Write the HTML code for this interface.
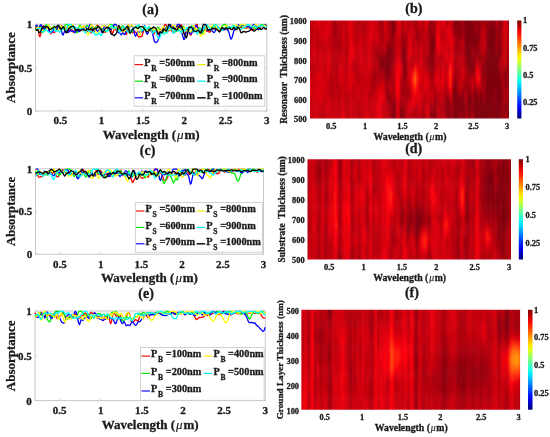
<!DOCTYPE html>
<html><head><meta charset="utf-8"><style>
html,body{margin:0;padding:0;background:#fff;}
svg{display:block;filter:blur(0.35px);}
text{font-family:'Liberation Serif', 'Times New Roman', serif;font-weight:bold;fill:#1a1a1a;stroke:#1a1a1a;stroke-width:0.3px;}
</style></head><body>
<svg width="550" height="437" viewBox="0 0 550 437">
<rect width="550" height="437" fill="#fff"/>
<rect x="35.5" y="24.2" width="231.3" height="86.8" fill="#fff" stroke="#c8c8c8" stroke-width="1"/>
<line x1="60.28" y1="111.0" x2="60.28" y2="109.0" stroke="#c8c8c8" stroke-width="0.8"/>
<line x1="60.28" y1="24.2" x2="60.28" y2="26.2" stroke="#c8c8c8" stroke-width="0.8"/>
<line x1="101.59" y1="111.0" x2="101.59" y2="109.0" stroke="#c8c8c8" stroke-width="0.8"/>
<line x1="101.59" y1="24.2" x2="101.59" y2="26.2" stroke="#c8c8c8" stroke-width="0.8"/>
<line x1="142.89" y1="111.0" x2="142.89" y2="109.0" stroke="#c8c8c8" stroke-width="0.8"/>
<line x1="142.89" y1="24.2" x2="142.89" y2="26.2" stroke="#c8c8c8" stroke-width="0.8"/>
<line x1="184.19" y1="111.0" x2="184.19" y2="109.0" stroke="#c8c8c8" stroke-width="0.8"/>
<line x1="184.19" y1="24.2" x2="184.19" y2="26.2" stroke="#c8c8c8" stroke-width="0.8"/>
<line x1="225.50" y1="111.0" x2="225.50" y2="109.0" stroke="#c8c8c8" stroke-width="0.8"/>
<line x1="225.50" y1="24.2" x2="225.50" y2="26.2" stroke="#c8c8c8" stroke-width="0.8"/>
<line x1="266.80" y1="111.0" x2="266.80" y2="109.0" stroke="#c8c8c8" stroke-width="0.8"/>
<line x1="266.80" y1="24.2" x2="266.80" y2="26.2" stroke="#c8c8c8" stroke-width="0.8"/>
<line x1="35.5" y1="111.00" x2="37.5" y2="111.00" stroke="#c8c8c8" stroke-width="0.8"/>
<line x1="266.8" y1="111.00" x2="264.8" y2="111.00" stroke="#c8c8c8" stroke-width="0.8"/>
<line x1="35.5" y1="67.60" x2="37.5" y2="67.60" stroke="#c8c8c8" stroke-width="0.8"/>
<line x1="266.8" y1="67.60" x2="264.8" y2="67.60" stroke="#c8c8c8" stroke-width="0.8"/>
<line x1="35.5" y1="24.20" x2="37.5" y2="24.20" stroke="#c8c8c8" stroke-width="0.8"/>
<line x1="266.8" y1="24.20" x2="264.8" y2="24.20" stroke="#c8c8c8" stroke-width="0.8"/>
<polyline points="35.5,29.1 36.4,27.1 37.3,25.8 38.2,29.3 39.1,35.5 40.0,36.8 40.9,33.4 41.8,30.3 42.6,28.0 43.5,25.8 44.4,26.1 45.3,29.0 46.2,28.8 47.1,26.1 48.0,26.2 48.9,29.1 49.8,32.6 50.7,33.9 51.6,32.1 52.5,31.4 53.4,32.5 54.3,32.5 55.1,31.7 56.0,31.3 56.9,30.1 57.8,29.0 58.7,28.9 59.6,28.3 60.5,26.5 61.4,25.7 62.3,27.2 63.2,28.6 64.1,28.3 65.0,28.0 65.9,28.2 66.8,28.5 67.6,28.3 68.5,29.6 69.4,31.5 70.3,30.9 71.2,29.5 72.1,30.0 73.0,31.9 73.9,32.3 74.8,30.7 75.7,29.2 76.6,28.2 77.5,29.0 78.4,30.2 79.3,28.4 80.2,26.8 81.0,28.2 81.9,29.0 82.8,27.4 83.7,26.1 84.6,27.0 85.5,30.1 86.4,32.3 87.3,31.4 88.2,29.2 89.1,28.1 90.0,30.0 90.9,33.0 91.8,32.0 92.7,28.3 93.5,27.2 94.4,28.4 95.3,28.2 96.2,26.7 97.1,25.4 98.0,25.3 98.9,26.6 99.8,28.0 100.7,28.5 101.6,30.0 102.5,32.5 103.4,32.5 104.3,32.0 105.2,32.3 106.1,31.7 106.9,30.8 107.8,30.0 108.7,29.6 109.6,28.7 110.5,28.3 111.4,30.6 112.3,33.4 113.2,32.3 114.1,28.9 115.0,28.7 115.9,30.0 116.8,29.7 117.7,28.3 118.6,27.4 119.4,28.1 120.3,29.6 121.2,30.4 122.1,30.4 123.0,29.6 123.9,27.6 124.8,28.6 125.7,33.5 126.6,34.5 127.5,28.9 128.4,25.9 129.3,29.5 130.2,32.3 131.1,32.0 131.9,32.4 132.8,32.8 133.7,32.0 134.6,31.4 135.5,32.0 136.4,33.1 137.3,34.8 138.2,36.5 139.1,37.1 140.0,36.9 140.9,36.6 141.8,36.3 142.7,33.8 143.6,30.1 144.5,29.1 145.3,29.4 146.2,29.7 147.1,30.4 148.0,30.1 148.9,29.4 149.8,30.1 150.7,30.9 151.6,30.9 152.5,32.4 153.4,34.2 154.3,33.6 155.2,30.6 156.1,29.0 157.0,31.0 157.8,33.7 158.7,34.5 159.6,31.8 160.5,29.3 161.4,29.9 162.3,30.5 163.2,28.9 164.1,26.3 165.0,24.5 165.9,24.5 166.8,27.0 167.7,30.2 168.6,30.9 169.5,30.3 170.4,29.8 171.2,30.2 172.1,31.6 173.0,32.4 173.9,31.7 174.8,32.0 175.7,31.5 176.6,28.2 177.5,25.7 178.4,26.6 179.3,28.2 180.2,26.8 181.1,24.5 182.0,26.0 182.9,31.1 183.7,33.3 184.6,33.5 185.5,33.5 186.4,31.9 187.3,29.2 188.2,27.5 189.1,30.1 190.0,34.6 190.9,35.2 191.8,32.8 192.7,29.4 193.6,28.0 194.5,28.7 195.4,27.8 196.2,24.5 197.1,24.5 198.0,28.2 198.9,30.7 199.8,31.6 200.7,31.9 201.6,30.5 202.5,28.9 203.4,29.8 204.3,30.3 205.2,30.1 206.1,30.6 207.0,31.2 207.9,31.4 208.8,31.8 209.6,32.2 210.5,31.6 211.4,30.5 212.3,29.7 213.2,29.0 214.1,28.2 215.0,27.8 215.9,28.4 216.8,29.5 217.7,30.3 218.6,30.8 219.5,30.4 220.4,29.8 221.3,29.9 222.1,29.3 223.0,27.8 223.9,27.6 224.8,29.1 225.7,29.8 226.6,28.7 227.5,28.1 228.4,28.4 229.3,28.3 230.2,28.8 231.1,29.1 232.0,28.4 232.9,27.8 233.8,28.0 234.7,27.8 235.5,27.0 236.4,28.0 237.3,28.8 238.2,28.0 239.1,27.2 240.0,27.2 240.9,27.3 241.8,27.3 242.7,27.4 243.6,27.4 244.5,27.4 245.4,28.0 246.3,28.3 247.2,27.5 248.0,27.0 248.9,27.6 249.8,28.2 250.7,28.8 251.6,30.0 252.5,30.1 253.4,29.5 254.3,29.0 255.2,28.0 256.1,26.8 257.0,26.8 257.9,27.9 258.8,28.6 259.7,28.6 260.5,27.5 261.4,25.6 262.3,26.1 263.2,27.0 264.1,26.9 265.0,27.7 265.9,28.3 266.8,26.9" fill="none" stroke="#ff0000" stroke-width="1.3" stroke-linejoin="round"/>
<polyline points="35.5,27.0 36.4,26.4 37.3,26.6 38.2,27.3 39.1,27.4 40.0,25.8 40.9,26.2 41.8,30.1 42.6,32.7 43.5,31.3 44.4,28.0 45.3,25.8 46.2,24.9 47.1,25.1 48.0,26.0 48.9,26.7 49.8,27.0 50.7,27.7 51.6,28.9 52.5,28.5 53.4,26.4 54.3,25.9 55.1,28.2 56.0,29.9 56.9,28.8 57.8,27.0 58.7,26.4 59.6,27.1 60.5,27.8 61.4,26.8 62.3,26.8 63.2,28.0 64.1,27.2 65.0,25.5 65.9,24.5 66.8,24.5 67.6,24.5 68.5,25.0 69.4,27.7 70.3,28.4 71.2,27.8 72.1,27.7 73.0,27.9 73.9,27.8 74.8,28.5 75.7,31.0 76.6,33.1 77.5,32.0 78.4,28.3 79.3,25.6 80.2,25.2 81.0,26.7 81.9,28.0 82.8,28.1 83.7,29.0 84.6,30.0 85.5,28.4 86.4,25.7 87.3,25.3 88.2,26.6 89.1,28.0 90.0,28.0 90.9,27.4 91.8,28.0 92.7,29.1 93.5,29.5 94.4,28.9 95.3,27.4 96.2,26.5 97.1,26.5 98.0,26.6 98.9,27.5 99.8,28.6 100.7,29.2 101.6,29.0 102.5,28.8 103.4,29.4 104.3,30.3 105.2,31.0 106.1,31.7 106.9,31.5 107.8,29.5 108.7,26.8 109.6,24.8 110.5,24.5 111.4,24.5 112.3,24.7 113.2,26.0 114.1,26.3 115.0,27.2 115.9,28.1 116.8,29.1 117.7,30.1 118.6,30.3 119.4,29.2 120.3,28.6 121.2,27.8 122.1,25.9 123.0,25.9 123.9,27.8 124.8,29.3 125.7,29.1 126.6,28.0 127.5,27.0 128.4,27.5 129.3,29.3 130.2,30.8 131.1,31.7 131.9,32.1 132.8,31.0 133.7,28.8 134.6,26.8 135.5,26.7 136.4,28.0 137.3,28.2 138.2,27.0 139.1,25.9 140.0,26.7 140.9,28.8 141.8,30.6 142.7,30.9 143.6,30.1 144.5,29.7 145.3,30.2 146.2,30.7 147.1,29.9 148.0,28.4 148.9,27.1 149.8,27.2 150.7,28.4 151.6,29.9 152.5,30.5 153.4,30.8 154.3,30.6 155.2,29.9 156.1,29.1 157.0,27.9 157.8,27.0 158.7,27.6 159.6,29.9 160.5,31.9 161.4,32.4 162.3,32.5 163.2,32.1 164.1,30.4 165.0,29.2 165.9,28.3 166.8,27.1 167.7,27.1 168.6,28.6 169.5,29.7 170.4,29.3 171.2,29.0 172.1,28.8 173.0,28.2 173.9,29.4 174.8,31.4 175.7,31.6 176.6,30.0 177.5,28.1 178.4,28.3 179.3,30.5 180.2,31.1 181.1,29.8 182.0,27.8 182.9,26.2 183.7,26.5 184.6,28.2 185.5,30.1 186.4,31.0 187.3,29.6 188.2,28.3 189.1,28.8 190.0,28.8 190.9,26.8 191.8,25.6 192.7,27.3 193.6,29.0 194.5,29.5 195.4,30.4 196.2,30.1 197.1,29.1 198.0,28.5 198.9,28.1 199.8,27.8 200.7,29.7 201.6,32.9 202.5,33.4 203.4,30.5 204.3,27.9 205.2,28.0 206.1,29.2 207.0,29.6 207.9,29.4 208.8,29.6 209.6,30.2 210.5,29.7 211.4,27.8 212.3,26.8 213.2,26.5 214.1,25.3 215.0,26.0 215.9,28.3 216.8,29.0 217.7,27.7 218.6,27.2 219.5,28.2 220.4,28.4 221.3,27.4 222.1,26.6 223.0,25.0 223.9,24.5 224.8,24.5 225.7,24.5 226.6,25.8 227.5,27.2 228.4,28.2 229.3,28.3 230.2,28.4 231.1,28.9 232.0,28.4 232.9,26.9 233.8,26.0 234.7,25.7 235.5,26.1 236.4,27.6 237.3,28.9 238.2,28.9 239.1,27.4 240.0,26.1 240.9,25.8 241.8,26.4 242.7,27.4 243.6,27.9 244.5,27.8 245.4,26.6 246.3,25.0 247.2,25.1 248.0,26.5 248.9,27.4 249.8,27.6 250.7,27.6 251.6,27.5 252.5,27.7 253.4,27.9 254.3,28.0 255.2,28.4 256.1,28.9 257.0,29.2 257.9,28.6 258.8,27.7 259.7,26.6 260.5,25.2 261.4,24.5 262.3,24.5 263.2,25.1 264.1,25.4 265.0,25.2 265.9,24.8 266.8,25.3" fill="none" stroke="#00ee00" stroke-width="1.3" stroke-linejoin="round"/>
<polyline points="35.5,26.3 36.4,25.1 37.3,26.2 38.2,28.2 39.1,27.9 40.0,25.5 40.9,24.6 41.8,26.4 42.6,27.7 43.5,28.1 44.4,29.1 45.3,28.5 46.2,26.7 47.1,26.2 48.0,27.5 48.9,30.2 49.8,32.2 50.7,31.7 51.6,32.1 52.5,32.1 53.4,29.8 54.3,28.5 55.1,29.8 56.0,30.8 56.9,29.5 57.8,27.0 58.7,25.2 59.6,25.7 60.5,27.8 61.4,30.7 62.3,34.2 63.2,35.1 64.1,32.4 65.0,30.1 65.9,30.1 66.8,31.0 67.6,32.1 68.5,32.4 69.4,30.3 70.3,29.7 71.2,31.2 72.1,31.4 73.0,30.7 73.9,31.3 74.8,32.7 75.7,31.4 76.6,28.4 77.5,28.8 78.4,31.6 79.3,31.5 80.2,29.5 81.0,28.0 81.9,27.6 82.8,28.9 83.7,29.6 84.6,28.7 85.5,27.3 86.4,28.2 87.3,30.3 88.2,29.8 89.1,26.3 90.0,24.5 90.9,24.5 91.8,24.9 92.7,27.2 93.5,30.1 94.4,31.3 95.3,30.1 96.2,29.3 97.1,30.8 98.0,31.4 98.9,30.0 99.8,28.6 100.7,29.5 101.6,32.3 102.5,32.8 103.4,29.4 104.3,26.0 105.2,25.6 106.1,27.2 106.9,28.4 107.8,28.5 108.7,28.2 109.6,28.4 110.5,29.2 111.4,29.2 112.3,28.3 113.2,26.7 114.1,24.5 115.0,24.5 115.9,24.5 116.8,26.0 117.7,31.1 118.6,32.7 119.4,32.5 120.3,33.8 121.2,34.9 122.1,33.2 123.0,32.4 123.9,34.2 124.8,34.6 125.7,32.6 126.6,29.3 127.5,25.9 128.4,24.6 129.3,25.9 130.2,26.8 131.1,26.2 131.9,25.4 132.8,26.4 133.7,29.9 134.6,34.2 135.5,36.2 136.4,34.8 137.3,32.0 138.2,31.2 139.1,32.1 140.0,32.1 140.9,31.6 141.8,32.1 142.7,31.0 143.6,27.4 144.5,25.5 145.3,28.3 146.2,32.3 147.1,34.3 148.0,33.2 148.9,30.0 149.8,28.4 150.7,29.1 151.6,30.7 152.5,33.1 153.4,37.1 154.3,41.1 155.2,42.5 156.1,42.4 157.0,42.2 157.8,41.0 158.7,38.4 159.6,34.6 160.5,31.6 161.4,30.6 162.3,29.5 163.2,27.4 164.1,26.3 165.0,27.8 165.9,30.5 166.8,30.7 167.7,29.8 168.6,28.5 169.5,26.4 170.4,25.2 171.2,25.4 172.1,25.8 173.0,26.5 173.9,28.1 174.8,29.0 175.7,28.4 176.6,26.7 177.5,24.5 178.4,24.5 179.3,24.5 180.2,27.6 181.1,31.0 182.0,33.4 182.9,36.5 183.7,39.5 184.6,39.1 185.5,35.2 186.4,31.3 187.3,29.7 188.2,29.8 189.1,31.6 190.0,33.5 190.9,34.0 191.8,32.8 192.7,30.0 193.6,27.6 194.5,26.8 195.4,25.9 196.2,25.4 197.1,26.9 198.0,29.4 198.9,31.8 199.8,32.9 200.7,32.5 201.6,31.9 202.5,30.0 203.4,28.1 204.3,27.6 205.2,29.0 206.1,30.2 207.0,30.2 207.9,30.1 208.8,29.8 209.6,29.4 210.5,29.5 211.4,30.2 212.3,31.0 213.2,32.0 214.1,32.6 215.0,31.6 215.9,29.4 216.8,27.1 217.7,27.3 218.6,29.2 219.5,29.4 220.4,29.1 221.3,28.9 222.1,28.6 223.0,29.4 223.9,30.1 224.8,29.3 225.7,28.5 226.6,28.9 227.5,30.0 228.4,31.1 229.3,33.7 230.2,37.4 231.1,39.1 232.0,37.9 232.9,34.5 233.8,30.8 234.7,29.4 235.5,29.6 236.4,28.7 237.3,26.4 238.2,24.8 239.1,25.4 240.0,26.1 240.9,25.9 241.8,25.0 242.7,24.6 243.6,25.3 244.5,25.8 245.4,26.1 246.3,26.5 247.2,26.5 248.0,25.8 248.9,26.2 249.8,27.5 250.7,28.4 251.6,27.8 252.5,26.1 253.4,24.7 254.3,24.5 255.2,24.7 256.1,26.2 257.0,28.0 257.9,29.3 258.8,29.7 259.7,29.0 260.5,27.0 261.4,25.6 262.3,25.8 263.2,25.9 264.1,24.8 265.0,24.5 265.9,25.5 266.8,26.5" fill="none" stroke="#0000ff" stroke-width="1.3" stroke-linejoin="round"/>
<polyline points="35.5,31.0 36.4,29.9 37.3,28.2 38.2,27.0 39.1,27.7 40.0,29.9 40.9,30.6 41.8,30.0 42.6,30.4 43.5,31.6 44.4,31.1 45.3,30.2 46.2,29.4 47.1,27.5 48.0,25.7 48.9,25.2 49.8,26.6 50.7,29.3 51.6,30.2 52.5,28.5 53.4,26.6 54.3,26.9 55.1,29.1 56.0,30.8 56.9,31.1 57.8,30.5 58.7,29.0 59.6,26.7 60.5,25.5 61.4,26.9 62.3,28.3 63.2,28.9 64.1,29.7 65.0,29.5 65.9,28.3 66.8,28.0 67.6,28.0 68.5,27.3 69.4,27.0 70.3,26.6 71.2,25.4 72.1,24.7 73.0,25.0 73.9,26.3 74.8,27.5 75.7,28.3 76.6,28.4 77.5,28.3 78.4,29.1 79.3,28.5 80.2,26.7 81.0,27.2 81.9,27.6 82.8,26.3 83.7,26.0 84.6,27.2 85.5,29.3 86.4,31.7 87.3,34.0 88.2,34.6 89.1,32.3 90.0,28.4 90.9,24.8 91.8,24.5 92.7,25.9 93.5,27.5 94.4,29.0 95.3,31.0 96.2,33.0 97.1,33.7 98.0,33.0 98.9,31.8 99.8,30.2 100.7,28.3 101.6,26.5 102.5,26.1 103.4,25.8 104.3,25.4 105.2,26.0 106.1,27.4 106.9,28.0 107.8,27.1 108.7,25.6 109.6,25.2 110.5,25.8 111.4,26.8 112.3,28.1 113.2,29.1 114.1,28.9 115.0,27.5 115.9,26.9 116.8,27.1 117.7,27.3 118.6,27.8 119.4,27.6 120.3,27.2 121.2,28.6 122.1,30.6 123.0,31.8 123.9,31.8 124.8,30.7 125.7,30.3 126.6,28.7 127.5,25.6 128.4,24.7 129.3,26.2 130.2,26.3 131.1,25.0 131.9,25.0 132.8,26.5 133.7,27.0 134.6,26.3 135.5,26.3 136.4,26.9 137.3,28.9 138.2,32.1 139.1,34.9 140.0,35.1 140.9,31.9 141.8,29.1 142.7,28.2 143.6,27.0 144.5,26.6 145.3,28.0 146.2,29.3 147.1,30.3 148.0,31.1 148.9,30.7 149.8,29.2 150.7,27.8 151.6,28.0 152.5,28.9 153.4,29.5 154.3,30.1 155.2,29.9 156.1,29.2 157.0,29.2 157.8,29.4 158.7,29.9 159.6,30.9 160.5,31.0 161.4,29.5 162.3,27.7 163.2,26.5 164.1,26.7 165.0,30.3 165.9,33.6 166.8,31.5 167.7,28.2 168.6,28.5 169.5,30.1 170.4,29.5 171.2,26.9 172.1,25.5 173.0,25.7 173.9,25.6 174.8,25.6 175.7,27.3 176.6,29.2 177.5,29.0 178.4,28.5 179.3,28.4 180.2,29.0 181.1,31.3 182.0,32.1 182.9,28.9 183.7,27.1 184.6,28.4 185.5,29.9 186.4,30.8 187.3,31.2 188.2,30.7 189.1,30.6 190.0,31.5 190.9,31.8 191.8,30.0 192.7,26.9 193.6,25.6 194.5,27.1 195.4,29.5 196.2,30.1 197.1,29.0 198.0,29.6 198.9,32.2 199.8,34.5 200.7,36.1 201.6,35.3 202.5,34.3 203.4,34.7 204.3,33.6 205.2,30.5 206.1,28.2 207.0,27.5 207.9,27.1 208.8,26.7 209.6,26.1 210.5,26.3 211.4,26.6 212.3,26.1 213.2,24.7 214.1,24.5 215.0,24.5 215.9,25.2 216.8,28.1 217.7,29.7 218.6,29.5 219.5,28.4 220.4,27.7 221.3,27.3 222.1,27.2 223.0,27.7 223.9,28.6 224.8,27.9 225.7,26.1 226.6,25.5 227.5,25.8 228.4,26.2 229.3,27.2 230.2,28.3 231.1,28.3 232.0,27.0 232.9,25.6 233.8,25.0 234.7,25.1 235.5,25.5 236.4,25.5 237.3,25.4 238.2,26.0 239.1,26.4 240.0,25.9 240.9,24.7 241.8,24.5 242.7,24.5 243.6,24.5 244.5,25.2 245.4,25.8 246.3,25.6 247.2,24.7 248.0,24.5 248.9,24.8 249.8,25.7 250.7,25.8 251.6,26.0 252.5,26.7 253.4,26.9 254.3,25.7 255.2,24.5 256.1,24.5 257.0,25.7 257.9,27.5 258.8,28.2 259.7,27.4 260.5,26.4 261.4,26.2 262.3,26.1 263.2,25.4 264.1,25.0 265.0,25.6 265.9,26.2 266.8,26.4" fill="none" stroke="#ffff00" stroke-width="1.3" stroke-linejoin="round"/>
<polyline points="35.5,30.0 36.4,28.8 37.3,28.8 38.2,28.8 39.1,28.1 40.0,28.8 40.9,31.0 41.8,31.8 42.6,31.7 43.5,31.6 44.4,31.3 45.3,30.3 46.2,29.7 47.1,30.6 48.0,31.6 48.9,32.3 49.8,32.8 50.7,32.4 51.6,31.0 52.5,29.2 53.4,27.6 54.3,28.6 55.1,30.9 56.0,31.4 56.9,30.8 57.8,30.4 58.7,31.2 59.6,32.3 60.5,31.3 61.4,29.2 62.3,28.5 63.2,29.1 64.1,29.7 65.0,30.6 65.9,30.7 66.8,28.8 67.6,25.6 68.5,24.5 69.4,24.5 70.3,24.5 71.2,24.7 72.1,26.4 73.0,28.0 73.9,27.6 74.8,26.8 75.7,27.5 76.6,28.1 77.5,27.9 78.4,27.9 79.3,28.6 80.2,28.7 81.0,28.5 81.9,28.9 82.8,29.3 83.7,29.9 84.6,31.8 85.5,33.1 86.4,31.6 87.3,29.6 88.2,30.0 89.1,31.6 90.0,31.7 90.9,31.3 91.8,32.1 92.7,32.5 93.5,32.5 94.4,33.7 95.3,34.7 96.2,35.2 97.1,35.1 98.0,33.8 98.9,32.6 99.8,33.9 100.7,35.7 101.6,35.2 102.5,32.6 103.4,30.3 104.3,29.6 105.2,30.2 106.1,31.0 106.9,31.2 107.8,30.6 108.7,29.7 109.6,28.7 110.5,26.8 111.4,25.4 112.3,27.1 113.2,28.4 114.1,27.4 115.0,27.6 115.9,28.7 116.8,28.5 117.7,29.2 118.6,30.9 119.4,32.0 120.3,31.4 121.2,29.3 122.1,27.8 123.0,27.5 123.9,26.8 124.8,26.9 125.7,29.0 126.6,30.4 127.5,31.5 128.4,32.7 129.3,32.4 130.2,30.7 131.1,29.7 131.9,29.7 132.8,28.9 133.7,27.7 134.6,27.0 135.5,26.7 136.4,26.5 137.3,25.6 138.2,24.9 139.1,26.0 140.0,27.7 140.9,29.2 141.8,30.6 142.7,30.0 143.6,27.9 144.5,26.2 145.3,26.5 146.2,28.8 147.1,29.3 148.0,27.1 148.9,26.9 149.8,28.3 150.7,28.8 151.6,30.8 152.5,33.3 153.4,33.1 154.3,31.1 155.2,30.5 156.1,32.8 157.0,35.4 157.8,37.2 158.7,38.6 159.6,38.3 160.5,35.5 161.4,32.7 162.3,32.4 163.2,33.8 164.1,34.0 165.0,32.9 165.9,32.8 166.8,33.1 167.7,31.2 168.6,27.8 169.5,27.3 170.4,28.5 171.2,28.3 172.1,29.7 173.0,32.9 173.9,33.3 174.8,31.2 175.7,29.8 176.6,30.3 177.5,31.4 178.4,31.0 179.3,29.9 180.2,30.8 181.1,32.9 182.0,31.6 182.9,29.1 183.7,29.9 184.6,31.0 185.5,29.8 186.4,27.9 187.3,27.3 188.2,28.6 189.1,29.8 190.0,28.9 190.9,27.0 191.8,26.6 192.7,29.4 193.6,32.3 194.5,31.7 195.4,30.3 196.2,32.1 197.1,34.3 198.0,33.1 198.9,30.2 199.8,29.0 200.7,29.3 201.6,28.7 202.5,28.6 203.4,29.2 204.3,27.8 205.2,24.8 206.1,24.5 207.0,24.8 207.9,26.0 208.8,26.8 209.6,28.2 210.5,29.6 211.4,30.0 212.3,28.8 213.2,26.3 214.1,24.5 215.0,24.7 215.9,24.9 216.8,25.3 217.7,26.4 218.6,28.1 219.5,29.4 220.4,29.0 221.3,29.1 222.1,30.4 223.0,29.7 223.9,28.0 224.8,28.0 225.7,28.7 226.6,28.6 227.5,27.7 228.4,26.7 229.3,26.7 230.2,27.5 231.1,27.7 232.0,26.7 232.9,25.6 233.8,25.5 234.7,26.3 235.5,27.8 236.4,28.8 237.3,28.3 238.2,27.3 239.1,27.7 240.0,29.0 240.9,29.4 241.8,28.6 242.7,28.0 243.6,27.8 244.5,27.4 245.4,26.6 246.3,25.7 247.2,24.8 248.0,24.5 248.9,24.5 249.8,25.2 250.7,26.4 251.6,26.8 252.5,26.6 253.4,26.4 254.3,25.9 255.2,26.3 256.1,27.8 257.0,28.2 257.9,26.9 258.8,26.1 259.7,26.5 260.5,26.4 261.4,25.3 262.3,25.3 263.2,26.4 264.1,27.1 265.0,27.2 265.9,27.4 266.8,27.7" fill="none" stroke="#00ffff" stroke-width="1.3" stroke-linejoin="round"/>
<polyline points="35.5,29.3 36.4,30.3 37.3,29.7 38.2,30.5 39.1,32.5 40.0,32.7 40.9,30.8 41.8,28.7 42.6,27.0 43.5,26.5 44.4,26.8 45.3,26.8 46.2,26.6 47.1,26.8 48.0,27.3 48.9,28.7 49.8,29.7 50.7,29.4 51.6,28.5 52.5,28.4 53.4,27.7 54.3,26.6 55.1,27.2 56.0,27.6 56.9,26.2 57.8,25.3 58.7,26.1 59.6,27.3 60.5,28.9 61.4,29.4 62.3,27.8 63.2,26.8 64.1,28.2 65.0,30.5 65.9,32.7 66.8,32.8 67.6,30.7 68.5,28.8 69.4,28.2 70.3,27.3 71.2,26.5 72.1,26.3 73.0,26.1 73.9,26.7 74.8,28.6 75.7,30.0 76.6,30.6 77.5,29.6 78.4,29.2 79.3,30.3 80.2,30.9 81.0,30.4 81.9,29.8 82.8,29.7 83.7,29.8 84.6,29.8 85.5,30.3 86.4,30.1 87.3,28.9 88.2,28.7 89.1,29.8 90.0,29.4 90.9,28.6 91.8,29.8 92.7,30.6 93.5,29.6 94.4,28.5 95.3,28.4 96.2,28.8 97.1,28.0 98.0,26.7 98.9,26.9 99.8,27.8 100.7,28.5 101.6,30.6 102.5,32.5 103.4,31.8 104.3,30.1 105.2,28.7 106.1,27.7 106.9,27.2 107.8,27.4 108.7,27.5 109.6,28.9 110.5,32.5 111.4,34.4 112.3,34.2 113.2,35.0 114.1,35.7 115.0,34.8 115.9,34.1 116.8,32.7 117.7,28.8 118.6,25.7 119.4,26.1 120.3,28.4 121.2,30.2 122.1,30.9 123.0,30.6 123.9,30.1 124.8,29.3 125.7,28.2 126.6,26.8 127.5,26.3 128.4,28.5 129.3,32.2 130.2,33.3 131.1,31.7 131.9,30.1 132.8,29.0 133.7,28.3 134.6,27.7 135.5,27.2 136.4,27.4 137.3,28.4 138.2,28.5 139.1,27.3 140.0,26.7 140.9,26.7 141.8,26.6 142.7,26.9 143.6,27.9 144.5,29.0 145.3,30.2 146.2,31.4 147.1,31.7 148.0,31.2 148.9,30.7 149.8,29.4 150.7,28.2 151.6,28.8 152.5,28.3 153.4,26.9 154.3,27.4 155.2,28.0 156.1,28.8 157.0,31.2 157.8,33.7 158.7,33.8 159.6,32.1 160.5,32.0 161.4,32.9 162.3,32.2 163.2,30.4 164.1,29.2 165.0,29.8 165.9,31.1 166.8,30.7 167.7,28.1 168.6,24.5 169.5,24.5 170.4,25.3 171.2,27.5 172.1,28.1 173.0,28.1 173.9,27.9 174.8,28.4 175.7,29.6 176.6,30.1 177.5,29.0 178.4,27.5 179.3,26.5 180.2,25.7 181.1,26.1 182.0,27.3 182.9,29.4 183.7,32.6 184.6,35.0 185.5,36.8 186.4,37.9 187.3,35.3 188.2,30.4 189.1,27.2 190.0,26.8 190.9,27.1 191.8,27.5 192.7,29.2 193.6,30.9 194.5,31.2 195.4,31.4 196.2,31.6 197.1,30.9 198.0,30.2 198.9,30.8 199.8,32.5 200.7,33.2 201.6,31.1 202.5,27.2 203.4,24.5 204.3,24.5 205.2,24.5 206.1,25.2 207.0,27.7 207.9,29.7 208.8,30.0 209.6,29.8 210.5,30.0 211.4,29.2 212.3,27.9 213.2,28.3 214.1,29.1 215.0,28.8 215.9,28.9 216.8,29.6 217.7,30.1 218.6,31.2 219.5,32.0 220.4,30.8 221.3,28.5 222.1,27.5 223.0,28.1 223.9,29.0 224.8,28.9 225.7,28.0 226.6,28.0 227.5,28.8 228.4,28.8 229.3,28.0 230.2,28.2 231.1,29.2 232.0,29.7 232.9,28.9 233.8,27.7 234.7,28.0 235.5,29.5 236.4,29.7 237.3,28.1 238.2,27.1 239.1,27.9 240.0,30.2 240.9,32.6 241.8,32.9 242.7,31.9 243.6,31.4 244.5,31.6 245.4,32.1 246.3,32.0 247.2,31.6 248.0,31.4 248.9,31.1 249.8,30.5 250.7,29.6 251.6,28.8 252.5,29.3 253.4,30.8 254.3,31.2 255.2,30.5 256.1,29.8 257.0,29.3 257.9,28.3 258.8,27.7 259.7,28.2 260.5,29.1 261.4,29.5 262.3,28.9 263.2,27.9 264.1,27.8 265.0,28.9 265.9,29.2 266.8,28.3" fill="none" stroke="#000000" stroke-width="1.3" stroke-linejoin="round"/>
<rect x="134" y="55.8" width="130.8" height="50.4" fill="#fff" stroke="#c8c8c8" stroke-width="0.8"/>
<line x1="134.6" y1="64.6" x2="143.1" y2="64.6" stroke="#f01010" stroke-width="1.2"/>
<text x="144.2" y="65.8" font-size="10.3">P</text>
<text x="151.2" y="70.89999999999999" font-size="7.6">R</text>
<text x="159.29" y="65.8" font-size="10.3">=500nm</text>
<line x1="134.6" y1="81.2" x2="143.1" y2="81.2" stroke="#10e010" stroke-width="1.2"/>
<text x="144.2" y="82.4" font-size="10.3">P</text>
<text x="151.2" y="87.5" font-size="7.6">R</text>
<text x="159.29" y="82.4" font-size="10.3">=600nm</text>
<line x1="134.6" y1="97.8" x2="143.1" y2="97.8" stroke="#1010f0" stroke-width="1.2"/>
<text x="144.2" y="99.0" font-size="10.3">P</text>
<text x="151.2" y="104.1" font-size="7.6">R</text>
<text x="159.29" y="99.0" font-size="10.3">=700nm</text>
<line x1="197.2" y1="64.6" x2="205.7" y2="64.6" stroke="#f0f000" stroke-width="1.2"/>
<text x="206.79999999999998" y="65.8" font-size="10.3">P</text>
<text x="213.79999999999998" y="70.89999999999999" font-size="7.6">R</text>
<text x="221.89" y="65.8" font-size="10.3">=800nm</text>
<line x1="197.2" y1="81.2" x2="205.7" y2="81.2" stroke="#00f0f0" stroke-width="1.2"/>
<text x="206.79999999999998" y="82.4" font-size="10.3">P</text>
<text x="213.79999999999998" y="87.5" font-size="7.6">R</text>
<text x="221.89" y="82.4" font-size="10.3">=900nm</text>
<line x1="197.2" y1="97.8" x2="205.7" y2="97.8" stroke="#202020" stroke-width="1.6"/>
<text x="206.79999999999998" y="99.0" font-size="10.3">P</text>
<text x="213.79999999999998" y="104.1" font-size="7.6">R</text>
<text x="221.89" y="99.0" font-size="10.3">=1000nm</text>
<text x="60.28" y="124.30" text-anchor="middle" font-size="11">0.5</text>
<text x="101.59" y="124.30" text-anchor="middle" font-size="11">1</text>
<text x="142.89" y="124.30" text-anchor="middle" font-size="11">1.5</text>
<text x="184.19" y="124.30" text-anchor="middle" font-size="11">2</text>
<text x="225.50" y="124.30" text-anchor="middle" font-size="11">2.5</text>
<text x="266.80" y="124.30" text-anchor="middle" font-size="11">3</text>
<text x="32.30" y="114.90" text-anchor="end" font-size="11">0</text>
<text x="32.30" y="71.50" text-anchor="end" font-size="11">0.5</text>
<text x="32.30" y="28.10" text-anchor="end" font-size="11">1</text>
<text x="151.15" y="138.90" text-anchor="middle" font-size="13">Wavelength (<tspan font-style="italic" font-weight="normal" style="stroke-width:0.15px" dx="1">μ</tspan><tspan dx="0.8">m)</tspan></text>
<text transform="translate(14.6,67.60) rotate(-90)" text-anchor="middle" font-size="13">Absorptance</text>
<text x="150.4" y="13.5" text-anchor="middle" font-size="14">(a)</text>
<rect x="35.5" y="168.8" width="228.0" height="85.39999999999998" fill="#fff" stroke="#c8c8c8" stroke-width="1"/>
<line x1="59.93" y1="254.2" x2="59.93" y2="252.2" stroke="#c8c8c8" stroke-width="0.8"/>
<line x1="59.93" y1="168.8" x2="59.93" y2="170.8" stroke="#c8c8c8" stroke-width="0.8"/>
<line x1="100.64" y1="254.2" x2="100.64" y2="252.2" stroke="#c8c8c8" stroke-width="0.8"/>
<line x1="100.64" y1="168.8" x2="100.64" y2="170.8" stroke="#c8c8c8" stroke-width="0.8"/>
<line x1="141.36" y1="254.2" x2="141.36" y2="252.2" stroke="#c8c8c8" stroke-width="0.8"/>
<line x1="141.36" y1="168.8" x2="141.36" y2="170.8" stroke="#c8c8c8" stroke-width="0.8"/>
<line x1="182.07" y1="254.2" x2="182.07" y2="252.2" stroke="#c8c8c8" stroke-width="0.8"/>
<line x1="182.07" y1="168.8" x2="182.07" y2="170.8" stroke="#c8c8c8" stroke-width="0.8"/>
<line x1="222.79" y1="254.2" x2="222.79" y2="252.2" stroke="#c8c8c8" stroke-width="0.8"/>
<line x1="222.79" y1="168.8" x2="222.79" y2="170.8" stroke="#c8c8c8" stroke-width="0.8"/>
<line x1="263.50" y1="254.2" x2="263.50" y2="252.2" stroke="#c8c8c8" stroke-width="0.8"/>
<line x1="263.50" y1="168.8" x2="263.50" y2="170.8" stroke="#c8c8c8" stroke-width="0.8"/>
<line x1="35.5" y1="254.20" x2="37.5" y2="254.20" stroke="#c8c8c8" stroke-width="0.8"/>
<line x1="263.5" y1="254.20" x2="261.5" y2="254.20" stroke="#c8c8c8" stroke-width="0.8"/>
<line x1="35.5" y1="211.50" x2="37.5" y2="211.50" stroke="#c8c8c8" stroke-width="0.8"/>
<line x1="263.5" y1="211.50" x2="261.5" y2="211.50" stroke="#c8c8c8" stroke-width="0.8"/>
<line x1="35.5" y1="168.80" x2="37.5" y2="168.80" stroke="#c8c8c8" stroke-width="0.8"/>
<line x1="263.5" y1="168.80" x2="261.5" y2="168.80" stroke="#c8c8c8" stroke-width="0.8"/>
<polyline points="35.5,174.8 36.4,175.6 37.3,175.1 38.1,176.0 39.0,177.3 39.9,177.0 40.8,176.5 41.7,176.9 42.5,176.2 43.4,173.8 44.3,172.3 45.2,172.9 46.1,173.3 46.9,172.3 47.8,171.7 48.7,171.6 49.6,171.1 50.5,171.2 51.3,172.7 52.2,173.6 53.1,172.7 54.0,171.7 54.9,172.5 55.7,174.7 56.6,176.3 57.5,177.0 58.4,176.5 59.3,174.5 60.1,172.9 61.0,172.0 61.9,170.4 62.8,169.8 63.7,170.2 64.6,170.9 65.4,172.1 66.3,173.3 67.2,173.1 68.1,173.6 69.0,174.8 69.8,174.3 70.7,173.0 71.6,172.6 72.5,173.1 73.4,173.4 74.2,173.5 75.1,173.7 76.0,173.1 76.9,172.7 77.8,172.7 78.6,172.3 79.5,171.4 80.4,171.3 81.3,171.6 82.2,170.6 83.0,169.4 83.9,170.5 84.8,172.5 85.7,172.6 86.6,172.5 87.4,173.6 88.3,174.0 89.2,173.6 90.1,173.5 91.0,172.7 91.8,173.0 92.7,175.2 93.6,176.4 94.5,175.5 95.4,172.6 96.2,169.9 97.1,170.8 98.0,174.2 98.9,174.5 99.8,171.9 100.6,170.5 101.5,171.9 102.4,173.6 103.3,173.9 104.2,174.1 105.0,174.7 105.9,174.6 106.8,173.7 107.7,173.4 108.6,174.2 109.4,175.6 110.3,176.3 111.2,174.9 112.1,173.5 113.0,174.2 113.8,174.4 114.7,172.2 115.6,170.1 116.5,170.0 117.4,172.4 118.2,175.0 119.1,174.6 120.0,171.3 120.9,170.3 121.8,173.0 122.7,175.0 123.5,175.3 124.4,175.9 125.3,176.2 126.2,175.6 127.1,174.4 127.9,173.8 128.8,174.2 129.7,175.4 130.6,177.2 131.5,179.9 132.3,182.4 133.2,182.1 134.1,179.8 135.0,178.4 135.9,177.0 136.7,175.3 137.6,173.9 138.5,173.6 139.4,174.4 140.3,176.2 141.1,177.7 142.0,178.2 142.9,178.1 143.8,177.9 144.7,176.7 145.5,175.3 146.4,175.0 147.3,176.3 148.2,177.2 149.1,175.5 149.9,172.9 150.8,171.6 151.7,172.4 152.6,173.9 153.5,172.9 154.3,170.0 155.2,169.1 156.1,169.1 157.0,169.1 157.9,171.7 158.7,172.8 159.6,172.6 160.5,172.7 161.4,173.7 162.3,175.4 163.1,178.0 164.0,180.2 164.9,180.7 165.8,180.1 166.7,179.1 167.5,177.5 168.4,175.4 169.3,173.8 170.2,173.3 171.1,173.4 171.9,173.8 172.8,174.3 173.7,174.3 174.6,173.7 175.5,172.8 176.3,172.4 177.2,172.9 178.1,173.6 179.0,173.6 179.9,174.2 180.8,174.8 181.6,174.4 182.5,173.9 183.4,173.7 184.3,174.6 185.2,175.1 186.0,173.7 186.9,171.9 187.8,172.5 188.7,174.0 189.6,174.4 190.4,173.5 191.3,172.5 192.2,172.6 193.1,172.4 194.0,172.5 194.8,172.9 195.7,171.8 196.6,170.4 197.5,170.1 198.4,170.2 199.2,170.2 200.1,170.6 201.0,171.1 201.9,171.3 202.8,171.6 203.6,171.9 204.5,172.0 205.4,172.5 206.3,172.4 207.2,170.7 208.0,169.2 208.9,169.5 209.8,170.6 210.7,171.2 211.6,171.6 212.4,172.0 213.3,172.8 214.2,173.5 215.1,173.3 216.0,173.1 216.8,173.6 217.7,174.0 218.6,173.7 219.5,172.2 220.4,170.2 221.2,169.2 222.1,169.5 223.0,170.3 223.9,171.5 224.8,172.2 225.6,171.6 226.5,170.9 227.4,170.8 228.3,170.7 229.2,171.0 230.0,172.0 230.9,172.4 231.8,172.0 232.7,171.3 233.6,170.5 234.4,169.5 235.3,169.2 236.2,169.7 237.1,169.7 238.0,169.3 238.9,169.3 239.7,169.6 240.6,169.8 241.5,169.2 242.4,169.1 243.3,169.3 244.1,170.0 245.0,169.8 245.9,169.5 246.8,169.9 247.7,170.2 248.5,170.3 249.4,170.7 250.3,170.8 251.2,170.9 252.1,170.8 252.9,170.3 253.8,170.4 254.7,170.9 255.6,171.1 256.5,171.6 257.3,172.2 258.2,171.7 259.1,170.6 260.0,170.1 260.9,170.1 261.7,170.2 262.6,170.1 263.5,169.9" fill="none" stroke="#ff0000" stroke-width="1.3" stroke-linejoin="round"/>
<polyline points="35.5,171.1 36.4,172.5 37.3,173.4 38.1,173.8 39.0,174.1 39.9,174.3 40.8,174.0 41.7,173.5 42.5,173.4 43.4,173.6 44.3,173.3 45.2,173.8 46.1,175.0 46.9,175.3 47.8,174.3 48.7,173.3 49.6,172.9 50.5,172.5 51.3,170.9 52.2,169.6 53.1,170.4 54.0,171.5 54.9,171.4 55.7,171.2 56.6,171.1 57.5,172.0 58.4,174.3 59.3,175.8 60.1,174.6 61.0,172.9 61.9,172.1 62.8,171.4 63.7,171.0 64.6,170.7 65.4,169.1 66.3,169.1 67.2,169.1 68.1,169.1 69.0,169.1 69.8,169.1 70.7,169.8 71.6,171.6 72.5,173.1 73.4,175.3 74.2,176.6 75.1,175.4 76.0,173.7 76.9,174.2 77.8,176.6 78.6,177.5 79.5,176.1 80.4,174.6 81.3,173.5 82.2,172.5 83.0,172.3 83.9,173.5 84.8,175.4 85.7,177.1 86.6,176.9 87.4,174.4 88.3,171.9 89.2,170.8 90.1,170.5 91.0,170.9 91.8,172.8 92.7,175.2 93.6,175.1 94.5,173.4 95.4,173.2 96.2,173.7 97.1,173.2 98.0,173.2 98.9,173.3 99.8,172.8 100.6,173.1 101.5,173.6 102.4,173.2 103.3,173.5 104.2,175.1 105.0,176.8 105.9,177.7 106.8,176.6 107.7,175.2 108.6,174.9 109.4,174.7 110.3,173.8 111.2,172.7 112.1,172.1 113.0,172.6 113.8,172.5 114.7,171.0 115.6,170.3 116.5,171.8 117.4,173.7 118.2,173.9 119.1,172.0 120.0,170.5 120.9,171.0 121.8,173.0 122.7,173.9 123.5,173.0 124.4,173.3 125.3,175.4 126.2,176.1 127.1,174.2 127.9,171.7 128.8,170.8 129.7,172.8 130.6,175.1 131.5,176.5 132.3,177.1 133.2,175.4 134.1,173.2 135.0,173.7 135.9,175.5 136.7,175.5 137.6,173.6 138.5,172.4 139.4,172.8 140.3,173.4 141.1,173.3 142.0,173.4 142.9,174.2 143.8,175.6 144.7,177.6 145.5,177.7 146.4,176.2 147.3,175.3 148.2,174.7 149.1,172.9 149.9,171.3 150.8,171.1 151.7,171.3 152.6,171.6 153.5,172.9 154.3,174.1 155.2,173.5 156.1,173.0 157.0,174.1 157.9,175.1 158.7,176.4 159.6,178.1 160.5,179.0 161.4,179.1 162.3,179.7 163.1,181.8 164.0,183.5 164.9,182.6 165.8,179.8 166.7,177.1 167.5,175.3 168.4,174.1 169.3,173.8 170.2,175.2 171.1,177.3 171.9,179.2 172.8,181.5 173.7,183.0 174.6,180.9 175.5,178.2 176.3,179.2 177.2,180.1 178.1,177.2 179.0,173.6 179.9,172.6 180.8,172.8 181.6,172.7 182.5,171.6 183.4,170.0 184.3,169.8 185.2,170.1 186.0,169.7 186.9,169.8 187.8,170.8 188.7,171.4 189.6,171.6 190.4,171.5 191.3,171.2 192.2,172.2 193.1,174.1 194.0,175.1 194.8,173.8 195.7,172.0 196.6,171.8 197.5,171.8 198.4,171.3 199.2,170.8 200.1,171.1 201.0,171.9 201.9,172.0 202.8,171.5 203.6,171.3 204.5,171.3 205.4,170.8 206.3,169.8 207.2,169.2 208.0,170.0 208.9,170.9 209.8,170.8 210.7,170.2 211.6,169.3 212.4,169.1 213.3,170.1 214.2,171.3 215.1,171.8 216.0,171.6 216.8,170.6 217.7,169.7 218.6,169.7 219.5,169.9 220.4,169.9 221.2,170.1 222.1,169.7 223.0,169.2 223.9,169.6 224.8,170.3 225.6,170.7 226.5,170.8 227.4,171.3 228.3,172.1 229.2,171.9 230.0,171.5 230.9,172.1 231.8,172.9 232.7,173.1 233.6,173.2 234.4,173.5 235.3,174.9 236.2,177.8 237.1,180.3 238.0,181.0 238.9,180.0 239.7,177.7 240.6,175.2 241.5,173.1 242.4,171.1 243.3,170.1 244.1,170.4 245.0,170.9 245.9,171.1 246.8,170.7 247.7,169.8 248.5,169.1 249.4,169.1 250.3,169.9 251.2,170.5 252.1,169.7 252.9,169.1 253.8,169.1 254.7,170.1 255.6,170.8 256.5,170.9 257.3,171.3 258.2,171.3 259.1,170.3 260.0,169.3 260.9,169.8 261.7,170.6 262.6,170.4 263.5,169.6" fill="none" stroke="#00ee00" stroke-width="1.3" stroke-linejoin="round"/>
<polyline points="35.5,169.5 36.4,169.1 37.3,169.1 38.1,169.7 39.0,172.0 39.9,173.6 40.8,174.2 41.7,174.2 42.5,173.9 43.4,172.5 44.3,171.1 45.2,171.9 46.1,173.7 46.9,174.3 47.8,173.0 48.7,171.0 49.6,171.2 50.5,173.2 51.3,174.5 52.2,174.8 53.1,175.6 54.0,175.6 54.9,174.2 55.7,172.4 56.6,171.5 57.5,171.7 58.4,172.5 59.3,172.7 60.1,171.3 61.0,170.3 61.9,170.9 62.8,171.5 63.7,171.3 64.6,170.5 65.4,170.0 66.3,169.9 67.2,169.9 68.1,170.4 69.0,172.4 69.8,174.0 70.7,174.1 71.6,173.8 72.5,174.1 73.4,173.6 74.2,171.7 75.1,171.2 76.0,174.1 76.9,177.8 77.8,178.7 78.6,178.0 79.5,176.5 80.4,173.8 81.3,171.8 82.2,172.7 83.0,173.5 83.9,173.0 84.8,172.9 85.7,173.6 86.6,174.2 87.4,174.3 88.3,175.3 89.2,177.3 90.1,176.4 91.0,173.3 91.8,172.5 92.7,174.3 93.6,175.9 94.5,176.2 95.4,175.8 96.2,173.6 97.1,171.3 98.0,170.7 98.9,171.3 99.8,172.0 100.6,172.0 101.5,172.7 102.4,174.6 103.3,175.2 104.2,173.9 105.0,171.9 105.9,170.9 106.8,172.7 107.7,175.5 108.6,176.6 109.4,176.3 110.3,174.6 111.2,173.0 112.1,173.7 113.0,174.5 113.8,174.1 114.7,172.9 115.6,172.6 116.5,173.0 117.4,173.0 118.2,173.5 119.1,175.4 120.0,176.6 120.9,175.6 121.8,174.1 122.7,174.7 123.5,175.4 124.4,173.4 125.3,170.9 126.2,171.0 127.1,171.9 127.9,172.8 128.8,174.4 129.7,175.7 130.6,176.4 131.5,176.9 132.3,175.3 133.2,171.8 134.1,170.9 135.0,172.9 135.9,174.6 136.7,174.7 137.6,173.7 138.5,173.6 139.4,174.6 140.3,174.8 141.1,172.8 142.0,171.0 142.9,171.5 143.8,172.0 144.7,171.6 145.5,170.9 146.4,171.2 147.3,172.8 148.2,174.0 149.1,174.0 149.9,174.1 150.8,174.0 151.7,173.4 152.6,173.6 153.5,173.7 154.3,171.3 155.2,169.1 156.1,169.1 157.0,169.3 157.9,170.4 158.7,174.7 159.6,179.4 160.5,180.4 161.4,177.9 162.3,174.7 163.1,174.0 164.0,174.8 164.9,174.6 165.8,174.2 166.7,173.2 167.5,172.1 168.4,171.9 169.3,172.6 170.2,173.7 171.1,174.0 171.9,172.3 172.8,169.7 173.7,169.1 174.6,169.1 175.5,169.1 176.3,169.1 177.2,169.3 178.1,172.4 179.0,175.9 179.9,175.9 180.8,172.6 181.6,170.4 182.5,170.6 183.4,171.1 184.3,170.2 185.2,169.5 186.0,171.4 186.9,173.9 187.8,174.7 188.7,176.2 189.6,180.5 190.4,184.0 191.3,183.1 192.2,178.5 193.1,174.2 194.0,173.1 194.8,174.1 195.7,174.6 196.6,174.0 197.5,173.8 198.4,174.6 199.2,175.6 200.1,176.2 201.0,177.1 201.9,178.6 202.8,178.1 203.6,175.9 204.5,173.6 205.4,172.1 206.3,171.2 207.2,170.6 208.0,170.5 208.9,171.0 209.8,171.6 210.7,171.2 211.6,170.7 212.4,169.7 213.3,169.1 214.2,169.1 215.1,170.0 216.0,172.3 216.8,172.6 217.7,171.8 218.6,171.5 219.5,170.7 220.4,169.6 221.2,169.9 222.1,170.7 223.0,170.6 223.9,170.3 224.8,170.5 225.6,171.0 226.5,171.6 227.4,172.0 228.3,171.9 229.2,171.5 230.0,171.0 230.9,170.8 231.8,170.9 232.7,170.6 233.6,170.3 234.4,170.3 235.3,170.4 236.2,170.8 237.1,171.0 238.0,170.8 238.9,170.6 239.7,171.2 240.6,172.3 241.5,172.9 242.4,172.8 243.3,172.0 244.1,170.9 245.0,170.3 245.9,170.3 246.8,171.4 247.7,172.6 248.5,171.8 249.4,169.8 250.3,169.3 251.2,170.2 252.1,170.8 252.9,170.8 253.8,171.2 254.7,171.2 255.6,170.9 256.5,171.1 257.3,171.4 258.2,171.0 259.1,170.7 260.0,171.2 260.9,171.6 261.7,171.3 262.6,170.9 263.5,171.0" fill="none" stroke="#0000ff" stroke-width="1.3" stroke-linejoin="round"/>
<polyline points="35.5,170.4 36.4,170.2 37.3,171.3 38.1,171.1 39.0,170.8 39.9,171.2 40.8,172.7 41.7,174.1 42.5,173.6 43.4,172.5 44.3,172.0 45.2,172.9 46.1,174.4 46.9,174.6 47.8,173.4 48.7,171.6 49.6,170.9 50.5,171.4 51.3,171.5 52.2,170.4 53.1,169.5 54.0,169.2 54.9,170.6 55.7,172.8 56.6,173.4 57.5,172.5 58.4,170.4 59.3,169.1 60.1,169.1 61.0,170.6 61.9,172.7 62.8,172.5 63.7,171.0 64.6,170.7 65.4,171.6 66.3,172.0 67.2,173.6 68.1,176.0 69.0,176.2 69.8,175.5 70.7,176.0 71.6,175.2 72.5,172.7 73.4,171.9 74.2,172.7 75.1,173.5 76.0,174.3 76.9,174.7 77.8,173.6 78.6,171.5 79.5,170.8 80.4,172.3 81.3,173.8 82.2,174.9 83.0,175.0 83.9,173.3 84.8,172.3 85.7,172.6 86.6,172.4 87.4,171.5 88.3,170.1 89.2,170.7 90.1,174.5 91.0,177.7 91.8,178.4 92.7,178.4 93.6,177.2 94.5,174.1 95.4,171.7 96.2,172.8 97.1,175.7 98.0,178.0 98.9,178.2 99.8,176.7 100.6,174.9 101.5,174.2 102.4,173.9 103.3,173.4 104.2,172.4 105.0,171.3 105.9,171.7 106.8,172.6 107.7,172.1 108.6,170.5 109.4,169.6 110.3,169.8 111.2,171.0 112.1,173.5 113.0,175.7 113.8,176.1 114.7,175.5 115.6,176.0 116.5,175.7 117.4,174.5 118.2,174.6 119.1,174.3 120.0,173.1 120.9,172.6 121.8,173.2 122.7,174.2 123.5,174.8 124.4,175.8 125.3,177.3 126.2,178.9 127.1,180.9 127.9,181.1 128.8,178.8 129.7,176.5 130.6,176.0 131.5,175.2 132.3,173.3 133.2,172.7 134.1,174.7 135.0,176.3 135.9,175.2 136.7,174.0 137.6,174.6 138.5,176.2 139.4,177.1 140.3,175.5 141.1,173.2 142.0,171.8 142.9,171.6 143.8,172.6 144.7,174.1 145.5,175.4 146.4,176.3 147.3,174.8 148.2,172.2 149.1,172.8 149.9,174.8 150.8,174.9 151.7,174.8 152.6,174.7 153.5,173.3 154.3,171.8 155.2,172.3 156.1,174.7 157.0,175.9 157.9,176.0 158.7,174.8 159.6,171.2 160.5,169.6 161.4,171.2 162.3,172.6 163.1,172.9 164.0,173.1 164.9,173.1 165.8,172.9 166.7,172.2 167.5,170.2 168.4,169.1 169.3,169.4 170.2,173.1 171.1,175.5 171.9,175.6 172.8,174.3 173.7,174.0 174.6,176.1 175.5,178.0 176.3,176.9 177.2,172.7 178.1,169.1 179.0,169.1 179.9,171.7 180.8,174.6 181.6,176.3 182.5,177.3 183.4,175.8 184.3,172.8 185.2,171.6 186.0,171.4 186.9,170.2 187.8,169.1 188.7,169.1 189.6,171.8 190.4,173.1 191.3,171.7 192.2,169.2 193.1,169.1 194.0,169.1 194.8,169.1 195.7,171.1 196.6,174.8 197.5,175.8 198.4,173.9 199.2,172.2 200.1,171.4 201.0,170.3 201.9,169.3 202.8,169.1 203.6,169.1 204.5,169.1 205.4,171.0 206.3,173.8 207.2,175.2 208.0,175.6 208.9,176.3 209.8,177.9 210.7,177.7 211.6,175.0 212.4,172.6 213.3,171.3 214.2,170.3 215.1,169.6 216.0,169.9 216.8,171.2 217.7,171.9 218.6,171.4 219.5,170.4 220.4,169.3 221.2,169.1 222.1,169.1 223.0,169.1 223.9,169.1 224.8,169.1 225.6,169.1 226.5,170.0 227.4,170.7 228.3,171.2 229.2,171.5 230.0,170.8 230.9,170.0 231.8,169.9 232.7,169.7 233.6,169.3 234.4,169.6 235.3,169.5 236.2,169.1 237.1,169.3 238.0,170.2 238.9,170.5 239.7,169.9 240.6,169.2 241.5,169.1 242.4,169.1 243.3,169.1 244.1,169.1 245.0,169.1 245.9,169.2 246.8,170.1 247.7,170.5 248.5,170.4 249.4,170.0 250.3,170.3 251.2,171.2 252.1,171.5 252.9,170.9 253.8,170.6 254.7,170.7 255.6,170.8 256.5,170.8 257.3,170.7 258.2,170.1 259.1,169.2 260.0,169.1 260.9,169.1 261.7,169.1 262.6,169.1 263.5,169.1" fill="none" stroke="#ffff00" stroke-width="1.3" stroke-linejoin="round"/>
<polyline points="35.5,175.9 36.4,175.7 37.3,173.2 38.1,170.9 39.0,170.7 39.9,172.3 40.8,173.7 41.7,174.9 42.5,176.1 43.4,176.2 44.3,175.1 45.2,174.3 46.1,173.9 46.9,173.7 47.8,174.4 48.7,174.6 49.6,173.3 50.5,173.0 51.3,174.8 52.2,177.5 53.1,179.4 54.0,179.1 54.9,177.0 55.7,175.1 56.6,173.4 57.5,171.5 58.4,170.7 59.3,170.9 60.1,171.8 61.0,172.6 61.9,172.4 62.8,172.8 63.7,173.2 64.6,171.9 65.4,170.2 66.3,170.1 67.2,171.9 68.1,174.2 69.0,174.9 69.8,174.3 70.7,173.3 71.6,172.0 72.5,171.1 73.4,171.6 74.2,172.2 75.1,171.1 76.0,170.6 76.9,172.7 77.8,175.2 78.6,175.9 79.5,176.0 80.4,176.3 81.3,175.9 82.2,174.7 83.0,173.0 83.9,172.5 84.8,173.8 85.7,174.9 86.6,174.8 87.4,174.7 88.3,174.1 89.2,173.7 90.1,174.6 91.0,174.5 91.8,171.8 92.7,169.1 93.6,169.1 94.5,169.1 95.4,169.3 96.2,169.5 97.1,169.1 98.0,169.1 98.9,171.7 99.8,174.2 100.6,175.8 101.5,175.9 102.4,175.1 103.3,174.8 104.2,173.9 105.0,172.8 105.9,171.8 106.8,170.4 107.7,169.8 108.6,170.3 109.4,170.6 110.3,171.5 111.2,174.0 112.1,176.7 113.0,177.1 113.8,174.5 114.7,171.8 115.6,170.1 116.5,169.1 117.4,169.2 118.2,171.2 119.1,173.5 120.0,174.7 120.9,174.2 121.8,173.6 122.7,174.0 123.5,174.6 124.4,174.7 125.3,175.1 126.2,176.1 127.1,175.6 127.9,173.9 128.8,172.7 129.7,173.0 130.6,174.5 131.5,175.7 132.3,175.2 133.2,173.3 134.1,172.7 135.0,174.0 135.9,175.4 136.7,175.1 137.6,173.5 138.5,172.5 139.4,172.0 140.3,172.7 141.1,174.9 142.0,175.4 142.9,174.1 143.8,173.9 144.7,174.9 145.5,175.3 146.4,175.3 147.3,174.7 148.2,173.4 149.1,172.0 149.9,170.9 150.8,170.6 151.7,171.4 152.6,173.2 153.5,175.0 154.3,177.0 155.2,178.0 156.1,176.6 157.0,174.4 157.9,174.0 158.7,173.9 159.6,172.2 160.5,171.6 161.4,172.7 162.3,173.8 163.1,174.0 164.0,173.0 164.9,171.7 165.8,172.4 166.7,173.8 167.5,174.6 168.4,175.1 169.3,175.1 170.2,175.0 171.1,175.8 171.9,176.0 172.8,174.9 173.7,174.0 174.6,174.6 175.5,175.0 176.3,174.6 177.2,174.4 178.1,173.3 179.0,171.7 179.9,171.1 180.8,170.9 181.6,171.1 182.5,172.8 183.4,174.9 184.3,175.3 185.2,173.7 186.0,172.2 186.9,171.0 187.8,169.5 188.7,169.3 189.6,170.9 190.4,172.5 191.3,172.8 192.2,173.4 193.1,174.4 194.0,174.2 194.8,174.0 195.7,173.5 196.6,171.2 197.5,169.5 198.4,170.3 199.2,171.9 200.1,172.0 201.0,171.5 201.9,171.8 202.8,171.7 203.6,171.2 204.5,170.7 205.4,170.7 206.3,171.2 207.2,171.1 208.0,171.2 208.9,172.2 209.8,172.9 210.7,172.9 211.6,173.8 212.4,175.1 213.3,175.0 214.2,174.2 215.1,173.4 216.0,172.6 216.8,171.4 217.7,170.0 218.6,169.5 219.5,169.5 220.4,169.1 221.2,169.1 222.1,170.0 223.0,171.0 223.9,170.7 224.8,170.4 225.6,170.8 226.5,170.6 227.4,169.8 228.3,169.3 229.2,169.6 230.0,170.2 230.9,170.8 231.8,170.7 232.7,170.1 233.6,170.2 234.4,170.7 235.3,170.7 236.2,170.0 237.1,170.2 238.0,171.4 238.9,171.8 239.7,171.0 240.6,170.0 241.5,169.7 242.4,170.4 243.3,171.2 244.1,171.4 245.0,171.1 245.9,170.3 246.8,169.4 247.7,169.7 248.5,170.3 249.4,170.3 250.3,169.9 251.2,169.9 252.1,170.4 252.9,170.9 253.8,171.3 254.7,171.4 255.6,171.0 256.5,170.6 257.3,170.8 258.2,171.3 259.1,171.5 260.0,170.9 260.9,170.1 261.7,170.0 262.6,171.0 263.5,172.1" fill="none" stroke="#00ffff" stroke-width="1.3" stroke-linejoin="round"/>
<polyline points="35.5,173.6 36.4,173.1 37.3,172.4 38.1,172.0 39.0,172.0 39.9,172.0 40.8,172.3 41.7,173.0 42.5,173.3 43.4,173.2 44.3,172.4 45.2,171.8 46.1,171.4 46.9,172.1 47.8,173.9 48.7,173.5 49.6,171.3 50.5,169.6 51.3,169.2 52.2,169.8 53.1,170.8 54.0,171.5 54.9,171.6 55.7,171.3 56.6,170.8 57.5,170.5 58.4,169.7 59.3,169.1 60.1,169.8 61.0,171.6 61.9,172.3 62.8,172.8 63.7,174.7 64.6,176.1 65.4,175.2 66.3,173.6 67.2,173.0 68.1,172.8 69.0,172.4 69.8,171.6 70.7,170.6 71.6,170.9 72.5,171.2 73.4,171.4 74.2,173.0 75.1,174.2 76.0,174.4 76.9,174.4 77.8,173.6 78.6,172.5 79.5,172.0 80.4,171.3 81.3,169.7 82.2,169.1 83.0,170.5 83.9,172.4 84.8,171.8 85.7,171.3 86.6,172.7 87.4,174.6 88.3,175.6 89.2,176.1 90.1,176.0 91.0,174.8 91.8,174.7 92.7,175.9 93.6,175.8 94.5,173.8 95.4,172.3 96.2,171.8 97.1,171.1 98.0,170.2 98.9,170.4 99.8,171.9 100.6,173.9 101.5,174.7 102.4,175.7 103.3,177.3 104.2,177.7 105.0,177.5 105.9,177.3 106.8,176.7 107.7,175.5 108.6,173.8 109.4,172.9 110.3,173.4 111.2,174.2 112.1,173.4 113.0,172.3 113.8,172.8 114.7,173.8 115.6,173.7 116.5,172.5 117.4,171.4 118.2,171.2 119.1,171.6 120.0,172.2 120.9,172.9 121.8,173.7 122.7,174.2 123.5,173.8 124.4,173.4 125.3,173.6 126.2,173.5 127.1,174.5 127.9,176.8 128.8,178.6 129.7,178.5 130.6,176.7 131.5,174.2 132.3,172.1 133.2,170.4 134.1,170.8 135.0,174.4 135.9,178.0 136.7,179.4 137.6,178.8 138.5,177.0 139.4,174.8 140.3,174.1 141.1,174.9 142.0,175.2 142.9,174.6 143.8,174.0 144.7,172.7 145.5,171.5 146.4,171.9 147.3,172.3 148.2,171.9 149.1,171.3 149.9,171.8 150.8,173.6 151.7,174.5 152.6,174.2 153.5,173.3 154.3,173.2 155.2,174.9 156.1,176.1 157.0,175.5 157.9,174.2 158.7,172.5 159.6,170.6 160.5,169.7 161.4,171.0 162.3,172.4 163.1,172.0 164.0,171.3 164.9,171.9 165.8,172.8 166.7,173.6 167.5,174.0 168.4,173.2 169.3,172.0 170.2,172.3 171.1,172.9 171.9,172.2 172.8,171.7 173.7,171.6 174.6,171.6 175.5,172.6 176.3,174.1 177.2,173.6 178.1,172.7 179.0,173.8 179.9,175.3 180.8,174.8 181.6,172.7 182.5,172.3 183.4,173.8 184.3,173.7 185.2,172.2 186.0,170.9 186.9,170.0 187.8,169.8 188.7,171.2 189.6,173.1 190.4,173.8 191.3,173.1 192.2,171.2 193.1,169.1 194.0,169.1 194.8,169.1 195.7,169.1 196.6,169.1 197.5,169.8 198.4,171.1 199.2,171.2 200.1,170.3 201.0,170.0 201.9,170.9 202.8,172.4 203.6,173.0 204.5,171.8 205.4,170.2 206.3,169.8 207.2,170.1 208.0,170.7 208.9,171.2 209.8,171.4 210.7,171.2 211.6,170.8 212.4,170.9 213.3,171.4 214.2,171.5 215.1,171.2 216.0,170.6 216.8,169.8 217.7,169.8 218.6,170.5 219.5,170.3 220.4,169.7 221.2,170.1 222.1,170.8 223.0,170.9 223.9,170.8 224.8,170.6 225.6,170.5 226.5,170.6 227.4,170.3 228.3,170.2 229.2,170.6 230.0,170.4 230.9,169.8 231.8,169.8 232.7,170.0 233.6,170.3 234.4,170.5 235.3,170.5 236.2,170.5 237.1,170.6 238.0,170.8 238.9,170.5 239.7,170.5 240.6,171.2 241.5,171.7 242.4,171.3 243.3,170.8 244.1,170.6 245.0,170.7 245.9,170.9 246.8,170.6 247.7,170.2 248.5,170.6 249.4,171.4 250.3,171.7 251.2,171.1 252.1,170.2 252.9,170.2 253.8,170.5 254.7,170.3 255.6,170.1 256.5,170.4 257.3,170.3 258.2,169.7 259.1,169.4 260.0,169.8 260.9,170.5 261.7,171.2 262.6,171.6 263.5,171.4" fill="none" stroke="#000000" stroke-width="1.3" stroke-linejoin="round"/>
<rect x="135.3" y="202.6" width="127.3" height="49.6" fill="#fff" stroke="#c8c8c8" stroke-width="0.8"/>
<line x1="136" y1="211" x2="144.5" y2="211" stroke="#f01010" stroke-width="1.2"/>
<text x="145.6" y="212.2" font-size="10.3">P</text>
<text x="152.6" y="217.3" font-size="7.6">S</text>
<text x="159.43" y="212.2" font-size="10.3">=500nm</text>
<line x1="136" y1="227.4" x2="144.5" y2="227.4" stroke="#10e010" stroke-width="1.2"/>
<text x="145.6" y="228.6" font-size="10.3">P</text>
<text x="152.6" y="233.70000000000002" font-size="7.6">S</text>
<text x="159.43" y="228.6" font-size="10.3">=600nm</text>
<line x1="136" y1="243.8" x2="144.5" y2="243.8" stroke="#1010f0" stroke-width="1.2"/>
<text x="145.6" y="245.0" font-size="10.3">P</text>
<text x="152.6" y="250.10000000000002" font-size="7.6">S</text>
<text x="159.43" y="245.0" font-size="10.3">=700nm</text>
<line x1="196.7" y1="211" x2="205.2" y2="211" stroke="#f0f000" stroke-width="1.2"/>
<text x="206.29999999999998" y="212.2" font-size="10.3">P</text>
<text x="213.29999999999998" y="217.3" font-size="7.6">S</text>
<text x="220.13" y="212.2" font-size="10.3">=800nm</text>
<line x1="196.7" y1="227.4" x2="205.2" y2="227.4" stroke="#00f0f0" stroke-width="1.2"/>
<text x="206.29999999999998" y="228.6" font-size="10.3">P</text>
<text x="213.29999999999998" y="233.70000000000002" font-size="7.6">S</text>
<text x="220.13" y="228.6" font-size="10.3">=900nm</text>
<line x1="196.7" y1="243.8" x2="205.2" y2="243.8" stroke="#202020" stroke-width="1.6"/>
<text x="206.29999999999998" y="245.0" font-size="10.3">P</text>
<text x="213.29999999999998" y="250.10000000000002" font-size="7.6">S</text>
<text x="220.13" y="245.0" font-size="10.3">=1000nm</text>
<text x="59.93" y="267.50" text-anchor="middle" font-size="11">0.5</text>
<text x="100.64" y="267.50" text-anchor="middle" font-size="11">1</text>
<text x="141.36" y="267.50" text-anchor="middle" font-size="11">1.5</text>
<text x="182.07" y="267.50" text-anchor="middle" font-size="11">2</text>
<text x="222.79" y="267.50" text-anchor="middle" font-size="11">2.5</text>
<text x="263.50" y="267.50" text-anchor="middle" font-size="11">3</text>
<text x="32.30" y="258.10" text-anchor="end" font-size="11">0</text>
<text x="32.30" y="215.40" text-anchor="end" font-size="11">0.5</text>
<text x="32.30" y="172.70" text-anchor="end" font-size="11">1</text>
<text x="149.50" y="282.10" text-anchor="middle" font-size="13">Wavelength (<tspan font-style="italic" font-weight="normal" style="stroke-width:0.15px" dx="1">μ</tspan><tspan dx="0.8">m)</tspan></text>
<text transform="translate(14.6,211.50) rotate(-90)" text-anchor="middle" font-size="12.7">Absorptance</text>
<text x="147.6" y="154.5" text-anchor="middle" font-size="14">(c)</text>
<rect x="35.0" y="311.0" width="230.3" height="89.60000000000002" fill="#fff" stroke="#c8c8c8" stroke-width="1"/>
<line x1="59.68" y1="400.6" x2="59.68" y2="398.6" stroke="#c8c8c8" stroke-width="0.8"/>
<line x1="59.68" y1="311.0" x2="59.68" y2="313.0" stroke="#c8c8c8" stroke-width="0.8"/>
<line x1="100.80" y1="400.6" x2="100.80" y2="398.6" stroke="#c8c8c8" stroke-width="0.8"/>
<line x1="100.80" y1="311.0" x2="100.80" y2="313.0" stroke="#c8c8c8" stroke-width="0.8"/>
<line x1="141.93" y1="400.6" x2="141.93" y2="398.6" stroke="#c8c8c8" stroke-width="0.8"/>
<line x1="141.93" y1="311.0" x2="141.93" y2="313.0" stroke="#c8c8c8" stroke-width="0.8"/>
<line x1="183.05" y1="400.6" x2="183.05" y2="398.6" stroke="#c8c8c8" stroke-width="0.8"/>
<line x1="183.05" y1="311.0" x2="183.05" y2="313.0" stroke="#c8c8c8" stroke-width="0.8"/>
<line x1="224.18" y1="400.6" x2="224.18" y2="398.6" stroke="#c8c8c8" stroke-width="0.8"/>
<line x1="224.18" y1="311.0" x2="224.18" y2="313.0" stroke="#c8c8c8" stroke-width="0.8"/>
<line x1="265.30" y1="400.6" x2="265.30" y2="398.6" stroke="#c8c8c8" stroke-width="0.8"/>
<line x1="265.30" y1="311.0" x2="265.30" y2="313.0" stroke="#c8c8c8" stroke-width="0.8"/>
<line x1="35.0" y1="400.60" x2="37.0" y2="400.60" stroke="#c8c8c8" stroke-width="0.8"/>
<line x1="265.3" y1="400.60" x2="263.3" y2="400.60" stroke="#c8c8c8" stroke-width="0.8"/>
<line x1="35.0" y1="355.80" x2="37.0" y2="355.80" stroke="#c8c8c8" stroke-width="0.8"/>
<line x1="265.3" y1="355.80" x2="263.3" y2="355.80" stroke="#c8c8c8" stroke-width="0.8"/>
<line x1="35.0" y1="311.00" x2="37.0" y2="311.00" stroke="#c8c8c8" stroke-width="0.8"/>
<line x1="265.3" y1="311.00" x2="263.3" y2="311.00" stroke="#c8c8c8" stroke-width="0.8"/>
<polyline points="35.0,312.8 35.9,314.5 36.8,316.0 37.7,315.8 38.6,314.5 39.4,313.1 40.3,312.3 41.2,312.6 42.1,313.9 43.0,314.5 43.9,315.3 44.8,317.0 45.7,316.7 46.6,314.5 47.4,313.7 48.3,314.4 49.2,315.3 50.1,315.9 51.0,316.1 51.9,315.8 52.8,314.6 53.7,313.7 54.6,314.1 55.5,315.3 56.3,317.1 57.2,318.4 58.1,318.5 59.0,317.3 59.9,316.1 60.8,315.6 61.7,314.1 62.6,312.2 63.5,312.6 64.3,314.8 65.2,316.6 66.1,318.4 67.0,318.7 67.9,317.5 68.8,317.3 69.7,318.2 70.6,318.2 71.5,317.6 72.3,317.5 73.2,316.5 74.1,314.4 75.0,313.6 75.9,314.5 76.8,315.6 77.7,316.4 78.6,317.4 79.5,318.1 80.3,317.6 81.2,316.1 82.1,315.6 83.0,315.5 83.9,314.5 84.8,313.2 85.7,313.1 86.6,314.9 87.5,316.4 88.4,316.5 89.2,315.5 90.1,313.3 91.0,312.3 91.9,313.1 92.8,313.8 93.7,313.2 94.6,312.9 95.5,314.5 96.4,317.2 97.2,318.1 98.1,317.1 99.0,316.8 99.9,316.6 100.8,315.7 101.7,316.5 102.6,318.1 103.5,317.9 104.4,316.7 105.2,317.2 106.1,318.9 107.0,318.5 107.9,316.4 108.8,316.5 109.7,320.5 110.6,323.7 111.5,321.8 112.4,317.0 113.2,313.1 114.1,312.2 115.0,314.1 115.9,315.8 116.8,315.7 117.7,315.9 118.6,316.2 119.5,315.6 120.4,315.7 121.3,317.9 122.1,319.1 123.0,318.5 123.9,318.4 124.8,319.0 125.7,318.2 126.6,315.5 127.5,313.1 128.4,312.7 129.3,313.5 130.1,316.3 131.0,320.6 131.9,322.5 132.8,322.1 133.7,321.5 134.6,320.4 135.5,319.6 136.4,320.0 137.3,320.8 138.1,320.9 139.0,318.6 139.9,315.9 140.8,315.1 141.7,314.8 142.6,314.6 143.5,314.8 144.4,314.4 145.3,314.1 146.1,314.7 147.0,316.5 147.9,317.7 148.8,317.3 149.7,315.9 150.6,314.7 151.5,314.5 152.4,314.5 153.3,313.8 154.2,313.1 155.0,312.9 155.9,313.2 156.8,313.9 157.7,313.7 158.6,312.9 159.5,313.0 160.4,313.7 161.3,313.9 162.2,313.4 163.0,312.8 163.9,312.8 164.8,313.2 165.7,313.4 166.6,313.4 167.5,313.4 168.4,313.4 169.3,313.3 170.2,312.8 171.0,312.3 171.9,312.0 172.8,312.3 173.7,313.5 174.6,314.5 175.5,314.2 176.4,313.3 177.3,312.7 178.2,312.2 179.0,312.3 179.9,312.9 180.8,313.5 181.7,313.4 182.6,313.1 183.5,313.6 184.4,314.5 185.3,314.5 186.2,313.2 187.1,312.1 187.9,312.6 188.8,313.8 189.7,313.8 190.6,313.0 191.5,312.8 192.4,313.5 193.3,314.5 194.2,315.7 195.1,317.5 195.9,319.2 196.8,319.6 197.7,318.7 198.6,317.7 199.5,317.5 200.4,317.7 201.3,317.3 202.2,317.0 203.1,317.3 203.9,316.8 204.8,315.3 205.7,314.5 206.6,315.1 207.5,315.6 208.4,314.9 209.3,314.3 210.2,314.3 211.1,314.2 211.9,313.8 212.8,313.2 213.7,313.0 214.6,313.1 215.5,313.2 216.4,313.6 217.3,314.2 218.2,314.2 219.1,314.5 220.0,314.8 220.8,314.1 221.7,313.2 222.6,312.2 223.5,311.3 224.4,311.3 225.3,311.4 226.2,311.3 227.1,311.3 228.0,312.5 228.8,313.8 229.7,314.5 230.6,314.9 231.5,314.6 232.4,313.7 233.3,313.1 234.2,312.7 235.1,312.8 236.0,313.3 236.8,313.5 237.7,313.7 238.6,313.9 239.5,313.7 240.4,313.1 241.3,312.5 242.2,311.9 243.1,311.5 244.0,312.1 244.8,313.5 245.7,314.0 246.6,313.4 247.5,312.6 248.4,312.6 249.3,313.2 250.2,313.2 251.1,312.1 252.0,311.3 252.9,311.6 253.7,312.9 254.6,313.5 255.5,313.2 256.4,312.5 257.3,312.5 258.2,313.2 259.1,313.6 260.0,313.5 260.9,314.2 261.7,315.9 262.6,317.3 263.5,317.9 264.4,318.1 265.3,318.2" fill="none" stroke="#ff0000" stroke-width="1.3" stroke-linejoin="round"/>
<polyline points="35.0,316.2 35.9,315.8 36.8,315.0 37.7,315.1 38.6,315.7 39.4,314.4 40.3,312.6 41.2,313.7 42.1,315.8 43.0,315.2 43.9,313.4 44.8,312.8 45.7,313.0 46.6,315.6 47.4,319.4 48.3,321.0 49.2,321.8 50.1,321.7 51.0,319.0 51.9,315.7 52.8,314.1 53.7,314.1 54.6,313.6 55.5,311.4 56.3,311.3 57.2,311.3 58.1,311.3 59.0,311.3 59.9,311.3 60.8,311.3 61.7,311.4 62.6,312.2 63.5,312.9 64.3,314.8 65.2,316.9 66.1,317.2 67.0,317.7 67.9,319.1 68.8,318.1 69.7,316.0 70.6,316.0 71.5,316.3 72.3,316.1 73.2,316.8 74.1,317.6 75.0,317.6 75.9,317.2 76.8,316.1 77.7,313.9 78.6,311.9 79.5,311.3 80.3,311.3 81.2,311.3 82.1,312.2 83.0,313.5 83.9,314.4 84.8,314.8 85.7,315.4 86.6,315.7 87.5,314.6 88.4,314.0 89.2,315.4 90.1,318.0 91.0,318.6 91.9,316.7 92.8,317.0 93.7,318.1 94.6,317.2 95.5,315.9 96.4,314.9 97.2,314.0 98.1,313.4 99.0,313.7 99.9,314.2 100.8,314.1 101.7,314.5 102.6,315.0 103.5,314.3 104.4,314.4 105.2,315.7 106.1,316.5 107.0,316.3 107.9,315.4 108.8,314.9 109.7,314.9 110.6,313.9 111.5,312.7 112.4,312.2 113.2,312.3 114.1,312.8 115.0,311.9 115.9,311.4 116.8,313.3 117.7,315.3 118.6,315.7 119.5,316.0 120.4,317.3 121.3,319.1 122.1,320.7 123.0,321.1 123.9,320.6 124.8,319.7 125.7,317.9 126.6,316.8 127.5,317.6 128.4,318.3 129.3,317.6 130.1,317.6 131.0,318.5 131.9,318.8 132.8,319.1 133.7,319.0 134.6,317.7 135.5,316.7 136.4,316.9 137.3,316.4 138.1,314.7 139.0,313.3 139.9,313.5 140.8,314.3 141.7,313.7 142.6,312.7 143.5,312.3 144.4,313.0 145.3,314.3 146.1,314.8 147.0,314.2 147.9,313.0 148.8,312.3 149.7,312.8 150.6,312.8 151.5,312.4 152.4,313.2 153.3,313.9 154.2,314.1 155.0,313.7 155.9,312.7 156.8,312.0 157.7,312.4 158.6,312.9 159.5,313.7 160.4,314.1 161.3,314.1 162.2,314.1 163.0,313.7 163.9,312.8 164.8,312.3 165.7,312.1 166.6,311.4 167.5,311.3 168.4,311.7 169.3,312.4 170.2,312.8 171.0,313.2 171.9,313.1 172.8,312.4 173.7,312.3 174.6,312.9 175.5,313.5 176.4,313.8 177.3,314.1 178.2,314.3 179.0,313.9 179.9,313.0 180.8,312.4 181.7,311.9 182.6,311.5 183.5,312.1 184.4,312.9 185.3,313.5 186.2,313.3 187.1,312.9 187.9,313.4 188.8,314.3 189.7,314.3 190.6,313.6 191.5,313.0 192.4,312.4 193.3,312.3 194.2,312.5 195.1,312.4 195.9,312.2 196.8,312.6 197.7,313.0 198.6,312.9 199.5,312.8 200.4,312.5 201.3,312.0 202.2,311.6 203.1,311.7 203.9,312.4 204.8,312.9 205.7,312.9 206.6,312.9 207.5,313.2 208.4,313.5 209.3,313.6 210.2,313.2 211.1,312.0 211.9,311.3 212.8,311.5 213.7,312.1 214.6,312.3 215.5,312.2 216.4,311.6 217.3,311.3 218.2,311.3 219.1,311.3 220.0,311.7 220.8,312.8 221.7,313.4 222.6,313.4 223.5,312.8 224.4,311.9 225.3,311.6 226.2,312.1 227.1,312.6 228.0,312.3 228.8,311.5 229.7,311.3 230.6,311.3 231.5,311.8 232.4,312.2 233.3,312.7 234.2,312.8 235.1,312.6 236.0,312.3 236.8,312.6 237.7,312.6 238.6,312.7 239.5,313.3 240.4,314.0 241.3,314.1 242.2,313.7 243.1,312.9 244.0,312.2 244.8,312.3 245.7,313.0 246.6,314.0 247.5,315.4 248.4,317.6 249.3,319.2 250.2,318.3 251.1,315.9 252.0,314.4 252.9,313.3 253.7,312.0 254.6,311.5 255.5,311.7 256.4,312.2 257.3,313.2 258.2,313.7 259.1,313.2 260.0,311.9 260.9,311.3 261.7,311.3 262.6,311.3 263.5,312.2 264.4,313.4 265.3,313.7" fill="none" stroke="#00ee00" stroke-width="1.3" stroke-linejoin="round"/>
<polyline points="35.0,316.3 35.9,316.9 36.8,317.1 37.7,317.4 38.6,317.2 39.4,315.7 40.3,314.6 41.2,314.7 42.1,313.6 43.0,313.1 43.9,316.0 44.8,318.1 45.7,315.7 46.6,312.2 47.4,312.1 48.3,314.5 49.2,315.6 50.1,316.5 51.0,318.1 51.9,318.4 52.8,317.1 53.7,316.2 54.6,315.3 55.5,313.5 56.3,312.1 57.2,313.4 58.1,316.1 59.0,317.1 59.9,318.1 60.8,320.5 61.7,322.1 62.6,322.6 63.5,323.2 64.3,322.8 65.2,320.8 66.1,318.2 67.0,316.2 67.9,314.9 68.8,314.5 69.7,314.7 70.6,314.8 71.5,315.2 72.3,316.1 73.2,315.9 74.1,313.7 75.0,311.6 75.9,311.8 76.8,314.9 77.7,319.0 78.6,323.0 79.5,324.7 80.3,322.2 81.2,319.5 82.1,320.0 83.0,320.5 83.9,318.8 84.8,317.8 85.7,317.8 86.6,317.5 87.5,317.1 88.4,317.7 89.2,318.8 90.1,318.5 91.0,316.9 91.9,315.8 92.8,315.1 93.7,313.6 94.6,312.7 95.5,313.4 96.4,314.8 97.2,315.6 98.1,316.9 99.0,318.6 99.9,319.1 100.8,319.2 101.7,319.8 102.6,320.5 103.5,320.3 104.4,319.1 105.2,318.4 106.1,319.2 107.0,319.1 107.9,317.7 108.8,317.4 109.7,318.0 110.6,318.5 111.5,318.6 112.4,318.6 113.2,319.4 114.1,321.3 115.0,323.4 115.9,323.7 116.8,321.1 117.7,318.4 118.6,317.6 119.5,318.1 120.4,319.9 121.3,322.3 122.1,323.7 123.0,322.9 123.9,321.5 124.8,322.6 125.7,325.1 126.6,325.7 127.5,325.0 128.4,325.0 129.3,325.5 130.1,325.3 131.0,323.5 131.9,321.7 132.8,321.8 133.7,323.1 134.6,324.5 135.5,325.4 136.4,325.0 137.3,323.2 138.1,321.7 139.0,321.6 139.9,321.7 140.8,320.5 141.7,319.0 142.6,318.5 143.5,317.8 144.4,315.5 145.3,314.3 146.1,315.2 147.0,315.2 147.9,314.5 148.8,315.0 149.7,315.4 150.6,314.9 151.5,314.4 152.4,314.4 153.3,314.8 154.2,315.0 155.0,314.4 155.9,313.7 156.8,313.6 157.7,313.4 158.6,313.0 159.5,313.0 160.4,313.6 161.3,314.5 162.2,315.2 163.0,315.4 163.9,315.3 164.8,315.5 165.7,315.6 166.6,315.3 167.5,314.5 168.4,313.8 169.3,313.9 170.2,314.4 171.0,313.9 171.9,312.6 172.8,311.9 173.7,312.6 174.6,313.9 175.5,314.0 176.4,313.1 177.3,312.6 178.2,312.7 179.0,313.1 179.9,313.5 180.8,313.7 181.7,313.4 182.6,313.0 183.5,313.2 184.4,314.0 185.3,314.8 186.2,313.9 187.1,312.3 187.9,311.6 188.8,312.0 189.7,313.2 190.6,314.1 191.5,313.9 192.4,313.8 193.3,314.7 194.2,315.5 195.1,315.5 195.9,314.8 196.8,314.0 197.7,313.5 198.6,312.9 199.5,312.3 200.4,312.7 201.3,313.8 202.2,314.8 203.1,314.6 203.9,313.3 204.8,312.4 205.7,313.1 206.6,314.0 207.5,314.2 208.4,314.5 209.3,315.0 210.2,314.9 211.1,313.5 211.9,311.9 212.8,311.4 213.7,311.7 214.6,312.2 215.5,312.3 216.4,312.3 217.3,312.7 218.2,313.0 219.1,313.0 220.0,312.9 220.8,313.0 221.7,312.6 222.6,312.0 223.5,312.0 224.4,312.5 225.3,313.4 226.2,313.9 227.1,314.1 228.0,314.3 228.8,314.5 229.7,314.5 230.6,314.4 231.5,314.1 232.4,313.8 233.3,313.4 234.2,312.5 235.1,311.4 236.0,311.3 236.8,311.7 237.7,311.8 238.6,311.3 239.5,311.3 240.4,311.3 241.3,311.6 242.2,312.8 243.1,313.4 244.0,313.7 244.8,314.3 245.7,315.3 246.6,316.9 247.5,319.4 248.4,321.6 249.3,322.5 250.2,322.6 251.1,322.5 252.0,322.5 252.9,322.9 253.7,323.0 254.6,322.8 255.5,323.6 256.4,325.1 257.3,325.9 258.2,326.4 259.1,327.4 260.0,328.6 260.9,329.3 261.7,330.1 262.6,331.2 263.5,331.3 264.4,329.7 265.3,327.3" fill="none" stroke="#0000ff" stroke-width="1.3" stroke-linejoin="round"/>
<polyline points="35.0,316.7 35.9,316.9 36.8,316.2 37.7,313.9 38.6,312.2 39.4,313.3 40.3,317.1 41.2,320.3 42.1,319.3 43.0,314.9 43.9,311.3 44.8,311.3 45.7,312.3 46.6,315.2 47.4,316.3 48.3,315.1 49.2,314.0 50.1,314.4 51.0,314.0 51.9,313.6 52.8,315.1 53.7,317.0 54.6,317.5 55.5,315.6 56.3,313.4 57.2,314.4 58.1,318.4 59.0,319.4 59.9,315.7 60.8,313.1 61.7,314.0 62.6,315.6 63.5,318.2 64.3,321.8 65.2,322.2 66.1,319.0 67.0,317.2 67.9,318.0 68.8,318.6 69.7,318.9 70.6,319.0 71.5,317.5 72.3,315.1 73.2,314.7 74.1,315.7 75.0,316.0 75.9,315.8 76.8,315.9 77.7,316.3 78.6,316.3 79.5,315.8 80.3,315.7 81.2,316.8 82.1,318.9 83.0,319.5 83.9,317.5 84.8,315.4 85.7,316.0 86.6,318.4 87.5,320.6 88.4,321.5 89.2,320.9 90.1,319.1 91.0,316.8 91.9,315.2 92.8,314.9 93.7,314.8 94.6,315.0 95.5,316.1 96.4,317.2 97.2,317.5 98.1,317.5 99.0,317.6 99.9,317.9 100.8,318.7 101.7,318.3 102.6,317.5 103.5,317.6 104.4,317.8 105.2,317.7 106.1,318.5 107.0,319.4 107.9,319.2 108.8,317.1 109.7,314.0 110.6,313.7 111.5,316.1 112.4,315.3 113.2,312.7 114.1,312.1 115.0,312.8 115.9,312.6 116.8,312.4 117.7,313.7 118.6,315.1 119.5,315.0 120.4,313.7 121.3,313.5 122.1,315.1 123.0,317.3 123.9,318.9 124.8,318.0 125.7,315.6 126.6,313.4 127.5,312.6 128.4,313.1 129.3,314.6 130.1,317.3 131.0,319.6 131.9,319.6 132.8,318.4 133.7,317.2 134.6,317.1 135.5,317.4 136.4,317.2 137.3,316.3 138.1,315.6 139.0,315.8 139.9,315.9 140.8,315.7 141.7,316.9 142.6,318.7 143.5,318.9 144.4,316.2 145.3,313.2 146.1,312.5 147.0,313.6 147.9,315.6 148.8,317.7 149.7,319.1 150.6,319.8 151.5,320.4 152.4,320.4 153.3,319.0 154.2,317.0 155.0,315.7 155.9,315.1 156.8,314.5 157.7,313.3 158.6,312.2 159.5,311.6 160.4,311.9 161.3,312.5 162.2,312.8 163.0,312.9 163.9,313.5 164.8,313.8 165.7,313.9 166.6,314.0 167.5,313.9 168.4,313.6 169.3,313.0 170.2,312.1 171.0,311.3 171.9,311.3 172.8,311.3 173.7,311.6 174.6,311.9 175.5,311.6 176.4,312.7 177.3,314.0 178.2,313.8 179.0,313.5 179.9,313.8 180.8,313.9 181.7,313.7 182.6,313.6 183.5,313.3 184.4,313.1 185.3,312.8 186.2,312.2 187.1,311.5 187.9,311.3 188.8,312.1 189.7,312.8 190.6,312.1 191.5,311.3 192.4,311.3 193.3,312.0 194.2,312.7 195.1,313.3 195.9,314.2 196.8,315.1 197.7,315.0 198.6,313.9 199.5,312.9 200.4,312.8 201.3,313.3 202.2,313.3 203.1,313.4 203.9,314.5 204.8,315.6 205.7,315.1 206.6,313.8 207.5,313.6 208.4,314.7 209.3,316.5 210.2,318.4 211.1,319.3 211.9,320.1 212.8,320.8 213.7,320.8 214.6,319.6 215.5,317.6 216.4,315.8 217.3,314.6 218.2,313.6 219.1,313.3 220.0,313.9 220.8,314.9 221.7,316.1 222.6,317.7 223.5,319.5 224.4,321.1 225.3,322.3 226.2,322.5 227.1,321.7 228.0,319.8 228.8,316.9 229.7,313.9 230.6,312.3 231.5,312.3 232.4,312.3 233.3,311.8 234.2,311.3 235.1,311.3 236.0,311.3 236.8,312.3 237.7,313.5 238.6,313.2 239.5,312.7 240.4,312.0 241.3,311.3 242.2,311.3 243.1,311.3 244.0,311.3 244.8,311.3 245.7,311.4 246.6,311.6 247.5,311.7 248.4,312.2 249.3,312.3 250.2,312.3 251.1,312.6 252.0,312.3 252.9,311.5 253.7,311.3 254.6,311.7 255.5,312.6 256.4,312.3 257.3,311.4 258.2,311.3 259.1,311.8 260.0,313.0 260.9,313.6 261.7,313.2 262.6,312.5 263.5,312.5 264.4,312.9 265.3,313.8" fill="none" stroke="#ffff00" stroke-width="1.3" stroke-linejoin="round"/>
<polyline points="35.0,315.3 35.9,314.8 36.8,314.4 37.7,313.9 38.6,314.5 39.4,316.7 40.3,319.0 41.2,319.2 42.1,317.5 43.0,315.7 43.9,314.3 44.8,313.0 45.7,312.9 46.6,313.5 47.4,313.5 48.3,313.1 49.2,313.0 50.1,313.3 51.0,313.4 51.9,314.1 52.8,314.7 53.7,314.8 54.6,314.4 55.5,313.5 56.3,312.6 57.2,312.5 58.1,313.3 59.0,313.0 59.9,311.3 60.8,311.3 61.7,311.3 62.6,311.3 63.5,311.3 64.3,312.5 65.2,314.2 66.1,313.9 67.0,313.2 67.9,313.0 68.8,312.8 69.7,313.8 70.6,315.3 71.5,316.7 72.3,318.1 73.2,318.5 74.1,317.7 75.0,317.2 75.9,318.0 76.8,318.3 77.7,317.3 78.6,317.0 79.5,317.1 80.3,316.0 81.2,314.5 82.1,314.2 83.0,313.1 83.9,311.3 84.8,311.3 85.7,311.3 86.6,311.3 87.5,312.8 88.4,315.4 89.2,316.1 90.1,315.3 91.0,314.8 91.9,314.9 92.8,316.1 93.7,317.7 94.6,316.6 95.5,314.6 96.4,314.8 97.2,315.1 98.1,314.7 99.0,314.7 99.9,315.6 100.8,316.4 101.7,316.2 102.6,315.1 103.5,314.5 104.4,315.0 105.2,315.4 106.1,314.8 107.0,314.0 107.9,314.1 108.8,315.1 109.7,316.6 110.6,317.8 111.5,318.1 112.4,317.8 113.2,318.2 114.1,319.2 115.0,318.9 115.9,317.7 116.8,317.5 117.7,318.4 118.6,319.2 119.5,318.9 120.4,318.0 121.3,317.9 122.1,318.3 123.0,318.3 123.9,317.9 124.8,317.7 125.7,318.4 126.6,319.4 127.5,319.6 128.4,318.9 129.3,317.5 130.1,317.4 131.0,319.6 131.9,320.8 132.8,320.5 133.7,318.5 134.6,315.4 135.5,313.9 136.4,313.5 137.3,313.4 138.1,313.2 139.0,313.7 139.9,314.7 140.8,315.4 141.7,315.7 142.6,315.1 143.5,314.5 144.4,315.0 145.3,314.2 146.1,312.8 147.0,312.8 147.9,312.8 148.8,312.8 149.7,313.5 150.6,313.3 151.5,312.5 152.4,312.6 153.3,313.2 154.2,313.5 155.0,313.8 155.9,313.9 156.8,313.0 157.7,311.9 158.6,311.8 159.5,312.0 160.4,311.5 161.3,311.3 162.2,311.5 163.0,312.3 163.9,313.3 164.8,313.8 165.7,313.6 166.6,313.6 167.5,313.7 168.4,313.5 169.3,313.6 170.2,313.9 171.0,314.6 171.9,316.0 172.8,317.6 173.7,318.5 174.6,318.6 175.5,318.8 176.4,318.3 177.3,316.2 178.2,313.8 179.0,312.3 179.9,311.6 180.8,311.7 181.7,312.0 182.6,312.5 183.5,313.1 184.4,313.3 185.3,313.2 186.2,313.2 187.1,313.4 187.9,313.2 188.8,312.8 189.7,312.7 190.6,313.0 191.5,313.6 192.4,314.2 193.3,314.2 194.2,313.3 195.1,312.1 195.9,311.5 196.8,311.6 197.7,311.8 198.6,312.8 199.5,313.8 200.4,313.2 201.3,311.7 202.2,311.3 203.1,311.3 203.9,311.3 204.8,311.3 205.7,312.2 206.6,313.4 207.5,313.6 208.4,313.0 209.3,312.4 210.2,312.1 211.1,311.8 211.9,311.7 212.8,311.9 213.7,312.2 214.6,313.0 215.5,314.0 216.4,313.8 217.3,312.6 218.2,311.9 219.1,312.1 220.0,312.3 220.8,312.1 221.7,312.2 222.6,312.8 223.5,313.3 224.4,312.6 225.3,311.7 226.2,311.3 227.1,311.5 228.0,312.7 228.8,312.6 229.7,311.8 230.6,312.9 231.5,314.2 232.4,313.6 233.3,312.7 234.2,312.6 235.1,312.3 236.0,311.3 236.8,311.3 237.7,311.3 238.6,311.6 239.5,311.7 240.4,311.3 241.3,311.3 242.2,312.3 243.1,313.2 244.0,312.8 244.8,311.9 245.7,311.8 246.6,312.2 247.5,312.0 248.4,311.3 249.3,311.3 250.2,311.3 251.1,311.4 252.0,311.6 252.9,311.6 253.7,311.4 254.6,311.9 255.5,312.3 256.4,312.4 257.3,312.5 258.2,312.6 259.1,312.4 260.0,311.9 260.9,311.5 261.7,311.8 262.6,312.5 263.5,313.6 264.4,314.8 265.3,314.9" fill="none" stroke="#00ffff" stroke-width="1.3" stroke-linejoin="round"/>
<rect x="140.5" y="347.5" width="123.6" height="52.8" fill="#fff" stroke="#c8c8c8" stroke-width="0.8"/>
<line x1="141.5" y1="356.1" x2="150.0" y2="356.1" stroke="#f01010" stroke-width="1.2"/>
<text x="151.1" y="357.3" font-size="10.3">P</text>
<text x="158.1" y="362.40000000000003" font-size="7.6">B</text>
<text x="165.77" y="357.3" font-size="10.3">=100nm</text>
<line x1="141.5" y1="373.4" x2="150.0" y2="373.4" stroke="#10e010" stroke-width="1.2"/>
<text x="151.1" y="374.59999999999997" font-size="10.3">P</text>
<text x="158.1" y="379.7" font-size="7.6">B</text>
<text x="165.77" y="374.59999999999997" font-size="10.3">=200nm</text>
<line x1="141.5" y1="391" x2="150.0" y2="391" stroke="#1010f0" stroke-width="1.2"/>
<text x="151.1" y="392.2" font-size="10.3">P</text>
<text x="158.1" y="397.3" font-size="7.6">B</text>
<text x="165.77" y="392.2" font-size="10.3">=300nm</text>
<line x1="203.8" y1="356.1" x2="212.3" y2="356.1" stroke="#f0f000" stroke-width="1.2"/>
<text x="213.4" y="357.3" font-size="10.3">P</text>
<text x="220.4" y="362.40000000000003" font-size="7.6">B</text>
<text x="228.07" y="357.3" font-size="10.3">=400nm</text>
<line x1="203.8" y1="373.4" x2="212.3" y2="373.4" stroke="#00f0f0" stroke-width="1.2"/>
<text x="213.4" y="374.59999999999997" font-size="10.3">P</text>
<text x="220.4" y="379.7" font-size="7.6">B</text>
<text x="228.07" y="374.59999999999997" font-size="10.3">=500nm</text>
<text x="59.68" y="413.90" text-anchor="middle" font-size="11">0.5</text>
<text x="100.80" y="413.90" text-anchor="middle" font-size="11">1</text>
<text x="141.93" y="413.90" text-anchor="middle" font-size="11">1.5</text>
<text x="183.05" y="413.90" text-anchor="middle" font-size="11">2</text>
<text x="224.18" y="413.90" text-anchor="middle" font-size="11">2.5</text>
<text x="265.30" y="413.90" text-anchor="middle" font-size="11">3</text>
<text x="31.80" y="404.50" text-anchor="end" font-size="11">0</text>
<text x="31.80" y="359.70" text-anchor="end" font-size="11">0.5</text>
<text x="31.80" y="314.90" text-anchor="end" font-size="11">1</text>
<text x="150.15" y="428.50" text-anchor="middle" font-size="13">Wavelength (<tspan font-style="italic" font-weight="normal" style="stroke-width:0.15px" dx="1">μ</tspan><tspan dx="0.8">m)</tspan></text>
<text transform="translate(14.6,355.80) rotate(-90)" text-anchor="middle" font-size="13">Absorptance</text>
<text x="146.1" y="298" text-anchor="middle" font-size="14">(e)</text>
<defs><clipPath id="clipb"><rect x="310" y="20.5" width="199" height="98.0"/></clipPath>
<filter id="blb" x="-10%" y="-10%" width="120%" height="120%"><feGaussianBlur stdDeviation="0.6 3.67"/></filter>
<linearGradient id="gb_0" x1="0" x2="1" y1="0" y2="0"><stop offset="0.0000" stop-color="#ba000b"/><stop offset="0.0084" stop-color="#c0000b"/><stop offset="0.0168" stop-color="#c9000b"/><stop offset="0.0252" stop-color="#d7000b"/><stop offset="0.0336" stop-color="#cd000b"/><stop offset="0.0420" stop-color="#e0000b"/><stop offset="0.0504" stop-color="#e6000b"/><stop offset="0.0588" stop-color="#c4000b"/><stop offset="0.0672" stop-color="#cb000b"/><stop offset="0.0756" stop-color="#d7000b"/><stop offset="0.0840" stop-color="#d5000b"/><stop offset="0.0924" stop-color="#ce000b"/><stop offset="0.1008" stop-color="#dd000b"/><stop offset="0.1092" stop-color="#cb000b"/><stop offset="0.1176" stop-color="#ae000b"/><stop offset="0.1261" stop-color="#a4000b"/><stop offset="0.1345" stop-color="#b8000b"/><stop offset="0.1429" stop-color="#c0000b"/><stop offset="0.1513" stop-color="#c0000b"/><stop offset="0.1597" stop-color="#ba000b"/><stop offset="0.1681" stop-color="#cd000b"/><stop offset="0.1765" stop-color="#c8000b"/><stop offset="0.1849" stop-color="#c7000b"/><stop offset="0.1933" stop-color="#dd000b"/><stop offset="0.2017" stop-color="#e1000b"/><stop offset="0.2101" stop-color="#df000b"/><stop offset="0.2185" stop-color="#c3000b"/><stop offset="0.2269" stop-color="#c4000b"/><stop offset="0.2353" stop-color="#bb000b"/><stop offset="0.2437" stop-color="#b5000b"/><stop offset="0.2521" stop-color="#c9000b"/><stop offset="0.2605" stop-color="#b0000b"/><stop offset="0.2689" stop-color="#af000b"/><stop offset="0.2773" stop-color="#c6000b"/><stop offset="0.2857" stop-color="#c5000b"/><stop offset="0.2941" stop-color="#c9000b"/><stop offset="0.3025" stop-color="#d1000b"/><stop offset="0.3109" stop-color="#d6000b"/><stop offset="0.3193" stop-color="#d6000b"/><stop offset="0.3277" stop-color="#c6000b"/><stop offset="0.3361" stop-color="#c4000b"/><stop offset="0.3445" stop-color="#ba000b"/><stop offset="0.3529" stop-color="#a0000b"/><stop offset="0.3613" stop-color="#98000b"/><stop offset="0.3697" stop-color="#b1000b"/><stop offset="0.3782" stop-color="#dc000b"/><stop offset="0.3866" stop-color="#b5000b"/><stop offset="0.3950" stop-color="#a9000b"/><stop offset="0.4034" stop-color="#a1000b"/><stop offset="0.4118" stop-color="#95000b"/><stop offset="0.4202" stop-color="#7f000b"/><stop offset="0.4286" stop-color="#a0000b"/><stop offset="0.4370" stop-color="#ce000b"/><stop offset="0.4454" stop-color="#e1000b"/><stop offset="0.4538" stop-color="#e7000b"/><stop offset="0.4622" stop-color="#ad000b"/><stop offset="0.4706" stop-color="#b3000b"/><stop offset="0.4790" stop-color="#cd000b"/><stop offset="0.4874" stop-color="#c0000b"/><stop offset="0.4958" stop-color="#ba000b"/><stop offset="0.5042" stop-color="#b8000b"/><stop offset="0.5126" stop-color="#c4000b"/><stop offset="0.5210" stop-color="#ab000b"/><stop offset="0.5294" stop-color="#9f000b"/><stop offset="0.5378" stop-color="#b1000b"/><stop offset="0.5462" stop-color="#bc000b"/><stop offset="0.5546" stop-color="#ca000b"/><stop offset="0.5630" stop-color="#bd000b"/><stop offset="0.5714" stop-color="#ae000b"/><stop offset="0.5798" stop-color="#d9000b"/><stop offset="0.5882" stop-color="#e3000b"/><stop offset="0.5966" stop-color="#b5000b"/><stop offset="0.6050" stop-color="#8f000b"/><stop offset="0.6134" stop-color="#a1000b"/><stop offset="0.6218" stop-color="#9b000b"/><stop offset="0.6303" stop-color="#b2000b"/><stop offset="0.6387" stop-color="#db000b"/><stop offset="0.6471" stop-color="#d6000b"/><stop offset="0.6555" stop-color="#d6000b"/><stop offset="0.6639" stop-color="#dd000b"/><stop offset="0.6723" stop-color="#f1000b"/><stop offset="0.6807" stop-color="#b9000b"/><stop offset="0.6891" stop-color="#ab000b"/><stop offset="0.6975" stop-color="#c8000b"/><stop offset="0.7059" stop-color="#bc000b"/><stop offset="0.7143" stop-color="#c4000b"/><stop offset="0.7227" stop-color="#a5000b"/><stop offset="0.7311" stop-color="#83000b"/><stop offset="0.7395" stop-color="#7f000b"/><stop offset="0.7479" stop-color="#96000b"/><stop offset="0.7563" stop-color="#96000b"/><stop offset="0.7647" stop-color="#a2000b"/><stop offset="0.7731" stop-color="#a6000b"/><stop offset="0.7815" stop-color="#7f000b"/><stop offset="0.7899" stop-color="#7f000b"/><stop offset="0.7983" stop-color="#7f000b"/><stop offset="0.8067" stop-color="#7f000b"/><stop offset="0.8151" stop-color="#95000b"/><stop offset="0.8235" stop-color="#9d000b"/><stop offset="0.8319" stop-color="#89000b"/><stop offset="0.8403" stop-color="#a0000b"/><stop offset="0.8487" stop-color="#93000b"/><stop offset="0.8571" stop-color="#95000b"/><stop offset="0.8655" stop-color="#a6000b"/><stop offset="0.8739" stop-color="#96000b"/><stop offset="0.8824" stop-color="#a1000b"/><stop offset="0.8908" stop-color="#93000b"/><stop offset="0.8992" stop-color="#91000b"/><stop offset="0.9076" stop-color="#92000b"/><stop offset="0.9160" stop-color="#88000b"/><stop offset="0.9244" stop-color="#8e000b"/><stop offset="0.9328" stop-color="#af000b"/><stop offset="0.9412" stop-color="#bd000b"/><stop offset="0.9496" stop-color="#a4000b"/><stop offset="0.9580" stop-color="#82000b"/><stop offset="0.9664" stop-color="#b3000b"/><stop offset="0.9748" stop-color="#cd000b"/><stop offset="0.9832" stop-color="#e0000b"/><stop offset="0.9916" stop-color="#b9000b"/><stop offset="1.0000" stop-color="#9e000b"/></linearGradient>
<linearGradient id="gb_1" x1="0" x2="1" y1="0" y2="0"><stop offset="0.0000" stop-color="#b5000b"/><stop offset="0.0084" stop-color="#bf000b"/><stop offset="0.0168" stop-color="#c7000b"/><stop offset="0.0252" stop-color="#d3000b"/><stop offset="0.0336" stop-color="#c8000b"/><stop offset="0.0420" stop-color="#cd000b"/><stop offset="0.0504" stop-color="#d8000b"/><stop offset="0.0588" stop-color="#d1000b"/><stop offset="0.0672" stop-color="#d3000b"/><stop offset="0.0756" stop-color="#d2000b"/><stop offset="0.0840" stop-color="#e5000b"/><stop offset="0.0924" stop-color="#e0000b"/><stop offset="0.1008" stop-color="#dd000b"/><stop offset="0.1092" stop-color="#c5000b"/><stop offset="0.1176" stop-color="#a9000b"/><stop offset="0.1261" stop-color="#a1000b"/><stop offset="0.1345" stop-color="#9e000b"/><stop offset="0.1429" stop-color="#b0000b"/><stop offset="0.1513" stop-color="#b4000b"/><stop offset="0.1597" stop-color="#ba000b"/><stop offset="0.1681" stop-color="#cb000b"/><stop offset="0.1765" stop-color="#bf000b"/><stop offset="0.1849" stop-color="#be000b"/><stop offset="0.1933" stop-color="#d9000b"/><stop offset="0.2017" stop-color="#e6000b"/><stop offset="0.2101" stop-color="#df000b"/><stop offset="0.2185" stop-color="#c4000b"/><stop offset="0.2269" stop-color="#c2000b"/><stop offset="0.2353" stop-color="#b8000b"/><stop offset="0.2437" stop-color="#b4000b"/><stop offset="0.2521" stop-color="#c3000b"/><stop offset="0.2605" stop-color="#b6000b"/><stop offset="0.2689" stop-color="#b2000b"/><stop offset="0.2773" stop-color="#ba000b"/><stop offset="0.2857" stop-color="#b9000b"/><stop offset="0.2941" stop-color="#c9000b"/><stop offset="0.3025" stop-color="#e1000b"/><stop offset="0.3109" stop-color="#e0000b"/><stop offset="0.3193" stop-color="#d4000b"/><stop offset="0.3277" stop-color="#d2000b"/><stop offset="0.3361" stop-color="#cd000b"/><stop offset="0.3445" stop-color="#b4000b"/><stop offset="0.3529" stop-color="#b1000b"/><stop offset="0.3613" stop-color="#af000b"/><stop offset="0.3697" stop-color="#b6000b"/><stop offset="0.3782" stop-color="#f0000b"/><stop offset="0.3866" stop-color="#c5000b"/><stop offset="0.3950" stop-color="#b5000b"/><stop offset="0.4034" stop-color="#ae000b"/><stop offset="0.4118" stop-color="#8a000b"/><stop offset="0.4202" stop-color="#7f000b"/><stop offset="0.4286" stop-color="#90000b"/><stop offset="0.4370" stop-color="#bf000b"/><stop offset="0.4454" stop-color="#d5000b"/><stop offset="0.4538" stop-color="#d7000b"/><stop offset="0.4622" stop-color="#b4000b"/><stop offset="0.4706" stop-color="#ca000b"/><stop offset="0.4790" stop-color="#ce000b"/><stop offset="0.4874" stop-color="#bb000b"/><stop offset="0.4958" stop-color="#ba000b"/><stop offset="0.5042" stop-color="#b9000b"/><stop offset="0.5126" stop-color="#db000b"/><stop offset="0.5210" stop-color="#ca000b"/><stop offset="0.5294" stop-color="#b7000b"/><stop offset="0.5378" stop-color="#aa000b"/><stop offset="0.5462" stop-color="#b6000b"/><stop offset="0.5546" stop-color="#c7000b"/><stop offset="0.5630" stop-color="#c2000b"/><stop offset="0.5714" stop-color="#b4000b"/><stop offset="0.5798" stop-color="#d2000b"/><stop offset="0.5882" stop-color="#c8000b"/><stop offset="0.5966" stop-color="#8f000b"/><stop offset="0.6050" stop-color="#93000b"/><stop offset="0.6134" stop-color="#a7000b"/><stop offset="0.6218" stop-color="#a5000b"/><stop offset="0.6303" stop-color="#ab000b"/><stop offset="0.6387" stop-color="#e1000b"/><stop offset="0.6471" stop-color="#e9000b"/><stop offset="0.6555" stop-color="#d3000b"/><stop offset="0.6639" stop-color="#bf000b"/><stop offset="0.6723" stop-color="#d2000b"/><stop offset="0.6807" stop-color="#cd000b"/><stop offset="0.6891" stop-color="#ea000b"/><stop offset="0.6975" stop-color="#f0000b"/><stop offset="0.7059" stop-color="#d6000b"/><stop offset="0.7143" stop-color="#c0000b"/><stop offset="0.7227" stop-color="#96000b"/><stop offset="0.7311" stop-color="#87000b"/><stop offset="0.7395" stop-color="#8c000b"/><stop offset="0.7479" stop-color="#86000b"/><stop offset="0.7563" stop-color="#80000b"/><stop offset="0.7647" stop-color="#9c000b"/><stop offset="0.7731" stop-color="#8e000b"/><stop offset="0.7815" stop-color="#7f000b"/><stop offset="0.7899" stop-color="#85000b"/><stop offset="0.7983" stop-color="#7f000b"/><stop offset="0.8067" stop-color="#7f000b"/><stop offset="0.8151" stop-color="#7f000b"/><stop offset="0.8235" stop-color="#89000b"/><stop offset="0.8319" stop-color="#a3000b"/><stop offset="0.8403" stop-color="#a7000b"/><stop offset="0.8487" stop-color="#85000b"/><stop offset="0.8571" stop-color="#9b000b"/><stop offset="0.8655" stop-color="#ca000b"/><stop offset="0.8739" stop-color="#bf000b"/><stop offset="0.8824" stop-color="#b6000b"/><stop offset="0.8908" stop-color="#92000b"/><stop offset="0.8992" stop-color="#8b000b"/><stop offset="0.9076" stop-color="#7f000b"/><stop offset="0.9160" stop-color="#7f000b"/><stop offset="0.9244" stop-color="#7f000b"/><stop offset="0.9328" stop-color="#82000b"/><stop offset="0.9412" stop-color="#93000b"/><stop offset="0.9496" stop-color="#88000b"/><stop offset="0.9580" stop-color="#85000b"/><stop offset="0.9664" stop-color="#c0000b"/><stop offset="0.9748" stop-color="#c9000b"/><stop offset="0.9832" stop-color="#dd000b"/><stop offset="0.9916" stop-color="#cf000b"/><stop offset="1.0000" stop-color="#9c000b"/></linearGradient>
<linearGradient id="gb_2" x1="0" x2="1" y1="0" y2="0"><stop offset="0.0000" stop-color="#b7000b"/><stop offset="0.0084" stop-color="#b5000b"/><stop offset="0.0168" stop-color="#c8000b"/><stop offset="0.0252" stop-color="#cc000b"/><stop offset="0.0336" stop-color="#b9000b"/><stop offset="0.0420" stop-color="#c0000b"/><stop offset="0.0504" stop-color="#d2000b"/><stop offset="0.0588" stop-color="#d4000b"/><stop offset="0.0672" stop-color="#de000b"/><stop offset="0.0756" stop-color="#e0000b"/><stop offset="0.0840" stop-color="#e1000b"/><stop offset="0.0924" stop-color="#cf000b"/><stop offset="0.1008" stop-color="#c6000b"/><stop offset="0.1092" stop-color="#b3000b"/><stop offset="0.1176" stop-color="#a3000b"/><stop offset="0.1261" stop-color="#a4000b"/><stop offset="0.1345" stop-color="#aa000b"/><stop offset="0.1429" stop-color="#b8000b"/><stop offset="0.1513" stop-color="#b1000b"/><stop offset="0.1597" stop-color="#c9000b"/><stop offset="0.1681" stop-color="#de000b"/><stop offset="0.1765" stop-color="#c4000b"/><stop offset="0.1849" stop-color="#b8000b"/><stop offset="0.1933" stop-color="#c5000b"/><stop offset="0.2017" stop-color="#df000b"/><stop offset="0.2101" stop-color="#de000b"/><stop offset="0.2185" stop-color="#d0000b"/><stop offset="0.2269" stop-color="#c2000b"/><stop offset="0.2353" stop-color="#b8000b"/><stop offset="0.2437" stop-color="#be000b"/><stop offset="0.2521" stop-color="#c8000b"/><stop offset="0.2605" stop-color="#c5000b"/><stop offset="0.2689" stop-color="#bb000b"/><stop offset="0.2773" stop-color="#c1000b"/><stop offset="0.2857" stop-color="#c3000b"/><stop offset="0.2941" stop-color="#d8000b"/><stop offset="0.3025" stop-color="#f1000b"/><stop offset="0.3109" stop-color="#e4000b"/><stop offset="0.3193" stop-color="#cb000b"/><stop offset="0.3277" stop-color="#d0000b"/><stop offset="0.3361" stop-color="#e8000b"/><stop offset="0.3445" stop-color="#bd000b"/><stop offset="0.3529" stop-color="#b2000b"/><stop offset="0.3613" stop-color="#a6000b"/><stop offset="0.3697" stop-color="#9e000b"/><stop offset="0.3782" stop-color="#cb000b"/><stop offset="0.3866" stop-color="#c5000b"/><stop offset="0.3950" stop-color="#b8000b"/><stop offset="0.4034" stop-color="#a6000b"/><stop offset="0.4118" stop-color="#88000b"/><stop offset="0.4202" stop-color="#8e000b"/><stop offset="0.4286" stop-color="#b6000b"/><stop offset="0.4370" stop-color="#da000b"/><stop offset="0.4454" stop-color="#d9000b"/><stop offset="0.4538" stop-color="#c9000b"/><stop offset="0.4622" stop-color="#8b000b"/><stop offset="0.4706" stop-color="#9d000b"/><stop offset="0.4790" stop-color="#a8000b"/><stop offset="0.4874" stop-color="#b2000b"/><stop offset="0.4958" stop-color="#d3000b"/><stop offset="0.5042" stop-color="#e0000b"/><stop offset="0.5126" stop-color="#cb000b"/><stop offset="0.5210" stop-color="#c7000b"/><stop offset="0.5294" stop-color="#c5000b"/><stop offset="0.5378" stop-color="#8a000b"/><stop offset="0.5462" stop-color="#8d000b"/><stop offset="0.5546" stop-color="#9b000b"/><stop offset="0.5630" stop-color="#b0000b"/><stop offset="0.5714" stop-color="#c1000b"/><stop offset="0.5798" stop-color="#c4000b"/><stop offset="0.5882" stop-color="#b1000b"/><stop offset="0.5966" stop-color="#a9000b"/><stop offset="0.6050" stop-color="#95000b"/><stop offset="0.6134" stop-color="#84000b"/><stop offset="0.6218" stop-color="#88000b"/><stop offset="0.6303" stop-color="#b4000b"/><stop offset="0.6387" stop-color="#ff020b"/><stop offset="0.6471" stop-color="#f1000b"/><stop offset="0.6555" stop-color="#c3000b"/><stop offset="0.6639" stop-color="#b6000b"/><stop offset="0.6723" stop-color="#c5000b"/><stop offset="0.6807" stop-color="#bc000b"/><stop offset="0.6891" stop-color="#cb000b"/><stop offset="0.6975" stop-color="#eb000b"/><stop offset="0.7059" stop-color="#e2000b"/><stop offset="0.7143" stop-color="#d7000b"/><stop offset="0.7227" stop-color="#b3000b"/><stop offset="0.7311" stop-color="#9f000b"/><stop offset="0.7395" stop-color="#9e000b"/><stop offset="0.7479" stop-color="#8c000b"/><stop offset="0.7563" stop-color="#84000b"/><stop offset="0.7647" stop-color="#a5000b"/><stop offset="0.7731" stop-color="#ad000b"/><stop offset="0.7815" stop-color="#85000b"/><stop offset="0.7899" stop-color="#84000b"/><stop offset="0.7983" stop-color="#7f000b"/><stop offset="0.8067" stop-color="#7f000b"/><stop offset="0.8151" stop-color="#7f000b"/><stop offset="0.8235" stop-color="#7f000b"/><stop offset="0.8319" stop-color="#7f000b"/><stop offset="0.8403" stop-color="#93000b"/><stop offset="0.8487" stop-color="#88000b"/><stop offset="0.8571" stop-color="#a6000b"/><stop offset="0.8655" stop-color="#cd000b"/><stop offset="0.8739" stop-color="#c0000b"/><stop offset="0.8824" stop-color="#ab000b"/><stop offset="0.8908" stop-color="#90000b"/><stop offset="0.8992" stop-color="#7f000b"/><stop offset="0.9076" stop-color="#7f000b"/><stop offset="0.9160" stop-color="#7f000b"/><stop offset="0.9244" stop-color="#82000b"/><stop offset="0.9328" stop-color="#92000b"/><stop offset="0.9412" stop-color="#b0000b"/><stop offset="0.9496" stop-color="#a1000b"/><stop offset="0.9580" stop-color="#96000b"/><stop offset="0.9664" stop-color="#c3000b"/><stop offset="0.9748" stop-color="#c8000b"/><stop offset="0.9832" stop-color="#cd000b"/><stop offset="0.9916" stop-color="#c6000b"/><stop offset="1.0000" stop-color="#c4000b"/></linearGradient>
<linearGradient id="gb_3" x1="0" x2="1" y1="0" y2="0"><stop offset="0.0000" stop-color="#bb000b"/><stop offset="0.0084" stop-color="#bb000b"/><stop offset="0.0168" stop-color="#c2000b"/><stop offset="0.0252" stop-color="#c5000b"/><stop offset="0.0336" stop-color="#b8000b"/><stop offset="0.0420" stop-color="#bb000b"/><stop offset="0.0504" stop-color="#cb000b"/><stop offset="0.0588" stop-color="#c6000b"/><stop offset="0.0672" stop-color="#c1000b"/><stop offset="0.0756" stop-color="#ca000b"/><stop offset="0.0840" stop-color="#d6000b"/><stop offset="0.0924" stop-color="#c4000b"/><stop offset="0.1008" stop-color="#c1000b"/><stop offset="0.1092" stop-color="#c0000b"/><stop offset="0.1176" stop-color="#b8000b"/><stop offset="0.1261" stop-color="#b3000b"/><stop offset="0.1345" stop-color="#ad000b"/><stop offset="0.1429" stop-color="#b2000b"/><stop offset="0.1513" stop-color="#a7000b"/><stop offset="0.1597" stop-color="#b2000b"/><stop offset="0.1681" stop-color="#c5000b"/><stop offset="0.1765" stop-color="#c1000b"/><stop offset="0.1849" stop-color="#bf000b"/><stop offset="0.1933" stop-color="#c9000b"/><stop offset="0.2017" stop-color="#e7000b"/><stop offset="0.2101" stop-color="#e5000b"/><stop offset="0.2185" stop-color="#d2000b"/><stop offset="0.2269" stop-color="#c3000b"/><stop offset="0.2353" stop-color="#bb000b"/><stop offset="0.2437" stop-color="#c4000b"/><stop offset="0.2521" stop-color="#db000b"/><stop offset="0.2605" stop-color="#ce000b"/><stop offset="0.2689" stop-color="#bf000b"/><stop offset="0.2773" stop-color="#bc000b"/><stop offset="0.2857" stop-color="#c2000b"/><stop offset="0.2941" stop-color="#d1000b"/><stop offset="0.3025" stop-color="#da000b"/><stop offset="0.3109" stop-color="#d3000b"/><stop offset="0.3193" stop-color="#c2000b"/><stop offset="0.3277" stop-color="#c3000b"/><stop offset="0.3361" stop-color="#cf000b"/><stop offset="0.3445" stop-color="#c8000b"/><stop offset="0.3529" stop-color="#c4000b"/><stop offset="0.3613" stop-color="#b6000b"/><stop offset="0.3697" stop-color="#b8000b"/><stop offset="0.3782" stop-color="#c3000b"/><stop offset="0.3866" stop-color="#b8000b"/><stop offset="0.3950" stop-color="#a8000b"/><stop offset="0.4034" stop-color="#aa000b"/><stop offset="0.4118" stop-color="#a2000b"/><stop offset="0.4202" stop-color="#a6000b"/><stop offset="0.4286" stop-color="#ba000b"/><stop offset="0.4370" stop-color="#c0000b"/><stop offset="0.4454" stop-color="#c0000b"/><stop offset="0.4538" stop-color="#c0000b"/><stop offset="0.4622" stop-color="#9b000b"/><stop offset="0.4706" stop-color="#a8000b"/><stop offset="0.4790" stop-color="#9d000b"/><stop offset="0.4874" stop-color="#b2000b"/><stop offset="0.4958" stop-color="#db000b"/><stop offset="0.5042" stop-color="#e4000b"/><stop offset="0.5126" stop-color="#c2000b"/><stop offset="0.5210" stop-color="#ad000b"/><stop offset="0.5294" stop-color="#be000b"/><stop offset="0.5378" stop-color="#af000b"/><stop offset="0.5462" stop-color="#af000b"/><stop offset="0.5546" stop-color="#b7000b"/><stop offset="0.5630" stop-color="#c0000b"/><stop offset="0.5714" stop-color="#aa000b"/><stop offset="0.5798" stop-color="#bc000b"/><stop offset="0.5882" stop-color="#ba000b"/><stop offset="0.5966" stop-color="#bb000b"/><stop offset="0.6050" stop-color="#94000b"/><stop offset="0.6134" stop-color="#7f000b"/><stop offset="0.6218" stop-color="#7f000b"/><stop offset="0.6303" stop-color="#a0000b"/><stop offset="0.6387" stop-color="#f2000b"/><stop offset="0.6471" stop-color="#ff010b"/><stop offset="0.6555" stop-color="#d9000b"/><stop offset="0.6639" stop-color="#ca000b"/><stop offset="0.6723" stop-color="#c9000b"/><stop offset="0.6807" stop-color="#d1000b"/><stop offset="0.6891" stop-color="#d0000b"/><stop offset="0.6975" stop-color="#e2000b"/><stop offset="0.7059" stop-color="#ed000b"/><stop offset="0.7143" stop-color="#ed000b"/><stop offset="0.7227" stop-color="#d9000b"/><stop offset="0.7311" stop-color="#b0000b"/><stop offset="0.7395" stop-color="#a3000b"/><stop offset="0.7479" stop-color="#a8000b"/><stop offset="0.7563" stop-color="#b5000b"/><stop offset="0.7647" stop-color="#b6000b"/><stop offset="0.7731" stop-color="#b5000b"/><stop offset="0.7815" stop-color="#82000b"/><stop offset="0.7899" stop-color="#7f000b"/><stop offset="0.7983" stop-color="#7f000b"/><stop offset="0.8067" stop-color="#7f000b"/><stop offset="0.8151" stop-color="#7f000b"/><stop offset="0.8235" stop-color="#7f000b"/><stop offset="0.8319" stop-color="#7f000b"/><stop offset="0.8403" stop-color="#83000b"/><stop offset="0.8487" stop-color="#8b000b"/><stop offset="0.8571" stop-color="#ae000b"/><stop offset="0.8655" stop-color="#b3000b"/><stop offset="0.8739" stop-color="#c7000b"/><stop offset="0.8824" stop-color="#c4000b"/><stop offset="0.8908" stop-color="#85000b"/><stop offset="0.8992" stop-color="#7f000b"/><stop offset="0.9076" stop-color="#7f000b"/><stop offset="0.9160" stop-color="#7f000b"/><stop offset="0.9244" stop-color="#7f000b"/><stop offset="0.9328" stop-color="#7f000b"/><stop offset="0.9412" stop-color="#91000b"/><stop offset="0.9496" stop-color="#8c000b"/><stop offset="0.9580" stop-color="#92000b"/><stop offset="0.9664" stop-color="#ca000b"/><stop offset="0.9748" stop-color="#cb000b"/><stop offset="0.9832" stop-color="#c4000b"/><stop offset="0.9916" stop-color="#b6000b"/><stop offset="1.0000" stop-color="#bc000b"/></linearGradient>
<linearGradient id="gb_4" x1="0" x2="1" y1="0" y2="0"><stop offset="0.0000" stop-color="#b4000b"/><stop offset="0.0084" stop-color="#bb000b"/><stop offset="0.0168" stop-color="#d1000b"/><stop offset="0.0252" stop-color="#d5000b"/><stop offset="0.0336" stop-color="#bb000b"/><stop offset="0.0420" stop-color="#c4000b"/><stop offset="0.0504" stop-color="#c5000b"/><stop offset="0.0588" stop-color="#be000b"/><stop offset="0.0672" stop-color="#c3000b"/><stop offset="0.0756" stop-color="#b9000b"/><stop offset="0.0840" stop-color="#cb000b"/><stop offset="0.0924" stop-color="#cb000b"/><stop offset="0.1008" stop-color="#cd000b"/><stop offset="0.1092" stop-color="#c0000b"/><stop offset="0.1176" stop-color="#b2000b"/><stop offset="0.1261" stop-color="#ab000b"/><stop offset="0.1345" stop-color="#a5000b"/><stop offset="0.1429" stop-color="#ab000b"/><stop offset="0.1513" stop-color="#af000b"/><stop offset="0.1597" stop-color="#c0000b"/><stop offset="0.1681" stop-color="#cb000b"/><stop offset="0.1765" stop-color="#be000b"/><stop offset="0.1849" stop-color="#b4000b"/><stop offset="0.1933" stop-color="#c7000b"/><stop offset="0.2017" stop-color="#e8000b"/><stop offset="0.2101" stop-color="#ef000b"/><stop offset="0.2185" stop-color="#e5000b"/><stop offset="0.2269" stop-color="#ce000b"/><stop offset="0.2353" stop-color="#c3000b"/><stop offset="0.2437" stop-color="#d2000b"/><stop offset="0.2521" stop-color="#d9000b"/><stop offset="0.2605" stop-color="#c9000b"/><stop offset="0.2689" stop-color="#c4000b"/><stop offset="0.2773" stop-color="#ce000b"/><stop offset="0.2857" stop-color="#d4000b"/><stop offset="0.2941" stop-color="#de000b"/><stop offset="0.3025" stop-color="#dc000b"/><stop offset="0.3109" stop-color="#ca000b"/><stop offset="0.3193" stop-color="#ad000b"/><stop offset="0.3277" stop-color="#b6000b"/><stop offset="0.3361" stop-color="#ab000b"/><stop offset="0.3445" stop-color="#b0000b"/><stop offset="0.3529" stop-color="#af000b"/><stop offset="0.3613" stop-color="#a8000b"/><stop offset="0.3697" stop-color="#cc000b"/><stop offset="0.3782" stop-color="#cc000b"/><stop offset="0.3866" stop-color="#97000b"/><stop offset="0.3950" stop-color="#82000b"/><stop offset="0.4034" stop-color="#85000b"/><stop offset="0.4118" stop-color="#8f000b"/><stop offset="0.4202" stop-color="#a2000b"/><stop offset="0.4286" stop-color="#b2000b"/><stop offset="0.4370" stop-color="#cd000b"/><stop offset="0.4454" stop-color="#cf000b"/><stop offset="0.4538" stop-color="#c7000b"/><stop offset="0.4622" stop-color="#a4000b"/><stop offset="0.4706" stop-color="#8b000b"/><stop offset="0.4790" stop-color="#90000b"/><stop offset="0.4874" stop-color="#b0000b"/><stop offset="0.4958" stop-color="#ce000b"/><stop offset="0.5042" stop-color="#de000b"/><stop offset="0.5126" stop-color="#d0000b"/><stop offset="0.5210" stop-color="#bd000b"/><stop offset="0.5294" stop-color="#cb000b"/><stop offset="0.5378" stop-color="#d1000b"/><stop offset="0.5462" stop-color="#b4000b"/><stop offset="0.5546" stop-color="#d1000b"/><stop offset="0.5630" stop-color="#d2000b"/><stop offset="0.5714" stop-color="#bf000b"/><stop offset="0.5798" stop-color="#c2000b"/><stop offset="0.5882" stop-color="#c0000b"/><stop offset="0.5966" stop-color="#ab000b"/><stop offset="0.6050" stop-color="#7f000b"/><stop offset="0.6134" stop-color="#7f000b"/><stop offset="0.6218" stop-color="#7f000b"/><stop offset="0.6303" stop-color="#a8000b"/><stop offset="0.6387" stop-color="#e2000b"/><stop offset="0.6471" stop-color="#fc000b"/><stop offset="0.6555" stop-color="#e3000b"/><stop offset="0.6639" stop-color="#d0000b"/><stop offset="0.6723" stop-color="#d5000b"/><stop offset="0.6807" stop-color="#d3000b"/><stop offset="0.6891" stop-color="#c9000b"/><stop offset="0.6975" stop-color="#c3000b"/><stop offset="0.7059" stop-color="#d5000b"/><stop offset="0.7143" stop-color="#e1000b"/><stop offset="0.7227" stop-color="#b2000b"/><stop offset="0.7311" stop-color="#8f000b"/><stop offset="0.7395" stop-color="#9d000b"/><stop offset="0.7479" stop-color="#aa000b"/><stop offset="0.7563" stop-color="#b0000b"/><stop offset="0.7647" stop-color="#bb000b"/><stop offset="0.7731" stop-color="#b1000b"/><stop offset="0.7815" stop-color="#83000b"/><stop offset="0.7899" stop-color="#7f000b"/><stop offset="0.7983" stop-color="#87000b"/><stop offset="0.8067" stop-color="#98000b"/><stop offset="0.8151" stop-color="#9a000b"/><stop offset="0.8235" stop-color="#8c000b"/><stop offset="0.8319" stop-color="#83000b"/><stop offset="0.8403" stop-color="#9c000b"/><stop offset="0.8487" stop-color="#a9000b"/><stop offset="0.8571" stop-color="#bf000b"/><stop offset="0.8655" stop-color="#cb000b"/><stop offset="0.8739" stop-color="#c2000b"/><stop offset="0.8824" stop-color="#b3000b"/><stop offset="0.8908" stop-color="#8e000b"/><stop offset="0.8992" stop-color="#7f000b"/><stop offset="0.9076" stop-color="#7f000b"/><stop offset="0.9160" stop-color="#7f000b"/><stop offset="0.9244" stop-color="#82000b"/><stop offset="0.9328" stop-color="#a4000b"/><stop offset="0.9412" stop-color="#a6000b"/><stop offset="0.9496" stop-color="#8f000b"/><stop offset="0.9580" stop-color="#8e000b"/><stop offset="0.9664" stop-color="#b4000b"/><stop offset="0.9748" stop-color="#c2000b"/><stop offset="0.9832" stop-color="#cc000b"/><stop offset="0.9916" stop-color="#c3000b"/><stop offset="1.0000" stop-color="#c1000b"/></linearGradient>
<linearGradient id="gb_5" x1="0" x2="1" y1="0" y2="0"><stop offset="0.0000" stop-color="#b8000b"/><stop offset="0.0084" stop-color="#cb000b"/><stop offset="0.0168" stop-color="#dc000b"/><stop offset="0.0252" stop-color="#e4000b"/><stop offset="0.0336" stop-color="#c2000b"/><stop offset="0.0420" stop-color="#c9000b"/><stop offset="0.0504" stop-color="#c9000b"/><stop offset="0.0588" stop-color="#cd000b"/><stop offset="0.0672" stop-color="#d1000b"/><stop offset="0.0756" stop-color="#ca000b"/><stop offset="0.0840" stop-color="#d4000b"/><stop offset="0.0924" stop-color="#d6000b"/><stop offset="0.1008" stop-color="#db000b"/><stop offset="0.1092" stop-color="#c5000b"/><stop offset="0.1176" stop-color="#b9000b"/><stop offset="0.1261" stop-color="#c7000b"/><stop offset="0.1345" stop-color="#c7000b"/><stop offset="0.1429" stop-color="#c5000b"/><stop offset="0.1513" stop-color="#bd000b"/><stop offset="0.1597" stop-color="#bb000b"/><stop offset="0.1681" stop-color="#c8000b"/><stop offset="0.1765" stop-color="#c3000b"/><stop offset="0.1849" stop-color="#a8000b"/><stop offset="0.1933" stop-color="#c6000b"/><stop offset="0.2017" stop-color="#f4000b"/><stop offset="0.2101" stop-color="#f8000b"/><stop offset="0.2185" stop-color="#e4000b"/><stop offset="0.2269" stop-color="#d8000b"/><stop offset="0.2353" stop-color="#c3000b"/><stop offset="0.2437" stop-color="#c5000b"/><stop offset="0.2521" stop-color="#d8000b"/><stop offset="0.2605" stop-color="#d2000b"/><stop offset="0.2689" stop-color="#cb000b"/><stop offset="0.2773" stop-color="#c0000b"/><stop offset="0.2857" stop-color="#c5000b"/><stop offset="0.2941" stop-color="#cf000b"/><stop offset="0.3025" stop-color="#d4000b"/><stop offset="0.3109" stop-color="#cc000b"/><stop offset="0.3193" stop-color="#b7000b"/><stop offset="0.3277" stop-color="#ae000b"/><stop offset="0.3361" stop-color="#97000b"/><stop offset="0.3445" stop-color="#a4000b"/><stop offset="0.3529" stop-color="#ab000b"/><stop offset="0.3613" stop-color="#a5000b"/><stop offset="0.3697" stop-color="#9b000b"/><stop offset="0.3782" stop-color="#a1000b"/><stop offset="0.3866" stop-color="#8c000b"/><stop offset="0.3950" stop-color="#84000b"/><stop offset="0.4034" stop-color="#8c000b"/><stop offset="0.4118" stop-color="#8c000b"/><stop offset="0.4202" stop-color="#90000b"/><stop offset="0.4286" stop-color="#ac000b"/><stop offset="0.4370" stop-color="#c5000b"/><stop offset="0.4454" stop-color="#d1000b"/><stop offset="0.4538" stop-color="#c6000b"/><stop offset="0.4622" stop-color="#91000b"/><stop offset="0.4706" stop-color="#7f000b"/><stop offset="0.4790" stop-color="#84000b"/><stop offset="0.4874" stop-color="#b9000b"/><stop offset="0.4958" stop-color="#e0000b"/><stop offset="0.5042" stop-color="#f1000b"/><stop offset="0.5126" stop-color="#df000b"/><stop offset="0.5210" stop-color="#d1000b"/><stop offset="0.5294" stop-color="#c9000b"/><stop offset="0.5378" stop-color="#d4000b"/><stop offset="0.5462" stop-color="#b5000b"/><stop offset="0.5546" stop-color="#d4000b"/><stop offset="0.5630" stop-color="#c3000b"/><stop offset="0.5714" stop-color="#a8000b"/><stop offset="0.5798" stop-color="#c2000b"/><stop offset="0.5882" stop-color="#c2000b"/><stop offset="0.5966" stop-color="#aa000b"/><stop offset="0.6050" stop-color="#96000b"/><stop offset="0.6134" stop-color="#7f000b"/><stop offset="0.6218" stop-color="#9c000b"/><stop offset="0.6303" stop-color="#b9000b"/><stop offset="0.6387" stop-color="#cf000b"/><stop offset="0.6471" stop-color="#d8000b"/><stop offset="0.6555" stop-color="#c3000b"/><stop offset="0.6639" stop-color="#be000b"/><stop offset="0.6723" stop-color="#d6000b"/><stop offset="0.6807" stop-color="#db000b"/><stop offset="0.6891" stop-color="#e1000b"/><stop offset="0.6975" stop-color="#cb000b"/><stop offset="0.7059" stop-color="#d7000b"/><stop offset="0.7143" stop-color="#dd000b"/><stop offset="0.7227" stop-color="#d0000b"/><stop offset="0.7311" stop-color="#bb000b"/><stop offset="0.7395" stop-color="#af000b"/><stop offset="0.7479" stop-color="#a7000b"/><stop offset="0.7563" stop-color="#af000b"/><stop offset="0.7647" stop-color="#bb000b"/><stop offset="0.7731" stop-color="#b4000b"/><stop offset="0.7815" stop-color="#9a000b"/><stop offset="0.7899" stop-color="#7f000b"/><stop offset="0.7983" stop-color="#7f000b"/><stop offset="0.8067" stop-color="#7f000b"/><stop offset="0.8151" stop-color="#ae000b"/><stop offset="0.8235" stop-color="#a1000b"/><stop offset="0.8319" stop-color="#9a000b"/><stop offset="0.8403" stop-color="#98000b"/><stop offset="0.8487" stop-color="#7f000b"/><stop offset="0.8571" stop-color="#8e000b"/><stop offset="0.8655" stop-color="#a9000b"/><stop offset="0.8739" stop-color="#ab000b"/><stop offset="0.8824" stop-color="#ad000b"/><stop offset="0.8908" stop-color="#95000b"/><stop offset="0.8992" stop-color="#7f000b"/><stop offset="0.9076" stop-color="#7f000b"/><stop offset="0.9160" stop-color="#7f000b"/><stop offset="0.9244" stop-color="#7f000b"/><stop offset="0.9328" stop-color="#7f000b"/><stop offset="0.9412" stop-color="#83000b"/><stop offset="0.9496" stop-color="#7f000b"/><stop offset="0.9580" stop-color="#82000b"/><stop offset="0.9664" stop-color="#b5000b"/><stop offset="0.9748" stop-color="#cb000b"/><stop offset="0.9832" stop-color="#cb000b"/><stop offset="0.9916" stop-color="#a0000b"/><stop offset="1.0000" stop-color="#ad000b"/></linearGradient>
<linearGradient id="gb_6" x1="0" x2="1" y1="0" y2="0"><stop offset="0.0000" stop-color="#b9000b"/><stop offset="0.0084" stop-color="#c7000b"/><stop offset="0.0168" stop-color="#cb000b"/><stop offset="0.0252" stop-color="#d9000b"/><stop offset="0.0336" stop-color="#c7000b"/><stop offset="0.0420" stop-color="#ce000b"/><stop offset="0.0504" stop-color="#d9000b"/><stop offset="0.0588" stop-color="#da000b"/><stop offset="0.0672" stop-color="#c6000b"/><stop offset="0.0756" stop-color="#c6000b"/><stop offset="0.0840" stop-color="#e0000b"/><stop offset="0.0924" stop-color="#df000b"/><stop offset="0.1008" stop-color="#d8000b"/><stop offset="0.1092" stop-color="#ba000b"/><stop offset="0.1176" stop-color="#b2000b"/><stop offset="0.1261" stop-color="#be000b"/><stop offset="0.1345" stop-color="#b7000b"/><stop offset="0.1429" stop-color="#bc000b"/><stop offset="0.1513" stop-color="#c7000b"/><stop offset="0.1597" stop-color="#d1000b"/><stop offset="0.1681" stop-color="#cf000b"/><stop offset="0.1765" stop-color="#cf000b"/><stop offset="0.1849" stop-color="#b6000b"/><stop offset="0.1933" stop-color="#dd000b"/><stop offset="0.2017" stop-color="#f3000b"/><stop offset="0.2101" stop-color="#dd000b"/><stop offset="0.2185" stop-color="#cb000b"/><stop offset="0.2269" stop-color="#c8000b"/><stop offset="0.2353" stop-color="#cc000b"/><stop offset="0.2437" stop-color="#ca000b"/><stop offset="0.2521" stop-color="#d3000b"/><stop offset="0.2605" stop-color="#d3000b"/><stop offset="0.2689" stop-color="#cf000b"/><stop offset="0.2773" stop-color="#c2000b"/><stop offset="0.2857" stop-color="#c9000b"/><stop offset="0.2941" stop-color="#d8000b"/><stop offset="0.3025" stop-color="#dd000b"/><stop offset="0.3109" stop-color="#ce000b"/><stop offset="0.3193" stop-color="#b7000b"/><stop offset="0.3277" stop-color="#b1000b"/><stop offset="0.3361" stop-color="#b2000b"/><stop offset="0.3445" stop-color="#9d000b"/><stop offset="0.3529" stop-color="#86000b"/><stop offset="0.3613" stop-color="#7f000b"/><stop offset="0.3697" stop-color="#88000b"/><stop offset="0.3782" stop-color="#8d000b"/><stop offset="0.3866" stop-color="#87000b"/><stop offset="0.3950" stop-color="#7f000b"/><stop offset="0.4034" stop-color="#8e000b"/><stop offset="0.4118" stop-color="#91000b"/><stop offset="0.4202" stop-color="#9b000b"/><stop offset="0.4286" stop-color="#b7000b"/><stop offset="0.4370" stop-color="#d6000b"/><stop offset="0.4454" stop-color="#e8000b"/><stop offset="0.4538" stop-color="#c7000b"/><stop offset="0.4622" stop-color="#ab000b"/><stop offset="0.4706" stop-color="#95000b"/><stop offset="0.4790" stop-color="#8c000b"/><stop offset="0.4874" stop-color="#be000b"/><stop offset="0.4958" stop-color="#d6000b"/><stop offset="0.5042" stop-color="#ba000b"/><stop offset="0.5126" stop-color="#af000b"/><stop offset="0.5210" stop-color="#b1000b"/><stop offset="0.5294" stop-color="#b6000b"/><stop offset="0.5378" stop-color="#c4000b"/><stop offset="0.5462" stop-color="#bc000b"/><stop offset="0.5546" stop-color="#e8000b"/><stop offset="0.5630" stop-color="#db000b"/><stop offset="0.5714" stop-color="#be000b"/><stop offset="0.5798" stop-color="#ab000b"/><stop offset="0.5882" stop-color="#92000b"/><stop offset="0.5966" stop-color="#99000b"/><stop offset="0.6050" stop-color="#98000b"/><stop offset="0.6134" stop-color="#7f000b"/><stop offset="0.6218" stop-color="#a0000b"/><stop offset="0.6303" stop-color="#bc000b"/><stop offset="0.6387" stop-color="#c0000b"/><stop offset="0.6471" stop-color="#b0000b"/><stop offset="0.6555" stop-color="#a7000b"/><stop offset="0.6639" stop-color="#bc000b"/><stop offset="0.6723" stop-color="#d2000b"/><stop offset="0.6807" stop-color="#c6000b"/><stop offset="0.6891" stop-color="#de000b"/><stop offset="0.6975" stop-color="#e1000b"/><stop offset="0.7059" stop-color="#eb000b"/><stop offset="0.7143" stop-color="#ec000b"/><stop offset="0.7227" stop-color="#c9000b"/><stop offset="0.7311" stop-color="#a1000b"/><stop offset="0.7395" stop-color="#bb000b"/><stop offset="0.7479" stop-color="#bd000b"/><stop offset="0.7563" stop-color="#cd000b"/><stop offset="0.7647" stop-color="#cc000b"/><stop offset="0.7731" stop-color="#b7000b"/><stop offset="0.7815" stop-color="#9c000b"/><stop offset="0.7899" stop-color="#8a000b"/><stop offset="0.7983" stop-color="#7f000b"/><stop offset="0.8067" stop-color="#82000b"/><stop offset="0.8151" stop-color="#8d000b"/><stop offset="0.8235" stop-color="#8a000b"/><stop offset="0.8319" stop-color="#a5000b"/><stop offset="0.8403" stop-color="#b6000b"/><stop offset="0.8487" stop-color="#a2000b"/><stop offset="0.8571" stop-color="#a1000b"/><stop offset="0.8655" stop-color="#ac000b"/><stop offset="0.8739" stop-color="#97000b"/><stop offset="0.8824" stop-color="#8f000b"/><stop offset="0.8908" stop-color="#7f000b"/><stop offset="0.8992" stop-color="#7f000b"/><stop offset="0.9076" stop-color="#7f000b"/><stop offset="0.9160" stop-color="#7f000b"/><stop offset="0.9244" stop-color="#7f000b"/><stop offset="0.9328" stop-color="#7f000b"/><stop offset="0.9412" stop-color="#81000b"/><stop offset="0.9496" stop-color="#97000b"/><stop offset="0.9580" stop-color="#ad000b"/><stop offset="0.9664" stop-color="#c2000b"/><stop offset="0.9748" stop-color="#ca000b"/><stop offset="0.9832" stop-color="#ce000b"/><stop offset="0.9916" stop-color="#a7000b"/><stop offset="1.0000" stop-color="#b0000b"/></linearGradient>
<linearGradient id="gb_7" x1="0" x2="1" y1="0" y2="0"><stop offset="0.0000" stop-color="#ab000b"/><stop offset="0.0084" stop-color="#b3000b"/><stop offset="0.0168" stop-color="#be000b"/><stop offset="0.0252" stop-color="#ca000b"/><stop offset="0.0336" stop-color="#c2000b"/><stop offset="0.0420" stop-color="#c2000b"/><stop offset="0.0504" stop-color="#c2000b"/><stop offset="0.0588" stop-color="#dc000b"/><stop offset="0.0672" stop-color="#ca000b"/><stop offset="0.0756" stop-color="#c0000b"/><stop offset="0.0840" stop-color="#d1000b"/><stop offset="0.0924" stop-color="#e2000b"/><stop offset="0.1008" stop-color="#da000b"/><stop offset="0.1092" stop-color="#c2000b"/><stop offset="0.1176" stop-color="#c4000b"/><stop offset="0.1261" stop-color="#b9000b"/><stop offset="0.1345" stop-color="#a8000b"/><stop offset="0.1429" stop-color="#c4000b"/><stop offset="0.1513" stop-color="#d5000b"/><stop offset="0.1597" stop-color="#d2000b"/><stop offset="0.1681" stop-color="#cb000b"/><stop offset="0.1765" stop-color="#bb000b"/><stop offset="0.1849" stop-color="#bb000b"/><stop offset="0.1933" stop-color="#db000b"/><stop offset="0.2017" stop-color="#db000b"/><stop offset="0.2101" stop-color="#c7000b"/><stop offset="0.2185" stop-color="#b8000b"/><stop offset="0.2269" stop-color="#ae000b"/><stop offset="0.2353" stop-color="#b9000b"/><stop offset="0.2437" stop-color="#c4000b"/><stop offset="0.2521" stop-color="#d1000b"/><stop offset="0.2605" stop-color="#d0000b"/><stop offset="0.2689" stop-color="#d1000b"/><stop offset="0.2773" stop-color="#cd000b"/><stop offset="0.2857" stop-color="#da000b"/><stop offset="0.2941" stop-color="#e6000b"/><stop offset="0.3025" stop-color="#d6000b"/><stop offset="0.3109" stop-color="#c7000b"/><stop offset="0.3193" stop-color="#bf000b"/><stop offset="0.3277" stop-color="#b2000b"/><stop offset="0.3361" stop-color="#cd000b"/><stop offset="0.3445" stop-color="#ad000b"/><stop offset="0.3529" stop-color="#89000b"/><stop offset="0.3613" stop-color="#7f000b"/><stop offset="0.3697" stop-color="#7f000b"/><stop offset="0.3782" stop-color="#7f000b"/><stop offset="0.3866" stop-color="#7f000b"/><stop offset="0.3950" stop-color="#7f000b"/><stop offset="0.4034" stop-color="#7f000b"/><stop offset="0.4118" stop-color="#95000b"/><stop offset="0.4202" stop-color="#af000b"/><stop offset="0.4286" stop-color="#d7000b"/><stop offset="0.4370" stop-color="#f1000b"/><stop offset="0.4454" stop-color="#f5000b"/><stop offset="0.4538" stop-color="#e5000b"/><stop offset="0.4622" stop-color="#c3000b"/><stop offset="0.4706" stop-color="#8d000b"/><stop offset="0.4790" stop-color="#86000b"/><stop offset="0.4874" stop-color="#a9000b"/><stop offset="0.4958" stop-color="#c9000b"/><stop offset="0.5042" stop-color="#c8000b"/><stop offset="0.5126" stop-color="#b9000b"/><stop offset="0.5210" stop-color="#d1000b"/><stop offset="0.5294" stop-color="#ef000b"/><stop offset="0.5378" stop-color="#e3000b"/><stop offset="0.5462" stop-color="#de000b"/><stop offset="0.5546" stop-color="#d8000b"/><stop offset="0.5630" stop-color="#ce000b"/><stop offset="0.5714" stop-color="#b7000b"/><stop offset="0.5798" stop-color="#bf000b"/><stop offset="0.5882" stop-color="#a0000b"/><stop offset="0.5966" stop-color="#9e000b"/><stop offset="0.6050" stop-color="#98000b"/><stop offset="0.6134" stop-color="#89000b"/><stop offset="0.6218" stop-color="#9b000b"/><stop offset="0.6303" stop-color="#a7000b"/><stop offset="0.6387" stop-color="#b6000b"/><stop offset="0.6471" stop-color="#d5000b"/><stop offset="0.6555" stop-color="#ca000b"/><stop offset="0.6639" stop-color="#cf000b"/><stop offset="0.6723" stop-color="#cd000b"/><stop offset="0.6807" stop-color="#b8000b"/><stop offset="0.6891" stop-color="#b2000b"/><stop offset="0.6975" stop-color="#d8000b"/><stop offset="0.7059" stop-color="#ff050b"/><stop offset="0.7143" stop-color="#f3000b"/><stop offset="0.7227" stop-color="#b8000b"/><stop offset="0.7311" stop-color="#ad000b"/><stop offset="0.7395" stop-color="#b8000b"/><stop offset="0.7479" stop-color="#bb000b"/><stop offset="0.7563" stop-color="#bc000b"/><stop offset="0.7647" stop-color="#bf000b"/><stop offset="0.7731" stop-color="#b3000b"/><stop offset="0.7815" stop-color="#ab000b"/><stop offset="0.7899" stop-color="#9e000b"/><stop offset="0.7983" stop-color="#7f000b"/><stop offset="0.8067" stop-color="#7f000b"/><stop offset="0.8151" stop-color="#8d000b"/><stop offset="0.8235" stop-color="#7f000b"/><stop offset="0.8319" stop-color="#a8000b"/><stop offset="0.8403" stop-color="#d6000b"/><stop offset="0.8487" stop-color="#c6000b"/><stop offset="0.8571" stop-color="#ba000b"/><stop offset="0.8655" stop-color="#af000b"/><stop offset="0.8739" stop-color="#86000b"/><stop offset="0.8824" stop-color="#8e000b"/><stop offset="0.8908" stop-color="#7f000b"/><stop offset="0.8992" stop-color="#7f000b"/><stop offset="0.9076" stop-color="#7f000b"/><stop offset="0.9160" stop-color="#7f000b"/><stop offset="0.9244" stop-color="#7f000b"/><stop offset="0.9328" stop-color="#7f000b"/><stop offset="0.9412" stop-color="#7f000b"/><stop offset="0.9496" stop-color="#9e000b"/><stop offset="0.9580" stop-color="#b4000b"/><stop offset="0.9664" stop-color="#bf000b"/><stop offset="0.9748" stop-color="#b8000b"/><stop offset="0.9832" stop-color="#b3000b"/><stop offset="0.9916" stop-color="#9d000b"/><stop offset="1.0000" stop-color="#ad000b"/></linearGradient>
<linearGradient id="gb_8" x1="0" x2="1" y1="0" y2="0"><stop offset="0.0000" stop-color="#c3000b"/><stop offset="0.0084" stop-color="#c3000b"/><stop offset="0.0168" stop-color="#be000b"/><stop offset="0.0252" stop-color="#c2000b"/><stop offset="0.0336" stop-color="#d2000b"/><stop offset="0.0420" stop-color="#d3000b"/><stop offset="0.0504" stop-color="#ce000b"/><stop offset="0.0588" stop-color="#e4000b"/><stop offset="0.0672" stop-color="#c7000b"/><stop offset="0.0756" stop-color="#bc000b"/><stop offset="0.0840" stop-color="#cf000b"/><stop offset="0.0924" stop-color="#de000b"/><stop offset="0.1008" stop-color="#c7000b"/><stop offset="0.1092" stop-color="#bc000b"/><stop offset="0.1176" stop-color="#bf000b"/><stop offset="0.1261" stop-color="#b8000b"/><stop offset="0.1345" stop-color="#bf000b"/><stop offset="0.1429" stop-color="#d2000b"/><stop offset="0.1513" stop-color="#df000b"/><stop offset="0.1597" stop-color="#d9000b"/><stop offset="0.1681" stop-color="#d1000b"/><stop offset="0.1765" stop-color="#c5000b"/><stop offset="0.1849" stop-color="#c0000b"/><stop offset="0.1933" stop-color="#d3000b"/><stop offset="0.2017" stop-color="#dd000b"/><stop offset="0.2101" stop-color="#d6000b"/><stop offset="0.2185" stop-color="#ce000b"/><stop offset="0.2269" stop-color="#ba000b"/><stop offset="0.2353" stop-color="#b8000b"/><stop offset="0.2437" stop-color="#b6000b"/><stop offset="0.2521" stop-color="#ca000b"/><stop offset="0.2605" stop-color="#c7000b"/><stop offset="0.2689" stop-color="#cb000b"/><stop offset="0.2773" stop-color="#d1000b"/><stop offset="0.2857" stop-color="#ce000b"/><stop offset="0.2941" stop-color="#ce000b"/><stop offset="0.3025" stop-color="#c2000b"/><stop offset="0.3109" stop-color="#b9000b"/><stop offset="0.3193" stop-color="#b7000b"/><stop offset="0.3277" stop-color="#a3000b"/><stop offset="0.3361" stop-color="#aa000b"/><stop offset="0.3445" stop-color="#a4000b"/><stop offset="0.3529" stop-color="#b8000b"/><stop offset="0.3613" stop-color="#bf000b"/><stop offset="0.3697" stop-color="#ac000b"/><stop offset="0.3782" stop-color="#92000b"/><stop offset="0.3866" stop-color="#7f000b"/><stop offset="0.3950" stop-color="#7f000b"/><stop offset="0.4034" stop-color="#96000b"/><stop offset="0.4118" stop-color="#b6000b"/><stop offset="0.4202" stop-color="#b8000b"/><stop offset="0.4286" stop-color="#c2000b"/><stop offset="0.4370" stop-color="#e0000b"/><stop offset="0.4454" stop-color="#fa000b"/><stop offset="0.4538" stop-color="#eb000b"/><stop offset="0.4622" stop-color="#cf000b"/><stop offset="0.4706" stop-color="#98000b"/><stop offset="0.4790" stop-color="#84000b"/><stop offset="0.4874" stop-color="#a8000b"/><stop offset="0.4958" stop-color="#d9000b"/><stop offset="0.5042" stop-color="#e0000b"/><stop offset="0.5126" stop-color="#e3000b"/><stop offset="0.5210" stop-color="#fd000b"/><stop offset="0.5294" stop-color="#ff270b"/><stop offset="0.5378" stop-color="#ff0f0b"/><stop offset="0.5462" stop-color="#e5000b"/><stop offset="0.5546" stop-color="#d3000b"/><stop offset="0.5630" stop-color="#d7000b"/><stop offset="0.5714" stop-color="#d4000b"/><stop offset="0.5798" stop-color="#d9000b"/><stop offset="0.5882" stop-color="#c2000b"/><stop offset="0.5966" stop-color="#b8000b"/><stop offset="0.6050" stop-color="#9e000b"/><stop offset="0.6134" stop-color="#94000b"/><stop offset="0.6218" stop-color="#9f000b"/><stop offset="0.6303" stop-color="#c2000b"/><stop offset="0.6387" stop-color="#e1000b"/><stop offset="0.6471" stop-color="#d5000b"/><stop offset="0.6555" stop-color="#bb000b"/><stop offset="0.6639" stop-color="#d2000b"/><stop offset="0.6723" stop-color="#eb000b"/><stop offset="0.6807" stop-color="#d7000b"/><stop offset="0.6891" stop-color="#dc000b"/><stop offset="0.6975" stop-color="#ff0c0b"/><stop offset="0.7059" stop-color="#ff300b"/><stop offset="0.7143" stop-color="#ff080b"/><stop offset="0.7227" stop-color="#c7000b"/><stop offset="0.7311" stop-color="#ad000b"/><stop offset="0.7395" stop-color="#9f000b"/><stop offset="0.7479" stop-color="#ab000b"/><stop offset="0.7563" stop-color="#bf000b"/><stop offset="0.7647" stop-color="#d5000b"/><stop offset="0.7731" stop-color="#cb000b"/><stop offset="0.7815" stop-color="#bb000b"/><stop offset="0.7899" stop-color="#ac000b"/><stop offset="0.7983" stop-color="#9e000b"/><stop offset="0.8067" stop-color="#87000b"/><stop offset="0.8151" stop-color="#87000b"/><stop offset="0.8235" stop-color="#93000b"/><stop offset="0.8319" stop-color="#d4000b"/><stop offset="0.8403" stop-color="#fc000b"/><stop offset="0.8487" stop-color="#ea000b"/><stop offset="0.8571" stop-color="#ba000b"/><stop offset="0.8655" stop-color="#98000b"/><stop offset="0.8739" stop-color="#84000b"/><stop offset="0.8824" stop-color="#96000b"/><stop offset="0.8908" stop-color="#7f000b"/><stop offset="0.8992" stop-color="#7f000b"/><stop offset="0.9076" stop-color="#7f000b"/><stop offset="0.9160" stop-color="#7f000b"/><stop offset="0.9244" stop-color="#7f000b"/><stop offset="0.9328" stop-color="#7f000b"/><stop offset="0.9412" stop-color="#7f000b"/><stop offset="0.9496" stop-color="#7f000b"/><stop offset="0.9580" stop-color="#a5000b"/><stop offset="0.9664" stop-color="#ac000b"/><stop offset="0.9748" stop-color="#94000b"/><stop offset="0.9832" stop-color="#8b000b"/><stop offset="0.9916" stop-color="#89000b"/><stop offset="1.0000" stop-color="#98000b"/></linearGradient>
<linearGradient id="gb_9" x1="0" x2="1" y1="0" y2="0"><stop offset="0.0000" stop-color="#cf000b"/><stop offset="0.0084" stop-color="#cb000b"/><stop offset="0.0168" stop-color="#cb000b"/><stop offset="0.0252" stop-color="#d4000b"/><stop offset="0.0336" stop-color="#e2000b"/><stop offset="0.0420" stop-color="#ea000b"/><stop offset="0.0504" stop-color="#da000b"/><stop offset="0.0588" stop-color="#de000b"/><stop offset="0.0672" stop-color="#d3000b"/><stop offset="0.0756" stop-color="#ce000b"/><stop offset="0.0840" stop-color="#ca000b"/><stop offset="0.0924" stop-color="#cc000b"/><stop offset="0.1008" stop-color="#b8000b"/><stop offset="0.1092" stop-color="#b4000b"/><stop offset="0.1176" stop-color="#c4000b"/><stop offset="0.1261" stop-color="#bf000b"/><stop offset="0.1345" stop-color="#bd000b"/><stop offset="0.1429" stop-color="#c4000b"/><stop offset="0.1513" stop-color="#d9000b"/><stop offset="0.1597" stop-color="#dd000b"/><stop offset="0.1681" stop-color="#ce000b"/><stop offset="0.1765" stop-color="#cc000b"/><stop offset="0.1849" stop-color="#c3000b"/><stop offset="0.1933" stop-color="#d3000b"/><stop offset="0.2017" stop-color="#e7000b"/><stop offset="0.2101" stop-color="#e3000b"/><stop offset="0.2185" stop-color="#dc000b"/><stop offset="0.2269" stop-color="#cd000b"/><stop offset="0.2353" stop-color="#c4000b"/><stop offset="0.2437" stop-color="#b6000b"/><stop offset="0.2521" stop-color="#c5000b"/><stop offset="0.2605" stop-color="#bb000b"/><stop offset="0.2689" stop-color="#c3000b"/><stop offset="0.2773" stop-color="#d7000b"/><stop offset="0.2857" stop-color="#cb000b"/><stop offset="0.2941" stop-color="#ca000b"/><stop offset="0.3025" stop-color="#bb000b"/><stop offset="0.3109" stop-color="#ad000b"/><stop offset="0.3193" stop-color="#a8000b"/><stop offset="0.3277" stop-color="#a1000b"/><stop offset="0.3361" stop-color="#b0000b"/><stop offset="0.3445" stop-color="#b6000b"/><stop offset="0.3529" stop-color="#b6000b"/><stop offset="0.3613" stop-color="#b4000b"/><stop offset="0.3697" stop-color="#ac000b"/><stop offset="0.3782" stop-color="#a1000b"/><stop offset="0.3866" stop-color="#8b000b"/><stop offset="0.3950" stop-color="#8f000b"/><stop offset="0.4034" stop-color="#9e000b"/><stop offset="0.4118" stop-color="#a2000b"/><stop offset="0.4202" stop-color="#a5000b"/><stop offset="0.4286" stop-color="#d9000b"/><stop offset="0.4370" stop-color="#fc000b"/><stop offset="0.4454" stop-color="#fa000b"/><stop offset="0.4538" stop-color="#cd000b"/><stop offset="0.4622" stop-color="#b3000b"/><stop offset="0.4706" stop-color="#99000b"/><stop offset="0.4790" stop-color="#82000b"/><stop offset="0.4874" stop-color="#b2000b"/><stop offset="0.4958" stop-color="#c6000b"/><stop offset="0.5042" stop-color="#d5000b"/><stop offset="0.5126" stop-color="#ff0e0b"/><stop offset="0.5210" stop-color="#ff520b"/><stop offset="0.5294" stop-color="#ff6a0b"/><stop offset="0.5378" stop-color="#ff2f0b"/><stop offset="0.5462" stop-color="#ff060b"/><stop offset="0.5546" stop-color="#e4000b"/><stop offset="0.5630" stop-color="#da000b"/><stop offset="0.5714" stop-color="#d3000b"/><stop offset="0.5798" stop-color="#e6000b"/><stop offset="0.5882" stop-color="#df000b"/><stop offset="0.5966" stop-color="#d9000b"/><stop offset="0.6050" stop-color="#b4000b"/><stop offset="0.6134" stop-color="#b0000b"/><stop offset="0.6218" stop-color="#b9000b"/><stop offset="0.6303" stop-color="#e3000b"/><stop offset="0.6387" stop-color="#ee000b"/><stop offset="0.6471" stop-color="#d8000b"/><stop offset="0.6555" stop-color="#d0000b"/><stop offset="0.6639" stop-color="#db000b"/><stop offset="0.6723" stop-color="#de000b"/><stop offset="0.6807" stop-color="#c2000b"/><stop offset="0.6891" stop-color="#d0000b"/><stop offset="0.6975" stop-color="#ff060b"/><stop offset="0.7059" stop-color="#ff280b"/><stop offset="0.7143" stop-color="#ec000b"/><stop offset="0.7227" stop-color="#a5000b"/><stop offset="0.7311" stop-color="#9c000b"/><stop offset="0.7395" stop-color="#a5000b"/><stop offset="0.7479" stop-color="#ad000b"/><stop offset="0.7563" stop-color="#ba000b"/><stop offset="0.7647" stop-color="#d5000b"/><stop offset="0.7731" stop-color="#c5000b"/><stop offset="0.7815" stop-color="#a4000b"/><stop offset="0.7899" stop-color="#a1000b"/><stop offset="0.7983" stop-color="#b1000b"/><stop offset="0.8067" stop-color="#ac000b"/><stop offset="0.8151" stop-color="#b8000b"/><stop offset="0.8235" stop-color="#be000b"/><stop offset="0.8319" stop-color="#d1000b"/><stop offset="0.8403" stop-color="#ff0b0b"/><stop offset="0.8487" stop-color="#ff130b"/><stop offset="0.8571" stop-color="#d7000b"/><stop offset="0.8655" stop-color="#a9000b"/><stop offset="0.8739" stop-color="#88000b"/><stop offset="0.8824" stop-color="#ab000b"/><stop offset="0.8908" stop-color="#7f000b"/><stop offset="0.8992" stop-color="#7f000b"/><stop offset="0.9076" stop-color="#7f000b"/><stop offset="0.9160" stop-color="#7f000b"/><stop offset="0.9244" stop-color="#7f000b"/><stop offset="0.9328" stop-color="#7f000b"/><stop offset="0.9412" stop-color="#7f000b"/><stop offset="0.9496" stop-color="#7f000b"/><stop offset="0.9580" stop-color="#a1000b"/><stop offset="0.9664" stop-color="#aa000b"/><stop offset="0.9748" stop-color="#9c000b"/><stop offset="0.9832" stop-color="#8d000b"/><stop offset="0.9916" stop-color="#94000b"/><stop offset="1.0000" stop-color="#96000b"/></linearGradient>
<linearGradient id="gb_10" x1="0" x2="1" y1="0" y2="0"><stop offset="0.0000" stop-color="#d7000b"/><stop offset="0.0084" stop-color="#d5000b"/><stop offset="0.0168" stop-color="#c5000b"/><stop offset="0.0252" stop-color="#c7000b"/><stop offset="0.0336" stop-color="#d2000b"/><stop offset="0.0420" stop-color="#cf000b"/><stop offset="0.0504" stop-color="#d6000b"/><stop offset="0.0588" stop-color="#da000b"/><stop offset="0.0672" stop-color="#e0000b"/><stop offset="0.0756" stop-color="#dd000b"/><stop offset="0.0840" stop-color="#cb000b"/><stop offset="0.0924" stop-color="#c3000b"/><stop offset="0.1008" stop-color="#ad000b"/><stop offset="0.1092" stop-color="#ae000b"/><stop offset="0.1176" stop-color="#b6000b"/><stop offset="0.1261" stop-color="#bf000b"/><stop offset="0.1345" stop-color="#b6000b"/><stop offset="0.1429" stop-color="#b2000b"/><stop offset="0.1513" stop-color="#c3000b"/><stop offset="0.1597" stop-color="#c8000b"/><stop offset="0.1681" stop-color="#c2000b"/><stop offset="0.1765" stop-color="#c7000b"/><stop offset="0.1849" stop-color="#cc000b"/><stop offset="0.1933" stop-color="#da000b"/><stop offset="0.2017" stop-color="#e6000b"/><stop offset="0.2101" stop-color="#d1000b"/><stop offset="0.2185" stop-color="#c5000b"/><stop offset="0.2269" stop-color="#c2000b"/><stop offset="0.2353" stop-color="#c2000b"/><stop offset="0.2437" stop-color="#c5000b"/><stop offset="0.2521" stop-color="#c5000b"/><stop offset="0.2605" stop-color="#c8000b"/><stop offset="0.2689" stop-color="#c7000b"/><stop offset="0.2773" stop-color="#bf000b"/><stop offset="0.2857" stop-color="#c2000b"/><stop offset="0.2941" stop-color="#cf000b"/><stop offset="0.3025" stop-color="#c8000b"/><stop offset="0.3109" stop-color="#b4000b"/><stop offset="0.3193" stop-color="#aa000b"/><stop offset="0.3277" stop-color="#ac000b"/><stop offset="0.3361" stop-color="#b2000b"/><stop offset="0.3445" stop-color="#b0000b"/><stop offset="0.3529" stop-color="#b6000b"/><stop offset="0.3613" stop-color="#d7000b"/><stop offset="0.3697" stop-color="#d0000b"/><stop offset="0.3782" stop-color="#ab000b"/><stop offset="0.3866" stop-color="#ae000b"/><stop offset="0.3950" stop-color="#c4000b"/><stop offset="0.4034" stop-color="#bd000b"/><stop offset="0.4118" stop-color="#ac000b"/><stop offset="0.4202" stop-color="#ab000b"/><stop offset="0.4286" stop-color="#d0000b"/><stop offset="0.4370" stop-color="#ff010b"/><stop offset="0.4454" stop-color="#fa000b"/><stop offset="0.4538" stop-color="#d3000b"/><stop offset="0.4622" stop-color="#9e000b"/><stop offset="0.4706" stop-color="#b2000b"/><stop offset="0.4790" stop-color="#b4000b"/><stop offset="0.4874" stop-color="#b6000b"/><stop offset="0.4958" stop-color="#c6000b"/><stop offset="0.5042" stop-color="#dd000b"/><stop offset="0.5126" stop-color="#f3000b"/><stop offset="0.5210" stop-color="#ff1c0b"/><stop offset="0.5294" stop-color="#ff350b"/><stop offset="0.5378" stop-color="#ff010b"/><stop offset="0.5462" stop-color="#d4000b"/><stop offset="0.5546" stop-color="#c6000b"/><stop offset="0.5630" stop-color="#cd000b"/><stop offset="0.5714" stop-color="#ce000b"/><stop offset="0.5798" stop-color="#e5000b"/><stop offset="0.5882" stop-color="#e0000b"/><stop offset="0.5966" stop-color="#d4000b"/><stop offset="0.6050" stop-color="#bb000b"/><stop offset="0.6134" stop-color="#b6000b"/><stop offset="0.6218" stop-color="#ba000b"/><stop offset="0.6303" stop-color="#ce000b"/><stop offset="0.6387" stop-color="#cf000b"/><stop offset="0.6471" stop-color="#d7000b"/><stop offset="0.6555" stop-color="#de000b"/><stop offset="0.6639" stop-color="#e3000b"/><stop offset="0.6723" stop-color="#d8000b"/><stop offset="0.6807" stop-color="#b9000b"/><stop offset="0.6891" stop-color="#c6000b"/><stop offset="0.6975" stop-color="#f8000b"/><stop offset="0.7059" stop-color="#ff140b"/><stop offset="0.7143" stop-color="#da000b"/><stop offset="0.7227" stop-color="#95000b"/><stop offset="0.7311" stop-color="#8a000b"/><stop offset="0.7395" stop-color="#9f000b"/><stop offset="0.7479" stop-color="#b3000b"/><stop offset="0.7563" stop-color="#cd000b"/><stop offset="0.7647" stop-color="#c6000b"/><stop offset="0.7731" stop-color="#a0000b"/><stop offset="0.7815" stop-color="#a4000b"/><stop offset="0.7899" stop-color="#9b000b"/><stop offset="0.7983" stop-color="#a2000b"/><stop offset="0.8067" stop-color="#bb000b"/><stop offset="0.8151" stop-color="#da000b"/><stop offset="0.8235" stop-color="#c4000b"/><stop offset="0.8319" stop-color="#af000b"/><stop offset="0.8403" stop-color="#d6000b"/><stop offset="0.8487" stop-color="#e1000b"/><stop offset="0.8571" stop-color="#c2000b"/><stop offset="0.8655" stop-color="#a3000b"/><stop offset="0.8739" stop-color="#9c000b"/><stop offset="0.8824" stop-color="#99000b"/><stop offset="0.8908" stop-color="#7f000b"/><stop offset="0.8992" stop-color="#7f000b"/><stop offset="0.9076" stop-color="#7f000b"/><stop offset="0.9160" stop-color="#7f000b"/><stop offset="0.9244" stop-color="#7f000b"/><stop offset="0.9328" stop-color="#7f000b"/><stop offset="0.9412" stop-color="#7f000b"/><stop offset="0.9496" stop-color="#7f000b"/><stop offset="0.9580" stop-color="#7f000b"/><stop offset="0.9664" stop-color="#a5000b"/><stop offset="0.9748" stop-color="#a3000b"/><stop offset="0.9832" stop-color="#8a000b"/><stop offset="0.9916" stop-color="#92000b"/><stop offset="1.0000" stop-color="#86000b"/></linearGradient>
<linearGradient id="gb_11" x1="0" x2="1" y1="0" y2="0"><stop offset="0.0000" stop-color="#e9000b"/><stop offset="0.0084" stop-color="#de000b"/><stop offset="0.0168" stop-color="#d2000b"/><stop offset="0.0252" stop-color="#cf000b"/><stop offset="0.0336" stop-color="#dd000b"/><stop offset="0.0420" stop-color="#dc000b"/><stop offset="0.0504" stop-color="#d7000b"/><stop offset="0.0588" stop-color="#d4000b"/><stop offset="0.0672" stop-color="#cd000b"/><stop offset="0.0756" stop-color="#cd000b"/><stop offset="0.0840" stop-color="#c9000b"/><stop offset="0.0924" stop-color="#c1000b"/><stop offset="0.1008" stop-color="#b7000b"/><stop offset="0.1092" stop-color="#b8000b"/><stop offset="0.1176" stop-color="#b3000b"/><stop offset="0.1261" stop-color="#bb000b"/><stop offset="0.1345" stop-color="#b6000b"/><stop offset="0.1429" stop-color="#b5000b"/><stop offset="0.1513" stop-color="#bf000b"/><stop offset="0.1597" stop-color="#cf000b"/><stop offset="0.1681" stop-color="#c8000b"/><stop offset="0.1765" stop-color="#c5000b"/><stop offset="0.1849" stop-color="#c8000b"/><stop offset="0.1933" stop-color="#d2000b"/><stop offset="0.2017" stop-color="#d9000b"/><stop offset="0.2101" stop-color="#c7000b"/><stop offset="0.2185" stop-color="#bc000b"/><stop offset="0.2269" stop-color="#c8000b"/><stop offset="0.2353" stop-color="#ca000b"/><stop offset="0.2437" stop-color="#d2000b"/><stop offset="0.2521" stop-color="#cd000b"/><stop offset="0.2605" stop-color="#c7000b"/><stop offset="0.2689" stop-color="#c7000b"/><stop offset="0.2773" stop-color="#cf000b"/><stop offset="0.2857" stop-color="#d0000b"/><stop offset="0.2941" stop-color="#c4000b"/><stop offset="0.3025" stop-color="#ac000b"/><stop offset="0.3109" stop-color="#b1000b"/><stop offset="0.3193" stop-color="#b9000b"/><stop offset="0.3277" stop-color="#c2000b"/><stop offset="0.3361" stop-color="#d7000b"/><stop offset="0.3445" stop-color="#ec000b"/><stop offset="0.3529" stop-color="#df000b"/><stop offset="0.3613" stop-color="#e6000b"/><stop offset="0.3697" stop-color="#d9000b"/><stop offset="0.3782" stop-color="#b6000b"/><stop offset="0.3866" stop-color="#8d000b"/><stop offset="0.3950" stop-color="#a0000b"/><stop offset="0.4034" stop-color="#c2000b"/><stop offset="0.4118" stop-color="#c2000b"/><stop offset="0.4202" stop-color="#9e000b"/><stop offset="0.4286" stop-color="#d6000b"/><stop offset="0.4370" stop-color="#ff070b"/><stop offset="0.4454" stop-color="#f6000b"/><stop offset="0.4538" stop-color="#c6000b"/><stop offset="0.4622" stop-color="#8c000b"/><stop offset="0.4706" stop-color="#a3000b"/><stop offset="0.4790" stop-color="#a7000b"/><stop offset="0.4874" stop-color="#a4000b"/><stop offset="0.4958" stop-color="#a3000b"/><stop offset="0.5042" stop-color="#ba000b"/><stop offset="0.5126" stop-color="#d9000b"/><stop offset="0.5210" stop-color="#f7000b"/><stop offset="0.5294" stop-color="#ff110b"/><stop offset="0.5378" stop-color="#ff010b"/><stop offset="0.5462" stop-color="#f6000b"/><stop offset="0.5546" stop-color="#c5000b"/><stop offset="0.5630" stop-color="#cc000b"/><stop offset="0.5714" stop-color="#ce000b"/><stop offset="0.5798" stop-color="#d3000b"/><stop offset="0.5882" stop-color="#d7000b"/><stop offset="0.5966" stop-color="#cd000b"/><stop offset="0.6050" stop-color="#c2000b"/><stop offset="0.6134" stop-color="#bb000b"/><stop offset="0.6218" stop-color="#ac000b"/><stop offset="0.6303" stop-color="#ad000b"/><stop offset="0.6387" stop-color="#d3000b"/><stop offset="0.6471" stop-color="#d6000b"/><stop offset="0.6555" stop-color="#c8000b"/><stop offset="0.6639" stop-color="#c8000b"/><stop offset="0.6723" stop-color="#c6000b"/><stop offset="0.6807" stop-color="#b4000b"/><stop offset="0.6891" stop-color="#b4000b"/><stop offset="0.6975" stop-color="#cc000b"/><stop offset="0.7059" stop-color="#f7000b"/><stop offset="0.7143" stop-color="#c8000b"/><stop offset="0.7227" stop-color="#7f000b"/><stop offset="0.7311" stop-color="#7f000b"/><stop offset="0.7395" stop-color="#9b000b"/><stop offset="0.7479" stop-color="#ab000b"/><stop offset="0.7563" stop-color="#c5000b"/><stop offset="0.7647" stop-color="#b2000b"/><stop offset="0.7731" stop-color="#97000b"/><stop offset="0.7815" stop-color="#a0000b"/><stop offset="0.7899" stop-color="#9a000b"/><stop offset="0.7983" stop-color="#98000b"/><stop offset="0.8067" stop-color="#90000b"/><stop offset="0.8151" stop-color="#a9000b"/><stop offset="0.8235" stop-color="#96000b"/><stop offset="0.8319" stop-color="#7f000b"/><stop offset="0.8403" stop-color="#97000b"/><stop offset="0.8487" stop-color="#a7000b"/><stop offset="0.8571" stop-color="#9b000b"/><stop offset="0.8655" stop-color="#a1000b"/><stop offset="0.8739" stop-color="#ad000b"/><stop offset="0.8824" stop-color="#89000b"/><stop offset="0.8908" stop-color="#7f000b"/><stop offset="0.8992" stop-color="#7f000b"/><stop offset="0.9076" stop-color="#7f000b"/><stop offset="0.9160" stop-color="#7f000b"/><stop offset="0.9244" stop-color="#80000b"/><stop offset="0.9328" stop-color="#94000b"/><stop offset="0.9412" stop-color="#83000b"/><stop offset="0.9496" stop-color="#7f000b"/><stop offset="0.9580" stop-color="#7f000b"/><stop offset="0.9664" stop-color="#8f000b"/><stop offset="0.9748" stop-color="#ad000b"/><stop offset="0.9832" stop-color="#b3000b"/><stop offset="0.9916" stop-color="#ab000b"/><stop offset="1.0000" stop-color="#9c000b"/></linearGradient>
<linearGradient id="gb_12" x1="0" x2="1" y1="0" y2="0"><stop offset="0.0000" stop-color="#c8000b"/><stop offset="0.0084" stop-color="#c4000b"/><stop offset="0.0168" stop-color="#d3000b"/><stop offset="0.0252" stop-color="#dd000b"/><stop offset="0.0336" stop-color="#d9000b"/><stop offset="0.0420" stop-color="#d9000b"/><stop offset="0.0504" stop-color="#e7000b"/><stop offset="0.0588" stop-color="#e5000b"/><stop offset="0.0672" stop-color="#d4000b"/><stop offset="0.0756" stop-color="#cb000b"/><stop offset="0.0840" stop-color="#c7000b"/><stop offset="0.0924" stop-color="#c7000b"/><stop offset="0.1008" stop-color="#be000b"/><stop offset="0.1092" stop-color="#b6000b"/><stop offset="0.1176" stop-color="#ba000b"/><stop offset="0.1261" stop-color="#c8000b"/><stop offset="0.1345" stop-color="#c9000b"/><stop offset="0.1429" stop-color="#b8000b"/><stop offset="0.1513" stop-color="#b3000b"/><stop offset="0.1597" stop-color="#c9000b"/><stop offset="0.1681" stop-color="#d0000b"/><stop offset="0.1765" stop-color="#c0000b"/><stop offset="0.1849" stop-color="#be000b"/><stop offset="0.1933" stop-color="#bb000b"/><stop offset="0.2017" stop-color="#c4000b"/><stop offset="0.2101" stop-color="#bc000b"/><stop offset="0.2185" stop-color="#be000b"/><stop offset="0.2269" stop-color="#c9000b"/><stop offset="0.2353" stop-color="#ce000b"/><stop offset="0.2437" stop-color="#cf000b"/><stop offset="0.2521" stop-color="#c5000b"/><stop offset="0.2605" stop-color="#c7000b"/><stop offset="0.2689" stop-color="#c1000b"/><stop offset="0.2773" stop-color="#d8000b"/><stop offset="0.2857" stop-color="#d6000b"/><stop offset="0.2941" stop-color="#c6000b"/><stop offset="0.3025" stop-color="#ac000b"/><stop offset="0.3109" stop-color="#bc000b"/><stop offset="0.3193" stop-color="#ca000b"/><stop offset="0.3277" stop-color="#ce000b"/><stop offset="0.3361" stop-color="#cc000b"/><stop offset="0.3445" stop-color="#de000b"/><stop offset="0.3529" stop-color="#e2000b"/><stop offset="0.3613" stop-color="#f3000b"/><stop offset="0.3697" stop-color="#e2000b"/><stop offset="0.3782" stop-color="#cb000b"/><stop offset="0.3866" stop-color="#a4000b"/><stop offset="0.3950" stop-color="#80000b"/><stop offset="0.4034" stop-color="#8a000b"/><stop offset="0.4118" stop-color="#ab000b"/><stop offset="0.4202" stop-color="#a7000b"/><stop offset="0.4286" stop-color="#c0000b"/><stop offset="0.4370" stop-color="#e7000b"/><stop offset="0.4454" stop-color="#f2000b"/><stop offset="0.4538" stop-color="#c3000b"/><stop offset="0.4622" stop-color="#a3000b"/><stop offset="0.4706" stop-color="#b4000b"/><stop offset="0.4790" stop-color="#ad000b"/><stop offset="0.4874" stop-color="#a1000b"/><stop offset="0.4958" stop-color="#a8000b"/><stop offset="0.5042" stop-color="#b3000b"/><stop offset="0.5126" stop-color="#d3000b"/><stop offset="0.5210" stop-color="#ef000b"/><stop offset="0.5294" stop-color="#d5000b"/><stop offset="0.5378" stop-color="#d6000b"/><stop offset="0.5462" stop-color="#e5000b"/><stop offset="0.5546" stop-color="#db000b"/><stop offset="0.5630" stop-color="#dc000b"/><stop offset="0.5714" stop-color="#c0000b"/><stop offset="0.5798" stop-color="#ba000b"/><stop offset="0.5882" stop-color="#cc000b"/><stop offset="0.5966" stop-color="#c9000b"/><stop offset="0.6050" stop-color="#c6000b"/><stop offset="0.6134" stop-color="#e5000b"/><stop offset="0.6218" stop-color="#bd000b"/><stop offset="0.6303" stop-color="#ab000b"/><stop offset="0.6387" stop-color="#a9000b"/><stop offset="0.6471" stop-color="#a5000b"/><stop offset="0.6555" stop-color="#c0000b"/><stop offset="0.6639" stop-color="#d0000b"/><stop offset="0.6723" stop-color="#ae000b"/><stop offset="0.6807" stop-color="#9f000b"/><stop offset="0.6891" stop-color="#93000b"/><stop offset="0.6975" stop-color="#9b000b"/><stop offset="0.7059" stop-color="#c7000b"/><stop offset="0.7143" stop-color="#bb000b"/><stop offset="0.7227" stop-color="#7f000b"/><stop offset="0.7311" stop-color="#7f000b"/><stop offset="0.7395" stop-color="#7f000b"/><stop offset="0.7479" stop-color="#84000b"/><stop offset="0.7563" stop-color="#8b000b"/><stop offset="0.7647" stop-color="#86000b"/><stop offset="0.7731" stop-color="#95000b"/><stop offset="0.7815" stop-color="#c4000b"/><stop offset="0.7899" stop-color="#af000b"/><stop offset="0.7983" stop-color="#7f000b"/><stop offset="0.8067" stop-color="#7f000b"/><stop offset="0.8151" stop-color="#ab000b"/><stop offset="0.8235" stop-color="#9a000b"/><stop offset="0.8319" stop-color="#7f000b"/><stop offset="0.8403" stop-color="#84000b"/><stop offset="0.8487" stop-color="#a7000b"/><stop offset="0.8571" stop-color="#7f000b"/><stop offset="0.8655" stop-color="#7f000b"/><stop offset="0.8739" stop-color="#b0000b"/><stop offset="0.8824" stop-color="#8e000b"/><stop offset="0.8908" stop-color="#7f000b"/><stop offset="0.8992" stop-color="#7f000b"/><stop offset="0.9076" stop-color="#7f000b"/><stop offset="0.9160" stop-color="#7f000b"/><stop offset="0.9244" stop-color="#92000b"/><stop offset="0.9328" stop-color="#94000b"/><stop offset="0.9412" stop-color="#7f000b"/><stop offset="0.9496" stop-color="#7f000b"/><stop offset="0.9580" stop-color="#7f000b"/><stop offset="0.9664" stop-color="#7f000b"/><stop offset="0.9748" stop-color="#a6000b"/><stop offset="0.9832" stop-color="#ac000b"/><stop offset="0.9916" stop-color="#a6000b"/><stop offset="1.0000" stop-color="#96000b"/></linearGradient>
<linearGradient id="gb_13" x1="0" x2="1" y1="0" y2="0"><stop offset="0.0000" stop-color="#c1000b"/><stop offset="0.0084" stop-color="#c3000b"/><stop offset="0.0168" stop-color="#ce000b"/><stop offset="0.0252" stop-color="#d1000b"/><stop offset="0.0336" stop-color="#c4000b"/><stop offset="0.0420" stop-color="#cd000b"/><stop offset="0.0504" stop-color="#d3000b"/><stop offset="0.0588" stop-color="#cc000b"/><stop offset="0.0672" stop-color="#c0000b"/><stop offset="0.0756" stop-color="#c0000b"/><stop offset="0.0840" stop-color="#d1000b"/><stop offset="0.0924" stop-color="#db000b"/><stop offset="0.1008" stop-color="#cf000b"/><stop offset="0.1092" stop-color="#cb000b"/><stop offset="0.1176" stop-color="#cd000b"/><stop offset="0.1261" stop-color="#c5000b"/><stop offset="0.1345" stop-color="#cb000b"/><stop offset="0.1429" stop-color="#b5000b"/><stop offset="0.1513" stop-color="#c2000b"/><stop offset="0.1597" stop-color="#d6000b"/><stop offset="0.1681" stop-color="#cc000b"/><stop offset="0.1765" stop-color="#b8000b"/><stop offset="0.1849" stop-color="#b2000b"/><stop offset="0.1933" stop-color="#bb000b"/><stop offset="0.2017" stop-color="#ce000b"/><stop offset="0.2101" stop-color="#da000b"/><stop offset="0.2185" stop-color="#cb000b"/><stop offset="0.2269" stop-color="#ca000b"/><stop offset="0.2353" stop-color="#c6000b"/><stop offset="0.2437" stop-color="#bf000b"/><stop offset="0.2521" stop-color="#b9000b"/><stop offset="0.2605" stop-color="#c9000b"/><stop offset="0.2689" stop-color="#c9000b"/><stop offset="0.2773" stop-color="#d9000b"/><stop offset="0.2857" stop-color="#de000b"/><stop offset="0.2941" stop-color="#c4000b"/><stop offset="0.3025" stop-color="#be000b"/><stop offset="0.3109" stop-color="#d1000b"/><stop offset="0.3193" stop-color="#cd000b"/><stop offset="0.3277" stop-color="#cb000b"/><stop offset="0.3361" stop-color="#d0000b"/><stop offset="0.3445" stop-color="#f1000b"/><stop offset="0.3529" stop-color="#f2000b"/><stop offset="0.3613" stop-color="#e5000b"/><stop offset="0.3697" stop-color="#ce000b"/><stop offset="0.3782" stop-color="#d6000b"/><stop offset="0.3866" stop-color="#b5000b"/><stop offset="0.3950" stop-color="#9a000b"/><stop offset="0.4034" stop-color="#98000b"/><stop offset="0.4118" stop-color="#97000b"/><stop offset="0.4202" stop-color="#8e000b"/><stop offset="0.4286" stop-color="#9b000b"/><stop offset="0.4370" stop-color="#bc000b"/><stop offset="0.4454" stop-color="#dd000b"/><stop offset="0.4538" stop-color="#b3000b"/><stop offset="0.4622" stop-color="#a5000b"/><stop offset="0.4706" stop-color="#b8000b"/><stop offset="0.4790" stop-color="#b7000b"/><stop offset="0.4874" stop-color="#b3000b"/><stop offset="0.4958" stop-color="#d2000b"/><stop offset="0.5042" stop-color="#da000b"/><stop offset="0.5126" stop-color="#e9000b"/><stop offset="0.5210" stop-color="#f9000b"/><stop offset="0.5294" stop-color="#eb000b"/><stop offset="0.5378" stop-color="#d3000b"/><stop offset="0.5462" stop-color="#d9000b"/><stop offset="0.5546" stop-color="#d8000b"/><stop offset="0.5630" stop-color="#bc000b"/><stop offset="0.5714" stop-color="#a4000b"/><stop offset="0.5798" stop-color="#c2000b"/><stop offset="0.5882" stop-color="#c1000b"/><stop offset="0.5966" stop-color="#c1000b"/><stop offset="0.6050" stop-color="#a5000b"/><stop offset="0.6134" stop-color="#b8000b"/><stop offset="0.6218" stop-color="#af000b"/><stop offset="0.6303" stop-color="#8f000b"/><stop offset="0.6387" stop-color="#ac000b"/><stop offset="0.6471" stop-color="#be000b"/><stop offset="0.6555" stop-color="#c5000b"/><stop offset="0.6639" stop-color="#c1000b"/><stop offset="0.6723" stop-color="#b1000b"/><stop offset="0.6807" stop-color="#a7000b"/><stop offset="0.6891" stop-color="#83000b"/><stop offset="0.6975" stop-color="#86000b"/><stop offset="0.7059" stop-color="#a7000b"/><stop offset="0.7143" stop-color="#94000b"/><stop offset="0.7227" stop-color="#8c000b"/><stop offset="0.7311" stop-color="#84000b"/><stop offset="0.7395" stop-color="#86000b"/><stop offset="0.7479" stop-color="#87000b"/><stop offset="0.7563" stop-color="#7f000b"/><stop offset="0.7647" stop-color="#7f000b"/><stop offset="0.7731" stop-color="#87000b"/><stop offset="0.7815" stop-color="#9d000b"/><stop offset="0.7899" stop-color="#8e000b"/><stop offset="0.7983" stop-color="#7f000b"/><stop offset="0.8067" stop-color="#7f000b"/><stop offset="0.8151" stop-color="#99000b"/><stop offset="0.8235" stop-color="#7f000b"/><stop offset="0.8319" stop-color="#7f000b"/><stop offset="0.8403" stop-color="#7f000b"/><stop offset="0.8487" stop-color="#7f000b"/><stop offset="0.8571" stop-color="#7f000b"/><stop offset="0.8655" stop-color="#7f000b"/><stop offset="0.8739" stop-color="#8d000b"/><stop offset="0.8824" stop-color="#7f000b"/><stop offset="0.8908" stop-color="#7f000b"/><stop offset="0.8992" stop-color="#7f000b"/><stop offset="0.9076" stop-color="#7f000b"/><stop offset="0.9160" stop-color="#89000b"/><stop offset="0.9244" stop-color="#96000b"/><stop offset="0.9328" stop-color="#7f000b"/><stop offset="0.9412" stop-color="#7f000b"/><stop offset="0.9496" stop-color="#7f000b"/><stop offset="0.9580" stop-color="#81000b"/><stop offset="0.9664" stop-color="#a6000b"/><stop offset="0.9748" stop-color="#a8000b"/><stop offset="0.9832" stop-color="#a2000b"/><stop offset="0.9916" stop-color="#9a000b"/><stop offset="1.0000" stop-color="#90000b"/></linearGradient>
<linearGradient id="gb_14" x1="0" x2="1" y1="0" y2="0"><stop offset="0.0000" stop-color="#cb000b"/><stop offset="0.0084" stop-color="#c3000b"/><stop offset="0.0168" stop-color="#d0000b"/><stop offset="0.0252" stop-color="#da000b"/><stop offset="0.0336" stop-color="#d0000b"/><stop offset="0.0420" stop-color="#ce000b"/><stop offset="0.0504" stop-color="#c7000b"/><stop offset="0.0588" stop-color="#cc000b"/><stop offset="0.0672" stop-color="#c1000b"/><stop offset="0.0756" stop-color="#be000b"/><stop offset="0.0840" stop-color="#d8000b"/><stop offset="0.0924" stop-color="#d9000b"/><stop offset="0.1008" stop-color="#c9000b"/><stop offset="0.1092" stop-color="#c1000b"/><stop offset="0.1176" stop-color="#c5000b"/><stop offset="0.1261" stop-color="#c5000b"/><stop offset="0.1345" stop-color="#c8000b"/><stop offset="0.1429" stop-color="#c2000b"/><stop offset="0.1513" stop-color="#c6000b"/><stop offset="0.1597" stop-color="#cc000b"/><stop offset="0.1681" stop-color="#d2000b"/><stop offset="0.1765" stop-color="#c7000b"/><stop offset="0.1849" stop-color="#ba000b"/><stop offset="0.1933" stop-color="#cb000b"/><stop offset="0.2017" stop-color="#d9000b"/><stop offset="0.2101" stop-color="#d9000b"/><stop offset="0.2185" stop-color="#c2000b"/><stop offset="0.2269" stop-color="#c0000b"/><stop offset="0.2353" stop-color="#b7000b"/><stop offset="0.2437" stop-color="#ba000b"/><stop offset="0.2521" stop-color="#c0000b"/><stop offset="0.2605" stop-color="#cc000b"/><stop offset="0.2689" stop-color="#c7000b"/><stop offset="0.2773" stop-color="#c7000b"/><stop offset="0.2857" stop-color="#ce000b"/><stop offset="0.2941" stop-color="#c9000b"/><stop offset="0.3025" stop-color="#c6000b"/><stop offset="0.3109" stop-color="#c9000b"/><stop offset="0.3193" stop-color="#ce000b"/><stop offset="0.3277" stop-color="#d2000b"/><stop offset="0.3361" stop-color="#e8000b"/><stop offset="0.3445" stop-color="#ef000b"/><stop offset="0.3529" stop-color="#d6000b"/><stop offset="0.3613" stop-color="#c8000b"/><stop offset="0.3697" stop-color="#bc000b"/><stop offset="0.3782" stop-color="#c7000b"/><stop offset="0.3866" stop-color="#c7000b"/><stop offset="0.3950" stop-color="#b2000b"/><stop offset="0.4034" stop-color="#b0000b"/><stop offset="0.4118" stop-color="#95000b"/><stop offset="0.4202" stop-color="#7f000b"/><stop offset="0.4286" stop-color="#99000b"/><stop offset="0.4370" stop-color="#dc000b"/><stop offset="0.4454" stop-color="#db000b"/><stop offset="0.4538" stop-color="#99000b"/><stop offset="0.4622" stop-color="#7f000b"/><stop offset="0.4706" stop-color="#98000b"/><stop offset="0.4790" stop-color="#ab000b"/><stop offset="0.4874" stop-color="#c5000b"/><stop offset="0.4958" stop-color="#de000b"/><stop offset="0.5042" stop-color="#d2000b"/><stop offset="0.5126" stop-color="#cc000b"/><stop offset="0.5210" stop-color="#b9000b"/><stop offset="0.5294" stop-color="#a4000b"/><stop offset="0.5378" stop-color="#ab000b"/><stop offset="0.5462" stop-color="#cc000b"/><stop offset="0.5546" stop-color="#d6000b"/><stop offset="0.5630" stop-color="#c1000b"/><stop offset="0.5714" stop-color="#ae000b"/><stop offset="0.5798" stop-color="#d6000b"/><stop offset="0.5882" stop-color="#e2000b"/><stop offset="0.5966" stop-color="#d5000b"/><stop offset="0.6050" stop-color="#aa000b"/><stop offset="0.6134" stop-color="#9b000b"/><stop offset="0.6218" stop-color="#96000b"/><stop offset="0.6303" stop-color="#9b000b"/><stop offset="0.6387" stop-color="#be000b"/><stop offset="0.6471" stop-color="#c1000b"/><stop offset="0.6555" stop-color="#aa000b"/><stop offset="0.6639" stop-color="#ae000b"/><stop offset="0.6723" stop-color="#9c000b"/><stop offset="0.6807" stop-color="#9e000b"/><stop offset="0.6891" stop-color="#8b000b"/><stop offset="0.6975" stop-color="#83000b"/><stop offset="0.7059" stop-color="#9e000b"/><stop offset="0.7143" stop-color="#98000b"/><stop offset="0.7227" stop-color="#9d000b"/><stop offset="0.7311" stop-color="#7f000b"/><stop offset="0.7395" stop-color="#7f000b"/><stop offset="0.7479" stop-color="#7f000b"/><stop offset="0.7563" stop-color="#82000b"/><stop offset="0.7647" stop-color="#89000b"/><stop offset="0.7731" stop-color="#87000b"/><stop offset="0.7815" stop-color="#a1000b"/><stop offset="0.7899" stop-color="#9b000b"/><stop offset="0.7983" stop-color="#7f000b"/><stop offset="0.8067" stop-color="#87000b"/><stop offset="0.8151" stop-color="#98000b"/><stop offset="0.8235" stop-color="#86000b"/><stop offset="0.8319" stop-color="#7f000b"/><stop offset="0.8403" stop-color="#82000b"/><stop offset="0.8487" stop-color="#80000b"/><stop offset="0.8571" stop-color="#7f000b"/><stop offset="0.8655" stop-color="#7f000b"/><stop offset="0.8739" stop-color="#7f000b"/><stop offset="0.8824" stop-color="#7f000b"/><stop offset="0.8908" stop-color="#7f000b"/><stop offset="0.8992" stop-color="#7f000b"/><stop offset="0.9076" stop-color="#7f000b"/><stop offset="0.9160" stop-color="#7f000b"/><stop offset="0.9244" stop-color="#7f000b"/><stop offset="0.9328" stop-color="#7f000b"/><stop offset="0.9412" stop-color="#7f000b"/><stop offset="0.9496" stop-color="#7f000b"/><stop offset="0.9580" stop-color="#8c000b"/><stop offset="0.9664" stop-color="#a4000b"/><stop offset="0.9748" stop-color="#87000b"/><stop offset="0.9832" stop-color="#7f000b"/><stop offset="0.9916" stop-color="#7f000b"/><stop offset="1.0000" stop-color="#7f000b"/></linearGradient>
<linearGradient id="gb_15" x1="0" x2="1" y1="0" y2="0"><stop offset="0.0000" stop-color="#c9000b"/><stop offset="0.0084" stop-color="#c6000b"/><stop offset="0.0168" stop-color="#c6000b"/><stop offset="0.0252" stop-color="#d5000b"/><stop offset="0.0336" stop-color="#c6000b"/><stop offset="0.0420" stop-color="#c7000b"/><stop offset="0.0504" stop-color="#b4000b"/><stop offset="0.0588" stop-color="#be000b"/><stop offset="0.0672" stop-color="#bc000b"/><stop offset="0.0756" stop-color="#be000b"/><stop offset="0.0840" stop-color="#cd000b"/><stop offset="0.0924" stop-color="#cb000b"/><stop offset="0.1008" stop-color="#cc000b"/><stop offset="0.1092" stop-color="#cb000b"/><stop offset="0.1176" stop-color="#cc000b"/><stop offset="0.1261" stop-color="#c4000b"/><stop offset="0.1345" stop-color="#ce000b"/><stop offset="0.1429" stop-color="#c6000b"/><stop offset="0.1513" stop-color="#bf000b"/><stop offset="0.1597" stop-color="#e4000b"/><stop offset="0.1681" stop-color="#ef000b"/><stop offset="0.1765" stop-color="#d1000b"/><stop offset="0.1849" stop-color="#ba000b"/><stop offset="0.1933" stop-color="#bb000b"/><stop offset="0.2017" stop-color="#c8000b"/><stop offset="0.2101" stop-color="#cf000b"/><stop offset="0.2185" stop-color="#c4000b"/><stop offset="0.2269" stop-color="#d2000b"/><stop offset="0.2353" stop-color="#ca000b"/><stop offset="0.2437" stop-color="#b8000b"/><stop offset="0.2521" stop-color="#ae000b"/><stop offset="0.2605" stop-color="#c5000b"/><stop offset="0.2689" stop-color="#ca000b"/><stop offset="0.2773" stop-color="#d0000b"/><stop offset="0.2857" stop-color="#de000b"/><stop offset="0.2941" stop-color="#db000b"/><stop offset="0.3025" stop-color="#c6000b"/><stop offset="0.3109" stop-color="#c5000b"/><stop offset="0.3193" stop-color="#cf000b"/><stop offset="0.3277" stop-color="#ce000b"/><stop offset="0.3361" stop-color="#d4000b"/><stop offset="0.3445" stop-color="#ea000b"/><stop offset="0.3529" stop-color="#ea000b"/><stop offset="0.3613" stop-color="#eb000b"/><stop offset="0.3697" stop-color="#cc000b"/><stop offset="0.3782" stop-color="#bd000b"/><stop offset="0.3866" stop-color="#cb000b"/><stop offset="0.3950" stop-color="#ba000b"/><stop offset="0.4034" stop-color="#ab000b"/><stop offset="0.4118" stop-color="#92000b"/><stop offset="0.4202" stop-color="#7f000b"/><stop offset="0.4286" stop-color="#94000b"/><stop offset="0.4370" stop-color="#c6000b"/><stop offset="0.4454" stop-color="#d2000b"/><stop offset="0.4538" stop-color="#9d000b"/><stop offset="0.4622" stop-color="#7f000b"/><stop offset="0.4706" stop-color="#94000b"/><stop offset="0.4790" stop-color="#a8000b"/><stop offset="0.4874" stop-color="#c6000b"/><stop offset="0.4958" stop-color="#c2000b"/><stop offset="0.5042" stop-color="#b0000b"/><stop offset="0.5126" stop-color="#be000b"/><stop offset="0.5210" stop-color="#b8000b"/><stop offset="0.5294" stop-color="#b7000b"/><stop offset="0.5378" stop-color="#bb000b"/><stop offset="0.5462" stop-color="#b8000b"/><stop offset="0.5546" stop-color="#af000b"/><stop offset="0.5630" stop-color="#ae000b"/><stop offset="0.5714" stop-color="#90000b"/><stop offset="0.5798" stop-color="#b7000b"/><stop offset="0.5882" stop-color="#d5000b"/><stop offset="0.5966" stop-color="#cd000b"/><stop offset="0.6050" stop-color="#90000b"/><stop offset="0.6134" stop-color="#8c000b"/><stop offset="0.6218" stop-color="#8a000b"/><stop offset="0.6303" stop-color="#86000b"/><stop offset="0.6387" stop-color="#b2000b"/><stop offset="0.6471" stop-color="#c4000b"/><stop offset="0.6555" stop-color="#ad000b"/><stop offset="0.6639" stop-color="#d0000b"/><stop offset="0.6723" stop-color="#c1000b"/><stop offset="0.6807" stop-color="#ab000b"/><stop offset="0.6891" stop-color="#8f000b"/><stop offset="0.6975" stop-color="#8e000b"/><stop offset="0.7059" stop-color="#96000b"/><stop offset="0.7143" stop-color="#a4000b"/><stop offset="0.7227" stop-color="#84000b"/><stop offset="0.7311" stop-color="#7f000b"/><stop offset="0.7395" stop-color="#7f000b"/><stop offset="0.7479" stop-color="#96000b"/><stop offset="0.7563" stop-color="#a1000b"/><stop offset="0.7647" stop-color="#9c000b"/><stop offset="0.7731" stop-color="#7f000b"/><stop offset="0.7815" stop-color="#a3000b"/><stop offset="0.7899" stop-color="#aa000b"/><stop offset="0.7983" stop-color="#87000b"/><stop offset="0.8067" stop-color="#9f000b"/><stop offset="0.8151" stop-color="#b9000b"/><stop offset="0.8235" stop-color="#98000b"/><stop offset="0.8319" stop-color="#7f000b"/><stop offset="0.8403" stop-color="#7f000b"/><stop offset="0.8487" stop-color="#7f000b"/><stop offset="0.8571" stop-color="#7f000b"/><stop offset="0.8655" stop-color="#7f000b"/><stop offset="0.8739" stop-color="#7f000b"/><stop offset="0.8824" stop-color="#7f000b"/><stop offset="0.8908" stop-color="#7f000b"/><stop offset="0.8992" stop-color="#7f000b"/><stop offset="0.9076" stop-color="#7f000b"/><stop offset="0.9160" stop-color="#89000b"/><stop offset="0.9244" stop-color="#8e000b"/><stop offset="0.9328" stop-color="#7f000b"/><stop offset="0.9412" stop-color="#7f000b"/><stop offset="0.9496" stop-color="#7f000b"/><stop offset="0.9580" stop-color="#8e000b"/><stop offset="0.9664" stop-color="#93000b"/><stop offset="0.9748" stop-color="#9d000b"/><stop offset="0.9832" stop-color="#a9000b"/><stop offset="0.9916" stop-color="#9f000b"/><stop offset="1.0000" stop-color="#7f000b"/></linearGradient>
</defs>
<g clip-path="url(#clipb)"><g filter="url(#blb)">
<rect x="310" y="14.38" width="199" height="12.65" fill="url(#gb_0)"/>
<rect x="310" y="26.62" width="199" height="6.53" fill="url(#gb_1)"/>
<rect x="310" y="32.75" width="199" height="6.53" fill="url(#gb_2)"/>
<rect x="310" y="38.88" width="199" height="6.53" fill="url(#gb_3)"/>
<rect x="310" y="45.00" width="199" height="6.53" fill="url(#gb_4)"/>
<rect x="310" y="51.12" width="199" height="6.53" fill="url(#gb_5)"/>
<rect x="310" y="57.25" width="199" height="6.53" fill="url(#gb_6)"/>
<rect x="310" y="63.38" width="199" height="6.53" fill="url(#gb_7)"/>
<rect x="310" y="69.50" width="199" height="6.53" fill="url(#gb_8)"/>
<rect x="310" y="75.62" width="199" height="6.53" fill="url(#gb_9)"/>
<rect x="310" y="81.75" width="199" height="6.53" fill="url(#gb_10)"/>
<rect x="310" y="87.88" width="199" height="6.53" fill="url(#gb_11)"/>
<rect x="310" y="94.00" width="199" height="6.53" fill="url(#gb_12)"/>
<rect x="310" y="100.12" width="199" height="6.53" fill="url(#gb_13)"/>
<rect x="310" y="106.25" width="199" height="6.53" fill="url(#gb_14)"/>
<rect x="310" y="112.38" width="199" height="12.65" fill="url(#gb_15)"/>
</g></g>
<defs><linearGradient id="cbb" x1="0" x2="0" y1="0" y2="1"><stop offset="0.000" stop-color="#7f0000"/><stop offset="0.050" stop-color="#b20000"/><stop offset="0.100" stop-color="#e50000"/><stop offset="0.150" stop-color="#ff1900"/><stop offset="0.200" stop-color="#ff4c00"/><stop offset="0.250" stop-color="#ff7f00"/><stop offset="0.300" stop-color="#ffb200"/><stop offset="0.350" stop-color="#ffe500"/><stop offset="0.400" stop-color="#e5ff19"/><stop offset="0.450" stop-color="#b2ff4c"/><stop offset="0.500" stop-color="#7fff7f"/><stop offset="0.550" stop-color="#4cffb2"/><stop offset="0.600" stop-color="#19ffe5"/><stop offset="0.650" stop-color="#00e5ff"/><stop offset="0.700" stop-color="#00b2ff"/><stop offset="0.750" stop-color="#007fff"/><stop offset="0.800" stop-color="#004cff"/><stop offset="0.850" stop-color="#0019ff"/><stop offset="0.900" stop-color="#0000e5"/><stop offset="0.950" stop-color="#0000b2"/><stop offset="1.000" stop-color="#00007f"/></linearGradient></defs>
<rect x="517.2" y="20.5" width="4.199999999999932" height="98.0" fill="url(#cbb)"/>
<text x="331.32" y="128.90" text-anchor="middle" font-size="8.4">0.5</text>
<text x="365.06" y="128.90" text-anchor="middle" font-size="8.4">1</text>
<text x="402.39" y="128.90" text-anchor="middle" font-size="8.4">1.5</text>
<text x="436.13" y="128.90" text-anchor="middle" font-size="8.4">2</text>
<text x="473.46" y="128.90" text-anchor="middle" font-size="8.4">2.5</text>
<text x="507.20" y="128.90" text-anchor="middle" font-size="8.4">3</text>
<text x="306.60" y="24.30" text-anchor="end" font-size="8.4">1000</text>
<text x="306.60" y="43.90" text-anchor="end" font-size="8.4">900</text>
<text x="306.60" y="63.50" text-anchor="end" font-size="8.4">800</text>
<text x="306.60" y="83.10" text-anchor="end" font-size="8.4">700</text>
<text x="306.60" y="102.70" text-anchor="end" font-size="8.4">600</text>
<text x="306.60" y="122.30" text-anchor="end" font-size="8.4">500</text>
<text x="522.90" y="23.30" font-size="8.4">1</text>
<text x="522.90" y="50.52" font-size="8.4">0.75</text>
<text x="522.90" y="77.74" font-size="8.4">0.5</text>
<text x="522.90" y="104.97" font-size="8.4">0.25</text>
<text x="410.00" y="139.70" text-anchor="middle" font-size="9.8">Wavelength (<tspan font-style="italic" font-weight="normal" style="stroke-width:0.15px" dx="0.8">μ</tspan><tspan dx="0.6">m)</tspan></text>
<text transform="translate(287.40,69.50) rotate(-90)" text-anchor="middle" font-size="9.5" xml:space="preserve">Resonator  Thickness (nm)</text>
<text x="413.8" y="13.0" text-anchor="middle" font-size="14">(b)</text>
<defs><clipPath id="clipd"><rect x="307.3" y="159.2" width="203.7" height="100.30000000000001"/></clipPath>
<filter id="bld" x="-10%" y="-10%" width="120%" height="120%"><feGaussianBlur stdDeviation="0.6 3.76"/></filter>
<linearGradient id="gd_0" x1="0" x2="1" y1="0" y2="0"><stop offset="0.0000" stop-color="#b9000b"/><stop offset="0.0084" stop-color="#c3000b"/><stop offset="0.0168" stop-color="#cc000b"/><stop offset="0.0252" stop-color="#d4000b"/><stop offset="0.0336" stop-color="#cc000b"/><stop offset="0.0420" stop-color="#c1000b"/><stop offset="0.0504" stop-color="#a6000b"/><stop offset="0.0588" stop-color="#b4000b"/><stop offset="0.0672" stop-color="#b1000b"/><stop offset="0.0756" stop-color="#c8000b"/><stop offset="0.0840" stop-color="#b0000b"/><stop offset="0.0924" stop-color="#a5000b"/><stop offset="0.1008" stop-color="#ab000b"/><stop offset="0.1092" stop-color="#b7000b"/><stop offset="0.1176" stop-color="#b8000b"/><stop offset="0.1261" stop-color="#cb000b"/><stop offset="0.1345" stop-color="#f1000b"/><stop offset="0.1429" stop-color="#e5000b"/><stop offset="0.1513" stop-color="#b7000b"/><stop offset="0.1597" stop-color="#96000b"/><stop offset="0.1681" stop-color="#a7000b"/><stop offset="0.1765" stop-color="#d6000b"/><stop offset="0.1849" stop-color="#e7000b"/><stop offset="0.1933" stop-color="#cf000b"/><stop offset="0.2017" stop-color="#e2000b"/><stop offset="0.2101" stop-color="#ca000b"/><stop offset="0.2185" stop-color="#9c000b"/><stop offset="0.2269" stop-color="#af000b"/><stop offset="0.2353" stop-color="#c6000b"/><stop offset="0.2437" stop-color="#c3000b"/><stop offset="0.2521" stop-color="#ab000b"/><stop offset="0.2605" stop-color="#be000b"/><stop offset="0.2689" stop-color="#d2000b"/><stop offset="0.2773" stop-color="#d5000b"/><stop offset="0.2857" stop-color="#d3000b"/><stop offset="0.2941" stop-color="#cc000b"/><stop offset="0.3025" stop-color="#d9000b"/><stop offset="0.3109" stop-color="#d8000b"/><stop offset="0.3193" stop-color="#c0000b"/><stop offset="0.3277" stop-color="#ad000b"/><stop offset="0.3361" stop-color="#c1000b"/><stop offset="0.3445" stop-color="#c1000b"/><stop offset="0.3529" stop-color="#c2000b"/><stop offset="0.3613" stop-color="#d5000b"/><stop offset="0.3697" stop-color="#e0000b"/><stop offset="0.3782" stop-color="#dd000b"/><stop offset="0.3866" stop-color="#e5000b"/><stop offset="0.3950" stop-color="#dd000b"/><stop offset="0.4034" stop-color="#c4000b"/><stop offset="0.4118" stop-color="#c6000b"/><stop offset="0.4202" stop-color="#b6000b"/><stop offset="0.4286" stop-color="#b4000b"/><stop offset="0.4370" stop-color="#c4000b"/><stop offset="0.4454" stop-color="#d1000b"/><stop offset="0.4538" stop-color="#c7000b"/><stop offset="0.4622" stop-color="#bb000b"/><stop offset="0.4706" stop-color="#b8000b"/><stop offset="0.4790" stop-color="#e2000b"/><stop offset="0.4874" stop-color="#de000b"/><stop offset="0.4958" stop-color="#bc000b"/><stop offset="0.5042" stop-color="#b0000b"/><stop offset="0.5126" stop-color="#c7000b"/><stop offset="0.5210" stop-color="#ce000b"/><stop offset="0.5294" stop-color="#cf000b"/><stop offset="0.5378" stop-color="#bf000b"/><stop offset="0.5462" stop-color="#ce000b"/><stop offset="0.5546" stop-color="#c2000b"/><stop offset="0.5630" stop-color="#be000b"/><stop offset="0.5714" stop-color="#b9000b"/><stop offset="0.5798" stop-color="#d6000b"/><stop offset="0.5882" stop-color="#cd000b"/><stop offset="0.5966" stop-color="#bd000b"/><stop offset="0.6050" stop-color="#b8000b"/><stop offset="0.6134" stop-color="#b9000b"/><stop offset="0.6218" stop-color="#b6000b"/><stop offset="0.6303" stop-color="#c2000b"/><stop offset="0.6387" stop-color="#c1000b"/><stop offset="0.6471" stop-color="#cc000b"/><stop offset="0.6555" stop-color="#c8000b"/><stop offset="0.6639" stop-color="#d0000b"/><stop offset="0.6723" stop-color="#d8000b"/><stop offset="0.6807" stop-color="#d0000b"/><stop offset="0.6891" stop-color="#c6000b"/><stop offset="0.6975" stop-color="#ca000b"/><stop offset="0.7059" stop-color="#d2000b"/><stop offset="0.7143" stop-color="#d7000b"/><stop offset="0.7227" stop-color="#e5000b"/><stop offset="0.7311" stop-color="#c1000b"/><stop offset="0.7395" stop-color="#c9000b"/><stop offset="0.7479" stop-color="#c1000b"/><stop offset="0.7563" stop-color="#d8000b"/><stop offset="0.7647" stop-color="#e2000b"/><stop offset="0.7731" stop-color="#d0000b"/><stop offset="0.7815" stop-color="#ac000b"/><stop offset="0.7899" stop-color="#af000b"/><stop offset="0.7983" stop-color="#a1000b"/><stop offset="0.8067" stop-color="#a4000b"/><stop offset="0.8151" stop-color="#90000b"/><stop offset="0.8235" stop-color="#b8000b"/><stop offset="0.8319" stop-color="#e9000b"/><stop offset="0.8403" stop-color="#da000b"/><stop offset="0.8487" stop-color="#a8000b"/><stop offset="0.8571" stop-color="#b3000b"/><stop offset="0.8655" stop-color="#ab000b"/><stop offset="0.8739" stop-color="#96000b"/><stop offset="0.8824" stop-color="#8c000b"/><stop offset="0.8908" stop-color="#8a000b"/><stop offset="0.8992" stop-color="#9a000b"/><stop offset="0.9076" stop-color="#a0000b"/><stop offset="0.9160" stop-color="#a5000b"/><stop offset="0.9244" stop-color="#ba000b"/><stop offset="0.9328" stop-color="#a2000b"/><stop offset="0.9412" stop-color="#90000b"/><stop offset="0.9496" stop-color="#ab000b"/><stop offset="0.9580" stop-color="#83000b"/><stop offset="0.9664" stop-color="#84000b"/><stop offset="0.9748" stop-color="#93000b"/><stop offset="0.9832" stop-color="#9a000b"/><stop offset="0.9916" stop-color="#a0000b"/><stop offset="1.0000" stop-color="#91000b"/></linearGradient>
<linearGradient id="gd_1" x1="0" x2="1" y1="0" y2="0"><stop offset="0.0000" stop-color="#a8000b"/><stop offset="0.0084" stop-color="#b7000b"/><stop offset="0.0168" stop-color="#c3000b"/><stop offset="0.0252" stop-color="#ce000b"/><stop offset="0.0336" stop-color="#c3000b"/><stop offset="0.0420" stop-color="#af000b"/><stop offset="0.0504" stop-color="#93000b"/><stop offset="0.0588" stop-color="#91000b"/><stop offset="0.0672" stop-color="#9b000b"/><stop offset="0.0756" stop-color="#c0000b"/><stop offset="0.0840" stop-color="#ac000b"/><stop offset="0.0924" stop-color="#9c000b"/><stop offset="0.1008" stop-color="#a5000b"/><stop offset="0.1092" stop-color="#c2000b"/><stop offset="0.1176" stop-color="#cb000b"/><stop offset="0.1261" stop-color="#d8000b"/><stop offset="0.1345" stop-color="#ff050b"/><stop offset="0.1429" stop-color="#f5000b"/><stop offset="0.1513" stop-color="#b6000b"/><stop offset="0.1597" stop-color="#8b000b"/><stop offset="0.1681" stop-color="#a9000b"/><stop offset="0.1765" stop-color="#dc000b"/><stop offset="0.1849" stop-color="#e6000b"/><stop offset="0.1933" stop-color="#ce000b"/><stop offset="0.2017" stop-color="#d8000b"/><stop offset="0.2101" stop-color="#cb000b"/><stop offset="0.2185" stop-color="#af000b"/><stop offset="0.2269" stop-color="#be000b"/><stop offset="0.2353" stop-color="#da000b"/><stop offset="0.2437" stop-color="#d2000b"/><stop offset="0.2521" stop-color="#b5000b"/><stop offset="0.2605" stop-color="#c8000b"/><stop offset="0.2689" stop-color="#d6000b"/><stop offset="0.2773" stop-color="#d4000b"/><stop offset="0.2857" stop-color="#d5000b"/><stop offset="0.2941" stop-color="#c8000b"/><stop offset="0.3025" stop-color="#d6000b"/><stop offset="0.3109" stop-color="#dc000b"/><stop offset="0.3193" stop-color="#c5000b"/><stop offset="0.3277" stop-color="#a9000b"/><stop offset="0.3361" stop-color="#ba000b"/><stop offset="0.3445" stop-color="#bb000b"/><stop offset="0.3529" stop-color="#bc000b"/><stop offset="0.3613" stop-color="#c9000b"/><stop offset="0.3697" stop-color="#e0000b"/><stop offset="0.3782" stop-color="#dc000b"/><stop offset="0.3866" stop-color="#d5000b"/><stop offset="0.3950" stop-color="#ce000b"/><stop offset="0.4034" stop-color="#d5000b"/><stop offset="0.4118" stop-color="#da000b"/><stop offset="0.4202" stop-color="#c4000b"/><stop offset="0.4286" stop-color="#b9000b"/><stop offset="0.4370" stop-color="#c5000b"/><stop offset="0.4454" stop-color="#ca000b"/><stop offset="0.4538" stop-color="#c4000b"/><stop offset="0.4622" stop-color="#c2000b"/><stop offset="0.4706" stop-color="#cc000b"/><stop offset="0.4790" stop-color="#e3000b"/><stop offset="0.4874" stop-color="#d1000b"/><stop offset="0.4958" stop-color="#ad000b"/><stop offset="0.5042" stop-color="#aa000b"/><stop offset="0.5126" stop-color="#be000b"/><stop offset="0.5210" stop-color="#d1000b"/><stop offset="0.5294" stop-color="#d0000b"/><stop offset="0.5378" stop-color="#b9000b"/><stop offset="0.5462" stop-color="#d4000b"/><stop offset="0.5546" stop-color="#cd000b"/><stop offset="0.5630" stop-color="#c4000b"/><stop offset="0.5714" stop-color="#ae000b"/><stop offset="0.5798" stop-color="#c6000b"/><stop offset="0.5882" stop-color="#cf000b"/><stop offset="0.5966" stop-color="#bc000b"/><stop offset="0.6050" stop-color="#b1000b"/><stop offset="0.6134" stop-color="#c8000b"/><stop offset="0.6218" stop-color="#d1000b"/><stop offset="0.6303" stop-color="#c9000b"/><stop offset="0.6387" stop-color="#bb000b"/><stop offset="0.6471" stop-color="#cc000b"/><stop offset="0.6555" stop-color="#c5000b"/><stop offset="0.6639" stop-color="#b6000b"/><stop offset="0.6723" stop-color="#cc000b"/><stop offset="0.6807" stop-color="#d6000b"/><stop offset="0.6891" stop-color="#c2000b"/><stop offset="0.6975" stop-color="#be000b"/><stop offset="0.7059" stop-color="#cc000b"/><stop offset="0.7143" stop-color="#c9000b"/><stop offset="0.7227" stop-color="#cc000b"/><stop offset="0.7311" stop-color="#aa000b"/><stop offset="0.7395" stop-color="#a9000b"/><stop offset="0.7479" stop-color="#a6000b"/><stop offset="0.7563" stop-color="#c1000b"/><stop offset="0.7647" stop-color="#c7000b"/><stop offset="0.7731" stop-color="#c2000b"/><stop offset="0.7815" stop-color="#af000b"/><stop offset="0.7899" stop-color="#b9000b"/><stop offset="0.7983" stop-color="#ad000b"/><stop offset="0.8067" stop-color="#b4000b"/><stop offset="0.8151" stop-color="#9a000b"/><stop offset="0.8235" stop-color="#ae000b"/><stop offset="0.8319" stop-color="#cf000b"/><stop offset="0.8403" stop-color="#ca000b"/><stop offset="0.8487" stop-color="#a2000b"/><stop offset="0.8571" stop-color="#a5000b"/><stop offset="0.8655" stop-color="#9f000b"/><stop offset="0.8739" stop-color="#9a000b"/><stop offset="0.8824" stop-color="#92000b"/><stop offset="0.8908" stop-color="#8d000b"/><stop offset="0.8992" stop-color="#96000b"/><stop offset="0.9076" stop-color="#94000b"/><stop offset="0.9160" stop-color="#9f000b"/><stop offset="0.9244" stop-color="#aa000b"/><stop offset="0.9328" stop-color="#87000b"/><stop offset="0.9412" stop-color="#7f000b"/><stop offset="0.9496" stop-color="#91000b"/><stop offset="0.9580" stop-color="#7f000b"/><stop offset="0.9664" stop-color="#7f000b"/><stop offset="0.9748" stop-color="#90000b"/><stop offset="0.9832" stop-color="#8c000b"/><stop offset="0.9916" stop-color="#91000b"/><stop offset="1.0000" stop-color="#8e000b"/></linearGradient>
<linearGradient id="gd_2" x1="0" x2="1" y1="0" y2="0"><stop offset="0.0000" stop-color="#b3000b"/><stop offset="0.0084" stop-color="#c0000b"/><stop offset="0.0168" stop-color="#ce000b"/><stop offset="0.0252" stop-color="#d3000b"/><stop offset="0.0336" stop-color="#c7000b"/><stop offset="0.0420" stop-color="#c2000b"/><stop offset="0.0504" stop-color="#a6000b"/><stop offset="0.0588" stop-color="#97000b"/><stop offset="0.0672" stop-color="#a5000b"/><stop offset="0.0756" stop-color="#c9000b"/><stop offset="0.0840" stop-color="#bb000b"/><stop offset="0.0924" stop-color="#b1000b"/><stop offset="0.1008" stop-color="#b4000b"/><stop offset="0.1092" stop-color="#d1000b"/><stop offset="0.1176" stop-color="#dd000b"/><stop offset="0.1261" stop-color="#d8000b"/><stop offset="0.1345" stop-color="#f9000b"/><stop offset="0.1429" stop-color="#e9000b"/><stop offset="0.1513" stop-color="#b8000b"/><stop offset="0.1597" stop-color="#97000b"/><stop offset="0.1681" stop-color="#b7000b"/><stop offset="0.1765" stop-color="#dd000b"/><stop offset="0.1849" stop-color="#df000b"/><stop offset="0.1933" stop-color="#c2000b"/><stop offset="0.2017" stop-color="#dd000b"/><stop offset="0.2101" stop-color="#c4000b"/><stop offset="0.2185" stop-color="#ae000b"/><stop offset="0.2269" stop-color="#c7000b"/><stop offset="0.2353" stop-color="#d4000b"/><stop offset="0.2437" stop-color="#c7000b"/><stop offset="0.2521" stop-color="#a7000b"/><stop offset="0.2605" stop-color="#bd000b"/><stop offset="0.2689" stop-color="#d8000b"/><stop offset="0.2773" stop-color="#e2000b"/><stop offset="0.2857" stop-color="#e0000b"/><stop offset="0.2941" stop-color="#d4000b"/><stop offset="0.3025" stop-color="#e5000b"/><stop offset="0.3109" stop-color="#ef000b"/><stop offset="0.3193" stop-color="#cf000b"/><stop offset="0.3277" stop-color="#b2000b"/><stop offset="0.3361" stop-color="#c8000b"/><stop offset="0.3445" stop-color="#c7000b"/><stop offset="0.3529" stop-color="#c5000b"/><stop offset="0.3613" stop-color="#ce000b"/><stop offset="0.3697" stop-color="#cf000b"/><stop offset="0.3782" stop-color="#d1000b"/><stop offset="0.3866" stop-color="#df000b"/><stop offset="0.3950" stop-color="#e9000b"/><stop offset="0.4034" stop-color="#e0000b"/><stop offset="0.4118" stop-color="#e0000b"/><stop offset="0.4202" stop-color="#ce000b"/><stop offset="0.4286" stop-color="#be000b"/><stop offset="0.4370" stop-color="#c0000b"/><stop offset="0.4454" stop-color="#b4000b"/><stop offset="0.4538" stop-color="#b6000b"/><stop offset="0.4622" stop-color="#c1000b"/><stop offset="0.4706" stop-color="#cc000b"/><stop offset="0.4790" stop-color="#e8000b"/><stop offset="0.4874" stop-color="#db000b"/><stop offset="0.4958" stop-color="#bc000b"/><stop offset="0.5042" stop-color="#b2000b"/><stop offset="0.5126" stop-color="#b8000b"/><stop offset="0.5210" stop-color="#c6000b"/><stop offset="0.5294" stop-color="#c4000b"/><stop offset="0.5378" stop-color="#b4000b"/><stop offset="0.5462" stop-color="#db000b"/><stop offset="0.5546" stop-color="#d8000b"/><stop offset="0.5630" stop-color="#c5000b"/><stop offset="0.5714" stop-color="#a4000b"/><stop offset="0.5798" stop-color="#b3000b"/><stop offset="0.5882" stop-color="#c5000b"/><stop offset="0.5966" stop-color="#c3000b"/><stop offset="0.6050" stop-color="#bd000b"/><stop offset="0.6134" stop-color="#d3000b"/><stop offset="0.6218" stop-color="#dc000b"/><stop offset="0.6303" stop-color="#cf000b"/><stop offset="0.6387" stop-color="#bb000b"/><stop offset="0.6471" stop-color="#cb000b"/><stop offset="0.6555" stop-color="#bf000b"/><stop offset="0.6639" stop-color="#a6000b"/><stop offset="0.6723" stop-color="#c1000b"/><stop offset="0.6807" stop-color="#d0000b"/><stop offset="0.6891" stop-color="#c7000b"/><stop offset="0.6975" stop-color="#c1000b"/><stop offset="0.7059" stop-color="#d1000b"/><stop offset="0.7143" stop-color="#bd000b"/><stop offset="0.7227" stop-color="#c6000b"/><stop offset="0.7311" stop-color="#b2000b"/><stop offset="0.7395" stop-color="#b5000b"/><stop offset="0.7479" stop-color="#ba000b"/><stop offset="0.7563" stop-color="#e4000b"/><stop offset="0.7647" stop-color="#da000b"/><stop offset="0.7731" stop-color="#c6000b"/><stop offset="0.7815" stop-color="#b6000b"/><stop offset="0.7899" stop-color="#b1000b"/><stop offset="0.7983" stop-color="#a6000b"/><stop offset="0.8067" stop-color="#c2000b"/><stop offset="0.8151" stop-color="#ab000b"/><stop offset="0.8235" stop-color="#b0000b"/><stop offset="0.8319" stop-color="#c4000b"/><stop offset="0.8403" stop-color="#ce000b"/><stop offset="0.8487" stop-color="#ad000b"/><stop offset="0.8571" stop-color="#ab000b"/><stop offset="0.8655" stop-color="#9f000b"/><stop offset="0.8739" stop-color="#96000b"/><stop offset="0.8824" stop-color="#8e000b"/><stop offset="0.8908" stop-color="#7f000b"/><stop offset="0.8992" stop-color="#7f000b"/><stop offset="0.9076" stop-color="#7f000b"/><stop offset="0.9160" stop-color="#96000b"/><stop offset="0.9244" stop-color="#ac000b"/><stop offset="0.9328" stop-color="#98000b"/><stop offset="0.9412" stop-color="#81000b"/><stop offset="0.9496" stop-color="#94000b"/><stop offset="0.9580" stop-color="#80000b"/><stop offset="0.9664" stop-color="#8c000b"/><stop offset="0.9748" stop-color="#84000b"/><stop offset="0.9832" stop-color="#87000b"/><stop offset="0.9916" stop-color="#9c000b"/><stop offset="1.0000" stop-color="#90000b"/></linearGradient>
<linearGradient id="gd_3" x1="0" x2="1" y1="0" y2="0"><stop offset="0.0000" stop-color="#a9000b"/><stop offset="0.0084" stop-color="#b7000b"/><stop offset="0.0168" stop-color="#c9000b"/><stop offset="0.0252" stop-color="#ca000b"/><stop offset="0.0336" stop-color="#c1000b"/><stop offset="0.0420" stop-color="#bc000b"/><stop offset="0.0504" stop-color="#a2000b"/><stop offset="0.0588" stop-color="#a2000b"/><stop offset="0.0672" stop-color="#ac000b"/><stop offset="0.0756" stop-color="#ce000b"/><stop offset="0.0840" stop-color="#bf000b"/><stop offset="0.0924" stop-color="#b7000b"/><stop offset="0.1008" stop-color="#ad000b"/><stop offset="0.1092" stop-color="#de000b"/><stop offset="0.1176" stop-color="#dc000b"/><stop offset="0.1261" stop-color="#d0000b"/><stop offset="0.1345" stop-color="#ed000b"/><stop offset="0.1429" stop-color="#f2000b"/><stop offset="0.1513" stop-color="#c0000b"/><stop offset="0.1597" stop-color="#97000b"/><stop offset="0.1681" stop-color="#ad000b"/><stop offset="0.1765" stop-color="#cf000b"/><stop offset="0.1849" stop-color="#dd000b"/><stop offset="0.1933" stop-color="#e0000b"/><stop offset="0.2017" stop-color="#f0000b"/><stop offset="0.2101" stop-color="#c4000b"/><stop offset="0.2185" stop-color="#a1000b"/><stop offset="0.2269" stop-color="#b8000b"/><stop offset="0.2353" stop-color="#d5000b"/><stop offset="0.2437" stop-color="#ce000b"/><stop offset="0.2521" stop-color="#ae000b"/><stop offset="0.2605" stop-color="#b8000b"/><stop offset="0.2689" stop-color="#cc000b"/><stop offset="0.2773" stop-color="#da000b"/><stop offset="0.2857" stop-color="#cf000b"/><stop offset="0.2941" stop-color="#ce000b"/><stop offset="0.3025" stop-color="#e7000b"/><stop offset="0.3109" stop-color="#fd000b"/><stop offset="0.3193" stop-color="#d6000b"/><stop offset="0.3277" stop-color="#ae000b"/><stop offset="0.3361" stop-color="#c5000b"/><stop offset="0.3445" stop-color="#b9000b"/><stop offset="0.3529" stop-color="#ba000b"/><stop offset="0.3613" stop-color="#d6000b"/><stop offset="0.3697" stop-color="#d7000b"/><stop offset="0.3782" stop-color="#da000b"/><stop offset="0.3866" stop-color="#f0000b"/><stop offset="0.3950" stop-color="#ff080b"/><stop offset="0.4034" stop-color="#f3000b"/><stop offset="0.4118" stop-color="#f3000b"/><stop offset="0.4202" stop-color="#ea000b"/><stop offset="0.4286" stop-color="#ce000b"/><stop offset="0.4370" stop-color="#c2000b"/><stop offset="0.4454" stop-color="#ac000b"/><stop offset="0.4538" stop-color="#b5000b"/><stop offset="0.4622" stop-color="#cb000b"/><stop offset="0.4706" stop-color="#da000b"/><stop offset="0.4790" stop-color="#f7000b"/><stop offset="0.4874" stop-color="#d8000b"/><stop offset="0.4958" stop-color="#b9000b"/><stop offset="0.5042" stop-color="#b1000b"/><stop offset="0.5126" stop-color="#bf000b"/><stop offset="0.5210" stop-color="#c0000b"/><stop offset="0.5294" stop-color="#b9000b"/><stop offset="0.5378" stop-color="#b9000b"/><stop offset="0.5462" stop-color="#d3000b"/><stop offset="0.5546" stop-color="#c8000b"/><stop offset="0.5630" stop-color="#c3000b"/><stop offset="0.5714" stop-color="#b3000b"/><stop offset="0.5798" stop-color="#be000b"/><stop offset="0.5882" stop-color="#c0000b"/><stop offset="0.5966" stop-color="#ba000b"/><stop offset="0.6050" stop-color="#c6000b"/><stop offset="0.6134" stop-color="#db000b"/><stop offset="0.6218" stop-color="#d3000b"/><stop offset="0.6303" stop-color="#cc000b"/><stop offset="0.6387" stop-color="#c8000b"/><stop offset="0.6471" stop-color="#d4000b"/><stop offset="0.6555" stop-color="#c5000b"/><stop offset="0.6639" stop-color="#b7000b"/><stop offset="0.6723" stop-color="#c8000b"/><stop offset="0.6807" stop-color="#d9000b"/><stop offset="0.6891" stop-color="#d9000b"/><stop offset="0.6975" stop-color="#c8000b"/><stop offset="0.7059" stop-color="#d3000b"/><stop offset="0.7143" stop-color="#bd000b"/><stop offset="0.7227" stop-color="#c1000b"/><stop offset="0.7311" stop-color="#b0000b"/><stop offset="0.7395" stop-color="#c8000b"/><stop offset="0.7479" stop-color="#d0000b"/><stop offset="0.7563" stop-color="#ec000b"/><stop offset="0.7647" stop-color="#cf000b"/><stop offset="0.7731" stop-color="#b7000b"/><stop offset="0.7815" stop-color="#a2000b"/><stop offset="0.7899" stop-color="#9e000b"/><stop offset="0.7983" stop-color="#a0000b"/><stop offset="0.8067" stop-color="#bc000b"/><stop offset="0.8151" stop-color="#ae000b"/><stop offset="0.8235" stop-color="#be000b"/><stop offset="0.8319" stop-color="#e8000b"/><stop offset="0.8403" stop-color="#e5000b"/><stop offset="0.8487" stop-color="#a8000b"/><stop offset="0.8571" stop-color="#9b000b"/><stop offset="0.8655" stop-color="#99000b"/><stop offset="0.8739" stop-color="#93000b"/><stop offset="0.8824" stop-color="#7f000b"/><stop offset="0.8908" stop-color="#7f000b"/><stop offset="0.8992" stop-color="#7f000b"/><stop offset="0.9076" stop-color="#7f000b"/><stop offset="0.9160" stop-color="#8f000b"/><stop offset="0.9244" stop-color="#b0000b"/><stop offset="0.9328" stop-color="#a6000b"/><stop offset="0.9412" stop-color="#83000b"/><stop offset="0.9496" stop-color="#86000b"/><stop offset="0.9580" stop-color="#7f000b"/><stop offset="0.9664" stop-color="#83000b"/><stop offset="0.9748" stop-color="#82000b"/><stop offset="0.9832" stop-color="#83000b"/><stop offset="0.9916" stop-color="#97000b"/><stop offset="1.0000" stop-color="#9f000b"/></linearGradient>
<linearGradient id="gd_4" x1="0" x2="1" y1="0" y2="0"><stop offset="0.0000" stop-color="#a7000b"/><stop offset="0.0084" stop-color="#bd000b"/><stop offset="0.0168" stop-color="#cb000b"/><stop offset="0.0252" stop-color="#de000b"/><stop offset="0.0336" stop-color="#dc000b"/><stop offset="0.0420" stop-color="#cd000b"/><stop offset="0.0504" stop-color="#bb000b"/><stop offset="0.0588" stop-color="#a8000b"/><stop offset="0.0672" stop-color="#b6000b"/><stop offset="0.0756" stop-color="#d7000b"/><stop offset="0.0840" stop-color="#c2000b"/><stop offset="0.0924" stop-color="#b1000b"/><stop offset="0.1008" stop-color="#b0000b"/><stop offset="0.1092" stop-color="#e3000b"/><stop offset="0.1176" stop-color="#e0000b"/><stop offset="0.1261" stop-color="#d4000b"/><stop offset="0.1345" stop-color="#ff010b"/><stop offset="0.1429" stop-color="#fc000b"/><stop offset="0.1513" stop-color="#cc000b"/><stop offset="0.1597" stop-color="#a1000b"/><stop offset="0.1681" stop-color="#b1000b"/><stop offset="0.1765" stop-color="#d4000b"/><stop offset="0.1849" stop-color="#e4000b"/><stop offset="0.1933" stop-color="#d6000b"/><stop offset="0.2017" stop-color="#f4000b"/><stop offset="0.2101" stop-color="#d2000b"/><stop offset="0.2185" stop-color="#a4000b"/><stop offset="0.2269" stop-color="#b5000b"/><stop offset="0.2353" stop-color="#c7000b"/><stop offset="0.2437" stop-color="#d7000b"/><stop offset="0.2521" stop-color="#d1000b"/><stop offset="0.2605" stop-color="#e1000b"/><stop offset="0.2689" stop-color="#e5000b"/><stop offset="0.2773" stop-color="#e1000b"/><stop offset="0.2857" stop-color="#cd000b"/><stop offset="0.2941" stop-color="#c4000b"/><stop offset="0.3025" stop-color="#da000b"/><stop offset="0.3109" stop-color="#f5000b"/><stop offset="0.3193" stop-color="#cd000b"/><stop offset="0.3277" stop-color="#96000b"/><stop offset="0.3361" stop-color="#af000b"/><stop offset="0.3445" stop-color="#c1000b"/><stop offset="0.3529" stop-color="#c1000b"/><stop offset="0.3613" stop-color="#cf000b"/><stop offset="0.3697" stop-color="#c5000b"/><stop offset="0.3782" stop-color="#d4000b"/><stop offset="0.3866" stop-color="#fd000b"/><stop offset="0.3950" stop-color="#ff0e0b"/><stop offset="0.4034" stop-color="#ff020b"/><stop offset="0.4118" stop-color="#ff000b"/><stop offset="0.4202" stop-color="#f1000b"/><stop offset="0.4286" stop-color="#d0000b"/><stop offset="0.4370" stop-color="#c7000b"/><stop offset="0.4454" stop-color="#b5000b"/><stop offset="0.4538" stop-color="#b8000b"/><stop offset="0.4622" stop-color="#c4000b"/><stop offset="0.4706" stop-color="#db000b"/><stop offset="0.4790" stop-color="#ec000b"/><stop offset="0.4874" stop-color="#cd000b"/><stop offset="0.4958" stop-color="#b7000b"/><stop offset="0.5042" stop-color="#bf000b"/><stop offset="0.5126" stop-color="#d5000b"/><stop offset="0.5210" stop-color="#da000b"/><stop offset="0.5294" stop-color="#c9000b"/><stop offset="0.5378" stop-color="#af000b"/><stop offset="0.5462" stop-color="#bf000b"/><stop offset="0.5546" stop-color="#b4000b"/><stop offset="0.5630" stop-color="#b8000b"/><stop offset="0.5714" stop-color="#bb000b"/><stop offset="0.5798" stop-color="#c9000b"/><stop offset="0.5882" stop-color="#ca000b"/><stop offset="0.5966" stop-color="#cf000b"/><stop offset="0.6050" stop-color="#ea000b"/><stop offset="0.6134" stop-color="#ff050b"/><stop offset="0.6218" stop-color="#eb000b"/><stop offset="0.6303" stop-color="#c7000b"/><stop offset="0.6387" stop-color="#c0000b"/><stop offset="0.6471" stop-color="#c9000b"/><stop offset="0.6555" stop-color="#c4000b"/><stop offset="0.6639" stop-color="#c2000b"/><stop offset="0.6723" stop-color="#ce000b"/><stop offset="0.6807" stop-color="#d9000b"/><stop offset="0.6891" stop-color="#d7000b"/><stop offset="0.6975" stop-color="#ca000b"/><stop offset="0.7059" stop-color="#c7000b"/><stop offset="0.7143" stop-color="#c9000b"/><stop offset="0.7227" stop-color="#cd000b"/><stop offset="0.7311" stop-color="#b8000b"/><stop offset="0.7395" stop-color="#c8000b"/><stop offset="0.7479" stop-color="#cf000b"/><stop offset="0.7563" stop-color="#f9000b"/><stop offset="0.7647" stop-color="#f3000b"/><stop offset="0.7731" stop-color="#d3000b"/><stop offset="0.7815" stop-color="#a5000b"/><stop offset="0.7899" stop-color="#a8000b"/><stop offset="0.7983" stop-color="#b3000b"/><stop offset="0.8067" stop-color="#bc000b"/><stop offset="0.8151" stop-color="#ad000b"/><stop offset="0.8235" stop-color="#c0000b"/><stop offset="0.8319" stop-color="#da000b"/><stop offset="0.8403" stop-color="#d6000b"/><stop offset="0.8487" stop-color="#b4000b"/><stop offset="0.8571" stop-color="#a2000b"/><stop offset="0.8655" stop-color="#98000b"/><stop offset="0.8739" stop-color="#94000b"/><stop offset="0.8824" stop-color="#7f000b"/><stop offset="0.8908" stop-color="#7f000b"/><stop offset="0.8992" stop-color="#85000b"/><stop offset="0.9076" stop-color="#83000b"/><stop offset="0.9160" stop-color="#85000b"/><stop offset="0.9244" stop-color="#a5000b"/><stop offset="0.9328" stop-color="#8f000b"/><stop offset="0.9412" stop-color="#7f000b"/><stop offset="0.9496" stop-color="#89000b"/><stop offset="0.9580" stop-color="#84000b"/><stop offset="0.9664" stop-color="#9c000b"/><stop offset="0.9748" stop-color="#8d000b"/><stop offset="0.9832" stop-color="#88000b"/><stop offset="0.9916" stop-color="#9a000b"/><stop offset="1.0000" stop-color="#94000b"/></linearGradient>
<linearGradient id="gd_5" x1="0" x2="1" y1="0" y2="0"><stop offset="0.0000" stop-color="#a2000b"/><stop offset="0.0084" stop-color="#bf000b"/><stop offset="0.0168" stop-color="#cd000b"/><stop offset="0.0252" stop-color="#d6000b"/><stop offset="0.0336" stop-color="#d5000b"/><stop offset="0.0420" stop-color="#cb000b"/><stop offset="0.0504" stop-color="#bc000b"/><stop offset="0.0588" stop-color="#ad000b"/><stop offset="0.0672" stop-color="#ba000b"/><stop offset="0.0756" stop-color="#dd000b"/><stop offset="0.0840" stop-color="#bf000b"/><stop offset="0.0924" stop-color="#a7000b"/><stop offset="0.1008" stop-color="#ab000b"/><stop offset="0.1092" stop-color="#db000b"/><stop offset="0.1176" stop-color="#d9000b"/><stop offset="0.1261" stop-color="#cc000b"/><stop offset="0.1345" stop-color="#ff0b0b"/><stop offset="0.1429" stop-color="#ff020b"/><stop offset="0.1513" stop-color="#cb000b"/><stop offset="0.1597" stop-color="#b1000b"/><stop offset="0.1681" stop-color="#c2000b"/><stop offset="0.1765" stop-color="#cf000b"/><stop offset="0.1849" stop-color="#db000b"/><stop offset="0.1933" stop-color="#db000b"/><stop offset="0.2017" stop-color="#f7000b"/><stop offset="0.2101" stop-color="#d6000b"/><stop offset="0.2185" stop-color="#b1000b"/><stop offset="0.2269" stop-color="#bd000b"/><stop offset="0.2353" stop-color="#dd000b"/><stop offset="0.2437" stop-color="#de000b"/><stop offset="0.2521" stop-color="#d5000b"/><stop offset="0.2605" stop-color="#e5000b"/><stop offset="0.2689" stop-color="#e7000b"/><stop offset="0.2773" stop-color="#e5000b"/><stop offset="0.2857" stop-color="#c2000b"/><stop offset="0.2941" stop-color="#ae000b"/><stop offset="0.3025" stop-color="#c2000b"/><stop offset="0.3109" stop-color="#e3000b"/><stop offset="0.3193" stop-color="#cd000b"/><stop offset="0.3277" stop-color="#ab000b"/><stop offset="0.3361" stop-color="#c9000b"/><stop offset="0.3445" stop-color="#bc000b"/><stop offset="0.3529" stop-color="#b7000b"/><stop offset="0.3613" stop-color="#d0000b"/><stop offset="0.3697" stop-color="#dc000b"/><stop offset="0.3782" stop-color="#da000b"/><stop offset="0.3866" stop-color="#f7000b"/><stop offset="0.3950" stop-color="#ff0f0b"/><stop offset="0.4034" stop-color="#ff1a0b"/><stop offset="0.4118" stop-color="#ff260b"/><stop offset="0.4202" stop-color="#ff000b"/><stop offset="0.4286" stop-color="#cf000b"/><stop offset="0.4370" stop-color="#c7000b"/><stop offset="0.4454" stop-color="#b5000b"/><stop offset="0.4538" stop-color="#b0000b"/><stop offset="0.4622" stop-color="#bf000b"/><stop offset="0.4706" stop-color="#d0000b"/><stop offset="0.4790" stop-color="#ee000b"/><stop offset="0.4874" stop-color="#d8000b"/><stop offset="0.4958" stop-color="#c2000b"/><stop offset="0.5042" stop-color="#c3000b"/><stop offset="0.5126" stop-color="#cc000b"/><stop offset="0.5210" stop-color="#dc000b"/><stop offset="0.5294" stop-color="#ce000b"/><stop offset="0.5378" stop-color="#b2000b"/><stop offset="0.5462" stop-color="#cb000b"/><stop offset="0.5546" stop-color="#bd000b"/><stop offset="0.5630" stop-color="#ae000b"/><stop offset="0.5714" stop-color="#a2000b"/><stop offset="0.5798" stop-color="#b5000b"/><stop offset="0.5882" stop-color="#c9000b"/><stop offset="0.5966" stop-color="#d4000b"/><stop offset="0.6050" stop-color="#f2000b"/><stop offset="0.6134" stop-color="#ff0b0b"/><stop offset="0.6218" stop-color="#f5000b"/><stop offset="0.6303" stop-color="#e0000b"/><stop offset="0.6387" stop-color="#d6000b"/><stop offset="0.6471" stop-color="#d0000b"/><stop offset="0.6555" stop-color="#c6000b"/><stop offset="0.6639" stop-color="#b1000b"/><stop offset="0.6723" stop-color="#be000b"/><stop offset="0.6807" stop-color="#bf000b"/><stop offset="0.6891" stop-color="#c4000b"/><stop offset="0.6975" stop-color="#cc000b"/><stop offset="0.7059" stop-color="#d6000b"/><stop offset="0.7143" stop-color="#d9000b"/><stop offset="0.7227" stop-color="#c5000b"/><stop offset="0.7311" stop-color="#9f000b"/><stop offset="0.7395" stop-color="#c3000b"/><stop offset="0.7479" stop-color="#e5000b"/><stop offset="0.7563" stop-color="#ff240b"/><stop offset="0.7647" stop-color="#ff1a0b"/><stop offset="0.7731" stop-color="#d7000b"/><stop offset="0.7815" stop-color="#9e000b"/><stop offset="0.7899" stop-color="#ab000b"/><stop offset="0.7983" stop-color="#b4000b"/><stop offset="0.8067" stop-color="#cf000b"/><stop offset="0.8151" stop-color="#b9000b"/><stop offset="0.8235" stop-color="#c1000b"/><stop offset="0.8319" stop-color="#d1000b"/><stop offset="0.8403" stop-color="#cd000b"/><stop offset="0.8487" stop-color="#a2000b"/><stop offset="0.8571" stop-color="#9f000b"/><stop offset="0.8655" stop-color="#9d000b"/><stop offset="0.8739" stop-color="#99000b"/><stop offset="0.8824" stop-color="#88000b"/><stop offset="0.8908" stop-color="#7f000b"/><stop offset="0.8992" stop-color="#8c000b"/><stop offset="0.9076" stop-color="#81000b"/><stop offset="0.9160" stop-color="#81000b"/><stop offset="0.9244" stop-color="#9e000b"/><stop offset="0.9328" stop-color="#8d000b"/><stop offset="0.9412" stop-color="#7f000b"/><stop offset="0.9496" stop-color="#94000b"/><stop offset="0.9580" stop-color="#7f000b"/><stop offset="0.9664" stop-color="#87000b"/><stop offset="0.9748" stop-color="#87000b"/><stop offset="0.9832" stop-color="#8a000b"/><stop offset="0.9916" stop-color="#a6000b"/><stop offset="1.0000" stop-color="#a7000b"/></linearGradient>
<linearGradient id="gd_6" x1="0" x2="1" y1="0" y2="0"><stop offset="0.0000" stop-color="#ab000b"/><stop offset="0.0084" stop-color="#c6000b"/><stop offset="0.0168" stop-color="#d3000b"/><stop offset="0.0252" stop-color="#d3000b"/><stop offset="0.0336" stop-color="#d1000b"/><stop offset="0.0420" stop-color="#cd000b"/><stop offset="0.0504" stop-color="#be000b"/><stop offset="0.0588" stop-color="#b8000b"/><stop offset="0.0672" stop-color="#be000b"/><stop offset="0.0756" stop-color="#da000b"/><stop offset="0.0840" stop-color="#b9000b"/><stop offset="0.0924" stop-color="#ac000b"/><stop offset="0.1008" stop-color="#b3000b"/><stop offset="0.1092" stop-color="#d2000b"/><stop offset="0.1176" stop-color="#d6000b"/><stop offset="0.1261" stop-color="#db000b"/><stop offset="0.1345" stop-color="#ff080b"/><stop offset="0.1429" stop-color="#ee000b"/><stop offset="0.1513" stop-color="#be000b"/><stop offset="0.1597" stop-color="#a3000b"/><stop offset="0.1681" stop-color="#ba000b"/><stop offset="0.1765" stop-color="#d3000b"/><stop offset="0.1849" stop-color="#de000b"/><stop offset="0.1933" stop-color="#df000b"/><stop offset="0.2017" stop-color="#f4000b"/><stop offset="0.2101" stop-color="#d6000b"/><stop offset="0.2185" stop-color="#ad000b"/><stop offset="0.2269" stop-color="#b8000b"/><stop offset="0.2353" stop-color="#dc000b"/><stop offset="0.2437" stop-color="#e3000b"/><stop offset="0.2521" stop-color="#dd000b"/><stop offset="0.2605" stop-color="#ef000b"/><stop offset="0.2689" stop-color="#e6000b"/><stop offset="0.2773" stop-color="#e9000b"/><stop offset="0.2857" stop-color="#d1000b"/><stop offset="0.2941" stop-color="#af000b"/><stop offset="0.3025" stop-color="#c4000b"/><stop offset="0.3109" stop-color="#e4000b"/><stop offset="0.3193" stop-color="#ca000b"/><stop offset="0.3277" stop-color="#ba000b"/><stop offset="0.3361" stop-color="#d1000b"/><stop offset="0.3445" stop-color="#c9000b"/><stop offset="0.3529" stop-color="#bc000b"/><stop offset="0.3613" stop-color="#cf000b"/><stop offset="0.3697" stop-color="#dd000b"/><stop offset="0.3782" stop-color="#e2000b"/><stop offset="0.3866" stop-color="#f1000b"/><stop offset="0.3950" stop-color="#ff050b"/><stop offset="0.4034" stop-color="#ff130b"/><stop offset="0.4118" stop-color="#ff1b0b"/><stop offset="0.4202" stop-color="#f5000b"/><stop offset="0.4286" stop-color="#d9000b"/><stop offset="0.4370" stop-color="#d8000b"/><stop offset="0.4454" stop-color="#c9000b"/><stop offset="0.4538" stop-color="#b5000b"/><stop offset="0.4622" stop-color="#ab000b"/><stop offset="0.4706" stop-color="#bf000b"/><stop offset="0.4790" stop-color="#d4000b"/><stop offset="0.4874" stop-color="#ba000b"/><stop offset="0.4958" stop-color="#a6000b"/><stop offset="0.5042" stop-color="#ae000b"/><stop offset="0.5126" stop-color="#cb000b"/><stop offset="0.5210" stop-color="#d5000b"/><stop offset="0.5294" stop-color="#b8000b"/><stop offset="0.5378" stop-color="#9e000b"/><stop offset="0.5462" stop-color="#b9000b"/><stop offset="0.5546" stop-color="#c5000b"/><stop offset="0.5630" stop-color="#c2000b"/><stop offset="0.5714" stop-color="#b3000b"/><stop offset="0.5798" stop-color="#bc000b"/><stop offset="0.5882" stop-color="#c5000b"/><stop offset="0.5966" stop-color="#c3000b"/><stop offset="0.6050" stop-color="#dc000b"/><stop offset="0.6134" stop-color="#fd000b"/><stop offset="0.6218" stop-color="#ff0b0b"/><stop offset="0.6303" stop-color="#f8000b"/><stop offset="0.6387" stop-color="#da000b"/><stop offset="0.6471" stop-color="#c8000b"/><stop offset="0.6555" stop-color="#ba000b"/><stop offset="0.6639" stop-color="#b0000b"/><stop offset="0.6723" stop-color="#c7000b"/><stop offset="0.6807" stop-color="#c6000b"/><stop offset="0.6891" stop-color="#c7000b"/><stop offset="0.6975" stop-color="#c2000b"/><stop offset="0.7059" stop-color="#ce000b"/><stop offset="0.7143" stop-color="#c5000b"/><stop offset="0.7227" stop-color="#c6000b"/><stop offset="0.7311" stop-color="#a8000b"/><stop offset="0.7395" stop-color="#c7000b"/><stop offset="0.7479" stop-color="#e9000b"/><stop offset="0.7563" stop-color="#ff220b"/><stop offset="0.7647" stop-color="#ff190b"/><stop offset="0.7731" stop-color="#d0000b"/><stop offset="0.7815" stop-color="#95000b"/><stop offset="0.7899" stop-color="#a8000b"/><stop offset="0.7983" stop-color="#b8000b"/><stop offset="0.8067" stop-color="#c9000b"/><stop offset="0.8151" stop-color="#b2000b"/><stop offset="0.8235" stop-color="#c7000b"/><stop offset="0.8319" stop-color="#ec000b"/><stop offset="0.8403" stop-color="#db000b"/><stop offset="0.8487" stop-color="#b0000b"/><stop offset="0.8571" stop-color="#a2000b"/><stop offset="0.8655" stop-color="#91000b"/><stop offset="0.8739" stop-color="#90000b"/><stop offset="0.8824" stop-color="#8e000b"/><stop offset="0.8908" stop-color="#81000b"/><stop offset="0.8992" stop-color="#8a000b"/><stop offset="0.9076" stop-color="#82000b"/><stop offset="0.9160" stop-color="#83000b"/><stop offset="0.9244" stop-color="#8c000b"/><stop offset="0.9328" stop-color="#7f000b"/><stop offset="0.9412" stop-color="#7f000b"/><stop offset="0.9496" stop-color="#8c000b"/><stop offset="0.9580" stop-color="#7f000b"/><stop offset="0.9664" stop-color="#7f000b"/><stop offset="0.9748" stop-color="#8d000b"/><stop offset="0.9832" stop-color="#8d000b"/><stop offset="0.9916" stop-color="#a2000b"/><stop offset="1.0000" stop-color="#a5000b"/></linearGradient>
<linearGradient id="gd_7" x1="0" x2="1" y1="0" y2="0"><stop offset="0.0000" stop-color="#a9000b"/><stop offset="0.0084" stop-color="#b4000b"/><stop offset="0.0168" stop-color="#c1000b"/><stop offset="0.0252" stop-color="#d5000b"/><stop offset="0.0336" stop-color="#d9000b"/><stop offset="0.0420" stop-color="#dd000b"/><stop offset="0.0504" stop-color="#d2000b"/><stop offset="0.0588" stop-color="#b4000b"/><stop offset="0.0672" stop-color="#b8000b"/><stop offset="0.0756" stop-color="#da000b"/><stop offset="0.0840" stop-color="#b6000b"/><stop offset="0.0924" stop-color="#b2000b"/><stop offset="0.1008" stop-color="#bd000b"/><stop offset="0.1092" stop-color="#e1000b"/><stop offset="0.1176" stop-color="#e8000b"/><stop offset="0.1261" stop-color="#eb000b"/><stop offset="0.1345" stop-color="#ff120b"/><stop offset="0.1429" stop-color="#ff020b"/><stop offset="0.1513" stop-color="#d5000b"/><stop offset="0.1597" stop-color="#ac000b"/><stop offset="0.1681" stop-color="#c6000b"/><stop offset="0.1765" stop-color="#e8000b"/><stop offset="0.1849" stop-color="#f7000b"/><stop offset="0.1933" stop-color="#f5000b"/><stop offset="0.2017" stop-color="#fc000b"/><stop offset="0.2101" stop-color="#dd000b"/><stop offset="0.2185" stop-color="#b4000b"/><stop offset="0.2269" stop-color="#bd000b"/><stop offset="0.2353" stop-color="#d9000b"/><stop offset="0.2437" stop-color="#d9000b"/><stop offset="0.2521" stop-color="#c8000b"/><stop offset="0.2605" stop-color="#d6000b"/><stop offset="0.2689" stop-color="#de000b"/><stop offset="0.2773" stop-color="#de000b"/><stop offset="0.2857" stop-color="#c0000b"/><stop offset="0.2941" stop-color="#ab000b"/><stop offset="0.3025" stop-color="#bf000b"/><stop offset="0.3109" stop-color="#e9000b"/><stop offset="0.3193" stop-color="#d2000b"/><stop offset="0.3277" stop-color="#ce000b"/><stop offset="0.3361" stop-color="#e5000b"/><stop offset="0.3445" stop-color="#d7000b"/><stop offset="0.3529" stop-color="#c3000b"/><stop offset="0.3613" stop-color="#d1000b"/><stop offset="0.3697" stop-color="#d6000b"/><stop offset="0.3782" stop-color="#dd000b"/><stop offset="0.3866" stop-color="#ed000b"/><stop offset="0.3950" stop-color="#ff0a0b"/><stop offset="0.4034" stop-color="#ff000b"/><stop offset="0.4118" stop-color="#ff090b"/><stop offset="0.4202" stop-color="#f3000b"/><stop offset="0.4286" stop-color="#cc000b"/><stop offset="0.4370" stop-color="#c0000b"/><stop offset="0.4454" stop-color="#c5000b"/><stop offset="0.4538" stop-color="#ba000b"/><stop offset="0.4622" stop-color="#a0000b"/><stop offset="0.4706" stop-color="#b3000b"/><stop offset="0.4790" stop-color="#c7000b"/><stop offset="0.4874" stop-color="#b6000b"/><stop offset="0.4958" stop-color="#a0000b"/><stop offset="0.5042" stop-color="#9f000b"/><stop offset="0.5126" stop-color="#b1000b"/><stop offset="0.5210" stop-color="#c6000b"/><stop offset="0.5294" stop-color="#af000b"/><stop offset="0.5378" stop-color="#9a000b"/><stop offset="0.5462" stop-color="#ac000b"/><stop offset="0.5546" stop-color="#9c000b"/><stop offset="0.5630" stop-color="#a4000b"/><stop offset="0.5714" stop-color="#ac000b"/><stop offset="0.5798" stop-color="#c4000b"/><stop offset="0.5882" stop-color="#cb000b"/><stop offset="0.5966" stop-color="#bd000b"/><stop offset="0.6050" stop-color="#d0000b"/><stop offset="0.6134" stop-color="#e9000b"/><stop offset="0.6218" stop-color="#e5000b"/><stop offset="0.6303" stop-color="#db000b"/><stop offset="0.6387" stop-color="#d5000b"/><stop offset="0.6471" stop-color="#d7000b"/><stop offset="0.6555" stop-color="#cb000b"/><stop offset="0.6639" stop-color="#bb000b"/><stop offset="0.6723" stop-color="#d6000b"/><stop offset="0.6807" stop-color="#d4000b"/><stop offset="0.6891" stop-color="#bf000b"/><stop offset="0.6975" stop-color="#b8000b"/><stop offset="0.7059" stop-color="#c9000b"/><stop offset="0.7143" stop-color="#bb000b"/><stop offset="0.7227" stop-color="#b9000b"/><stop offset="0.7311" stop-color="#a2000b"/><stop offset="0.7395" stop-color="#b6000b"/><stop offset="0.7479" stop-color="#d1000b"/><stop offset="0.7563" stop-color="#ff020b"/><stop offset="0.7647" stop-color="#ff080b"/><stop offset="0.7731" stop-color="#cc000b"/><stop offset="0.7815" stop-color="#8b000b"/><stop offset="0.7899" stop-color="#9d000b"/><stop offset="0.7983" stop-color="#b6000b"/><stop offset="0.8067" stop-color="#ba000b"/><stop offset="0.8151" stop-color="#a7000b"/><stop offset="0.8235" stop-color="#c1000b"/><stop offset="0.8319" stop-color="#e2000b"/><stop offset="0.8403" stop-color="#cc000b"/><stop offset="0.8487" stop-color="#b1000b"/><stop offset="0.8571" stop-color="#a0000b"/><stop offset="0.8655" stop-color="#93000b"/><stop offset="0.8739" stop-color="#9f000b"/><stop offset="0.8824" stop-color="#8e000b"/><stop offset="0.8908" stop-color="#7f000b"/><stop offset="0.8992" stop-color="#95000b"/><stop offset="0.9076" stop-color="#92000b"/><stop offset="0.9160" stop-color="#8e000b"/><stop offset="0.9244" stop-color="#91000b"/><stop offset="0.9328" stop-color="#81000b"/><stop offset="0.9412" stop-color="#7f000b"/><stop offset="0.9496" stop-color="#9c000b"/><stop offset="0.9580" stop-color="#7f000b"/><stop offset="0.9664" stop-color="#7f000b"/><stop offset="0.9748" stop-color="#90000b"/><stop offset="0.9832" stop-color="#91000b"/><stop offset="0.9916" stop-color="#9b000b"/><stop offset="1.0000" stop-color="#9a000b"/></linearGradient>
<linearGradient id="gd_8" x1="0" x2="1" y1="0" y2="0"><stop offset="0.0000" stop-color="#ac000b"/><stop offset="0.0084" stop-color="#bb000b"/><stop offset="0.0168" stop-color="#c1000b"/><stop offset="0.0252" stop-color="#c6000b"/><stop offset="0.0336" stop-color="#c5000b"/><stop offset="0.0420" stop-color="#ce000b"/><stop offset="0.0504" stop-color="#c5000b"/><stop offset="0.0588" stop-color="#b9000b"/><stop offset="0.0672" stop-color="#c6000b"/><stop offset="0.0756" stop-color="#df000b"/><stop offset="0.0840" stop-color="#c6000b"/><stop offset="0.0924" stop-color="#bd000b"/><stop offset="0.1008" stop-color="#bf000b"/><stop offset="0.1092" stop-color="#dc000b"/><stop offset="0.1176" stop-color="#eb000b"/><stop offset="0.1261" stop-color="#e5000b"/><stop offset="0.1345" stop-color="#ff0d0b"/><stop offset="0.1429" stop-color="#ff040b"/><stop offset="0.1513" stop-color="#cf000b"/><stop offset="0.1597" stop-color="#a0000b"/><stop offset="0.1681" stop-color="#b9000b"/><stop offset="0.1765" stop-color="#ea000b"/><stop offset="0.1849" stop-color="#fa000b"/><stop offset="0.1933" stop-color="#f6000b"/><stop offset="0.2017" stop-color="#ff090b"/><stop offset="0.2101" stop-color="#e3000b"/><stop offset="0.2185" stop-color="#af000b"/><stop offset="0.2269" stop-color="#bc000b"/><stop offset="0.2353" stop-color="#de000b"/><stop offset="0.2437" stop-color="#e2000b"/><stop offset="0.2521" stop-color="#c3000b"/><stop offset="0.2605" stop-color="#cb000b"/><stop offset="0.2689" stop-color="#d8000b"/><stop offset="0.2773" stop-color="#d5000b"/><stop offset="0.2857" stop-color="#b3000b"/><stop offset="0.2941" stop-color="#a3000b"/><stop offset="0.3025" stop-color="#cb000b"/><stop offset="0.3109" stop-color="#fa000b"/><stop offset="0.3193" stop-color="#d2000b"/><stop offset="0.3277" stop-color="#c4000b"/><stop offset="0.3361" stop-color="#e4000b"/><stop offset="0.3445" stop-color="#da000b"/><stop offset="0.3529" stop-color="#c2000b"/><stop offset="0.3613" stop-color="#cf000b"/><stop offset="0.3697" stop-color="#d6000b"/><stop offset="0.3782" stop-color="#d8000b"/><stop offset="0.3866" stop-color="#e7000b"/><stop offset="0.3950" stop-color="#fc000b"/><stop offset="0.4034" stop-color="#e9000b"/><stop offset="0.4118" stop-color="#eb000b"/><stop offset="0.4202" stop-color="#dd000b"/><stop offset="0.4286" stop-color="#c3000b"/><stop offset="0.4370" stop-color="#c1000b"/><stop offset="0.4454" stop-color="#d0000b"/><stop offset="0.4538" stop-color="#b8000b"/><stop offset="0.4622" stop-color="#93000b"/><stop offset="0.4706" stop-color="#97000b"/><stop offset="0.4790" stop-color="#b2000b"/><stop offset="0.4874" stop-color="#b4000b"/><stop offset="0.4958" stop-color="#a6000b"/><stop offset="0.5042" stop-color="#97000b"/><stop offset="0.5126" stop-color="#9b000b"/><stop offset="0.5210" stop-color="#a4000b"/><stop offset="0.5294" stop-color="#92000b"/><stop offset="0.5378" stop-color="#82000b"/><stop offset="0.5462" stop-color="#8f000b"/><stop offset="0.5546" stop-color="#8a000b"/><stop offset="0.5630" stop-color="#9b000b"/><stop offset="0.5714" stop-color="#a5000b"/><stop offset="0.5798" stop-color="#ae000b"/><stop offset="0.5882" stop-color="#ab000b"/><stop offset="0.5966" stop-color="#ad000b"/><stop offset="0.6050" stop-color="#be000b"/><stop offset="0.6134" stop-color="#dc000b"/><stop offset="0.6218" stop-color="#d0000b"/><stop offset="0.6303" stop-color="#d0000b"/><stop offset="0.6387" stop-color="#ce000b"/><stop offset="0.6471" stop-color="#c7000b"/><stop offset="0.6555" stop-color="#c2000b"/><stop offset="0.6639" stop-color="#c1000b"/><stop offset="0.6723" stop-color="#d9000b"/><stop offset="0.6807" stop-color="#dd000b"/><stop offset="0.6891" stop-color="#c2000b"/><stop offset="0.6975" stop-color="#bc000b"/><stop offset="0.7059" stop-color="#d1000b"/><stop offset="0.7143" stop-color="#ca000b"/><stop offset="0.7227" stop-color="#ca000b"/><stop offset="0.7311" stop-color="#af000b"/><stop offset="0.7395" stop-color="#b3000b"/><stop offset="0.7479" stop-color="#b3000b"/><stop offset="0.7563" stop-color="#e1000b"/><stop offset="0.7647" stop-color="#f0000b"/><stop offset="0.7731" stop-color="#bd000b"/><stop offset="0.7815" stop-color="#8a000b"/><stop offset="0.7899" stop-color="#94000b"/><stop offset="0.7983" stop-color="#ab000b"/><stop offset="0.8067" stop-color="#bc000b"/><stop offset="0.8151" stop-color="#a5000b"/><stop offset="0.8235" stop-color="#c0000b"/><stop offset="0.8319" stop-color="#eb000b"/><stop offset="0.8403" stop-color="#dc000b"/><stop offset="0.8487" stop-color="#bf000b"/><stop offset="0.8571" stop-color="#ac000b"/><stop offset="0.8655" stop-color="#a0000b"/><stop offset="0.8739" stop-color="#a4000b"/><stop offset="0.8824" stop-color="#9f000b"/><stop offset="0.8908" stop-color="#95000b"/><stop offset="0.8992" stop-color="#a8000b"/><stop offset="0.9076" stop-color="#96000b"/><stop offset="0.9160" stop-color="#86000b"/><stop offset="0.9244" stop-color="#95000b"/><stop offset="0.9328" stop-color="#8a000b"/><stop offset="0.9412" stop-color="#86000b"/><stop offset="0.9496" stop-color="#9d000b"/><stop offset="0.9580" stop-color="#7f000b"/><stop offset="0.9664" stop-color="#7f000b"/><stop offset="0.9748" stop-color="#7f000b"/><stop offset="0.9832" stop-color="#7f000b"/><stop offset="0.9916" stop-color="#97000b"/><stop offset="1.0000" stop-color="#a5000b"/></linearGradient>
<linearGradient id="gd_9" x1="0" x2="1" y1="0" y2="0"><stop offset="0.0000" stop-color="#ab000b"/><stop offset="0.0084" stop-color="#bb000b"/><stop offset="0.0168" stop-color="#c1000b"/><stop offset="0.0252" stop-color="#d8000b"/><stop offset="0.0336" stop-color="#e1000b"/><stop offset="0.0420" stop-color="#da000b"/><stop offset="0.0504" stop-color="#be000b"/><stop offset="0.0588" stop-color="#a7000b"/><stop offset="0.0672" stop-color="#bc000b"/><stop offset="0.0756" stop-color="#e4000b"/><stop offset="0.0840" stop-color="#c2000b"/><stop offset="0.0924" stop-color="#bd000b"/><stop offset="0.1008" stop-color="#c9000b"/><stop offset="0.1092" stop-color="#e3000b"/><stop offset="0.1176" stop-color="#eb000b"/><stop offset="0.1261" stop-color="#e0000b"/><stop offset="0.1345" stop-color="#ff0f0b"/><stop offset="0.1429" stop-color="#ff0e0b"/><stop offset="0.1513" stop-color="#d3000b"/><stop offset="0.1597" stop-color="#a6000b"/><stop offset="0.1681" stop-color="#c2000b"/><stop offset="0.1765" stop-color="#ee000b"/><stop offset="0.1849" stop-color="#f6000b"/><stop offset="0.1933" stop-color="#eb000b"/><stop offset="0.2017" stop-color="#ff0d0b"/><stop offset="0.2101" stop-color="#ec000b"/><stop offset="0.2185" stop-color="#ac000b"/><stop offset="0.2269" stop-color="#a9000b"/><stop offset="0.2353" stop-color="#be000b"/><stop offset="0.2437" stop-color="#c8000b"/><stop offset="0.2521" stop-color="#c4000b"/><stop offset="0.2605" stop-color="#ce000b"/><stop offset="0.2689" stop-color="#d8000b"/><stop offset="0.2773" stop-color="#da000b"/><stop offset="0.2857" stop-color="#c4000b"/><stop offset="0.2941" stop-color="#ac000b"/><stop offset="0.3025" stop-color="#bb000b"/><stop offset="0.3109" stop-color="#e1000b"/><stop offset="0.3193" stop-color="#ca000b"/><stop offset="0.3277" stop-color="#b9000b"/><stop offset="0.3361" stop-color="#d4000b"/><stop offset="0.3445" stop-color="#d5000b"/><stop offset="0.3529" stop-color="#b9000b"/><stop offset="0.3613" stop-color="#d1000b"/><stop offset="0.3697" stop-color="#db000b"/><stop offset="0.3782" stop-color="#d5000b"/><stop offset="0.3866" stop-color="#df000b"/><stop offset="0.3950" stop-color="#fd000b"/><stop offset="0.4034" stop-color="#dd000b"/><stop offset="0.4118" stop-color="#c9000b"/><stop offset="0.4202" stop-color="#be000b"/><stop offset="0.4286" stop-color="#b6000b"/><stop offset="0.4370" stop-color="#be000b"/><stop offset="0.4454" stop-color="#c5000b"/><stop offset="0.4538" stop-color="#b1000b"/><stop offset="0.4622" stop-color="#8f000b"/><stop offset="0.4706" stop-color="#97000b"/><stop offset="0.4790" stop-color="#b8000b"/><stop offset="0.4874" stop-color="#a9000b"/><stop offset="0.4958" stop-color="#99000b"/><stop offset="0.5042" stop-color="#8b000b"/><stop offset="0.5126" stop-color="#8b000b"/><stop offset="0.5210" stop-color="#a6000b"/><stop offset="0.5294" stop-color="#a1000b"/><stop offset="0.5378" stop-color="#7f000b"/><stop offset="0.5462" stop-color="#7f000b"/><stop offset="0.5546" stop-color="#7f000b"/><stop offset="0.5630" stop-color="#8c000b"/><stop offset="0.5714" stop-color="#8b000b"/><stop offset="0.5798" stop-color="#a7000b"/><stop offset="0.5882" stop-color="#a8000b"/><stop offset="0.5966" stop-color="#94000b"/><stop offset="0.6050" stop-color="#ab000b"/><stop offset="0.6134" stop-color="#d0000b"/><stop offset="0.6218" stop-color="#d4000b"/><stop offset="0.6303" stop-color="#d0000b"/><stop offset="0.6387" stop-color="#bf000b"/><stop offset="0.6471" stop-color="#af000b"/><stop offset="0.6555" stop-color="#b0000b"/><stop offset="0.6639" stop-color="#b9000b"/><stop offset="0.6723" stop-color="#e6000b"/><stop offset="0.6807" stop-color="#fe000b"/><stop offset="0.6891" stop-color="#e2000b"/><stop offset="0.6975" stop-color="#d3000b"/><stop offset="0.7059" stop-color="#da000b"/><stop offset="0.7143" stop-color="#cc000b"/><stop offset="0.7227" stop-color="#c2000b"/><stop offset="0.7311" stop-color="#a2000b"/><stop offset="0.7395" stop-color="#aa000b"/><stop offset="0.7479" stop-color="#a4000b"/><stop offset="0.7563" stop-color="#be000b"/><stop offset="0.7647" stop-color="#cd000b"/><stop offset="0.7731" stop-color="#b9000b"/><stop offset="0.7815" stop-color="#89000b"/><stop offset="0.7899" stop-color="#96000b"/><stop offset="0.7983" stop-color="#a9000b"/><stop offset="0.8067" stop-color="#b9000b"/><stop offset="0.8151" stop-color="#b2000b"/><stop offset="0.8235" stop-color="#db000b"/><stop offset="0.8319" stop-color="#ef000b"/><stop offset="0.8403" stop-color="#db000b"/><stop offset="0.8487" stop-color="#bf000b"/><stop offset="0.8571" stop-color="#b3000b"/><stop offset="0.8655" stop-color="#aa000b"/><stop offset="0.8739" stop-color="#aa000b"/><stop offset="0.8824" stop-color="#a8000b"/><stop offset="0.8908" stop-color="#99000b"/><stop offset="0.8992" stop-color="#a6000b"/><stop offset="0.9076" stop-color="#9b000b"/><stop offset="0.9160" stop-color="#9d000b"/><stop offset="0.9244" stop-color="#a7000b"/><stop offset="0.9328" stop-color="#91000b"/><stop offset="0.9412" stop-color="#7f000b"/><stop offset="0.9496" stop-color="#8e000b"/><stop offset="0.9580" stop-color="#7f000b"/><stop offset="0.9664" stop-color="#7f000b"/><stop offset="0.9748" stop-color="#7f000b"/><stop offset="0.9832" stop-color="#89000b"/><stop offset="0.9916" stop-color="#a2000b"/><stop offset="1.0000" stop-color="#aa000b"/></linearGradient>
<linearGradient id="gd_10" x1="0" x2="1" y1="0" y2="0"><stop offset="0.0000" stop-color="#a4000b"/><stop offset="0.0084" stop-color="#ab000b"/><stop offset="0.0168" stop-color="#af000b"/><stop offset="0.0252" stop-color="#d1000b"/><stop offset="0.0336" stop-color="#e2000b"/><stop offset="0.0420" stop-color="#d0000b"/><stop offset="0.0504" stop-color="#ad000b"/><stop offset="0.0588" stop-color="#a0000b"/><stop offset="0.0672" stop-color="#c2000b"/><stop offset="0.0756" stop-color="#dd000b"/><stop offset="0.0840" stop-color="#b7000b"/><stop offset="0.0924" stop-color="#ae000b"/><stop offset="0.1008" stop-color="#bc000b"/><stop offset="0.1092" stop-color="#e5000b"/><stop offset="0.1176" stop-color="#f0000b"/><stop offset="0.1261" stop-color="#e1000b"/><stop offset="0.1345" stop-color="#ff110b"/><stop offset="0.1429" stop-color="#ff200b"/><stop offset="0.1513" stop-color="#d8000b"/><stop offset="0.1597" stop-color="#9d000b"/><stop offset="0.1681" stop-color="#ba000b"/><stop offset="0.1765" stop-color="#e1000b"/><stop offset="0.1849" stop-color="#e6000b"/><stop offset="0.1933" stop-color="#df000b"/><stop offset="0.2017" stop-color="#fc000b"/><stop offset="0.2101" stop-color="#e0000b"/><stop offset="0.2185" stop-color="#b2000b"/><stop offset="0.2269" stop-color="#b3000b"/><stop offset="0.2353" stop-color="#d2000b"/><stop offset="0.2437" stop-color="#cf000b"/><stop offset="0.2521" stop-color="#b8000b"/><stop offset="0.2605" stop-color="#c2000b"/><stop offset="0.2689" stop-color="#db000b"/><stop offset="0.2773" stop-color="#ce000b"/><stop offset="0.2857" stop-color="#bc000b"/><stop offset="0.2941" stop-color="#a8000b"/><stop offset="0.3025" stop-color="#b5000b"/><stop offset="0.3109" stop-color="#d4000b"/><stop offset="0.3193" stop-color="#bf000b"/><stop offset="0.3277" stop-color="#b2000b"/><stop offset="0.3361" stop-color="#d4000b"/><stop offset="0.3445" stop-color="#d2000b"/><stop offset="0.3529" stop-color="#bb000b"/><stop offset="0.3613" stop-color="#c8000b"/><stop offset="0.3697" stop-color="#d7000b"/><stop offset="0.3782" stop-color="#e1000b"/><stop offset="0.3866" stop-color="#e2000b"/><stop offset="0.3950" stop-color="#f8000b"/><stop offset="0.4034" stop-color="#dc000b"/><stop offset="0.4118" stop-color="#c9000b"/><stop offset="0.4202" stop-color="#bc000b"/><stop offset="0.4286" stop-color="#b7000b"/><stop offset="0.4370" stop-color="#c8000b"/><stop offset="0.4454" stop-color="#cf000b"/><stop offset="0.4538" stop-color="#b6000b"/><stop offset="0.4622" stop-color="#95000b"/><stop offset="0.4706" stop-color="#a2000b"/><stop offset="0.4790" stop-color="#ce000b"/><stop offset="0.4874" stop-color="#a8000b"/><stop offset="0.4958" stop-color="#7f000b"/><stop offset="0.5042" stop-color="#8a000b"/><stop offset="0.5126" stop-color="#9b000b"/><stop offset="0.5210" stop-color="#a2000b"/><stop offset="0.5294" stop-color="#8d000b"/><stop offset="0.5378" stop-color="#7f000b"/><stop offset="0.5462" stop-color="#7f000b"/><stop offset="0.5546" stop-color="#7f000b"/><stop offset="0.5630" stop-color="#9c000b"/><stop offset="0.5714" stop-color="#94000b"/><stop offset="0.5798" stop-color="#a8000b"/><stop offset="0.5882" stop-color="#aa000b"/><stop offset="0.5966" stop-color="#a5000b"/><stop offset="0.6050" stop-color="#ae000b"/><stop offset="0.6134" stop-color="#d7000b"/><stop offset="0.6218" stop-color="#e2000b"/><stop offset="0.6303" stop-color="#e4000b"/><stop offset="0.6387" stop-color="#dc000b"/><stop offset="0.6471" stop-color="#cf000b"/><stop offset="0.6555" stop-color="#bd000b"/><stop offset="0.6639" stop-color="#d2000b"/><stop offset="0.6723" stop-color="#ff0b0b"/><stop offset="0.6807" stop-color="#ff250b"/><stop offset="0.6891" stop-color="#ff060b"/><stop offset="0.6975" stop-color="#e7000b"/><stop offset="0.7059" stop-color="#d4000b"/><stop offset="0.7143" stop-color="#b8000b"/><stop offset="0.7227" stop-color="#c3000b"/><stop offset="0.7311" stop-color="#b4000b"/><stop offset="0.7395" stop-color="#a7000b"/><stop offset="0.7479" stop-color="#9e000b"/><stop offset="0.7563" stop-color="#c8000b"/><stop offset="0.7647" stop-color="#cb000b"/><stop offset="0.7731" stop-color="#c4000b"/><stop offset="0.7815" stop-color="#a0000b"/><stop offset="0.7899" stop-color="#ac000b"/><stop offset="0.7983" stop-color="#b7000b"/><stop offset="0.8067" stop-color="#c5000b"/><stop offset="0.8151" stop-color="#b0000b"/><stop offset="0.8235" stop-color="#d4000b"/><stop offset="0.8319" stop-color="#f1000b"/><stop offset="0.8403" stop-color="#db000b"/><stop offset="0.8487" stop-color="#b6000b"/><stop offset="0.8571" stop-color="#b0000b"/><stop offset="0.8655" stop-color="#b7000b"/><stop offset="0.8739" stop-color="#bf000b"/><stop offset="0.8824" stop-color="#c2000b"/><stop offset="0.8908" stop-color="#ad000b"/><stop offset="0.8992" stop-color="#b1000b"/><stop offset="0.9076" stop-color="#a3000b"/><stop offset="0.9160" stop-color="#a5000b"/><stop offset="0.9244" stop-color="#b8000b"/><stop offset="0.9328" stop-color="#a2000b"/><stop offset="0.9412" stop-color="#8c000b"/><stop offset="0.9496" stop-color="#96000b"/><stop offset="0.9580" stop-color="#82000b"/><stop offset="0.9664" stop-color="#7f000b"/><stop offset="0.9748" stop-color="#89000b"/><stop offset="0.9832" stop-color="#9d000b"/><stop offset="0.9916" stop-color="#b2000b"/><stop offset="1.0000" stop-color="#b1000b"/></linearGradient>
<linearGradient id="gd_11" x1="0" x2="1" y1="0" y2="0"><stop offset="0.0000" stop-color="#b4000b"/><stop offset="0.0084" stop-color="#b6000b"/><stop offset="0.0168" stop-color="#b6000b"/><stop offset="0.0252" stop-color="#d1000b"/><stop offset="0.0336" stop-color="#d8000b"/><stop offset="0.0420" stop-color="#c4000b"/><stop offset="0.0504" stop-color="#b0000b"/><stop offset="0.0588" stop-color="#a7000b"/><stop offset="0.0672" stop-color="#c9000b"/><stop offset="0.0756" stop-color="#db000b"/><stop offset="0.0840" stop-color="#b4000b"/><stop offset="0.0924" stop-color="#a1000b"/><stop offset="0.1008" stop-color="#bd000b"/><stop offset="0.1092" stop-color="#e1000b"/><stop offset="0.1176" stop-color="#da000b"/><stop offset="0.1261" stop-color="#cc000b"/><stop offset="0.1345" stop-color="#fd000b"/><stop offset="0.1429" stop-color="#fc000b"/><stop offset="0.1513" stop-color="#cb000b"/><stop offset="0.1597" stop-color="#b2000b"/><stop offset="0.1681" stop-color="#bd000b"/><stop offset="0.1765" stop-color="#e9000b"/><stop offset="0.1849" stop-color="#e8000b"/><stop offset="0.1933" stop-color="#dd000b"/><stop offset="0.2017" stop-color="#f0000b"/><stop offset="0.2101" stop-color="#d6000b"/><stop offset="0.2185" stop-color="#b0000b"/><stop offset="0.2269" stop-color="#b5000b"/><stop offset="0.2353" stop-color="#c9000b"/><stop offset="0.2437" stop-color="#ca000b"/><stop offset="0.2521" stop-color="#b6000b"/><stop offset="0.2605" stop-color="#b8000b"/><stop offset="0.2689" stop-color="#e2000b"/><stop offset="0.2773" stop-color="#e6000b"/><stop offset="0.2857" stop-color="#dd000b"/><stop offset="0.2941" stop-color="#ba000b"/><stop offset="0.3025" stop-color="#b8000b"/><stop offset="0.3109" stop-color="#d1000b"/><stop offset="0.3193" stop-color="#c8000b"/><stop offset="0.3277" stop-color="#b9000b"/><stop offset="0.3361" stop-color="#bc000b"/><stop offset="0.3445" stop-color="#c6000b"/><stop offset="0.3529" stop-color="#c2000b"/><stop offset="0.3613" stop-color="#cc000b"/><stop offset="0.3697" stop-color="#cc000b"/><stop offset="0.3782" stop-color="#cf000b"/><stop offset="0.3866" stop-color="#d5000b"/><stop offset="0.3950" stop-color="#e6000b"/><stop offset="0.4034" stop-color="#d4000b"/><stop offset="0.4118" stop-color="#b8000b"/><stop offset="0.4202" stop-color="#b1000b"/><stop offset="0.4286" stop-color="#b9000b"/><stop offset="0.4370" stop-color="#c8000b"/><stop offset="0.4454" stop-color="#db000b"/><stop offset="0.4538" stop-color="#d1000b"/><stop offset="0.4622" stop-color="#ba000b"/><stop offset="0.4706" stop-color="#c7000b"/><stop offset="0.4790" stop-color="#d1000b"/><stop offset="0.4874" stop-color="#aa000b"/><stop offset="0.4958" stop-color="#8d000b"/><stop offset="0.5042" stop-color="#a4000b"/><stop offset="0.5126" stop-color="#b9000b"/><stop offset="0.5210" stop-color="#b5000b"/><stop offset="0.5294" stop-color="#93000b"/><stop offset="0.5378" stop-color="#7f000b"/><stop offset="0.5462" stop-color="#91000b"/><stop offset="0.5546" stop-color="#a7000b"/><stop offset="0.5630" stop-color="#d2000b"/><stop offset="0.5714" stop-color="#d8000b"/><stop offset="0.5798" stop-color="#e4000b"/><stop offset="0.5882" stop-color="#cd000b"/><stop offset="0.5966" stop-color="#b0000b"/><stop offset="0.6050" stop-color="#b3000b"/><stop offset="0.6134" stop-color="#cb000b"/><stop offset="0.6218" stop-color="#cd000b"/><stop offset="0.6303" stop-color="#d7000b"/><stop offset="0.6387" stop-color="#de000b"/><stop offset="0.6471" stop-color="#d3000b"/><stop offset="0.6555" stop-color="#bd000b"/><stop offset="0.6639" stop-color="#cb000b"/><stop offset="0.6723" stop-color="#f2000b"/><stop offset="0.6807" stop-color="#fa000b"/><stop offset="0.6891" stop-color="#e4000b"/><stop offset="0.6975" stop-color="#d4000b"/><stop offset="0.7059" stop-color="#bf000b"/><stop offset="0.7143" stop-color="#a1000b"/><stop offset="0.7227" stop-color="#c3000b"/><stop offset="0.7311" stop-color="#b6000b"/><stop offset="0.7395" stop-color="#a8000b"/><stop offset="0.7479" stop-color="#b2000b"/><stop offset="0.7563" stop-color="#d4000b"/><stop offset="0.7647" stop-color="#cc000b"/><stop offset="0.7731" stop-color="#c6000b"/><stop offset="0.7815" stop-color="#ae000b"/><stop offset="0.7899" stop-color="#a9000b"/><stop offset="0.7983" stop-color="#b0000b"/><stop offset="0.8067" stop-color="#c2000b"/><stop offset="0.8151" stop-color="#b1000b"/><stop offset="0.8235" stop-color="#d8000b"/><stop offset="0.8319" stop-color="#ef000b"/><stop offset="0.8403" stop-color="#ed000b"/><stop offset="0.8487" stop-color="#d2000b"/><stop offset="0.8571" stop-color="#c4000b"/><stop offset="0.8655" stop-color="#c7000b"/><stop offset="0.8739" stop-color="#db000b"/><stop offset="0.8824" stop-color="#f1000b"/><stop offset="0.8908" stop-color="#d8000b"/><stop offset="0.8992" stop-color="#c9000b"/><stop offset="0.9076" stop-color="#b1000b"/><stop offset="0.9160" stop-color="#ac000b"/><stop offset="0.9244" stop-color="#b9000b"/><stop offset="0.9328" stop-color="#9d000b"/><stop offset="0.9412" stop-color="#87000b"/><stop offset="0.9496" stop-color="#8e000b"/><stop offset="0.9580" stop-color="#81000b"/><stop offset="0.9664" stop-color="#8c000b"/><stop offset="0.9748" stop-color="#96000b"/><stop offset="0.9832" stop-color="#a9000b"/><stop offset="0.9916" stop-color="#b7000b"/><stop offset="1.0000" stop-color="#b9000b"/></linearGradient>
<linearGradient id="gd_12" x1="0" x2="1" y1="0" y2="0"><stop offset="0.0000" stop-color="#c1000b"/><stop offset="0.0084" stop-color="#bf000b"/><stop offset="0.0168" stop-color="#c5000b"/><stop offset="0.0252" stop-color="#cc000b"/><stop offset="0.0336" stop-color="#cb000b"/><stop offset="0.0420" stop-color="#d3000b"/><stop offset="0.0504" stop-color="#c6000b"/><stop offset="0.0588" stop-color="#b4000b"/><stop offset="0.0672" stop-color="#c6000b"/><stop offset="0.0756" stop-color="#d5000b"/><stop offset="0.0840" stop-color="#bb000b"/><stop offset="0.0924" stop-color="#af000b"/><stop offset="0.1008" stop-color="#c1000b"/><stop offset="0.1092" stop-color="#d8000b"/><stop offset="0.1176" stop-color="#cd000b"/><stop offset="0.1261" stop-color="#cf000b"/><stop offset="0.1345" stop-color="#f9000b"/><stop offset="0.1429" stop-color="#f7000b"/><stop offset="0.1513" stop-color="#c7000b"/><stop offset="0.1597" stop-color="#ab000b"/><stop offset="0.1681" stop-color="#be000b"/><stop offset="0.1765" stop-color="#db000b"/><stop offset="0.1849" stop-color="#e7000b"/><stop offset="0.1933" stop-color="#e2000b"/><stop offset="0.2017" stop-color="#eb000b"/><stop offset="0.2101" stop-color="#d3000b"/><stop offset="0.2185" stop-color="#b7000b"/><stop offset="0.2269" stop-color="#cd000b"/><stop offset="0.2353" stop-color="#d9000b"/><stop offset="0.2437" stop-color="#d8000b"/><stop offset="0.2521" stop-color="#c8000b"/><stop offset="0.2605" stop-color="#c5000b"/><stop offset="0.2689" stop-color="#e6000b"/><stop offset="0.2773" stop-color="#ed000b"/><stop offset="0.2857" stop-color="#ec000b"/><stop offset="0.2941" stop-color="#cc000b"/><stop offset="0.3025" stop-color="#c6000b"/><stop offset="0.3109" stop-color="#ce000b"/><stop offset="0.3193" stop-color="#c0000b"/><stop offset="0.3277" stop-color="#b3000b"/><stop offset="0.3361" stop-color="#b7000b"/><stop offset="0.3445" stop-color="#b7000b"/><stop offset="0.3529" stop-color="#b4000b"/><stop offset="0.3613" stop-color="#c7000b"/><stop offset="0.3697" stop-color="#db000b"/><stop offset="0.3782" stop-color="#d8000b"/><stop offset="0.3866" stop-color="#db000b"/><stop offset="0.3950" stop-color="#f3000b"/><stop offset="0.4034" stop-color="#d4000b"/><stop offset="0.4118" stop-color="#ab000b"/><stop offset="0.4202" stop-color="#9f000b"/><stop offset="0.4286" stop-color="#a4000b"/><stop offset="0.4370" stop-color="#b6000b"/><stop offset="0.4454" stop-color="#cb000b"/><stop offset="0.4538" stop-color="#cd000b"/><stop offset="0.4622" stop-color="#c2000b"/><stop offset="0.4706" stop-color="#d8000b"/><stop offset="0.4790" stop-color="#e5000b"/><stop offset="0.4874" stop-color="#b8000b"/><stop offset="0.4958" stop-color="#b1000b"/><stop offset="0.5042" stop-color="#c0000b"/><stop offset="0.5126" stop-color="#c6000b"/><stop offset="0.5210" stop-color="#cf000b"/><stop offset="0.5294" stop-color="#b0000b"/><stop offset="0.5378" stop-color="#8b000b"/><stop offset="0.5462" stop-color="#a2000b"/><stop offset="0.5546" stop-color="#c9000b"/><stop offset="0.5630" stop-color="#ff0a0b"/><stop offset="0.5714" stop-color="#ff1a0b"/><stop offset="0.5798" stop-color="#ff210b"/><stop offset="0.5882" stop-color="#fd000b"/><stop offset="0.5966" stop-color="#dc000b"/><stop offset="0.6050" stop-color="#d5000b"/><stop offset="0.6134" stop-color="#d9000b"/><stop offset="0.6218" stop-color="#db000b"/><stop offset="0.6303" stop-color="#d8000b"/><stop offset="0.6387" stop-color="#cf000b"/><stop offset="0.6471" stop-color="#d2000b"/><stop offset="0.6555" stop-color="#be000b"/><stop offset="0.6639" stop-color="#ca000b"/><stop offset="0.6723" stop-color="#e5000b"/><stop offset="0.6807" stop-color="#e3000b"/><stop offset="0.6891" stop-color="#ce000b"/><stop offset="0.6975" stop-color="#d1000b"/><stop offset="0.7059" stop-color="#cb000b"/><stop offset="0.7143" stop-color="#b2000b"/><stop offset="0.7227" stop-color="#c3000b"/><stop offset="0.7311" stop-color="#a4000b"/><stop offset="0.7395" stop-color="#a0000b"/><stop offset="0.7479" stop-color="#ae000b"/><stop offset="0.7563" stop-color="#d2000b"/><stop offset="0.7647" stop-color="#ca000b"/><stop offset="0.7731" stop-color="#a9000b"/><stop offset="0.7815" stop-color="#9d000b"/><stop offset="0.7899" stop-color="#ae000b"/><stop offset="0.7983" stop-color="#c1000b"/><stop offset="0.8067" stop-color="#c4000b"/><stop offset="0.8151" stop-color="#a7000b"/><stop offset="0.8235" stop-color="#d7000b"/><stop offset="0.8319" stop-color="#e6000b"/><stop offset="0.8403" stop-color="#e5000b"/><stop offset="0.8487" stop-color="#cc000b"/><stop offset="0.8571" stop-color="#c3000b"/><stop offset="0.8655" stop-color="#cd000b"/><stop offset="0.8739" stop-color="#f1000b"/><stop offset="0.8824" stop-color="#ff230b"/><stop offset="0.8908" stop-color="#ff110b"/><stop offset="0.8992" stop-color="#f3000b"/><stop offset="0.9076" stop-color="#ca000b"/><stop offset="0.9160" stop-color="#b1000b"/><stop offset="0.9244" stop-color="#b8000b"/><stop offset="0.9328" stop-color="#9a000b"/><stop offset="0.9412" stop-color="#86000b"/><stop offset="0.9496" stop-color="#9a000b"/><stop offset="0.9580" stop-color="#93000b"/><stop offset="0.9664" stop-color="#9e000b"/><stop offset="0.9748" stop-color="#a1000b"/><stop offset="0.9832" stop-color="#a5000b"/><stop offset="0.9916" stop-color="#b4000b"/><stop offset="1.0000" stop-color="#b5000b"/></linearGradient>
<linearGradient id="gd_13" x1="0" x2="1" y1="0" y2="0"><stop offset="0.0000" stop-color="#b1000b"/><stop offset="0.0084" stop-color="#c4000b"/><stop offset="0.0168" stop-color="#be000b"/><stop offset="0.0252" stop-color="#c7000b"/><stop offset="0.0336" stop-color="#cf000b"/><stop offset="0.0420" stop-color="#ce000b"/><stop offset="0.0504" stop-color="#b9000b"/><stop offset="0.0588" stop-color="#ba000b"/><stop offset="0.0672" stop-color="#c7000b"/><stop offset="0.0756" stop-color="#cd000b"/><stop offset="0.0840" stop-color="#ac000b"/><stop offset="0.0924" stop-color="#a7000b"/><stop offset="0.1008" stop-color="#ab000b"/><stop offset="0.1092" stop-color="#b9000b"/><stop offset="0.1176" stop-color="#be000b"/><stop offset="0.1261" stop-color="#c7000b"/><stop offset="0.1345" stop-color="#f3000b"/><stop offset="0.1429" stop-color="#eb000b"/><stop offset="0.1513" stop-color="#bc000b"/><stop offset="0.1597" stop-color="#a9000b"/><stop offset="0.1681" stop-color="#c1000b"/><stop offset="0.1765" stop-color="#d3000b"/><stop offset="0.1849" stop-color="#e8000b"/><stop offset="0.1933" stop-color="#e4000b"/><stop offset="0.2017" stop-color="#ee000b"/><stop offset="0.2101" stop-color="#dd000b"/><stop offset="0.2185" stop-color="#a9000b"/><stop offset="0.2269" stop-color="#c0000b"/><stop offset="0.2353" stop-color="#d9000b"/><stop offset="0.2437" stop-color="#d5000b"/><stop offset="0.2521" stop-color="#b4000b"/><stop offset="0.2605" stop-color="#b5000b"/><stop offset="0.2689" stop-color="#d2000b"/><stop offset="0.2773" stop-color="#d6000b"/><stop offset="0.2857" stop-color="#d4000b"/><stop offset="0.2941" stop-color="#bf000b"/><stop offset="0.3025" stop-color="#c8000b"/><stop offset="0.3109" stop-color="#e8000b"/><stop offset="0.3193" stop-color="#d2000b"/><stop offset="0.3277" stop-color="#b3000b"/><stop offset="0.3361" stop-color="#c0000b"/><stop offset="0.3445" stop-color="#c4000b"/><stop offset="0.3529" stop-color="#bf000b"/><stop offset="0.3613" stop-color="#d2000b"/><stop offset="0.3697" stop-color="#cc000b"/><stop offset="0.3782" stop-color="#cf000b"/><stop offset="0.3866" stop-color="#dd000b"/><stop offset="0.3950" stop-color="#dc000b"/><stop offset="0.4034" stop-color="#c8000b"/><stop offset="0.4118" stop-color="#be000b"/><stop offset="0.4202" stop-color="#b8000b"/><stop offset="0.4286" stop-color="#ae000b"/><stop offset="0.4370" stop-color="#b2000b"/><stop offset="0.4454" stop-color="#c4000b"/><stop offset="0.4538" stop-color="#c2000b"/><stop offset="0.4622" stop-color="#c6000b"/><stop offset="0.4706" stop-color="#db000b"/><stop offset="0.4790" stop-color="#da000b"/><stop offset="0.4874" stop-color="#bb000b"/><stop offset="0.4958" stop-color="#c1000b"/><stop offset="0.5042" stop-color="#c9000b"/><stop offset="0.5126" stop-color="#d7000b"/><stop offset="0.5210" stop-color="#dd000b"/><stop offset="0.5294" stop-color="#c2000b"/><stop offset="0.5378" stop-color="#9b000b"/><stop offset="0.5462" stop-color="#b9000b"/><stop offset="0.5546" stop-color="#de000b"/><stop offset="0.5630" stop-color="#ff0e0b"/><stop offset="0.5714" stop-color="#ff160b"/><stop offset="0.5798" stop-color="#ff230b"/><stop offset="0.5882" stop-color="#fe000b"/><stop offset="0.5966" stop-color="#cb000b"/><stop offset="0.6050" stop-color="#c8000b"/><stop offset="0.6134" stop-color="#e5000b"/><stop offset="0.6218" stop-color="#e4000b"/><stop offset="0.6303" stop-color="#e7000b"/><stop offset="0.6387" stop-color="#e1000b"/><stop offset="0.6471" stop-color="#d3000b"/><stop offset="0.6555" stop-color="#d3000b"/><stop offset="0.6639" stop-color="#d5000b"/><stop offset="0.6723" stop-color="#de000b"/><stop offset="0.6807" stop-color="#c3000b"/><stop offset="0.6891" stop-color="#b2000b"/><stop offset="0.6975" stop-color="#ca000b"/><stop offset="0.7059" stop-color="#d2000b"/><stop offset="0.7143" stop-color="#b4000b"/><stop offset="0.7227" stop-color="#b6000b"/><stop offset="0.7311" stop-color="#a7000b"/><stop offset="0.7395" stop-color="#9d000b"/><stop offset="0.7479" stop-color="#ad000b"/><stop offset="0.7563" stop-color="#d8000b"/><stop offset="0.7647" stop-color="#bc000b"/><stop offset="0.7731" stop-color="#9c000b"/><stop offset="0.7815" stop-color="#95000b"/><stop offset="0.7899" stop-color="#a9000b"/><stop offset="0.7983" stop-color="#b8000b"/><stop offset="0.8067" stop-color="#cd000b"/><stop offset="0.8151" stop-color="#c4000b"/><stop offset="0.8235" stop-color="#e1000b"/><stop offset="0.8319" stop-color="#f5000b"/><stop offset="0.8403" stop-color="#f0000b"/><stop offset="0.8487" stop-color="#d1000b"/><stop offset="0.8571" stop-color="#c3000b"/><stop offset="0.8655" stop-color="#c9000b"/><stop offset="0.8739" stop-color="#d2000b"/><stop offset="0.8824" stop-color="#ed000b"/><stop offset="0.8908" stop-color="#df000b"/><stop offset="0.8992" stop-color="#d4000b"/><stop offset="0.9076" stop-color="#c0000b"/><stop offset="0.9160" stop-color="#ba000b"/><stop offset="0.9244" stop-color="#ba000b"/><stop offset="0.9328" stop-color="#9d000b"/><stop offset="0.9412" stop-color="#99000b"/><stop offset="0.9496" stop-color="#9f000b"/><stop offset="0.9580" stop-color="#8c000b"/><stop offset="0.9664" stop-color="#9a000b"/><stop offset="0.9748" stop-color="#a9000b"/><stop offset="0.9832" stop-color="#b0000b"/><stop offset="0.9916" stop-color="#b6000b"/><stop offset="1.0000" stop-color="#ac000b"/></linearGradient>
<linearGradient id="gd_14" x1="0" x2="1" y1="0" y2="0"><stop offset="0.0000" stop-color="#ae000b"/><stop offset="0.0084" stop-color="#c0000b"/><stop offset="0.0168" stop-color="#b9000b"/><stop offset="0.0252" stop-color="#bc000b"/><stop offset="0.0336" stop-color="#d3000b"/><stop offset="0.0420" stop-color="#ce000b"/><stop offset="0.0504" stop-color="#af000b"/><stop offset="0.0588" stop-color="#ac000b"/><stop offset="0.0672" stop-color="#c5000b"/><stop offset="0.0756" stop-color="#cf000b"/><stop offset="0.0840" stop-color="#af000b"/><stop offset="0.0924" stop-color="#ae000b"/><stop offset="0.1008" stop-color="#b6000b"/><stop offset="0.1092" stop-color="#bc000b"/><stop offset="0.1176" stop-color="#be000b"/><stop offset="0.1261" stop-color="#bc000b"/><stop offset="0.1345" stop-color="#e8000b"/><stop offset="0.1429" stop-color="#e8000b"/><stop offset="0.1513" stop-color="#ba000b"/><stop offset="0.1597" stop-color="#a4000b"/><stop offset="0.1681" stop-color="#c3000b"/><stop offset="0.1765" stop-color="#ce000b"/><stop offset="0.1849" stop-color="#e6000b"/><stop offset="0.1933" stop-color="#e2000b"/><stop offset="0.2017" stop-color="#ec000b"/><stop offset="0.2101" stop-color="#dd000b"/><stop offset="0.2185" stop-color="#a8000b"/><stop offset="0.2269" stop-color="#a9000b"/><stop offset="0.2353" stop-color="#b6000b"/><stop offset="0.2437" stop-color="#c6000b"/><stop offset="0.2521" stop-color="#b7000b"/><stop offset="0.2605" stop-color="#b9000b"/><stop offset="0.2689" stop-color="#d7000b"/><stop offset="0.2773" stop-color="#dc000b"/><stop offset="0.2857" stop-color="#c1000b"/><stop offset="0.2941" stop-color="#b6000b"/><stop offset="0.3025" stop-color="#c9000b"/><stop offset="0.3109" stop-color="#e9000b"/><stop offset="0.3193" stop-color="#cd000b"/><stop offset="0.3277" stop-color="#b0000b"/><stop offset="0.3361" stop-color="#bd000b"/><stop offset="0.3445" stop-color="#ae000b"/><stop offset="0.3529" stop-color="#a9000b"/><stop offset="0.3613" stop-color="#d2000b"/><stop offset="0.3697" stop-color="#df000b"/><stop offset="0.3782" stop-color="#e6000b"/><stop offset="0.3866" stop-color="#e2000b"/><stop offset="0.3950" stop-color="#c8000b"/><stop offset="0.4034" stop-color="#bd000b"/><stop offset="0.4118" stop-color="#b6000b"/><stop offset="0.4202" stop-color="#b6000b"/><stop offset="0.4286" stop-color="#bf000b"/><stop offset="0.4370" stop-color="#d5000b"/><stop offset="0.4454" stop-color="#cc000b"/><stop offset="0.4538" stop-color="#c2000b"/><stop offset="0.4622" stop-color="#b7000b"/><stop offset="0.4706" stop-color="#de000b"/><stop offset="0.4790" stop-color="#f6000b"/><stop offset="0.4874" stop-color="#df000b"/><stop offset="0.4958" stop-color="#cb000b"/><stop offset="0.5042" stop-color="#c7000b"/><stop offset="0.5126" stop-color="#c5000b"/><stop offset="0.5210" stop-color="#da000b"/><stop offset="0.5294" stop-color="#cf000b"/><stop offset="0.5378" stop-color="#a6000b"/><stop offset="0.5462" stop-color="#bb000b"/><stop offset="0.5546" stop-color="#ca000b"/><stop offset="0.5630" stop-color="#f0000b"/><stop offset="0.5714" stop-color="#ee000b"/><stop offset="0.5798" stop-color="#e8000b"/><stop offset="0.5882" stop-color="#d9000b"/><stop offset="0.5966" stop-color="#b0000b"/><stop offset="0.6050" stop-color="#b2000b"/><stop offset="0.6134" stop-color="#dd000b"/><stop offset="0.6218" stop-color="#d1000b"/><stop offset="0.6303" stop-color="#d4000b"/><stop offset="0.6387" stop-color="#c8000b"/><stop offset="0.6471" stop-color="#c1000b"/><stop offset="0.6555" stop-color="#c5000b"/><stop offset="0.6639" stop-color="#c4000b"/><stop offset="0.6723" stop-color="#e2000b"/><stop offset="0.6807" stop-color="#cd000b"/><stop offset="0.6891" stop-color="#bf000b"/><stop offset="0.6975" stop-color="#cb000b"/><stop offset="0.7059" stop-color="#cd000b"/><stop offset="0.7143" stop-color="#b0000b"/><stop offset="0.7227" stop-color="#be000b"/><stop offset="0.7311" stop-color="#a4000b"/><stop offset="0.7395" stop-color="#99000b"/><stop offset="0.7479" stop-color="#aa000b"/><stop offset="0.7563" stop-color="#d1000b"/><stop offset="0.7647" stop-color="#bf000b"/><stop offset="0.7731" stop-color="#a8000b"/><stop offset="0.7815" stop-color="#9a000b"/><stop offset="0.7899" stop-color="#b6000b"/><stop offset="0.7983" stop-color="#b8000b"/><stop offset="0.8067" stop-color="#c3000b"/><stop offset="0.8151" stop-color="#b8000b"/><stop offset="0.8235" stop-color="#d6000b"/><stop offset="0.8319" stop-color="#f6000b"/><stop offset="0.8403" stop-color="#f5000b"/><stop offset="0.8487" stop-color="#d9000b"/><stop offset="0.8571" stop-color="#c7000b"/><stop offset="0.8655" stop-color="#c1000b"/><stop offset="0.8739" stop-color="#bf000b"/><stop offset="0.8824" stop-color="#c5000b"/><stop offset="0.8908" stop-color="#bf000b"/><stop offset="0.8992" stop-color="#c0000b"/><stop offset="0.9076" stop-color="#c2000b"/><stop offset="0.9160" stop-color="#cb000b"/><stop offset="0.9244" stop-color="#ca000b"/><stop offset="0.9328" stop-color="#b1000b"/><stop offset="0.9412" stop-color="#a2000b"/><stop offset="0.9496" stop-color="#ab000b"/><stop offset="0.9580" stop-color="#7f000b"/><stop offset="0.9664" stop-color="#95000b"/><stop offset="0.9748" stop-color="#a9000b"/><stop offset="0.9832" stop-color="#a6000b"/><stop offset="0.9916" stop-color="#b6000b"/><stop offset="1.0000" stop-color="#b3000b"/></linearGradient>
<linearGradient id="gd_15" x1="0" x2="1" y1="0" y2="0"><stop offset="0.0000" stop-color="#b8000b"/><stop offset="0.0084" stop-color="#cd000b"/><stop offset="0.0168" stop-color="#cb000b"/><stop offset="0.0252" stop-color="#c7000b"/><stop offset="0.0336" stop-color="#c8000b"/><stop offset="0.0420" stop-color="#c2000b"/><stop offset="0.0504" stop-color="#b3000b"/><stop offset="0.0588" stop-color="#a4000b"/><stop offset="0.0672" stop-color="#b5000b"/><stop offset="0.0756" stop-color="#d7000b"/><stop offset="0.0840" stop-color="#b4000b"/><stop offset="0.0924" stop-color="#b0000b"/><stop offset="0.1008" stop-color="#b8000b"/><stop offset="0.1092" stop-color="#bc000b"/><stop offset="0.1176" stop-color="#c0000b"/><stop offset="0.1261" stop-color="#be000b"/><stop offset="0.1345" stop-color="#e5000b"/><stop offset="0.1429" stop-color="#d8000b"/><stop offset="0.1513" stop-color="#a4000b"/><stop offset="0.1597" stop-color="#85000b"/><stop offset="0.1681" stop-color="#b2000b"/><stop offset="0.1765" stop-color="#cf000b"/><stop offset="0.1849" stop-color="#e6000b"/><stop offset="0.1933" stop-color="#d8000b"/><stop offset="0.2017" stop-color="#d7000b"/><stop offset="0.2101" stop-color="#c2000b"/><stop offset="0.2185" stop-color="#9b000b"/><stop offset="0.2269" stop-color="#af000b"/><stop offset="0.2353" stop-color="#c0000b"/><stop offset="0.2437" stop-color="#ca000b"/><stop offset="0.2521" stop-color="#b3000b"/><stop offset="0.2605" stop-color="#b3000b"/><stop offset="0.2689" stop-color="#d8000b"/><stop offset="0.2773" stop-color="#dd000b"/><stop offset="0.2857" stop-color="#ca000b"/><stop offset="0.2941" stop-color="#bd000b"/><stop offset="0.3025" stop-color="#c3000b"/><stop offset="0.3109" stop-color="#e1000b"/><stop offset="0.3193" stop-color="#c6000b"/><stop offset="0.3277" stop-color="#bb000b"/><stop offset="0.3361" stop-color="#ce000b"/><stop offset="0.3445" stop-color="#c7000b"/><stop offset="0.3529" stop-color="#c1000b"/><stop offset="0.3613" stop-color="#d4000b"/><stop offset="0.3697" stop-color="#e0000b"/><stop offset="0.3782" stop-color="#ec000b"/><stop offset="0.3866" stop-color="#ed000b"/><stop offset="0.3950" stop-color="#d0000b"/><stop offset="0.4034" stop-color="#b6000b"/><stop offset="0.4118" stop-color="#b0000b"/><stop offset="0.4202" stop-color="#bc000b"/><stop offset="0.4286" stop-color="#c4000b"/><stop offset="0.4370" stop-color="#cc000b"/><stop offset="0.4454" stop-color="#c9000b"/><stop offset="0.4538" stop-color="#ba000b"/><stop offset="0.4622" stop-color="#b9000b"/><stop offset="0.4706" stop-color="#dc000b"/><stop offset="0.4790" stop-color="#f8000b"/><stop offset="0.4874" stop-color="#e3000b"/><stop offset="0.4958" stop-color="#c7000b"/><stop offset="0.5042" stop-color="#b3000b"/><stop offset="0.5126" stop-color="#bb000b"/><stop offset="0.5210" stop-color="#cc000b"/><stop offset="0.5294" stop-color="#c7000b"/><stop offset="0.5378" stop-color="#a9000b"/><stop offset="0.5462" stop-color="#be000b"/><stop offset="0.5546" stop-color="#bc000b"/><stop offset="0.5630" stop-color="#cf000b"/><stop offset="0.5714" stop-color="#c0000b"/><stop offset="0.5798" stop-color="#cb000b"/><stop offset="0.5882" stop-color="#bb000b"/><stop offset="0.5966" stop-color="#9e000b"/><stop offset="0.6050" stop-color="#a4000b"/><stop offset="0.6134" stop-color="#c6000b"/><stop offset="0.6218" stop-color="#d4000b"/><stop offset="0.6303" stop-color="#dd000b"/><stop offset="0.6387" stop-color="#dd000b"/><stop offset="0.6471" stop-color="#d9000b"/><stop offset="0.6555" stop-color="#d8000b"/><stop offset="0.6639" stop-color="#cc000b"/><stop offset="0.6723" stop-color="#d7000b"/><stop offset="0.6807" stop-color="#d0000b"/><stop offset="0.6891" stop-color="#d8000b"/><stop offset="0.6975" stop-color="#d6000b"/><stop offset="0.7059" stop-color="#c3000b"/><stop offset="0.7143" stop-color="#b2000b"/><stop offset="0.7227" stop-color="#c1000b"/><stop offset="0.7311" stop-color="#b1000b"/><stop offset="0.7395" stop-color="#9e000b"/><stop offset="0.7479" stop-color="#97000b"/><stop offset="0.7563" stop-color="#c9000b"/><stop offset="0.7647" stop-color="#c4000b"/><stop offset="0.7731" stop-color="#ae000b"/><stop offset="0.7815" stop-color="#9b000b"/><stop offset="0.7899" stop-color="#b8000b"/><stop offset="0.7983" stop-color="#bb000b"/><stop offset="0.8067" stop-color="#b5000b"/><stop offset="0.8151" stop-color="#ac000b"/><stop offset="0.8235" stop-color="#d6000b"/><stop offset="0.8319" stop-color="#e9000b"/><stop offset="0.8403" stop-color="#df000b"/><stop offset="0.8487" stop-color="#c1000b"/><stop offset="0.8571" stop-color="#af000b"/><stop offset="0.8655" stop-color="#a7000b"/><stop offset="0.8739" stop-color="#bc000b"/><stop offset="0.8824" stop-color="#c0000b"/><stop offset="0.8908" stop-color="#b0000b"/><stop offset="0.8992" stop-color="#b0000b"/><stop offset="0.9076" stop-color="#b3000b"/><stop offset="0.9160" stop-color="#c6000b"/><stop offset="0.9244" stop-color="#cb000b"/><stop offset="0.9328" stop-color="#be000b"/><stop offset="0.9412" stop-color="#a8000b"/><stop offset="0.9496" stop-color="#b5000b"/><stop offset="0.9580" stop-color="#9b000b"/><stop offset="0.9664" stop-color="#aa000b"/><stop offset="0.9748" stop-color="#a8000b"/><stop offset="0.9832" stop-color="#a5000b"/><stop offset="0.9916" stop-color="#b2000b"/><stop offset="1.0000" stop-color="#aa000b"/></linearGradient>
</defs>
<g clip-path="url(#clipd)"><g filter="url(#bld)">
<rect x="307.3" y="152.93" width="203.7" height="12.94" fill="url(#gd_0)"/>
<rect x="307.3" y="165.47" width="203.7" height="6.67" fill="url(#gd_1)"/>
<rect x="307.3" y="171.74" width="203.7" height="6.67" fill="url(#gd_2)"/>
<rect x="307.3" y="178.01" width="203.7" height="6.67" fill="url(#gd_3)"/>
<rect x="307.3" y="184.27" width="203.7" height="6.67" fill="url(#gd_4)"/>
<rect x="307.3" y="190.54" width="203.7" height="6.67" fill="url(#gd_5)"/>
<rect x="307.3" y="196.81" width="203.7" height="6.67" fill="url(#gd_6)"/>
<rect x="307.3" y="203.08" width="203.7" height="6.67" fill="url(#gd_7)"/>
<rect x="307.3" y="209.35" width="203.7" height="6.67" fill="url(#gd_8)"/>
<rect x="307.3" y="215.62" width="203.7" height="6.67" fill="url(#gd_9)"/>
<rect x="307.3" y="221.89" width="203.7" height="6.67" fill="url(#gd_10)"/>
<rect x="307.3" y="228.16" width="203.7" height="6.67" fill="url(#gd_11)"/>
<rect x="307.3" y="234.43" width="203.7" height="6.67" fill="url(#gd_12)"/>
<rect x="307.3" y="240.69" width="203.7" height="6.67" fill="url(#gd_13)"/>
<rect x="307.3" y="246.96" width="203.7" height="6.67" fill="url(#gd_14)"/>
<rect x="307.3" y="253.23" width="203.7" height="12.94" fill="url(#gd_15)"/>
</g></g>
<defs><linearGradient id="cbd" x1="0" x2="0" y1="0" y2="1"><stop offset="0.000" stop-color="#7f0000"/><stop offset="0.050" stop-color="#b20000"/><stop offset="0.100" stop-color="#e50000"/><stop offset="0.150" stop-color="#ff1900"/><stop offset="0.200" stop-color="#ff4c00"/><stop offset="0.250" stop-color="#ff7f00"/><stop offset="0.300" stop-color="#ffb200"/><stop offset="0.350" stop-color="#ffe500"/><stop offset="0.400" stop-color="#e5ff19"/><stop offset="0.450" stop-color="#b2ff4c"/><stop offset="0.500" stop-color="#7fff7f"/><stop offset="0.550" stop-color="#4cffb2"/><stop offset="0.600" stop-color="#19ffe5"/><stop offset="0.650" stop-color="#00e5ff"/><stop offset="0.700" stop-color="#00b2ff"/><stop offset="0.750" stop-color="#007fff"/><stop offset="0.800" stop-color="#004cff"/><stop offset="0.850" stop-color="#0019ff"/><stop offset="0.900" stop-color="#0000e5"/><stop offset="0.950" stop-color="#0000b2"/><stop offset="1.000" stop-color="#00007f"/></linearGradient></defs>
<rect x="518.8" y="159.2" width="4.2000000000000455" height="100.30000000000001" fill="url(#cbd)"/>
<text x="329.12" y="269.90" text-anchor="middle" font-size="8.4">0.5</text>
<text x="363.70" y="269.90" text-anchor="middle" font-size="8.4">1</text>
<text x="401.88" y="269.90" text-anchor="middle" font-size="8.4">1.5</text>
<text x="436.45" y="269.90" text-anchor="middle" font-size="8.4">2</text>
<text x="474.62" y="269.90" text-anchor="middle" font-size="8.4">2.5</text>
<text x="509.20" y="269.90" text-anchor="middle" font-size="8.4">3</text>
<text x="304.60" y="163.00" text-anchor="end" font-size="8.4">1000</text>
<text x="304.60" y="183.06" text-anchor="end" font-size="8.4">900</text>
<text x="304.60" y="203.12" text-anchor="end" font-size="8.4">800</text>
<text x="304.60" y="223.18" text-anchor="end" font-size="8.4">700</text>
<text x="304.60" y="243.24" text-anchor="end" font-size="8.4">600</text>
<text x="304.60" y="263.30" text-anchor="end" font-size="8.4">500</text>
<text x="525.50" y="162.00" font-size="8.4">1</text>
<text x="525.50" y="189.86" font-size="8.4">0.75</text>
<text x="525.50" y="217.72" font-size="8.4">0.5</text>
<text x="525.50" y="245.58" font-size="8.4">0.25</text>
<text x="409.65" y="280.70" text-anchor="middle" font-size="9.8">Wavelength (<tspan font-style="italic" font-weight="normal" style="stroke-width:0.15px" dx="0.8">μ</tspan><tspan dx="0.6">m)</tspan></text>
<text transform="translate(285.00,209.35) rotate(-90)" text-anchor="middle" font-size="9.5" xml:space="preserve">Substrate  Thickness (nm)</text>
<text x="413.7" y="152.6" text-anchor="middle" font-size="14">(d)</text>
<defs><clipPath id="clipf"><rect x="301.2" y="309.8" width="219.09999999999997" height="99.89999999999998"/></clipPath>
<filter id="blf" x="-10%" y="-10%" width="120%" height="120%"><feGaussianBlur stdDeviation="0.6 3.75"/></filter>
<linearGradient id="gf_0" x1="0" x2="1" y1="0" y2="0"><stop offset="0.0000" stop-color="#d1000b"/><stop offset="0.0084" stop-color="#cb000b"/><stop offset="0.0168" stop-color="#d7000b"/><stop offset="0.0252" stop-color="#c7000b"/><stop offset="0.0336" stop-color="#ac000b"/><stop offset="0.0420" stop-color="#ca000b"/><stop offset="0.0504" stop-color="#f2000b"/><stop offset="0.0588" stop-color="#d3000b"/><stop offset="0.0672" stop-color="#b5000b"/><stop offset="0.0756" stop-color="#dc000b"/><stop offset="0.0840" stop-color="#ba000b"/><stop offset="0.0924" stop-color="#b2000b"/><stop offset="0.1008" stop-color="#ba000b"/><stop offset="0.1092" stop-color="#ba000b"/><stop offset="0.1176" stop-color="#b0000b"/><stop offset="0.1261" stop-color="#82000b"/><stop offset="0.1345" stop-color="#83000b"/><stop offset="0.1429" stop-color="#bb000b"/><stop offset="0.1513" stop-color="#cd000b"/><stop offset="0.1597" stop-color="#cd000b"/><stop offset="0.1681" stop-color="#d4000b"/><stop offset="0.1765" stop-color="#c6000b"/><stop offset="0.1849" stop-color="#d3000b"/><stop offset="0.1933" stop-color="#cd000b"/><stop offset="0.2017" stop-color="#bb000b"/><stop offset="0.2101" stop-color="#c4000b"/><stop offset="0.2185" stop-color="#be000b"/><stop offset="0.2269" stop-color="#b0000b"/><stop offset="0.2353" stop-color="#c1000b"/><stop offset="0.2437" stop-color="#b8000b"/><stop offset="0.2521" stop-color="#ba000b"/><stop offset="0.2605" stop-color="#bb000b"/><stop offset="0.2689" stop-color="#b3000b"/><stop offset="0.2773" stop-color="#c7000b"/><stop offset="0.2857" stop-color="#ce000b"/><stop offset="0.2941" stop-color="#c7000b"/><stop offset="0.3025" stop-color="#c9000b"/><stop offset="0.3109" stop-color="#b6000b"/><stop offset="0.3193" stop-color="#b5000b"/><stop offset="0.3277" stop-color="#ab000b"/><stop offset="0.3361" stop-color="#e0000b"/><stop offset="0.3445" stop-color="#dc000b"/><stop offset="0.3529" stop-color="#a8000b"/><stop offset="0.3613" stop-color="#b2000b"/><stop offset="0.3697" stop-color="#ab000b"/><stop offset="0.3782" stop-color="#c3000b"/><stop offset="0.3866" stop-color="#bf000b"/><stop offset="0.3950" stop-color="#b2000b"/><stop offset="0.4034" stop-color="#da000b"/><stop offset="0.4118" stop-color="#fe000b"/><stop offset="0.4202" stop-color="#da000b"/><stop offset="0.4286" stop-color="#ae000b"/><stop offset="0.4370" stop-color="#b1000b"/><stop offset="0.4454" stop-color="#ba000b"/><stop offset="0.4538" stop-color="#b9000b"/><stop offset="0.4622" stop-color="#c7000b"/><stop offset="0.4706" stop-color="#dd000b"/><stop offset="0.4790" stop-color="#dc000b"/><stop offset="0.4874" stop-color="#b9000b"/><stop offset="0.4958" stop-color="#c8000b"/><stop offset="0.5042" stop-color="#eb000b"/><stop offset="0.5126" stop-color="#d0000b"/><stop offset="0.5210" stop-color="#9d000b"/><stop offset="0.5294" stop-color="#96000b"/><stop offset="0.5378" stop-color="#d3000b"/><stop offset="0.5462" stop-color="#c9000b"/><stop offset="0.5546" stop-color="#bc000b"/><stop offset="0.5630" stop-color="#bb000b"/><stop offset="0.5714" stop-color="#d4000b"/><stop offset="0.5798" stop-color="#c5000b"/><stop offset="0.5882" stop-color="#d6000b"/><stop offset="0.5966" stop-color="#e9000b"/><stop offset="0.6050" stop-color="#de000b"/><stop offset="0.6134" stop-color="#d1000b"/><stop offset="0.6218" stop-color="#ca000b"/><stop offset="0.6303" stop-color="#c5000b"/><stop offset="0.6387" stop-color="#be000b"/><stop offset="0.6471" stop-color="#af000b"/><stop offset="0.6555" stop-color="#a2000b"/><stop offset="0.6639" stop-color="#b9000b"/><stop offset="0.6723" stop-color="#cc000b"/><stop offset="0.6807" stop-color="#d6000b"/><stop offset="0.6891" stop-color="#e2000b"/><stop offset="0.6975" stop-color="#df000b"/><stop offset="0.7059" stop-color="#c6000b"/><stop offset="0.7143" stop-color="#c4000b"/><stop offset="0.7227" stop-color="#b2000b"/><stop offset="0.7311" stop-color="#b4000b"/><stop offset="0.7395" stop-color="#b5000b"/><stop offset="0.7479" stop-color="#b6000b"/><stop offset="0.7563" stop-color="#c1000b"/><stop offset="0.7647" stop-color="#cb000b"/><stop offset="0.7731" stop-color="#d0000b"/><stop offset="0.7815" stop-color="#cb000b"/><stop offset="0.7899" stop-color="#bd000b"/><stop offset="0.7983" stop-color="#c5000b"/><stop offset="0.8067" stop-color="#c5000b"/><stop offset="0.8151" stop-color="#c4000b"/><stop offset="0.8235" stop-color="#bb000b"/><stop offset="0.8319" stop-color="#cb000b"/><stop offset="0.8403" stop-color="#bf000b"/><stop offset="0.8487" stop-color="#c2000b"/><stop offset="0.8571" stop-color="#be000b"/><stop offset="0.8655" stop-color="#c9000b"/><stop offset="0.8739" stop-color="#d3000b"/><stop offset="0.8824" stop-color="#da000b"/><stop offset="0.8908" stop-color="#ca000b"/><stop offset="0.8992" stop-color="#ad000b"/><stop offset="0.9076" stop-color="#a3000b"/><stop offset="0.9160" stop-color="#bf000b"/><stop offset="0.9244" stop-color="#b2000b"/><stop offset="0.9328" stop-color="#94000b"/><stop offset="0.9412" stop-color="#81000b"/><stop offset="0.9496" stop-color="#ab000b"/><stop offset="0.9580" stop-color="#b4000b"/><stop offset="0.9664" stop-color="#af000b"/><stop offset="0.9748" stop-color="#a3000b"/><stop offset="0.9832" stop-color="#a7000b"/><stop offset="0.9916" stop-color="#aa000b"/><stop offset="1.0000" stop-color="#9d000b"/></linearGradient>
<linearGradient id="gf_1" x1="0" x2="1" y1="0" y2="0"><stop offset="0.0000" stop-color="#c7000b"/><stop offset="0.0084" stop-color="#c7000b"/><stop offset="0.0168" stop-color="#da000b"/><stop offset="0.0252" stop-color="#c1000b"/><stop offset="0.0336" stop-color="#a6000b"/><stop offset="0.0420" stop-color="#cf000b"/><stop offset="0.0504" stop-color="#f3000b"/><stop offset="0.0588" stop-color="#cd000b"/><stop offset="0.0672" stop-color="#a5000b"/><stop offset="0.0756" stop-color="#cd000b"/><stop offset="0.0840" stop-color="#b2000b"/><stop offset="0.0924" stop-color="#ae000b"/><stop offset="0.1008" stop-color="#ba000b"/><stop offset="0.1092" stop-color="#b1000b"/><stop offset="0.1176" stop-color="#b6000b"/><stop offset="0.1261" stop-color="#9d000b"/><stop offset="0.1345" stop-color="#94000b"/><stop offset="0.1429" stop-color="#c2000b"/><stop offset="0.1513" stop-color="#d3000b"/><stop offset="0.1597" stop-color="#d4000b"/><stop offset="0.1681" stop-color="#d6000b"/><stop offset="0.1765" stop-color="#ca000b"/><stop offset="0.1849" stop-color="#e0000b"/><stop offset="0.1933" stop-color="#cc000b"/><stop offset="0.2017" stop-color="#b4000b"/><stop offset="0.2101" stop-color="#b4000b"/><stop offset="0.2185" stop-color="#ad000b"/><stop offset="0.2269" stop-color="#ab000b"/><stop offset="0.2353" stop-color="#bb000b"/><stop offset="0.2437" stop-color="#af000b"/><stop offset="0.2521" stop-color="#b4000b"/><stop offset="0.2605" stop-color="#c4000b"/><stop offset="0.2689" stop-color="#ae000b"/><stop offset="0.2773" stop-color="#ca000b"/><stop offset="0.2857" stop-color="#cd000b"/><stop offset="0.2941" stop-color="#bc000b"/><stop offset="0.3025" stop-color="#c4000b"/><stop offset="0.3109" stop-color="#b3000b"/><stop offset="0.3193" stop-color="#ae000b"/><stop offset="0.3277" stop-color="#9d000b"/><stop offset="0.3361" stop-color="#cd000b"/><stop offset="0.3445" stop-color="#d4000b"/><stop offset="0.3529" stop-color="#b5000b"/><stop offset="0.3613" stop-color="#c2000b"/><stop offset="0.3697" stop-color="#b0000b"/><stop offset="0.3782" stop-color="#c6000b"/><stop offset="0.3866" stop-color="#c8000b"/><stop offset="0.3950" stop-color="#b9000b"/><stop offset="0.4034" stop-color="#d0000b"/><stop offset="0.4118" stop-color="#ee000b"/><stop offset="0.4202" stop-color="#db000b"/><stop offset="0.4286" stop-color="#b9000b"/><stop offset="0.4370" stop-color="#ae000b"/><stop offset="0.4454" stop-color="#b6000b"/><stop offset="0.4538" stop-color="#c1000b"/><stop offset="0.4622" stop-color="#d9000b"/><stop offset="0.4706" stop-color="#e5000b"/><stop offset="0.4790" stop-color="#df000b"/><stop offset="0.4874" stop-color="#be000b"/><stop offset="0.4958" stop-color="#d5000b"/><stop offset="0.5042" stop-color="#fb000b"/><stop offset="0.5126" stop-color="#e0000b"/><stop offset="0.5210" stop-color="#a6000b"/><stop offset="0.5294" stop-color="#97000b"/><stop offset="0.5378" stop-color="#d4000b"/><stop offset="0.5462" stop-color="#d6000b"/><stop offset="0.5546" stop-color="#c1000b"/><stop offset="0.5630" stop-color="#b7000b"/><stop offset="0.5714" stop-color="#c6000b"/><stop offset="0.5798" stop-color="#bd000b"/><stop offset="0.5882" stop-color="#d9000b"/><stop offset="0.5966" stop-color="#f4000b"/><stop offset="0.6050" stop-color="#e1000b"/><stop offset="0.6134" stop-color="#d0000b"/><stop offset="0.6218" stop-color="#c9000b"/><stop offset="0.6303" stop-color="#c6000b"/><stop offset="0.6387" stop-color="#c0000b"/><stop offset="0.6471" stop-color="#b2000b"/><stop offset="0.6555" stop-color="#a9000b"/><stop offset="0.6639" stop-color="#bf000b"/><stop offset="0.6723" stop-color="#c9000b"/><stop offset="0.6807" stop-color="#cd000b"/><stop offset="0.6891" stop-color="#dd000b"/><stop offset="0.6975" stop-color="#e3000b"/><stop offset="0.7059" stop-color="#ce000b"/><stop offset="0.7143" stop-color="#c5000b"/><stop offset="0.7227" stop-color="#af000b"/><stop offset="0.7311" stop-color="#b2000b"/><stop offset="0.7395" stop-color="#ad000b"/><stop offset="0.7479" stop-color="#bb000b"/><stop offset="0.7563" stop-color="#cb000b"/><stop offset="0.7647" stop-color="#d2000b"/><stop offset="0.7731" stop-color="#d3000b"/><stop offset="0.7815" stop-color="#c5000b"/><stop offset="0.7899" stop-color="#b4000b"/><stop offset="0.7983" stop-color="#c5000b"/><stop offset="0.8067" stop-color="#c5000b"/><stop offset="0.8151" stop-color="#be000b"/><stop offset="0.8235" stop-color="#bb000b"/><stop offset="0.8319" stop-color="#d5000b"/><stop offset="0.8403" stop-color="#c2000b"/><stop offset="0.8487" stop-color="#b9000b"/><stop offset="0.8571" stop-color="#b5000b"/><stop offset="0.8655" stop-color="#bd000b"/><stop offset="0.8739" stop-color="#c8000b"/><stop offset="0.8824" stop-color="#d4000b"/><stop offset="0.8908" stop-color="#c2000b"/><stop offset="0.8992" stop-color="#9a000b"/><stop offset="0.9076" stop-color="#8f000b"/><stop offset="0.9160" stop-color="#ad000b"/><stop offset="0.9244" stop-color="#a4000b"/><stop offset="0.9328" stop-color="#84000b"/><stop offset="0.9412" stop-color="#7f000b"/><stop offset="0.9496" stop-color="#99000b"/><stop offset="0.9580" stop-color="#ae000b"/><stop offset="0.9664" stop-color="#b2000b"/><stop offset="0.9748" stop-color="#a3000b"/><stop offset="0.9832" stop-color="#a2000b"/><stop offset="0.9916" stop-color="#a6000b"/><stop offset="1.0000" stop-color="#a4000b"/></linearGradient>
<linearGradient id="gf_2" x1="0" x2="1" y1="0" y2="0"><stop offset="0.0000" stop-color="#bb000b"/><stop offset="0.0084" stop-color="#af000b"/><stop offset="0.0168" stop-color="#ce000b"/><stop offset="0.0252" stop-color="#c4000b"/><stop offset="0.0336" stop-color="#a6000b"/><stop offset="0.0420" stop-color="#c7000b"/><stop offset="0.0504" stop-color="#f6000b"/><stop offset="0.0588" stop-color="#d2000b"/><stop offset="0.0672" stop-color="#a2000b"/><stop offset="0.0756" stop-color="#c2000b"/><stop offset="0.0840" stop-color="#b1000b"/><stop offset="0.0924" stop-color="#a5000b"/><stop offset="0.1008" stop-color="#b2000b"/><stop offset="0.1092" stop-color="#b7000b"/><stop offset="0.1176" stop-color="#c4000b"/><stop offset="0.1261" stop-color="#ac000b"/><stop offset="0.1345" stop-color="#a2000b"/><stop offset="0.1429" stop-color="#c5000b"/><stop offset="0.1513" stop-color="#cc000b"/><stop offset="0.1597" stop-color="#d1000b"/><stop offset="0.1681" stop-color="#d9000b"/><stop offset="0.1765" stop-color="#cc000b"/><stop offset="0.1849" stop-color="#d7000b"/><stop offset="0.1933" stop-color="#d9000b"/><stop offset="0.2017" stop-color="#cb000b"/><stop offset="0.2101" stop-color="#ba000b"/><stop offset="0.2185" stop-color="#b2000b"/><stop offset="0.2269" stop-color="#ac000b"/><stop offset="0.2353" stop-color="#c2000b"/><stop offset="0.2437" stop-color="#a9000b"/><stop offset="0.2521" stop-color="#ac000b"/><stop offset="0.2605" stop-color="#c8000b"/><stop offset="0.2689" stop-color="#b6000b"/><stop offset="0.2773" stop-color="#d1000b"/><stop offset="0.2857" stop-color="#cc000b"/><stop offset="0.2941" stop-color="#c3000b"/><stop offset="0.3025" stop-color="#cb000b"/><stop offset="0.3109" stop-color="#ae000b"/><stop offset="0.3193" stop-color="#aa000b"/><stop offset="0.3277" stop-color="#a4000b"/><stop offset="0.3361" stop-color="#d4000b"/><stop offset="0.3445" stop-color="#d5000b"/><stop offset="0.3529" stop-color="#c0000b"/><stop offset="0.3613" stop-color="#d4000b"/><stop offset="0.3697" stop-color="#c0000b"/><stop offset="0.3782" stop-color="#d0000b"/><stop offset="0.3866" stop-color="#d0000b"/><stop offset="0.3950" stop-color="#c7000b"/><stop offset="0.4034" stop-color="#e3000b"/><stop offset="0.4118" stop-color="#ff000b"/><stop offset="0.4202" stop-color="#e5000b"/><stop offset="0.4286" stop-color="#b9000b"/><stop offset="0.4370" stop-color="#c5000b"/><stop offset="0.4454" stop-color="#c7000b"/><stop offset="0.4538" stop-color="#cb000b"/><stop offset="0.4622" stop-color="#df000b"/><stop offset="0.4706" stop-color="#eb000b"/><stop offset="0.4790" stop-color="#dc000b"/><stop offset="0.4874" stop-color="#b5000b"/><stop offset="0.4958" stop-color="#c8000b"/><stop offset="0.5042" stop-color="#f7000b"/><stop offset="0.5126" stop-color="#d9000b"/><stop offset="0.5210" stop-color="#a5000b"/><stop offset="0.5294" stop-color="#a7000b"/><stop offset="0.5378" stop-color="#d9000b"/><stop offset="0.5462" stop-color="#c6000b"/><stop offset="0.5546" stop-color="#b3000b"/><stop offset="0.5630" stop-color="#b4000b"/><stop offset="0.5714" stop-color="#c9000b"/><stop offset="0.5798" stop-color="#c6000b"/><stop offset="0.5882" stop-color="#e1000b"/><stop offset="0.5966" stop-color="#f0000b"/><stop offset="0.6050" stop-color="#e3000b"/><stop offset="0.6134" stop-color="#d2000b"/><stop offset="0.6218" stop-color="#d0000b"/><stop offset="0.6303" stop-color="#c0000b"/><stop offset="0.6387" stop-color="#b6000b"/><stop offset="0.6471" stop-color="#a8000b"/><stop offset="0.6555" stop-color="#ac000b"/><stop offset="0.6639" stop-color="#ca000b"/><stop offset="0.6723" stop-color="#d4000b"/><stop offset="0.6807" stop-color="#ce000b"/><stop offset="0.6891" stop-color="#d1000b"/><stop offset="0.6975" stop-color="#df000b"/><stop offset="0.7059" stop-color="#cd000b"/><stop offset="0.7143" stop-color="#be000b"/><stop offset="0.7227" stop-color="#ac000b"/><stop offset="0.7311" stop-color="#b0000b"/><stop offset="0.7395" stop-color="#ac000b"/><stop offset="0.7479" stop-color="#af000b"/><stop offset="0.7563" stop-color="#c4000b"/><stop offset="0.7647" stop-color="#d0000b"/><stop offset="0.7731" stop-color="#d0000b"/><stop offset="0.7815" stop-color="#cc000b"/><stop offset="0.7899" stop-color="#bf000b"/><stop offset="0.7983" stop-color="#cb000b"/><stop offset="0.8067" stop-color="#ce000b"/><stop offset="0.8151" stop-color="#ca000b"/><stop offset="0.8235" stop-color="#d0000b"/><stop offset="0.8319" stop-color="#eb000b"/><stop offset="0.8403" stop-color="#d0000b"/><stop offset="0.8487" stop-color="#ba000b"/><stop offset="0.8571" stop-color="#b6000b"/><stop offset="0.8655" stop-color="#bd000b"/><stop offset="0.8739" stop-color="#c6000b"/><stop offset="0.8824" stop-color="#d0000b"/><stop offset="0.8908" stop-color="#be000b"/><stop offset="0.8992" stop-color="#90000b"/><stop offset="0.9076" stop-color="#89000b"/><stop offset="0.9160" stop-color="#a3000b"/><stop offset="0.9244" stop-color="#9d000b"/><stop offset="0.9328" stop-color="#88000b"/><stop offset="0.9412" stop-color="#7f000b"/><stop offset="0.9496" stop-color="#a0000b"/><stop offset="0.9580" stop-color="#b5000b"/><stop offset="0.9664" stop-color="#b2000b"/><stop offset="0.9748" stop-color="#9c000b"/><stop offset="0.9832" stop-color="#9e000b"/><stop offset="0.9916" stop-color="#a3000b"/><stop offset="1.0000" stop-color="#9e000b"/></linearGradient>
<linearGradient id="gf_3" x1="0" x2="1" y1="0" y2="0"><stop offset="0.0000" stop-color="#c7000b"/><stop offset="0.0084" stop-color="#bc000b"/><stop offset="0.0168" stop-color="#e1000b"/><stop offset="0.0252" stop-color="#d1000b"/><stop offset="0.0336" stop-color="#a9000b"/><stop offset="0.0420" stop-color="#c8000b"/><stop offset="0.0504" stop-color="#f8000b"/><stop offset="0.0588" stop-color="#d5000b"/><stop offset="0.0672" stop-color="#a2000b"/><stop offset="0.0756" stop-color="#b9000b"/><stop offset="0.0840" stop-color="#a0000b"/><stop offset="0.0924" stop-color="#9d000b"/><stop offset="0.1008" stop-color="#ad000b"/><stop offset="0.1092" stop-color="#b1000b"/><stop offset="0.1176" stop-color="#c7000b"/><stop offset="0.1261" stop-color="#b3000b"/><stop offset="0.1345" stop-color="#a8000b"/><stop offset="0.1429" stop-color="#ca000b"/><stop offset="0.1513" stop-color="#cc000b"/><stop offset="0.1597" stop-color="#cf000b"/><stop offset="0.1681" stop-color="#dc000b"/><stop offset="0.1765" stop-color="#d6000b"/><stop offset="0.1849" stop-color="#e8000b"/><stop offset="0.1933" stop-color="#e7000b"/><stop offset="0.2017" stop-color="#dd000b"/><stop offset="0.2101" stop-color="#d2000b"/><stop offset="0.2185" stop-color="#be000b"/><stop offset="0.2269" stop-color="#b6000b"/><stop offset="0.2353" stop-color="#d0000b"/><stop offset="0.2437" stop-color="#b8000b"/><stop offset="0.2521" stop-color="#bd000b"/><stop offset="0.2605" stop-color="#db000b"/><stop offset="0.2689" stop-color="#c7000b"/><stop offset="0.2773" stop-color="#dd000b"/><stop offset="0.2857" stop-color="#d7000b"/><stop offset="0.2941" stop-color="#d2000b"/><stop offset="0.3025" stop-color="#d7000b"/><stop offset="0.3109" stop-color="#be000b"/><stop offset="0.3193" stop-color="#a9000b"/><stop offset="0.3277" stop-color="#a8000b"/><stop offset="0.3361" stop-color="#e3000b"/><stop offset="0.3445" stop-color="#df000b"/><stop offset="0.3529" stop-color="#bc000b"/><stop offset="0.3613" stop-color="#dd000b"/><stop offset="0.3697" stop-color="#d9000b"/><stop offset="0.3782" stop-color="#e6000b"/><stop offset="0.3866" stop-color="#de000b"/><stop offset="0.3950" stop-color="#cd000b"/><stop offset="0.4034" stop-color="#ef000b"/><stop offset="0.4118" stop-color="#ff140b"/><stop offset="0.4202" stop-color="#f2000b"/><stop offset="0.4286" stop-color="#c0000b"/><stop offset="0.4370" stop-color="#c4000b"/><stop offset="0.4454" stop-color="#c6000b"/><stop offset="0.4538" stop-color="#c2000b"/><stop offset="0.4622" stop-color="#cd000b"/><stop offset="0.4706" stop-color="#dc000b"/><stop offset="0.4790" stop-color="#dc000b"/><stop offset="0.4874" stop-color="#cc000b"/><stop offset="0.4958" stop-color="#c9000b"/><stop offset="0.5042" stop-color="#e9000b"/><stop offset="0.5126" stop-color="#d1000b"/><stop offset="0.5210" stop-color="#a1000b"/><stop offset="0.5294" stop-color="#a7000b"/><stop offset="0.5378" stop-color="#d9000b"/><stop offset="0.5462" stop-color="#cb000b"/><stop offset="0.5546" stop-color="#bb000b"/><stop offset="0.5630" stop-color="#bd000b"/><stop offset="0.5714" stop-color="#d6000b"/><stop offset="0.5798" stop-color="#c7000b"/><stop offset="0.5882" stop-color="#cf000b"/><stop offset="0.5966" stop-color="#df000b"/><stop offset="0.6050" stop-color="#e2000b"/><stop offset="0.6134" stop-color="#ca000b"/><stop offset="0.6218" stop-color="#c9000b"/><stop offset="0.6303" stop-color="#c5000b"/><stop offset="0.6387" stop-color="#bd000b"/><stop offset="0.6471" stop-color="#ab000b"/><stop offset="0.6555" stop-color="#a8000b"/><stop offset="0.6639" stop-color="#c2000b"/><stop offset="0.6723" stop-color="#d2000b"/><stop offset="0.6807" stop-color="#cc000b"/><stop offset="0.6891" stop-color="#cb000b"/><stop offset="0.6975" stop-color="#d7000b"/><stop offset="0.7059" stop-color="#c8000b"/><stop offset="0.7143" stop-color="#bd000b"/><stop offset="0.7227" stop-color="#ab000b"/><stop offset="0.7311" stop-color="#af000b"/><stop offset="0.7395" stop-color="#ad000b"/><stop offset="0.7479" stop-color="#ad000b"/><stop offset="0.7563" stop-color="#c3000b"/><stop offset="0.7647" stop-color="#cb000b"/><stop offset="0.7731" stop-color="#cb000b"/><stop offset="0.7815" stop-color="#c4000b"/><stop offset="0.7899" stop-color="#b8000b"/><stop offset="0.7983" stop-color="#c3000b"/><stop offset="0.8067" stop-color="#c9000b"/><stop offset="0.8151" stop-color="#ca000b"/><stop offset="0.8235" stop-color="#d2000b"/><stop offset="0.8319" stop-color="#ee000b"/><stop offset="0.8403" stop-color="#d8000b"/><stop offset="0.8487" stop-color="#c3000b"/><stop offset="0.8571" stop-color="#b2000b"/><stop offset="0.8655" stop-color="#b5000b"/><stop offset="0.8739" stop-color="#c2000b"/><stop offset="0.8824" stop-color="#cb000b"/><stop offset="0.8908" stop-color="#be000b"/><stop offset="0.8992" stop-color="#95000b"/><stop offset="0.9076" stop-color="#8b000b"/><stop offset="0.9160" stop-color="#a4000b"/><stop offset="0.9244" stop-color="#a3000b"/><stop offset="0.9328" stop-color="#96000b"/><stop offset="0.9412" stop-color="#82000b"/><stop offset="0.9496" stop-color="#a8000b"/><stop offset="0.9580" stop-color="#bc000b"/><stop offset="0.9664" stop-color="#c1000b"/><stop offset="0.9748" stop-color="#ad000b"/><stop offset="0.9832" stop-color="#ab000b"/><stop offset="0.9916" stop-color="#b1000b"/><stop offset="1.0000" stop-color="#ab000b"/></linearGradient>
<linearGradient id="gf_4" x1="0" x2="1" y1="0" y2="0"><stop offset="0.0000" stop-color="#c2000b"/><stop offset="0.0084" stop-color="#b9000b"/><stop offset="0.0168" stop-color="#df000b"/><stop offset="0.0252" stop-color="#cd000b"/><stop offset="0.0336" stop-color="#a7000b"/><stop offset="0.0420" stop-color="#cf000b"/><stop offset="0.0504" stop-color="#f7000b"/><stop offset="0.0588" stop-color="#c6000b"/><stop offset="0.0672" stop-color="#90000b"/><stop offset="0.0756" stop-color="#b1000b"/><stop offset="0.0840" stop-color="#9a000b"/><stop offset="0.0924" stop-color="#9a000b"/><stop offset="0.1008" stop-color="#aa000b"/><stop offset="0.1092" stop-color="#b0000b"/><stop offset="0.1176" stop-color="#c8000b"/><stop offset="0.1261" stop-color="#ba000b"/><stop offset="0.1345" stop-color="#b2000b"/><stop offset="0.1429" stop-color="#ca000b"/><stop offset="0.1513" stop-color="#c7000b"/><stop offset="0.1597" stop-color="#cb000b"/><stop offset="0.1681" stop-color="#db000b"/><stop offset="0.1765" stop-color="#dc000b"/><stop offset="0.1849" stop-color="#f2000b"/><stop offset="0.1933" stop-color="#e2000b"/><stop offset="0.2017" stop-color="#dd000b"/><stop offset="0.2101" stop-color="#c4000b"/><stop offset="0.2185" stop-color="#b1000b"/><stop offset="0.2269" stop-color="#a1000b"/><stop offset="0.2353" stop-color="#c4000b"/><stop offset="0.2437" stop-color="#b8000b"/><stop offset="0.2521" stop-color="#bf000b"/><stop offset="0.2605" stop-color="#d7000b"/><stop offset="0.2689" stop-color="#b8000b"/><stop offset="0.2773" stop-color="#d3000b"/><stop offset="0.2857" stop-color="#d6000b"/><stop offset="0.2941" stop-color="#d2000b"/><stop offset="0.3025" stop-color="#d3000b"/><stop offset="0.3109" stop-color="#c3000b"/><stop offset="0.3193" stop-color="#b3000b"/><stop offset="0.3277" stop-color="#ab000b"/><stop offset="0.3361" stop-color="#f0000b"/><stop offset="0.3445" stop-color="#e5000b"/><stop offset="0.3529" stop-color="#bc000b"/><stop offset="0.3613" stop-color="#da000b"/><stop offset="0.3697" stop-color="#ce000b"/><stop offset="0.3782" stop-color="#df000b"/><stop offset="0.3866" stop-color="#e3000b"/><stop offset="0.3950" stop-color="#e4000b"/><stop offset="0.4034" stop-color="#ff030b"/><stop offset="0.4118" stop-color="#ff1e0b"/><stop offset="0.4202" stop-color="#fe000b"/><stop offset="0.4286" stop-color="#d9000b"/><stop offset="0.4370" stop-color="#e2000b"/><stop offset="0.4454" stop-color="#e5000b"/><stop offset="0.4538" stop-color="#dc000b"/><stop offset="0.4622" stop-color="#e0000b"/><stop offset="0.4706" stop-color="#f8000b"/><stop offset="0.4790" stop-color="#ed000b"/><stop offset="0.4874" stop-color="#ce000b"/><stop offset="0.4958" stop-color="#d3000b"/><stop offset="0.5042" stop-color="#f4000b"/><stop offset="0.5126" stop-color="#d5000b"/><stop offset="0.5210" stop-color="#a1000b"/><stop offset="0.5294" stop-color="#a3000b"/><stop offset="0.5378" stop-color="#ce000b"/><stop offset="0.5462" stop-color="#c9000b"/><stop offset="0.5546" stop-color="#c6000b"/><stop offset="0.5630" stop-color="#c0000b"/><stop offset="0.5714" stop-color="#cd000b"/><stop offset="0.5798" stop-color="#be000b"/><stop offset="0.5882" stop-color="#d1000b"/><stop offset="0.5966" stop-color="#e4000b"/><stop offset="0.6050" stop-color="#de000b"/><stop offset="0.6134" stop-color="#c6000b"/><stop offset="0.6218" stop-color="#cd000b"/><stop offset="0.6303" stop-color="#c4000b"/><stop offset="0.6387" stop-color="#b4000b"/><stop offset="0.6471" stop-color="#a8000b"/><stop offset="0.6555" stop-color="#a6000b"/><stop offset="0.6639" stop-color="#b4000b"/><stop offset="0.6723" stop-color="#c0000b"/><stop offset="0.6807" stop-color="#c4000b"/><stop offset="0.6891" stop-color="#c7000b"/><stop offset="0.6975" stop-color="#d2000b"/><stop offset="0.7059" stop-color="#c2000b"/><stop offset="0.7143" stop-color="#b7000b"/><stop offset="0.7227" stop-color="#ad000b"/><stop offset="0.7311" stop-color="#b1000b"/><stop offset="0.7395" stop-color="#b0000b"/><stop offset="0.7479" stop-color="#b4000b"/><stop offset="0.7563" stop-color="#bf000b"/><stop offset="0.7647" stop-color="#c1000b"/><stop offset="0.7731" stop-color="#c5000b"/><stop offset="0.7815" stop-color="#bf000b"/><stop offset="0.7899" stop-color="#b3000b"/><stop offset="0.7983" stop-color="#c4000b"/><stop offset="0.8067" stop-color="#cc000b"/><stop offset="0.8151" stop-color="#c6000b"/><stop offset="0.8235" stop-color="#c6000b"/><stop offset="0.8319" stop-color="#dc000b"/><stop offset="0.8403" stop-color="#d5000b"/><stop offset="0.8487" stop-color="#c6000b"/><stop offset="0.8571" stop-color="#b7000b"/><stop offset="0.8655" stop-color="#b1000b"/><stop offset="0.8739" stop-color="#c0000b"/><stop offset="0.8824" stop-color="#cf000b"/><stop offset="0.8908" stop-color="#ce000b"/><stop offset="0.8992" stop-color="#a8000b"/><stop offset="0.9076" stop-color="#99000b"/><stop offset="0.9160" stop-color="#b5000b"/><stop offset="0.9244" stop-color="#b2000b"/><stop offset="0.9328" stop-color="#a1000b"/><stop offset="0.9412" stop-color="#94000b"/><stop offset="0.9496" stop-color="#c1000b"/><stop offset="0.9580" stop-color="#da000b"/><stop offset="0.9664" stop-color="#e1000b"/><stop offset="0.9748" stop-color="#c9000b"/><stop offset="0.9832" stop-color="#c8000b"/><stop offset="0.9916" stop-color="#d5000b"/><stop offset="1.0000" stop-color="#cb000b"/></linearGradient>
<linearGradient id="gf_5" x1="0" x2="1" y1="0" y2="0"><stop offset="0.0000" stop-color="#c8000b"/><stop offset="0.0084" stop-color="#b0000b"/><stop offset="0.0168" stop-color="#d1000b"/><stop offset="0.0252" stop-color="#c3000b"/><stop offset="0.0336" stop-color="#aa000b"/><stop offset="0.0420" stop-color="#da000b"/><stop offset="0.0504" stop-color="#ff010b"/><stop offset="0.0588" stop-color="#d8000b"/><stop offset="0.0672" stop-color="#a6000b"/><stop offset="0.0756" stop-color="#bf000b"/><stop offset="0.0840" stop-color="#a5000b"/><stop offset="0.0924" stop-color="#9f000b"/><stop offset="0.1008" stop-color="#b0000b"/><stop offset="0.1092" stop-color="#ab000b"/><stop offset="0.1176" stop-color="#bb000b"/><stop offset="0.1261" stop-color="#a9000b"/><stop offset="0.1345" stop-color="#ac000b"/><stop offset="0.1429" stop-color="#cd000b"/><stop offset="0.1513" stop-color="#bb000b"/><stop offset="0.1597" stop-color="#b1000b"/><stop offset="0.1681" stop-color="#d0000b"/><stop offset="0.1765" stop-color="#d8000b"/><stop offset="0.1849" stop-color="#fc000b"/><stop offset="0.1933" stop-color="#f4000b"/><stop offset="0.2017" stop-color="#d9000b"/><stop offset="0.2101" stop-color="#bf000b"/><stop offset="0.2185" stop-color="#ad000b"/><stop offset="0.2269" stop-color="#ad000b"/><stop offset="0.2353" stop-color="#ca000b"/><stop offset="0.2437" stop-color="#b1000b"/><stop offset="0.2521" stop-color="#c0000b"/><stop offset="0.2605" stop-color="#d0000b"/><stop offset="0.2689" stop-color="#b0000b"/><stop offset="0.2773" stop-color="#d0000b"/><stop offset="0.2857" stop-color="#d8000b"/><stop offset="0.2941" stop-color="#d1000b"/><stop offset="0.3025" stop-color="#dc000b"/><stop offset="0.3109" stop-color="#c2000b"/><stop offset="0.3193" stop-color="#ba000b"/><stop offset="0.3277" stop-color="#bb000b"/><stop offset="0.3361" stop-color="#ef000b"/><stop offset="0.3445" stop-color="#dd000b"/><stop offset="0.3529" stop-color="#b7000b"/><stop offset="0.3613" stop-color="#e4000b"/><stop offset="0.3697" stop-color="#d8000b"/><stop offset="0.3782" stop-color="#eb000b"/><stop offset="0.3866" stop-color="#ef000b"/><stop offset="0.3950" stop-color="#ee000b"/><stop offset="0.4034" stop-color="#ff0a0b"/><stop offset="0.4118" stop-color="#ff2b0b"/><stop offset="0.4202" stop-color="#ff1e0b"/><stop offset="0.4286" stop-color="#f0000b"/><stop offset="0.4370" stop-color="#f8000b"/><stop offset="0.4454" stop-color="#f7000b"/><stop offset="0.4538" stop-color="#ee000b"/><stop offset="0.4622" stop-color="#e5000b"/><stop offset="0.4706" stop-color="#ff000b"/><stop offset="0.4790" stop-color="#f7000b"/><stop offset="0.4874" stop-color="#d4000b"/><stop offset="0.4958" stop-color="#de000b"/><stop offset="0.5042" stop-color="#f8000b"/><stop offset="0.5126" stop-color="#cd000b"/><stop offset="0.5210" stop-color="#98000b"/><stop offset="0.5294" stop-color="#a0000b"/><stop offset="0.5378" stop-color="#d1000b"/><stop offset="0.5462" stop-color="#c4000b"/><stop offset="0.5546" stop-color="#bb000b"/><stop offset="0.5630" stop-color="#bd000b"/><stop offset="0.5714" stop-color="#c5000b"/><stop offset="0.5798" stop-color="#c0000b"/><stop offset="0.5882" stop-color="#d5000b"/><stop offset="0.5966" stop-color="#db000b"/><stop offset="0.6050" stop-color="#d9000b"/><stop offset="0.6134" stop-color="#c7000b"/><stop offset="0.6218" stop-color="#c5000b"/><stop offset="0.6303" stop-color="#c0000b"/><stop offset="0.6387" stop-color="#b7000b"/><stop offset="0.6471" stop-color="#a9000b"/><stop offset="0.6555" stop-color="#9f000b"/><stop offset="0.6639" stop-color="#b0000b"/><stop offset="0.6723" stop-color="#be000b"/><stop offset="0.6807" stop-color="#c6000b"/><stop offset="0.6891" stop-color="#cb000b"/><stop offset="0.6975" stop-color="#d7000b"/><stop offset="0.7059" stop-color="#c4000b"/><stop offset="0.7143" stop-color="#b8000b"/><stop offset="0.7227" stop-color="#ae000b"/><stop offset="0.7311" stop-color="#b3000b"/><stop offset="0.7395" stop-color="#a9000b"/><stop offset="0.7479" stop-color="#b0000b"/><stop offset="0.7563" stop-color="#b7000b"/><stop offset="0.7647" stop-color="#ba000b"/><stop offset="0.7731" stop-color="#bd000b"/><stop offset="0.7815" stop-color="#bd000b"/><stop offset="0.7899" stop-color="#af000b"/><stop offset="0.7983" stop-color="#b7000b"/><stop offset="0.8067" stop-color="#b9000b"/><stop offset="0.8151" stop-color="#b7000b"/><stop offset="0.8235" stop-color="#b0000b"/><stop offset="0.8319" stop-color="#c4000b"/><stop offset="0.8403" stop-color="#c2000b"/><stop offset="0.8487" stop-color="#bf000b"/><stop offset="0.8571" stop-color="#b4000b"/><stop offset="0.8655" stop-color="#b4000b"/><stop offset="0.8739" stop-color="#ca000b"/><stop offset="0.8824" stop-color="#db000b"/><stop offset="0.8908" stop-color="#ce000b"/><stop offset="0.8992" stop-color="#a4000b"/><stop offset="0.9076" stop-color="#9f000b"/><stop offset="0.9160" stop-color="#c1000b"/><stop offset="0.9244" stop-color="#bf000b"/><stop offset="0.9328" stop-color="#b6000b"/><stop offset="0.9412" stop-color="#ae000b"/><stop offset="0.9496" stop-color="#e3000b"/><stop offset="0.9580" stop-color="#ff0f0b"/><stop offset="0.9664" stop-color="#ff220b"/><stop offset="0.9748" stop-color="#ff140b"/><stop offset="0.9832" stop-color="#ff0e0b"/><stop offset="0.9916" stop-color="#ff0d0b"/><stop offset="1.0000" stop-color="#fa000b"/></linearGradient>
<linearGradient id="gf_6" x1="0" x2="1" y1="0" y2="0"><stop offset="0.0000" stop-color="#cb000b"/><stop offset="0.0084" stop-color="#b6000b"/><stop offset="0.0168" stop-color="#e3000b"/><stop offset="0.0252" stop-color="#d5000b"/><stop offset="0.0336" stop-color="#ab000b"/><stop offset="0.0420" stop-color="#ce000b"/><stop offset="0.0504" stop-color="#ff000b"/><stop offset="0.0588" stop-color="#d4000b"/><stop offset="0.0672" stop-color="#a8000b"/><stop offset="0.0756" stop-color="#c7000b"/><stop offset="0.0840" stop-color="#ad000b"/><stop offset="0.0924" stop-color="#aa000b"/><stop offset="0.1008" stop-color="#b9000b"/><stop offset="0.1092" stop-color="#b1000b"/><stop offset="0.1176" stop-color="#b1000b"/><stop offset="0.1261" stop-color="#99000b"/><stop offset="0.1345" stop-color="#96000b"/><stop offset="0.1429" stop-color="#c7000b"/><stop offset="0.1513" stop-color="#c4000b"/><stop offset="0.1597" stop-color="#c1000b"/><stop offset="0.1681" stop-color="#cb000b"/><stop offset="0.1765" stop-color="#c4000b"/><stop offset="0.1849" stop-color="#e8000b"/><stop offset="0.1933" stop-color="#e8000b"/><stop offset="0.2017" stop-color="#c3000b"/><stop offset="0.2101" stop-color="#b6000b"/><stop offset="0.2185" stop-color="#a7000b"/><stop offset="0.2269" stop-color="#a6000b"/><stop offset="0.2353" stop-color="#ca000b"/><stop offset="0.2437" stop-color="#ba000b"/><stop offset="0.2521" stop-color="#c3000b"/><stop offset="0.2605" stop-color="#d0000b"/><stop offset="0.2689" stop-color="#a7000b"/><stop offset="0.2773" stop-color="#d1000b"/><stop offset="0.2857" stop-color="#e4000b"/><stop offset="0.2941" stop-color="#c7000b"/><stop offset="0.3025" stop-color="#cc000b"/><stop offset="0.3109" stop-color="#be000b"/><stop offset="0.3193" stop-color="#bd000b"/><stop offset="0.3277" stop-color="#a4000b"/><stop offset="0.3361" stop-color="#e7000b"/><stop offset="0.3445" stop-color="#eb000b"/><stop offset="0.3529" stop-color="#cb000b"/><stop offset="0.3613" stop-color="#eb000b"/><stop offset="0.3697" stop-color="#e1000b"/><stop offset="0.3782" stop-color="#f3000b"/><stop offset="0.3866" stop-color="#f2000b"/><stop offset="0.3950" stop-color="#f1000b"/><stop offset="0.4034" stop-color="#ff130b"/><stop offset="0.4118" stop-color="#ff430b"/><stop offset="0.4202" stop-color="#ff330b"/><stop offset="0.4286" stop-color="#ff0e0b"/><stop offset="0.4370" stop-color="#ff120b"/><stop offset="0.4454" stop-color="#ff050b"/><stop offset="0.4538" stop-color="#fa000b"/><stop offset="0.4622" stop-color="#f0000b"/><stop offset="0.4706" stop-color="#ff040b"/><stop offset="0.4790" stop-color="#ff050b"/><stop offset="0.4874" stop-color="#e8000b"/><stop offset="0.4958" stop-color="#ed000b"/><stop offset="0.5042" stop-color="#fe000b"/><stop offset="0.5126" stop-color="#cb000b"/><stop offset="0.5210" stop-color="#9d000b"/><stop offset="0.5294" stop-color="#a1000b"/><stop offset="0.5378" stop-color="#dc000b"/><stop offset="0.5462" stop-color="#d2000b"/><stop offset="0.5546" stop-color="#b1000b"/><stop offset="0.5630" stop-color="#a5000b"/><stop offset="0.5714" stop-color="#c1000b"/><stop offset="0.5798" stop-color="#b9000b"/><stop offset="0.5882" stop-color="#d9000b"/><stop offset="0.5966" stop-color="#e8000b"/><stop offset="0.6050" stop-color="#dc000b"/><stop offset="0.6134" stop-color="#c7000b"/><stop offset="0.6218" stop-color="#bc000b"/><stop offset="0.6303" stop-color="#b6000b"/><stop offset="0.6387" stop-color="#b2000b"/><stop offset="0.6471" stop-color="#a4000b"/><stop offset="0.6555" stop-color="#94000b"/><stop offset="0.6639" stop-color="#a2000b"/><stop offset="0.6723" stop-color="#b7000b"/><stop offset="0.6807" stop-color="#c1000b"/><stop offset="0.6891" stop-color="#c9000b"/><stop offset="0.6975" stop-color="#d2000b"/><stop offset="0.7059" stop-color="#c0000b"/><stop offset="0.7143" stop-color="#ae000b"/><stop offset="0.7227" stop-color="#a6000b"/><stop offset="0.7311" stop-color="#a7000b"/><stop offset="0.7395" stop-color="#a3000b"/><stop offset="0.7479" stop-color="#a3000b"/><stop offset="0.7563" stop-color="#ab000b"/><stop offset="0.7647" stop-color="#af000b"/><stop offset="0.7731" stop-color="#b5000b"/><stop offset="0.7815" stop-color="#b4000b"/><stop offset="0.7899" stop-color="#9f000b"/><stop offset="0.7983" stop-color="#b2000b"/><stop offset="0.8067" stop-color="#b3000b"/><stop offset="0.8151" stop-color="#b4000b"/><stop offset="0.8235" stop-color="#aa000b"/><stop offset="0.8319" stop-color="#b2000b"/><stop offset="0.8403" stop-color="#b0000b"/><stop offset="0.8487" stop-color="#b7000b"/><stop offset="0.8571" stop-color="#ba000b"/><stop offset="0.8655" stop-color="#bd000b"/><stop offset="0.8739" stop-color="#c8000b"/><stop offset="0.8824" stop-color="#d7000b"/><stop offset="0.8908" stop-color="#cf000b"/><stop offset="0.8992" stop-color="#b6000b"/><stop offset="0.9076" stop-color="#bd000b"/><stop offset="0.9160" stop-color="#dc000b"/><stop offset="0.9244" stop-color="#d8000b"/><stop offset="0.9328" stop-color="#da000b"/><stop offset="0.9412" stop-color="#dd000b"/><stop offset="0.9496" stop-color="#ff130b"/><stop offset="0.9580" stop-color="#ff420b"/><stop offset="0.9664" stop-color="#ff640b"/><stop offset="0.9748" stop-color="#ff610b"/><stop offset="0.9832" stop-color="#ff5d0b"/><stop offset="0.9916" stop-color="#ff580b"/><stop offset="1.0000" stop-color="#ff3d0b"/></linearGradient>
<linearGradient id="gf_7" x1="0" x2="1" y1="0" y2="0"><stop offset="0.0000" stop-color="#bc000b"/><stop offset="0.0084" stop-color="#bb000b"/><stop offset="0.0168" stop-color="#e9000b"/><stop offset="0.0252" stop-color="#d7000b"/><stop offset="0.0336" stop-color="#b4000b"/><stop offset="0.0420" stop-color="#d7000b"/><stop offset="0.0504" stop-color="#fd000b"/><stop offset="0.0588" stop-color="#d4000b"/><stop offset="0.0672" stop-color="#ad000b"/><stop offset="0.0756" stop-color="#c3000b"/><stop offset="0.0840" stop-color="#9e000b"/><stop offset="0.0924" stop-color="#9c000b"/><stop offset="0.1008" stop-color="#b4000b"/><stop offset="0.1092" stop-color="#b3000b"/><stop offset="0.1176" stop-color="#b5000b"/><stop offset="0.1261" stop-color="#94000b"/><stop offset="0.1345" stop-color="#96000b"/><stop offset="0.1429" stop-color="#c6000b"/><stop offset="0.1513" stop-color="#c8000b"/><stop offset="0.1597" stop-color="#c7000b"/><stop offset="0.1681" stop-color="#da000b"/><stop offset="0.1765" stop-color="#d0000b"/><stop offset="0.1849" stop-color="#f0000b"/><stop offset="0.1933" stop-color="#e8000b"/><stop offset="0.2017" stop-color="#cb000b"/><stop offset="0.2101" stop-color="#c7000b"/><stop offset="0.2185" stop-color="#b6000b"/><stop offset="0.2269" stop-color="#ad000b"/><stop offset="0.2353" stop-color="#c7000b"/><stop offset="0.2437" stop-color="#b2000b"/><stop offset="0.2521" stop-color="#c1000b"/><stop offset="0.2605" stop-color="#dd000b"/><stop offset="0.2689" stop-color="#b3000b"/><stop offset="0.2773" stop-color="#d1000b"/><stop offset="0.2857" stop-color="#da000b"/><stop offset="0.2941" stop-color="#c0000b"/><stop offset="0.3025" stop-color="#c8000b"/><stop offset="0.3109" stop-color="#bd000b"/><stop offset="0.3193" stop-color="#c6000b"/><stop offset="0.3277" stop-color="#b1000b"/><stop offset="0.3361" stop-color="#e2000b"/><stop offset="0.3445" stop-color="#eb000b"/><stop offset="0.3529" stop-color="#dc000b"/><stop offset="0.3613" stop-color="#fc000b"/><stop offset="0.3697" stop-color="#eb000b"/><stop offset="0.3782" stop-color="#fa000b"/><stop offset="0.3866" stop-color="#f8000b"/><stop offset="0.3950" stop-color="#e8000b"/><stop offset="0.4034" stop-color="#ff0c0b"/><stop offset="0.4118" stop-color="#ff480b"/><stop offset="0.4202" stop-color="#ff300b"/><stop offset="0.4286" stop-color="#ff130b"/><stop offset="0.4370" stop-color="#ff2f0b"/><stop offset="0.4454" stop-color="#ff230b"/><stop offset="0.4538" stop-color="#ff0b0b"/><stop offset="0.4622" stop-color="#f9000b"/><stop offset="0.4706" stop-color="#ff060b"/><stop offset="0.4790" stop-color="#ff000b"/><stop offset="0.4874" stop-color="#dd000b"/><stop offset="0.4958" stop-color="#f0000b"/><stop offset="0.5042" stop-color="#ff040b"/><stop offset="0.5126" stop-color="#d3000b"/><stop offset="0.5210" stop-color="#97000b"/><stop offset="0.5294" stop-color="#90000b"/><stop offset="0.5378" stop-color="#d0000b"/><stop offset="0.5462" stop-color="#de000b"/><stop offset="0.5546" stop-color="#be000b"/><stop offset="0.5630" stop-color="#ae000b"/><stop offset="0.5714" stop-color="#c4000b"/><stop offset="0.5798" stop-color="#b4000b"/><stop offset="0.5882" stop-color="#c7000b"/><stop offset="0.5966" stop-color="#cd000b"/><stop offset="0.6050" stop-color="#c9000b"/><stop offset="0.6134" stop-color="#bc000b"/><stop offset="0.6218" stop-color="#b2000b"/><stop offset="0.6303" stop-color="#b5000b"/><stop offset="0.6387" stop-color="#b4000b"/><stop offset="0.6471" stop-color="#a5000b"/><stop offset="0.6555" stop-color="#95000b"/><stop offset="0.6639" stop-color="#9d000b"/><stop offset="0.6723" stop-color="#ac000b"/><stop offset="0.6807" stop-color="#b9000b"/><stop offset="0.6891" stop-color="#ba000b"/><stop offset="0.6975" stop-color="#bf000b"/><stop offset="0.7059" stop-color="#b4000b"/><stop offset="0.7143" stop-color="#af000b"/><stop offset="0.7227" stop-color="#9d000b"/><stop offset="0.7311" stop-color="#9d000b"/><stop offset="0.7395" stop-color="#9f000b"/><stop offset="0.7479" stop-color="#9d000b"/><stop offset="0.7563" stop-color="#a1000b"/><stop offset="0.7647" stop-color="#a5000b"/><stop offset="0.7731" stop-color="#a6000b"/><stop offset="0.7815" stop-color="#a5000b"/><stop offset="0.7899" stop-color="#a0000b"/><stop offset="0.7983" stop-color="#b0000b"/><stop offset="0.8067" stop-color="#ad000b"/><stop offset="0.8151" stop-color="#ab000b"/><stop offset="0.8235" stop-color="#9a000b"/><stop offset="0.8319" stop-color="#a5000b"/><stop offset="0.8403" stop-color="#ae000b"/><stop offset="0.8487" stop-color="#b1000b"/><stop offset="0.8571" stop-color="#b2000b"/><stop offset="0.8655" stop-color="#be000b"/><stop offset="0.8739" stop-color="#cb000b"/><stop offset="0.8824" stop-color="#db000b"/><stop offset="0.8908" stop-color="#d1000b"/><stop offset="0.8992" stop-color="#b7000b"/><stop offset="0.9076" stop-color="#bf000b"/><stop offset="0.9160" stop-color="#e6000b"/><stop offset="0.9244" stop-color="#eb000b"/><stop offset="0.9328" stop-color="#ec000b"/><stop offset="0.9412" stop-color="#f6000b"/><stop offset="0.9496" stop-color="#ff3d0b"/><stop offset="0.9580" stop-color="#ff720b"/><stop offset="0.9664" stop-color="#ff8d0b"/><stop offset="0.9748" stop-color="#ff910b"/><stop offset="0.9832" stop-color="#ff9b0b"/><stop offset="0.9916" stop-color="#ff920b"/><stop offset="1.0000" stop-color="#ff690b"/></linearGradient>
<linearGradient id="gf_8" x1="0" x2="1" y1="0" y2="0"><stop offset="0.0000" stop-color="#d1000b"/><stop offset="0.0084" stop-color="#c7000b"/><stop offset="0.0168" stop-color="#df000b"/><stop offset="0.0252" stop-color="#cc000b"/><stop offset="0.0336" stop-color="#a5000b"/><stop offset="0.0420" stop-color="#d0000b"/><stop offset="0.0504" stop-color="#ff040b"/><stop offset="0.0588" stop-color="#d6000b"/><stop offset="0.0672" stop-color="#a7000b"/><stop offset="0.0756" stop-color="#d4000b"/><stop offset="0.0840" stop-color="#b0000b"/><stop offset="0.0924" stop-color="#ad000b"/><stop offset="0.1008" stop-color="#c7000b"/><stop offset="0.1092" stop-color="#b6000b"/><stop offset="0.1176" stop-color="#ba000b"/><stop offset="0.1261" stop-color="#9d000b"/><stop offset="0.1345" stop-color="#a1000b"/><stop offset="0.1429" stop-color="#cd000b"/><stop offset="0.1513" stop-color="#cb000b"/><stop offset="0.1597" stop-color="#c2000b"/><stop offset="0.1681" stop-color="#d0000b"/><stop offset="0.1765" stop-color="#c2000b"/><stop offset="0.1849" stop-color="#ee000b"/><stop offset="0.1933" stop-color="#e8000b"/><stop offset="0.2017" stop-color="#d2000b"/><stop offset="0.2101" stop-color="#c3000b"/><stop offset="0.2185" stop-color="#b3000b"/><stop offset="0.2269" stop-color="#a4000b"/><stop offset="0.2353" stop-color="#be000b"/><stop offset="0.2437" stop-color="#b4000b"/><stop offset="0.2521" stop-color="#cd000b"/><stop offset="0.2605" stop-color="#df000b"/><stop offset="0.2689" stop-color="#b8000b"/><stop offset="0.2773" stop-color="#d1000b"/><stop offset="0.2857" stop-color="#e0000b"/><stop offset="0.2941" stop-color="#c2000b"/><stop offset="0.3025" stop-color="#c3000b"/><stop offset="0.3109" stop-color="#b6000b"/><stop offset="0.3193" stop-color="#bd000b"/><stop offset="0.3277" stop-color="#b3000b"/><stop offset="0.3361" stop-color="#e2000b"/><stop offset="0.3445" stop-color="#f5000b"/><stop offset="0.3529" stop-color="#da000b"/><stop offset="0.3613" stop-color="#e4000b"/><stop offset="0.3697" stop-color="#e2000b"/><stop offset="0.3782" stop-color="#fe000b"/><stop offset="0.3866" stop-color="#fe000b"/><stop offset="0.3950" stop-color="#ee000b"/><stop offset="0.4034" stop-color="#ff110b"/><stop offset="0.4118" stop-color="#ff4c0b"/><stop offset="0.4202" stop-color="#ff3d0b"/><stop offset="0.4286" stop-color="#ff130b"/><stop offset="0.4370" stop-color="#ff150b"/><stop offset="0.4454" stop-color="#ff0a0b"/><stop offset="0.4538" stop-color="#eb000b"/><stop offset="0.4622" stop-color="#e2000b"/><stop offset="0.4706" stop-color="#f5000b"/><stop offset="0.4790" stop-color="#f8000b"/><stop offset="0.4874" stop-color="#cd000b"/><stop offset="0.4958" stop-color="#d1000b"/><stop offset="0.5042" stop-color="#ff010b"/><stop offset="0.5126" stop-color="#cc000b"/><stop offset="0.5210" stop-color="#8b000b"/><stop offset="0.5294" stop-color="#88000b"/><stop offset="0.5378" stop-color="#ca000b"/><stop offset="0.5462" stop-color="#d0000b"/><stop offset="0.5546" stop-color="#b2000b"/><stop offset="0.5630" stop-color="#b1000b"/><stop offset="0.5714" stop-color="#b9000b"/><stop offset="0.5798" stop-color="#ba000b"/><stop offset="0.5882" stop-color="#d3000b"/><stop offset="0.5966" stop-color="#ce000b"/><stop offset="0.6050" stop-color="#c4000b"/><stop offset="0.6134" stop-color="#ba000b"/><stop offset="0.6218" stop-color="#b9000b"/><stop offset="0.6303" stop-color="#b3000b"/><stop offset="0.6387" stop-color="#a9000b"/><stop offset="0.6471" stop-color="#97000b"/><stop offset="0.6555" stop-color="#89000b"/><stop offset="0.6639" stop-color="#9c000b"/><stop offset="0.6723" stop-color="#af000b"/><stop offset="0.6807" stop-color="#b3000b"/><stop offset="0.6891" stop-color="#b3000b"/><stop offset="0.6975" stop-color="#b7000b"/><stop offset="0.7059" stop-color="#a9000b"/><stop offset="0.7143" stop-color="#a2000b"/><stop offset="0.7227" stop-color="#91000b"/><stop offset="0.7311" stop-color="#93000b"/><stop offset="0.7395" stop-color="#94000b"/><stop offset="0.7479" stop-color="#8e000b"/><stop offset="0.7563" stop-color="#99000b"/><stop offset="0.7647" stop-color="#a1000b"/><stop offset="0.7731" stop-color="#a3000b"/><stop offset="0.7815" stop-color="#a1000b"/><stop offset="0.7899" stop-color="#9c000b"/><stop offset="0.7983" stop-color="#b3000b"/><stop offset="0.8067" stop-color="#b3000b"/><stop offset="0.8151" stop-color="#a6000b"/><stop offset="0.8235" stop-color="#93000b"/><stop offset="0.8319" stop-color="#99000b"/><stop offset="0.8403" stop-color="#a1000b"/><stop offset="0.8487" stop-color="#a8000b"/><stop offset="0.8571" stop-color="#a7000b"/><stop offset="0.8655" stop-color="#bb000b"/><stop offset="0.8739" stop-color="#c9000b"/><stop offset="0.8824" stop-color="#dd000b"/><stop offset="0.8908" stop-color="#d1000b"/><stop offset="0.8992" stop-color="#b5000b"/><stop offset="0.9076" stop-color="#be000b"/><stop offset="0.9160" stop-color="#e4000b"/><stop offset="0.9244" stop-color="#ed000b"/><stop offset="0.9328" stop-color="#ed000b"/><stop offset="0.9412" stop-color="#f9000b"/><stop offset="0.9496" stop-color="#ff400b"/><stop offset="0.9580" stop-color="#ff760b"/><stop offset="0.9664" stop-color="#ff8d0b"/><stop offset="0.9748" stop-color="#ff8f0b"/><stop offset="0.9832" stop-color="#ff970b"/><stop offset="0.9916" stop-color="#ff8f0b"/><stop offset="1.0000" stop-color="#ff640b"/></linearGradient>
<linearGradient id="gf_9" x1="0" x2="1" y1="0" y2="0"><stop offset="0.0000" stop-color="#d6000b"/><stop offset="0.0084" stop-color="#cd000b"/><stop offset="0.0168" stop-color="#e4000b"/><stop offset="0.0252" stop-color="#e0000b"/><stop offset="0.0336" stop-color="#b9000b"/><stop offset="0.0420" stop-color="#d7000b"/><stop offset="0.0504" stop-color="#f0000b"/><stop offset="0.0588" stop-color="#cb000b"/><stop offset="0.0672" stop-color="#b2000b"/><stop offset="0.0756" stop-color="#ec000b"/><stop offset="0.0840" stop-color="#c0000b"/><stop offset="0.0924" stop-color="#b5000b"/><stop offset="0.1008" stop-color="#c6000b"/><stop offset="0.1092" stop-color="#bd000b"/><stop offset="0.1176" stop-color="#c9000b"/><stop offset="0.1261" stop-color="#ab000b"/><stop offset="0.1345" stop-color="#a7000b"/><stop offset="0.1429" stop-color="#d0000b"/><stop offset="0.1513" stop-color="#cf000b"/><stop offset="0.1597" stop-color="#c6000b"/><stop offset="0.1681" stop-color="#d0000b"/><stop offset="0.1765" stop-color="#ce000b"/><stop offset="0.1849" stop-color="#ec000b"/><stop offset="0.1933" stop-color="#e6000b"/><stop offset="0.2017" stop-color="#d4000b"/><stop offset="0.2101" stop-color="#c8000b"/><stop offset="0.2185" stop-color="#af000b"/><stop offset="0.2269" stop-color="#9e000b"/><stop offset="0.2353" stop-color="#bc000b"/><stop offset="0.2437" stop-color="#b3000b"/><stop offset="0.2521" stop-color="#c9000b"/><stop offset="0.2605" stop-color="#e4000b"/><stop offset="0.2689" stop-color="#cd000b"/><stop offset="0.2773" stop-color="#e7000b"/><stop offset="0.2857" stop-color="#e0000b"/><stop offset="0.2941" stop-color="#c0000b"/><stop offset="0.3025" stop-color="#c6000b"/><stop offset="0.3109" stop-color="#c4000b"/><stop offset="0.3193" stop-color="#c4000b"/><stop offset="0.3277" stop-color="#b4000b"/><stop offset="0.3361" stop-color="#e4000b"/><stop offset="0.3445" stop-color="#e9000b"/><stop offset="0.3529" stop-color="#d0000b"/><stop offset="0.3613" stop-color="#ea000b"/><stop offset="0.3697" stop-color="#dd000b"/><stop offset="0.3782" stop-color="#f8000b"/><stop offset="0.3866" stop-color="#f7000b"/><stop offset="0.3950" stop-color="#e5000b"/><stop offset="0.4034" stop-color="#ff0e0b"/><stop offset="0.4118" stop-color="#ff3e0b"/><stop offset="0.4202" stop-color="#ff1e0b"/><stop offset="0.4286" stop-color="#f2000b"/><stop offset="0.4370" stop-color="#f5000b"/><stop offset="0.4454" stop-color="#f5000b"/><stop offset="0.4538" stop-color="#f0000b"/><stop offset="0.4622" stop-color="#df000b"/><stop offset="0.4706" stop-color="#df000b"/><stop offset="0.4790" stop-color="#e9000b"/><stop offset="0.4874" stop-color="#cb000b"/><stop offset="0.4958" stop-color="#d1000b"/><stop offset="0.5042" stop-color="#fb000b"/><stop offset="0.5126" stop-color="#cd000b"/><stop offset="0.5210" stop-color="#96000b"/><stop offset="0.5294" stop-color="#96000b"/><stop offset="0.5378" stop-color="#cf000b"/><stop offset="0.5462" stop-color="#c9000b"/><stop offset="0.5546" stop-color="#a6000b"/><stop offset="0.5630" stop-color="#9a000b"/><stop offset="0.5714" stop-color="#ba000b"/><stop offset="0.5798" stop-color="#c3000b"/><stop offset="0.5882" stop-color="#d2000b"/><stop offset="0.5966" stop-color="#d0000b"/><stop offset="0.6050" stop-color="#b9000b"/><stop offset="0.6134" stop-color="#b4000b"/><stop offset="0.6218" stop-color="#b4000b"/><stop offset="0.6303" stop-color="#ab000b"/><stop offset="0.6387" stop-color="#a1000b"/><stop offset="0.6471" stop-color="#94000b"/><stop offset="0.6555" stop-color="#88000b"/><stop offset="0.6639" stop-color="#9c000b"/><stop offset="0.6723" stop-color="#ab000b"/><stop offset="0.6807" stop-color="#aa000b"/><stop offset="0.6891" stop-color="#ae000b"/><stop offset="0.6975" stop-color="#ad000b"/><stop offset="0.7059" stop-color="#a1000b"/><stop offset="0.7143" stop-color="#9a000b"/><stop offset="0.7227" stop-color="#8f000b"/><stop offset="0.7311" stop-color="#92000b"/><stop offset="0.7395" stop-color="#8f000b"/><stop offset="0.7479" stop-color="#89000b"/><stop offset="0.7563" stop-color="#98000b"/><stop offset="0.7647" stop-color="#a4000b"/><stop offset="0.7731" stop-color="#a3000b"/><stop offset="0.7815" stop-color="#93000b"/><stop offset="0.7899" stop-color="#8e000b"/><stop offset="0.7983" stop-color="#a1000b"/><stop offset="0.8067" stop-color="#a3000b"/><stop offset="0.8151" stop-color="#9b000b"/><stop offset="0.8235" stop-color="#89000b"/><stop offset="0.8319" stop-color="#96000b"/><stop offset="0.8403" stop-color="#9e000b"/><stop offset="0.8487" stop-color="#a2000b"/><stop offset="0.8571" stop-color="#a9000b"/><stop offset="0.8655" stop-color="#b9000b"/><stop offset="0.8739" stop-color="#c4000b"/><stop offset="0.8824" stop-color="#d2000b"/><stop offset="0.8908" stop-color="#ce000b"/><stop offset="0.8992" stop-color="#b6000b"/><stop offset="0.9076" stop-color="#be000b"/><stop offset="0.9160" stop-color="#e3000b"/><stop offset="0.9244" stop-color="#e7000b"/><stop offset="0.9328" stop-color="#e1000b"/><stop offset="0.9412" stop-color="#e2000b"/><stop offset="0.9496" stop-color="#ff240b"/><stop offset="0.9580" stop-color="#ff4b0b"/><stop offset="0.9664" stop-color="#ff5d0b"/><stop offset="0.9748" stop-color="#ff560b"/><stop offset="0.9832" stop-color="#ff570b"/><stop offset="0.9916" stop-color="#ff560b"/><stop offset="1.0000" stop-color="#ff350b"/></linearGradient>
<linearGradient id="gf_10" x1="0" x2="1" y1="0" y2="0"><stop offset="0.0000" stop-color="#dc000b"/><stop offset="0.0084" stop-color="#c7000b"/><stop offset="0.0168" stop-color="#df000b"/><stop offset="0.0252" stop-color="#d9000b"/><stop offset="0.0336" stop-color="#b9000b"/><stop offset="0.0420" stop-color="#ce000b"/><stop offset="0.0504" stop-color="#f8000b"/><stop offset="0.0588" stop-color="#d1000b"/><stop offset="0.0672" stop-color="#ae000b"/><stop offset="0.0756" stop-color="#e1000b"/><stop offset="0.0840" stop-color="#b9000b"/><stop offset="0.0924" stop-color="#a6000b"/><stop offset="0.1008" stop-color="#bc000b"/><stop offset="0.1092" stop-color="#bb000b"/><stop offset="0.1176" stop-color="#bf000b"/><stop offset="0.1261" stop-color="#a6000b"/><stop offset="0.1345" stop-color="#a4000b"/><stop offset="0.1429" stop-color="#cb000b"/><stop offset="0.1513" stop-color="#d0000b"/><stop offset="0.1597" stop-color="#d4000b"/><stop offset="0.1681" stop-color="#d3000b"/><stop offset="0.1765" stop-color="#d5000b"/><stop offset="0.1849" stop-color="#fa000b"/><stop offset="0.1933" stop-color="#f2000b"/><stop offset="0.2017" stop-color="#e3000b"/><stop offset="0.2101" stop-color="#d4000b"/><stop offset="0.2185" stop-color="#ad000b"/><stop offset="0.2269" stop-color="#9d000b"/><stop offset="0.2353" stop-color="#c2000b"/><stop offset="0.2437" stop-color="#b7000b"/><stop offset="0.2521" stop-color="#c2000b"/><stop offset="0.2605" stop-color="#d3000b"/><stop offset="0.2689" stop-color="#ba000b"/><stop offset="0.2773" stop-color="#ce000b"/><stop offset="0.2857" stop-color="#cf000b"/><stop offset="0.2941" stop-color="#bb000b"/><stop offset="0.3025" stop-color="#d1000b"/><stop offset="0.3109" stop-color="#c5000b"/><stop offset="0.3193" stop-color="#bc000b"/><stop offset="0.3277" stop-color="#b4000b"/><stop offset="0.3361" stop-color="#ea000b"/><stop offset="0.3445" stop-color="#f4000b"/><stop offset="0.3529" stop-color="#d9000b"/><stop offset="0.3613" stop-color="#e8000b"/><stop offset="0.3697" stop-color="#d7000b"/><stop offset="0.3782" stop-color="#eb000b"/><stop offset="0.3866" stop-color="#e9000b"/><stop offset="0.3950" stop-color="#d5000b"/><stop offset="0.4034" stop-color="#f1000b"/><stop offset="0.4118" stop-color="#ff180b"/><stop offset="0.4202" stop-color="#ff040b"/><stop offset="0.4286" stop-color="#d8000b"/><stop offset="0.4370" stop-color="#d6000b"/><stop offset="0.4454" stop-color="#e8000b"/><stop offset="0.4538" stop-color="#e0000b"/><stop offset="0.4622" stop-color="#d4000b"/><stop offset="0.4706" stop-color="#e2000b"/><stop offset="0.4790" stop-color="#f2000b"/><stop offset="0.4874" stop-color="#cf000b"/><stop offset="0.4958" stop-color="#d6000b"/><stop offset="0.5042" stop-color="#fb000b"/><stop offset="0.5126" stop-color="#d5000b"/><stop offset="0.5210" stop-color="#a4000b"/><stop offset="0.5294" stop-color="#9d000b"/><stop offset="0.5378" stop-color="#d3000b"/><stop offset="0.5462" stop-color="#c1000b"/><stop offset="0.5546" stop-color="#a5000b"/><stop offset="0.5630" stop-color="#a3000b"/><stop offset="0.5714" stop-color="#b8000b"/><stop offset="0.5798" stop-color="#b4000b"/><stop offset="0.5882" stop-color="#c3000b"/><stop offset="0.5966" stop-color="#b8000b"/><stop offset="0.6050" stop-color="#a8000b"/><stop offset="0.6134" stop-color="#aa000b"/><stop offset="0.6218" stop-color="#ad000b"/><stop offset="0.6303" stop-color="#a9000b"/><stop offset="0.6387" stop-color="#a1000b"/><stop offset="0.6471" stop-color="#92000b"/><stop offset="0.6555" stop-color="#82000b"/><stop offset="0.6639" stop-color="#9b000b"/><stop offset="0.6723" stop-color="#a8000b"/><stop offset="0.6807" stop-color="#a9000b"/><stop offset="0.6891" stop-color="#ae000b"/><stop offset="0.6975" stop-color="#b4000b"/><stop offset="0.7059" stop-color="#a5000b"/><stop offset="0.7143" stop-color="#93000b"/><stop offset="0.7227" stop-color="#87000b"/><stop offset="0.7311" stop-color="#8e000b"/><stop offset="0.7395" stop-color="#8c000b"/><stop offset="0.7479" stop-color="#8c000b"/><stop offset="0.7563" stop-color="#9d000b"/><stop offset="0.7647" stop-color="#a0000b"/><stop offset="0.7731" stop-color="#9c000b"/><stop offset="0.7815" stop-color="#94000b"/><stop offset="0.7899" stop-color="#86000b"/><stop offset="0.7983" stop-color="#98000b"/><stop offset="0.8067" stop-color="#9c000b"/><stop offset="0.8151" stop-color="#9b000b"/><stop offset="0.8235" stop-color="#92000b"/><stop offset="0.8319" stop-color="#9f000b"/><stop offset="0.8403" stop-color="#9d000b"/><stop offset="0.8487" stop-color="#a1000b"/><stop offset="0.8571" stop-color="#a9000b"/><stop offset="0.8655" stop-color="#af000b"/><stop offset="0.8739" stop-color="#bb000b"/><stop offset="0.8824" stop-color="#c4000b"/><stop offset="0.8908" stop-color="#ca000b"/><stop offset="0.8992" stop-color="#b3000b"/><stop offset="0.9076" stop-color="#ba000b"/><stop offset="0.9160" stop-color="#dd000b"/><stop offset="0.9244" stop-color="#d9000b"/><stop offset="0.9328" stop-color="#d4000b"/><stop offset="0.9412" stop-color="#d0000b"/><stop offset="0.9496" stop-color="#ff060b"/><stop offset="0.9580" stop-color="#ff280b"/><stop offset="0.9664" stop-color="#ff300b"/><stop offset="0.9748" stop-color="#ff1d0b"/><stop offset="0.9832" stop-color="#ff140b"/><stop offset="0.9916" stop-color="#ff110b"/><stop offset="1.0000" stop-color="#f4000b"/></linearGradient>
<linearGradient id="gf_11" x1="0" x2="1" y1="0" y2="0"><stop offset="0.0000" stop-color="#db000b"/><stop offset="0.0084" stop-color="#d4000b"/><stop offset="0.0168" stop-color="#ef000b"/><stop offset="0.0252" stop-color="#e6000b"/><stop offset="0.0336" stop-color="#c6000b"/><stop offset="0.0420" stop-color="#d9000b"/><stop offset="0.0504" stop-color="#f5000b"/><stop offset="0.0588" stop-color="#cf000b"/><stop offset="0.0672" stop-color="#a5000b"/><stop offset="0.0756" stop-color="#cd000b"/><stop offset="0.0840" stop-color="#bb000b"/><stop offset="0.0924" stop-color="#b6000b"/><stop offset="0.1008" stop-color="#c9000b"/><stop offset="0.1092" stop-color="#ba000b"/><stop offset="0.1176" stop-color="#c2000b"/><stop offset="0.1261" stop-color="#ab000b"/><stop offset="0.1345" stop-color="#9c000b"/><stop offset="0.1429" stop-color="#cb000b"/><stop offset="0.1513" stop-color="#e4000b"/><stop offset="0.1597" stop-color="#de000b"/><stop offset="0.1681" stop-color="#d5000b"/><stop offset="0.1765" stop-color="#dc000b"/><stop offset="0.1849" stop-color="#f9000b"/><stop offset="0.1933" stop-color="#e7000b"/><stop offset="0.2017" stop-color="#dc000b"/><stop offset="0.2101" stop-color="#d2000b"/><stop offset="0.2185" stop-color="#ad000b"/><stop offset="0.2269" stop-color="#a1000b"/><stop offset="0.2353" stop-color="#c1000b"/><stop offset="0.2437" stop-color="#a6000b"/><stop offset="0.2521" stop-color="#b6000b"/><stop offset="0.2605" stop-color="#d1000b"/><stop offset="0.2689" stop-color="#c5000b"/><stop offset="0.2773" stop-color="#dc000b"/><stop offset="0.2857" stop-color="#d9000b"/><stop offset="0.2941" stop-color="#c1000b"/><stop offset="0.3025" stop-color="#d0000b"/><stop offset="0.3109" stop-color="#b3000b"/><stop offset="0.3193" stop-color="#af000b"/><stop offset="0.3277" stop-color="#b3000b"/><stop offset="0.3361" stop-color="#e3000b"/><stop offset="0.3445" stop-color="#e3000b"/><stop offset="0.3529" stop-color="#d6000b"/><stop offset="0.3613" stop-color="#f1000b"/><stop offset="0.3697" stop-color="#da000b"/><stop offset="0.3782" stop-color="#e1000b"/><stop offset="0.3866" stop-color="#d2000b"/><stop offset="0.3950" stop-color="#bc000b"/><stop offset="0.4034" stop-color="#ce000b"/><stop offset="0.4118" stop-color="#f5000b"/><stop offset="0.4202" stop-color="#e7000b"/><stop offset="0.4286" stop-color="#bc000b"/><stop offset="0.4370" stop-color="#bd000b"/><stop offset="0.4454" stop-color="#cc000b"/><stop offset="0.4538" stop-color="#ca000b"/><stop offset="0.4622" stop-color="#c5000b"/><stop offset="0.4706" stop-color="#d7000b"/><stop offset="0.4790" stop-color="#e9000b"/><stop offset="0.4874" stop-color="#d0000b"/><stop offset="0.4958" stop-color="#d6000b"/><stop offset="0.5042" stop-color="#f8000b"/><stop offset="0.5126" stop-color="#cc000b"/><stop offset="0.5210" stop-color="#a1000b"/><stop offset="0.5294" stop-color="#a2000b"/><stop offset="0.5378" stop-color="#d3000b"/><stop offset="0.5462" stop-color="#c6000b"/><stop offset="0.5546" stop-color="#b2000b"/><stop offset="0.5630" stop-color="#ad000b"/><stop offset="0.5714" stop-color="#b7000b"/><stop offset="0.5798" stop-color="#a9000b"/><stop offset="0.5882" stop-color="#b9000b"/><stop offset="0.5966" stop-color="#b1000b"/><stop offset="0.6050" stop-color="#a6000b"/><stop offset="0.6134" stop-color="#a5000b"/><stop offset="0.6218" stop-color="#ab000b"/><stop offset="0.6303" stop-color="#a6000b"/><stop offset="0.6387" stop-color="#a3000b"/><stop offset="0.6471" stop-color="#95000b"/><stop offset="0.6555" stop-color="#88000b"/><stop offset="0.6639" stop-color="#9c000b"/><stop offset="0.6723" stop-color="#a6000b"/><stop offset="0.6807" stop-color="#a5000b"/><stop offset="0.6891" stop-color="#ad000b"/><stop offset="0.6975" stop-color="#bb000b"/><stop offset="0.7059" stop-color="#ab000b"/><stop offset="0.7143" stop-color="#9c000b"/><stop offset="0.7227" stop-color="#96000b"/><stop offset="0.7311" stop-color="#9c000b"/><stop offset="0.7395" stop-color="#8c000b"/><stop offset="0.7479" stop-color="#87000b"/><stop offset="0.7563" stop-color="#a0000b"/><stop offset="0.7647" stop-color="#a1000b"/><stop offset="0.7731" stop-color="#9a000b"/><stop offset="0.7815" stop-color="#99000b"/><stop offset="0.7899" stop-color="#91000b"/><stop offset="0.7983" stop-color="#a3000b"/><stop offset="0.8067" stop-color="#a4000b"/><stop offset="0.8151" stop-color="#9c000b"/><stop offset="0.8235" stop-color="#8f000b"/><stop offset="0.8319" stop-color="#9f000b"/><stop offset="0.8403" stop-color="#a2000b"/><stop offset="0.8487" stop-color="#ae000b"/><stop offset="0.8571" stop-color="#af000b"/><stop offset="0.8655" stop-color="#b3000b"/><stop offset="0.8739" stop-color="#bc000b"/><stop offset="0.8824" stop-color="#c8000b"/><stop offset="0.8908" stop-color="#cf000b"/><stop offset="0.8992" stop-color="#bc000b"/><stop offset="0.9076" stop-color="#b4000b"/><stop offset="0.9160" stop-color="#cb000b"/><stop offset="0.9244" stop-color="#ca000b"/><stop offset="0.9328" stop-color="#c4000b"/><stop offset="0.9412" stop-color="#bb000b"/><stop offset="0.9496" stop-color="#e9000b"/><stop offset="0.9580" stop-color="#ff050b"/><stop offset="0.9664" stop-color="#ff040b"/><stop offset="0.9748" stop-color="#ee000b"/><stop offset="0.9832" stop-color="#e9000b"/><stop offset="0.9916" stop-color="#e5000b"/><stop offset="1.0000" stop-color="#c8000b"/></linearGradient>
<linearGradient id="gf_12" x1="0" x2="1" y1="0" y2="0"><stop offset="0.0000" stop-color="#dc000b"/><stop offset="0.0084" stop-color="#d5000b"/><stop offset="0.0168" stop-color="#ef000b"/><stop offset="0.0252" stop-color="#e7000b"/><stop offset="0.0336" stop-color="#c6000b"/><stop offset="0.0420" stop-color="#dd000b"/><stop offset="0.0504" stop-color="#ee000b"/><stop offset="0.0588" stop-color="#c7000b"/><stop offset="0.0672" stop-color="#a5000b"/><stop offset="0.0756" stop-color="#d1000b"/><stop offset="0.0840" stop-color="#bb000b"/><stop offset="0.0924" stop-color="#b4000b"/><stop offset="0.1008" stop-color="#c2000b"/><stop offset="0.1092" stop-color="#bf000b"/><stop offset="0.1176" stop-color="#c3000b"/><stop offset="0.1261" stop-color="#9a000b"/><stop offset="0.1345" stop-color="#8d000b"/><stop offset="0.1429" stop-color="#bb000b"/><stop offset="0.1513" stop-color="#d5000b"/><stop offset="0.1597" stop-color="#de000b"/><stop offset="0.1681" stop-color="#d2000b"/><stop offset="0.1765" stop-color="#d0000b"/><stop offset="0.1849" stop-color="#eb000b"/><stop offset="0.1933" stop-color="#d6000b"/><stop offset="0.2017" stop-color="#cc000b"/><stop offset="0.2101" stop-color="#c7000b"/><stop offset="0.2185" stop-color="#ad000b"/><stop offset="0.2269" stop-color="#a6000b"/><stop offset="0.2353" stop-color="#c1000b"/><stop offset="0.2437" stop-color="#b9000b"/><stop offset="0.2521" stop-color="#c5000b"/><stop offset="0.2605" stop-color="#d1000b"/><stop offset="0.2689" stop-color="#c9000b"/><stop offset="0.2773" stop-color="#d8000b"/><stop offset="0.2857" stop-color="#d3000b"/><stop offset="0.2941" stop-color="#bd000b"/><stop offset="0.3025" stop-color="#d3000b"/><stop offset="0.3109" stop-color="#ba000b"/><stop offset="0.3193" stop-color="#b2000b"/><stop offset="0.3277" stop-color="#b3000b"/><stop offset="0.3361" stop-color="#e7000b"/><stop offset="0.3445" stop-color="#e8000b"/><stop offset="0.3529" stop-color="#cb000b"/><stop offset="0.3613" stop-color="#e2000b"/><stop offset="0.3697" stop-color="#da000b"/><stop offset="0.3782" stop-color="#d8000b"/><stop offset="0.3866" stop-color="#c7000b"/><stop offset="0.3950" stop-color="#bc000b"/><stop offset="0.4034" stop-color="#d8000b"/><stop offset="0.4118" stop-color="#fb000b"/><stop offset="0.4202" stop-color="#ef000b"/><stop offset="0.4286" stop-color="#bd000b"/><stop offset="0.4370" stop-color="#ba000b"/><stop offset="0.4454" stop-color="#c2000b"/><stop offset="0.4538" stop-color="#c6000b"/><stop offset="0.4622" stop-color="#ca000b"/><stop offset="0.4706" stop-color="#d1000b"/><stop offset="0.4790" stop-color="#e0000b"/><stop offset="0.4874" stop-color="#c8000b"/><stop offset="0.4958" stop-color="#ce000b"/><stop offset="0.5042" stop-color="#ed000b"/><stop offset="0.5126" stop-color="#c3000b"/><stop offset="0.5210" stop-color="#9b000b"/><stop offset="0.5294" stop-color="#9e000b"/><stop offset="0.5378" stop-color="#d6000b"/><stop offset="0.5462" stop-color="#cc000b"/><stop offset="0.5546" stop-color="#ba000b"/><stop offset="0.5630" stop-color="#b0000b"/><stop offset="0.5714" stop-color="#bc000b"/><stop offset="0.5798" stop-color="#af000b"/><stop offset="0.5882" stop-color="#b8000b"/><stop offset="0.5966" stop-color="#b4000b"/><stop offset="0.6050" stop-color="#ac000b"/><stop offset="0.6134" stop-color="#ad000b"/><stop offset="0.6218" stop-color="#aa000b"/><stop offset="0.6303" stop-color="#a4000b"/><stop offset="0.6387" stop-color="#a6000b"/><stop offset="0.6471" stop-color="#95000b"/><stop offset="0.6555" stop-color="#89000b"/><stop offset="0.6639" stop-color="#a2000b"/><stop offset="0.6723" stop-color="#ab000b"/><stop offset="0.6807" stop-color="#a6000b"/><stop offset="0.6891" stop-color="#af000b"/><stop offset="0.6975" stop-color="#c0000b"/><stop offset="0.7059" stop-color="#b3000b"/><stop offset="0.7143" stop-color="#a0000b"/><stop offset="0.7227" stop-color="#92000b"/><stop offset="0.7311" stop-color="#94000b"/><stop offset="0.7395" stop-color="#8c000b"/><stop offset="0.7479" stop-color="#95000b"/><stop offset="0.7563" stop-color="#ad000b"/><stop offset="0.7647" stop-color="#ae000b"/><stop offset="0.7731" stop-color="#a4000b"/><stop offset="0.7815" stop-color="#a1000b"/><stop offset="0.7899" stop-color="#9a000b"/><stop offset="0.7983" stop-color="#ad000b"/><stop offset="0.8067" stop-color="#b3000b"/><stop offset="0.8151" stop-color="#aa000b"/><stop offset="0.8235" stop-color="#a1000b"/><stop offset="0.8319" stop-color="#b3000b"/><stop offset="0.8403" stop-color="#b3000b"/><stop offset="0.8487" stop-color="#b2000b"/><stop offset="0.8571" stop-color="#ac000b"/><stop offset="0.8655" stop-color="#b5000b"/><stop offset="0.8739" stop-color="#c1000b"/><stop offset="0.8824" stop-color="#cd000b"/><stop offset="0.8908" stop-color="#cb000b"/><stop offset="0.8992" stop-color="#b7000b"/><stop offset="0.9076" stop-color="#b8000b"/><stop offset="0.9160" stop-color="#cb000b"/><stop offset="0.9244" stop-color="#bc000b"/><stop offset="0.9328" stop-color="#bf000b"/><stop offset="0.9412" stop-color="#ba000b"/><stop offset="0.9496" stop-color="#de000b"/><stop offset="0.9580" stop-color="#f1000b"/><stop offset="0.9664" stop-color="#ea000b"/><stop offset="0.9748" stop-color="#ca000b"/><stop offset="0.9832" stop-color="#c6000b"/><stop offset="0.9916" stop-color="#cb000b"/><stop offset="1.0000" stop-color="#ac000b"/></linearGradient>
<linearGradient id="gf_13" x1="0" x2="1" y1="0" y2="0"><stop offset="0.0000" stop-color="#d7000b"/><stop offset="0.0084" stop-color="#dd000b"/><stop offset="0.0168" stop-color="#ee000b"/><stop offset="0.0252" stop-color="#e2000b"/><stop offset="0.0336" stop-color="#bb000b"/><stop offset="0.0420" stop-color="#c9000b"/><stop offset="0.0504" stop-color="#f4000b"/><stop offset="0.0588" stop-color="#d2000b"/><stop offset="0.0672" stop-color="#aa000b"/><stop offset="0.0756" stop-color="#d6000b"/><stop offset="0.0840" stop-color="#cb000b"/><stop offset="0.0924" stop-color="#c5000b"/><stop offset="0.1008" stop-color="#ce000b"/><stop offset="0.1092" stop-color="#ce000b"/><stop offset="0.1176" stop-color="#ca000b"/><stop offset="0.1261" stop-color="#a9000b"/><stop offset="0.1345" stop-color="#a7000b"/><stop offset="0.1429" stop-color="#c8000b"/><stop offset="0.1513" stop-color="#d3000b"/><stop offset="0.1597" stop-color="#d6000b"/><stop offset="0.1681" stop-color="#d6000b"/><stop offset="0.1765" stop-color="#d4000b"/><stop offset="0.1849" stop-color="#f7000b"/><stop offset="0.1933" stop-color="#ef000b"/><stop offset="0.2017" stop-color="#e0000b"/><stop offset="0.2101" stop-color="#d5000b"/><stop offset="0.2185" stop-color="#be000b"/><stop offset="0.2269" stop-color="#b1000b"/><stop offset="0.2353" stop-color="#bf000b"/><stop offset="0.2437" stop-color="#b5000b"/><stop offset="0.2521" stop-color="#c1000b"/><stop offset="0.2605" stop-color="#d3000b"/><stop offset="0.2689" stop-color="#ca000b"/><stop offset="0.2773" stop-color="#d0000b"/><stop offset="0.2857" stop-color="#d2000b"/><stop offset="0.2941" stop-color="#bc000b"/><stop offset="0.3025" stop-color="#c6000b"/><stop offset="0.3109" stop-color="#ab000b"/><stop offset="0.3193" stop-color="#a5000b"/><stop offset="0.3277" stop-color="#ad000b"/><stop offset="0.3361" stop-color="#df000b"/><stop offset="0.3445" stop-color="#e7000b"/><stop offset="0.3529" stop-color="#d1000b"/><stop offset="0.3613" stop-color="#ef000b"/><stop offset="0.3697" stop-color="#da000b"/><stop offset="0.3782" stop-color="#da000b"/><stop offset="0.3866" stop-color="#ca000b"/><stop offset="0.3950" stop-color="#c5000b"/><stop offset="0.4034" stop-color="#e2000b"/><stop offset="0.4118" stop-color="#f8000b"/><stop offset="0.4202" stop-color="#e7000b"/><stop offset="0.4286" stop-color="#bd000b"/><stop offset="0.4370" stop-color="#c8000b"/><stop offset="0.4454" stop-color="#cf000b"/><stop offset="0.4538" stop-color="#c6000b"/><stop offset="0.4622" stop-color="#c6000b"/><stop offset="0.4706" stop-color="#d0000b"/><stop offset="0.4790" stop-color="#dc000b"/><stop offset="0.4874" stop-color="#c6000b"/><stop offset="0.4958" stop-color="#d3000b"/><stop offset="0.5042" stop-color="#f7000b"/><stop offset="0.5126" stop-color="#ca000b"/><stop offset="0.5210" stop-color="#a2000b"/><stop offset="0.5294" stop-color="#a7000b"/><stop offset="0.5378" stop-color="#e3000b"/><stop offset="0.5462" stop-color="#d1000b"/><stop offset="0.5546" stop-color="#b3000b"/><stop offset="0.5630" stop-color="#af000b"/><stop offset="0.5714" stop-color="#c8000b"/><stop offset="0.5798" stop-color="#b4000b"/><stop offset="0.5882" stop-color="#be000b"/><stop offset="0.5966" stop-color="#b7000b"/><stop offset="0.6050" stop-color="#b8000b"/><stop offset="0.6134" stop-color="#b8000b"/><stop offset="0.6218" stop-color="#b2000b"/><stop offset="0.6303" stop-color="#b2000b"/><stop offset="0.6387" stop-color="#ae000b"/><stop offset="0.6471" stop-color="#9b000b"/><stop offset="0.6555" stop-color="#90000b"/><stop offset="0.6639" stop-color="#a5000b"/><stop offset="0.6723" stop-color="#b0000b"/><stop offset="0.6807" stop-color="#ad000b"/><stop offset="0.6891" stop-color="#bc000b"/><stop offset="0.6975" stop-color="#c2000b"/><stop offset="0.7059" stop-color="#b2000b"/><stop offset="0.7143" stop-color="#b0000b"/><stop offset="0.7227" stop-color="#a6000b"/><stop offset="0.7311" stop-color="#a5000b"/><stop offset="0.7395" stop-color="#9b000b"/><stop offset="0.7479" stop-color="#98000b"/><stop offset="0.7563" stop-color="#ad000b"/><stop offset="0.7647" stop-color="#b6000b"/><stop offset="0.7731" stop-color="#af000b"/><stop offset="0.7815" stop-color="#a4000b"/><stop offset="0.7899" stop-color="#a2000b"/><stop offset="0.7983" stop-color="#b2000b"/><stop offset="0.8067" stop-color="#ad000b"/><stop offset="0.8151" stop-color="#a8000b"/><stop offset="0.8235" stop-color="#a2000b"/><stop offset="0.8319" stop-color="#b3000b"/><stop offset="0.8403" stop-color="#bb000b"/><stop offset="0.8487" stop-color="#b1000b"/><stop offset="0.8571" stop-color="#a3000b"/><stop offset="0.8655" stop-color="#b7000b"/><stop offset="0.8739" stop-color="#c3000b"/><stop offset="0.8824" stop-color="#d5000b"/><stop offset="0.8908" stop-color="#d5000b"/><stop offset="0.8992" stop-color="#bc000b"/><stop offset="0.9076" stop-color="#bd000b"/><stop offset="0.9160" stop-color="#d3000b"/><stop offset="0.9244" stop-color="#bf000b"/><stop offset="0.9328" stop-color="#b4000b"/><stop offset="0.9412" stop-color="#a7000b"/><stop offset="0.9496" stop-color="#cc000b"/><stop offset="0.9580" stop-color="#de000b"/><stop offset="0.9664" stop-color="#da000b"/><stop offset="0.9748" stop-color="#c3000b"/><stop offset="0.9832" stop-color="#c1000b"/><stop offset="0.9916" stop-color="#c3000b"/><stop offset="1.0000" stop-color="#ab000b"/></linearGradient>
<linearGradient id="gf_14" x1="0" x2="1" y1="0" y2="0"><stop offset="0.0000" stop-color="#de000b"/><stop offset="0.0084" stop-color="#e2000b"/><stop offset="0.0168" stop-color="#ff000b"/><stop offset="0.0252" stop-color="#e8000b"/><stop offset="0.0336" stop-color="#c1000b"/><stop offset="0.0420" stop-color="#d8000b"/><stop offset="0.0504" stop-color="#f1000b"/><stop offset="0.0588" stop-color="#d4000b"/><stop offset="0.0672" stop-color="#b2000b"/><stop offset="0.0756" stop-color="#d8000b"/><stop offset="0.0840" stop-color="#c7000b"/><stop offset="0.0924" stop-color="#ba000b"/><stop offset="0.1008" stop-color="#cc000b"/><stop offset="0.1092" stop-color="#e1000b"/><stop offset="0.1176" stop-color="#d5000b"/><stop offset="0.1261" stop-color="#a5000b"/><stop offset="0.1345" stop-color="#a2000b"/><stop offset="0.1429" stop-color="#cb000b"/><stop offset="0.1513" stop-color="#da000b"/><stop offset="0.1597" stop-color="#e1000b"/><stop offset="0.1681" stop-color="#e5000b"/><stop offset="0.1765" stop-color="#d1000b"/><stop offset="0.1849" stop-color="#f0000b"/><stop offset="0.1933" stop-color="#e9000b"/><stop offset="0.2017" stop-color="#e0000b"/><stop offset="0.2101" stop-color="#d8000b"/><stop offset="0.2185" stop-color="#c1000b"/><stop offset="0.2269" stop-color="#b3000b"/><stop offset="0.2353" stop-color="#cd000b"/><stop offset="0.2437" stop-color="#cb000b"/><stop offset="0.2521" stop-color="#ce000b"/><stop offset="0.2605" stop-color="#dd000b"/><stop offset="0.2689" stop-color="#cd000b"/><stop offset="0.2773" stop-color="#d9000b"/><stop offset="0.2857" stop-color="#d6000b"/><stop offset="0.2941" stop-color="#d1000b"/><stop offset="0.3025" stop-color="#cf000b"/><stop offset="0.3109" stop-color="#b2000b"/><stop offset="0.3193" stop-color="#bb000b"/><stop offset="0.3277" stop-color="#c5000b"/><stop offset="0.3361" stop-color="#f0000b"/><stop offset="0.3445" stop-color="#f5000b"/><stop offset="0.3529" stop-color="#c9000b"/><stop offset="0.3613" stop-color="#e7000b"/><stop offset="0.3697" stop-color="#e9000b"/><stop offset="0.3782" stop-color="#e6000b"/><stop offset="0.3866" stop-color="#d5000b"/><stop offset="0.3950" stop-color="#cf000b"/><stop offset="0.4034" stop-color="#e5000b"/><stop offset="0.4118" stop-color="#ef000b"/><stop offset="0.4202" stop-color="#eb000b"/><stop offset="0.4286" stop-color="#c5000b"/><stop offset="0.4370" stop-color="#c1000b"/><stop offset="0.4454" stop-color="#cd000b"/><stop offset="0.4538" stop-color="#cf000b"/><stop offset="0.4622" stop-color="#b6000b"/><stop offset="0.4706" stop-color="#cd000b"/><stop offset="0.4790" stop-color="#de000b"/><stop offset="0.4874" stop-color="#b2000b"/><stop offset="0.4958" stop-color="#c8000b"/><stop offset="0.5042" stop-color="#f4000b"/><stop offset="0.5126" stop-color="#cf000b"/><stop offset="0.5210" stop-color="#9f000b"/><stop offset="0.5294" stop-color="#9f000b"/><stop offset="0.5378" stop-color="#d6000b"/><stop offset="0.5462" stop-color="#c3000b"/><stop offset="0.5546" stop-color="#b4000b"/><stop offset="0.5630" stop-color="#bf000b"/><stop offset="0.5714" stop-color="#d5000b"/><stop offset="0.5798" stop-color="#b7000b"/><stop offset="0.5882" stop-color="#c0000b"/><stop offset="0.5966" stop-color="#c0000b"/><stop offset="0.6050" stop-color="#ba000b"/><stop offset="0.6134" stop-color="#b9000b"/><stop offset="0.6218" stop-color="#bf000b"/><stop offset="0.6303" stop-color="#c2000b"/><stop offset="0.6387" stop-color="#bc000b"/><stop offset="0.6471" stop-color="#ab000b"/><stop offset="0.6555" stop-color="#9c000b"/><stop offset="0.6639" stop-color="#ae000b"/><stop offset="0.6723" stop-color="#bd000b"/><stop offset="0.6807" stop-color="#c5000b"/><stop offset="0.6891" stop-color="#ca000b"/><stop offset="0.6975" stop-color="#c9000b"/><stop offset="0.7059" stop-color="#b8000b"/><stop offset="0.7143" stop-color="#b6000b"/><stop offset="0.7227" stop-color="#ae000b"/><stop offset="0.7311" stop-color="#ab000b"/><stop offset="0.7395" stop-color="#9e000b"/><stop offset="0.7479" stop-color="#a4000b"/><stop offset="0.7563" stop-color="#b8000b"/><stop offset="0.7647" stop-color="#b9000b"/><stop offset="0.7731" stop-color="#b6000b"/><stop offset="0.7815" stop-color="#b6000b"/><stop offset="0.7899" stop-color="#b3000b"/><stop offset="0.7983" stop-color="#c1000b"/><stop offset="0.8067" stop-color="#bb000b"/><stop offset="0.8151" stop-color="#b2000b"/><stop offset="0.8235" stop-color="#ab000b"/><stop offset="0.8319" stop-color="#be000b"/><stop offset="0.8403" stop-color="#c6000b"/><stop offset="0.8487" stop-color="#bc000b"/><stop offset="0.8571" stop-color="#ac000b"/><stop offset="0.8655" stop-color="#bd000b"/><stop offset="0.8739" stop-color="#c7000b"/><stop offset="0.8824" stop-color="#d4000b"/><stop offset="0.8908" stop-color="#d8000b"/><stop offset="0.8992" stop-color="#c2000b"/><stop offset="0.9076" stop-color="#c0000b"/><stop offset="0.9160" stop-color="#cb000b"/><stop offset="0.9244" stop-color="#ba000b"/><stop offset="0.9328" stop-color="#b0000b"/><stop offset="0.9412" stop-color="#a4000b"/><stop offset="0.9496" stop-color="#ce000b"/><stop offset="0.9580" stop-color="#de000b"/><stop offset="0.9664" stop-color="#d4000b"/><stop offset="0.9748" stop-color="#be000b"/><stop offset="0.9832" stop-color="#c3000b"/><stop offset="0.9916" stop-color="#ba000b"/><stop offset="1.0000" stop-color="#a5000b"/></linearGradient>
<linearGradient id="gf_15" x1="0" x2="1" y1="0" y2="0"><stop offset="0.0000" stop-color="#e4000b"/><stop offset="0.0084" stop-color="#dd000b"/><stop offset="0.0168" stop-color="#f6000b"/><stop offset="0.0252" stop-color="#e1000b"/><stop offset="0.0336" stop-color="#b7000b"/><stop offset="0.0420" stop-color="#d5000b"/><stop offset="0.0504" stop-color="#fc000b"/><stop offset="0.0588" stop-color="#d5000b"/><stop offset="0.0672" stop-color="#c1000b"/><stop offset="0.0756" stop-color="#ea000b"/><stop offset="0.0840" stop-color="#d6000b"/><stop offset="0.0924" stop-color="#bf000b"/><stop offset="0.1008" stop-color="#cc000b"/><stop offset="0.1092" stop-color="#d2000b"/><stop offset="0.1176" stop-color="#d5000b"/><stop offset="0.1261" stop-color="#a4000b"/><stop offset="0.1345" stop-color="#9a000b"/><stop offset="0.1429" stop-color="#cd000b"/><stop offset="0.1513" stop-color="#d1000b"/><stop offset="0.1597" stop-color="#d7000b"/><stop offset="0.1681" stop-color="#e4000b"/><stop offset="0.1765" stop-color="#e1000b"/><stop offset="0.1849" stop-color="#ef000b"/><stop offset="0.1933" stop-color="#d7000b"/><stop offset="0.2017" stop-color="#d8000b"/><stop offset="0.2101" stop-color="#cf000b"/><stop offset="0.2185" stop-color="#b7000b"/><stop offset="0.2269" stop-color="#bc000b"/><stop offset="0.2353" stop-color="#d5000b"/><stop offset="0.2437" stop-color="#ca000b"/><stop offset="0.2521" stop-color="#cd000b"/><stop offset="0.2605" stop-color="#d1000b"/><stop offset="0.2689" stop-color="#ba000b"/><stop offset="0.2773" stop-color="#d3000b"/><stop offset="0.2857" stop-color="#da000b"/><stop offset="0.2941" stop-color="#d6000b"/><stop offset="0.3025" stop-color="#de000b"/><stop offset="0.3109" stop-color="#ba000b"/><stop offset="0.3193" stop-color="#be000b"/><stop offset="0.3277" stop-color="#bb000b"/><stop offset="0.3361" stop-color="#eb000b"/><stop offset="0.3445" stop-color="#ea000b"/><stop offset="0.3529" stop-color="#cc000b"/><stop offset="0.3613" stop-color="#eb000b"/><stop offset="0.3697" stop-color="#e9000b"/><stop offset="0.3782" stop-color="#e1000b"/><stop offset="0.3866" stop-color="#c9000b"/><stop offset="0.3950" stop-color="#be000b"/><stop offset="0.4034" stop-color="#e5000b"/><stop offset="0.4118" stop-color="#fc000b"/><stop offset="0.4202" stop-color="#ea000b"/><stop offset="0.4286" stop-color="#d7000b"/><stop offset="0.4370" stop-color="#ce000b"/><stop offset="0.4454" stop-color="#c4000b"/><stop offset="0.4538" stop-color="#ce000b"/><stop offset="0.4622" stop-color="#cb000b"/><stop offset="0.4706" stop-color="#d5000b"/><stop offset="0.4790" stop-color="#d6000b"/><stop offset="0.4874" stop-color="#bc000b"/><stop offset="0.4958" stop-color="#ce000b"/><stop offset="0.5042" stop-color="#ee000b"/><stop offset="0.5126" stop-color="#d2000b"/><stop offset="0.5210" stop-color="#a1000b"/><stop offset="0.5294" stop-color="#9c000b"/><stop offset="0.5378" stop-color="#e3000b"/><stop offset="0.5462" stop-color="#d1000b"/><stop offset="0.5546" stop-color="#b3000b"/><stop offset="0.5630" stop-color="#b6000b"/><stop offset="0.5714" stop-color="#c4000b"/><stop offset="0.5798" stop-color="#ba000b"/><stop offset="0.5882" stop-color="#ca000b"/><stop offset="0.5966" stop-color="#d6000b"/><stop offset="0.6050" stop-color="#c7000b"/><stop offset="0.6134" stop-color="#bb000b"/><stop offset="0.6218" stop-color="#c4000b"/><stop offset="0.6303" stop-color="#c3000b"/><stop offset="0.6387" stop-color="#bb000b"/><stop offset="0.6471" stop-color="#a6000b"/><stop offset="0.6555" stop-color="#a6000b"/><stop offset="0.6639" stop-color="#b6000b"/><stop offset="0.6723" stop-color="#c6000b"/><stop offset="0.6807" stop-color="#ce000b"/><stop offset="0.6891" stop-color="#d0000b"/><stop offset="0.6975" stop-color="#c9000b"/><stop offset="0.7059" stop-color="#af000b"/><stop offset="0.7143" stop-color="#b0000b"/><stop offset="0.7227" stop-color="#ad000b"/><stop offset="0.7311" stop-color="#b2000b"/><stop offset="0.7395" stop-color="#b0000b"/><stop offset="0.7479" stop-color="#b4000b"/><stop offset="0.7563" stop-color="#c1000b"/><stop offset="0.7647" stop-color="#c5000b"/><stop offset="0.7731" stop-color="#bb000b"/><stop offset="0.7815" stop-color="#b6000b"/><stop offset="0.7899" stop-color="#ae000b"/><stop offset="0.7983" stop-color="#c0000b"/><stop offset="0.8067" stop-color="#c4000b"/><stop offset="0.8151" stop-color="#b9000b"/><stop offset="0.8235" stop-color="#b2000b"/><stop offset="0.8319" stop-color="#c1000b"/><stop offset="0.8403" stop-color="#c9000b"/><stop offset="0.8487" stop-color="#c7000b"/><stop offset="0.8571" stop-color="#ba000b"/><stop offset="0.8655" stop-color="#c6000b"/><stop offset="0.8739" stop-color="#d0000b"/><stop offset="0.8824" stop-color="#d7000b"/><stop offset="0.8908" stop-color="#db000b"/><stop offset="0.8992" stop-color="#c5000b"/><stop offset="0.9076" stop-color="#be000b"/><stop offset="0.9160" stop-color="#cf000b"/><stop offset="0.9244" stop-color="#c0000b"/><stop offset="0.9328" stop-color="#b3000b"/><stop offset="0.9412" stop-color="#a7000b"/><stop offset="0.9496" stop-color="#c6000b"/><stop offset="0.9580" stop-color="#de000b"/><stop offset="0.9664" stop-color="#dc000b"/><stop offset="0.9748" stop-color="#bc000b"/><stop offset="0.9832" stop-color="#b9000b"/><stop offset="0.9916" stop-color="#ba000b"/><stop offset="1.0000" stop-color="#ab000b"/></linearGradient>
</defs>
<g clip-path="url(#clipf)"><g filter="url(#blf)">
<rect x="301.2" y="303.56" width="219.09999999999997" height="12.89" fill="url(#gf_0)"/>
<rect x="301.2" y="316.04" width="219.09999999999997" height="6.64" fill="url(#gf_1)"/>
<rect x="301.2" y="322.29" width="219.09999999999997" height="6.64" fill="url(#gf_2)"/>
<rect x="301.2" y="328.53" width="219.09999999999997" height="6.64" fill="url(#gf_3)"/>
<rect x="301.2" y="334.77" width="219.09999999999997" height="6.64" fill="url(#gf_4)"/>
<rect x="301.2" y="341.02" width="219.09999999999997" height="6.64" fill="url(#gf_5)"/>
<rect x="301.2" y="347.26" width="219.09999999999997" height="6.64" fill="url(#gf_6)"/>
<rect x="301.2" y="353.51" width="219.09999999999997" height="6.64" fill="url(#gf_7)"/>
<rect x="301.2" y="359.75" width="219.09999999999997" height="6.64" fill="url(#gf_8)"/>
<rect x="301.2" y="365.99" width="219.09999999999997" height="6.64" fill="url(#gf_9)"/>
<rect x="301.2" y="372.24" width="219.09999999999997" height="6.64" fill="url(#gf_10)"/>
<rect x="301.2" y="378.48" width="219.09999999999997" height="6.64" fill="url(#gf_11)"/>
<rect x="301.2" y="384.73" width="219.09999999999997" height="6.64" fill="url(#gf_12)"/>
<rect x="301.2" y="390.97" width="219.09999999999997" height="6.64" fill="url(#gf_13)"/>
<rect x="301.2" y="397.21" width="219.09999999999997" height="6.64" fill="url(#gf_14)"/>
<rect x="301.2" y="403.46" width="219.09999999999997" height="12.89" fill="url(#gf_15)"/>
</g></g>
<defs><linearGradient id="cbf" x1="0" x2="0" y1="0" y2="1"><stop offset="0.000" stop-color="#7f0000"/><stop offset="0.050" stop-color="#b20000"/><stop offset="0.100" stop-color="#e50000"/><stop offset="0.150" stop-color="#ff1900"/><stop offset="0.200" stop-color="#ff4c00"/><stop offset="0.250" stop-color="#ff7f00"/><stop offset="0.300" stop-color="#ffb200"/><stop offset="0.350" stop-color="#ffe500"/><stop offset="0.400" stop-color="#e5ff19"/><stop offset="0.450" stop-color="#b2ff4c"/><stop offset="0.500" stop-color="#7fff7f"/><stop offset="0.550" stop-color="#4cffb2"/><stop offset="0.600" stop-color="#19ffe5"/><stop offset="0.650" stop-color="#00e5ff"/><stop offset="0.700" stop-color="#00b2ff"/><stop offset="0.750" stop-color="#007fff"/><stop offset="0.800" stop-color="#004cff"/><stop offset="0.850" stop-color="#0019ff"/><stop offset="0.900" stop-color="#0000e5"/><stop offset="0.950" stop-color="#0000b2"/><stop offset="1.000" stop-color="#00007f"/></linearGradient></defs>
<rect x="528" y="309.8" width="4.5" height="99.89999999999998" fill="url(#cbf)"/>
<text x="324.68" y="420.10" text-anchor="middle" font-size="8.4">0.5</text>
<text x="362.00" y="420.10" text-anchor="middle" font-size="8.4">1</text>
<text x="402.92" y="420.10" text-anchor="middle" font-size="8.4">1.5</text>
<text x="440.25" y="420.10" text-anchor="middle" font-size="8.4">2</text>
<text x="481.17" y="420.10" text-anchor="middle" font-size="8.4">2.5</text>
<text x="518.50" y="420.10" text-anchor="middle" font-size="8.4">3</text>
<text x="299.00" y="313.60" text-anchor="end" font-size="8.4">500</text>
<text x="299.00" y="338.57" text-anchor="end" font-size="8.4">400</text>
<text x="299.00" y="363.55" text-anchor="end" font-size="8.4">300</text>
<text x="299.00" y="388.53" text-anchor="end" font-size="8.4">200</text>
<text x="299.00" y="413.50" text-anchor="end" font-size="8.4">100</text>
<text x="534.00" y="312.60" font-size="8.4">1</text>
<text x="534.00" y="340.35" font-size="8.4">0.75</text>
<text x="534.00" y="368.10" font-size="8.4">0.5</text>
<text x="534.00" y="395.85" font-size="8.4">0.25</text>
<text x="411.25" y="430.90" text-anchor="middle" font-size="9.8">Wavelength (<tspan font-style="italic" font-weight="normal" style="stroke-width:0.15px" dx="0.8">μ</tspan><tspan dx="0.6">m)</tspan></text>
<text transform="translate(282.60,359.75) rotate(-90)" text-anchor="middle" font-size="9.2" xml:space="preserve">Ground Layer Thickness (nm)</text>
<text x="411.9" y="297" text-anchor="middle" font-size="14">(f)</text>
</svg></body></html>
